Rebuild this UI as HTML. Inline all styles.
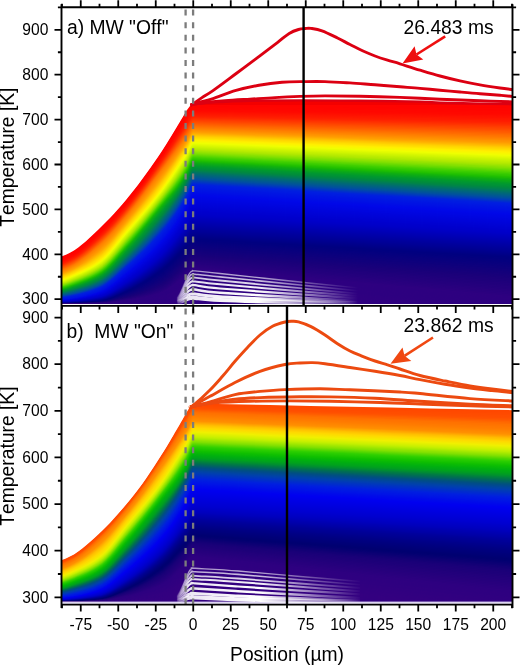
<!DOCTYPE html>
<html><head><meta charset="utf-8"><title>Temperature profiles</title>
<style>html,body{margin:0;padding:0;background:#fff;}svg{display:block;}text{font-kerning:none;}</style></head>
<body>
<svg width="520" height="666" viewBox="0 0 520 666">
<defs>
<clipPath id="ca"><rect x="61.5" y="7.3" width="451.0" height="298.59999999999997"/></clipPath>
<clipPath id="cb"><rect x="61.5" y="305.9" width="451.0" height="298.70000000000005"/></clipPath>
<linearGradient id="fadeA" gradientUnits="userSpaceOnUse" x1="176" y1="0" x2="358" y2="0">
<stop offset="0" stop-color="#fff" stop-opacity="0"/><stop offset="0.066" stop-color="#fff" stop-opacity="0.9"/><stop offset="0.45" stop-color="#fff" stop-opacity="1"/><stop offset="0.75" stop-color="#fff" stop-opacity="0.45"/><stop offset="1" stop-color="#fff" stop-opacity="0"/></linearGradient>
<linearGradient id="fadeB" gradientUnits="userSpaceOnUse" x1="176" y1="0" x2="362" y2="0">
<stop offset="0" stop-color="#fff" stop-opacity="0"/><stop offset="0.065" stop-color="#fff" stop-opacity="0.9"/><stop offset="0.45" stop-color="#fff" stop-opacity="1"/><stop offset="0.75" stop-color="#fff" stop-opacity="0.45"/><stop offset="1" stop-color="#fff" stop-opacity="0"/></linearGradient>
</defs>
<rect width="520" height="666" fill="#fff"/>
<g clip-path="url(#ca)">
<path fill="#ff0300" d="M58.0 258.0L62.0 256.3L66.0 254.7L70.0 252.8L74.0 250.5L78.0 247.8L82.0 244.6L86.0 241.2L90.0 237.5L94.0 233.7L98.0 229.9L102.0 226.1L106.0 222.1L110.0 218.0L114.0 213.7L118.0 209.3L122.0 204.7L126.0 200.0L130.0 195.1L134.0 190.1L138.0 184.9L142.0 179.6L146.0 174.1L150.0 168.5L154.0 162.8L158.0 156.9L162.0 151.0L166.0 144.8L170.0 138.3L172.0 135.0L173.5 132.5L175.0 130.0L176.5 127.5L178.0 125.0L179.5 122.6L181.0 120.1L182.5 117.5L184.0 114.9L185.5 112.4L187.0 110.1L188.5 107.9L190.0 106.0L191.5 104.5L192.0 104.1L193.0 103.5L230.0 103.5L270.0 103.5L310.0 103.5L350.0 103.5L390.0 103.5L430.0 103.5L470.0 103.5L514.0 103.5L514.0 303.5L58.0 303.5Z"/>
<path fill="#ff0400" d="M58.0 258.6L62.0 256.9L66.0 255.3L70.0 253.4L74.0 251.2L78.0 248.4L82.0 245.3L86.0 241.9L90.0 238.2L94.0 234.4L98.0 230.6L102.0 226.8L106.0 222.8L110.0 218.7L114.0 214.4L118.0 210.0L122.0 205.4L126.0 200.7L130.0 195.8L134.0 190.8L138.0 185.6L142.0 180.3L146.0 174.8L150.0 169.2L154.0 163.5L158.0 157.7L162.0 151.8L166.0 145.6L170.0 139.1L172.0 135.8L173.5 133.3L175.0 130.9L176.5 128.4L178.0 126.0L179.5 123.5L181.0 121.0L182.5 118.5L184.0 116.0L185.5 113.5L187.0 111.1L188.5 109.0L190.0 107.0L191.5 105.5L192.0 105.1L193.0 104.5L230.0 104.6L270.0 104.6L310.0 104.7L350.0 104.7L390.0 104.8L430.0 104.9L470.0 104.9L514.0 105.0L514.0 303.5L58.0 303.5Z"/>
<path fill="#ff0400" d="M58.0 259.2L62.0 257.5L66.0 255.9L70.0 254.0L74.0 251.8L78.0 249.1L82.0 245.9L86.0 242.5L90.0 238.9L94.0 235.1L98.0 231.3L102.0 227.5L106.0 223.5L110.0 219.4L114.0 215.1L118.0 210.7L122.0 206.1L126.0 201.4L130.0 196.5L134.0 191.5L138.0 186.3L142.0 181.0L146.0 175.5L150.0 169.9L154.0 164.2L158.0 158.4L162.0 152.5L166.0 146.4L170.0 140.0L172.0 136.7L173.5 134.2L175.0 131.8L176.5 129.3L178.0 126.9L179.5 124.5L181.0 122.0L182.5 119.5L184.0 117.0L185.5 114.5L187.0 112.2L188.5 110.0L190.0 108.0L191.5 106.5L192.0 106.1L193.0 105.5L230.0 105.6L270.0 105.7L310.0 105.9L350.0 106.0L390.0 106.1L430.0 106.2L470.0 106.4L514.0 106.5L514.0 303.5L58.0 303.5Z"/>
<path fill="#ff0500" d="M58.0 259.7L62.0 258.1L66.0 256.5L70.0 254.6L74.0 252.4L78.0 249.7L82.0 246.6L86.0 243.2L90.0 239.6L94.0 235.8L98.0 232.0L102.0 228.2L106.0 224.3L110.0 220.1L114.0 215.8L118.0 211.4L122.0 206.8L126.0 202.1L130.0 197.2L134.0 192.2L138.0 187.0L142.0 181.7L146.0 176.2L150.0 170.6L154.0 164.9L158.0 159.2L162.0 153.3L166.0 147.2L170.0 140.8L172.0 137.6L173.5 135.1L175.0 132.7L176.5 130.3L178.0 127.9L179.5 125.5L181.0 123.0L182.5 120.5L184.0 118.0L185.5 115.6L187.0 113.3L188.5 111.1L190.0 109.1L191.5 107.5L192.0 107.1L193.0 106.5L230.0 106.7L270.0 106.9L310.0 107.0L350.0 107.2L390.0 107.4L430.0 107.6L470.0 107.8L514.0 108.0L514.0 303.5L58.0 303.5Z"/>
<path fill="#ff0600" d="M58.0 260.3L62.0 258.7L66.0 257.1L70.0 255.3L74.0 253.0L78.0 250.3L82.0 247.2L86.0 243.9L90.0 240.3L94.0 236.5L98.0 232.7L102.0 228.9L106.0 225.0L110.0 220.9L114.0 216.5L118.0 212.1L122.0 207.5L126.0 202.8L130.0 197.9L134.0 192.9L138.0 187.7L142.0 182.4L146.0 176.9L150.0 171.3L154.0 165.7L158.0 159.9L162.0 154.1L166.0 148.0L170.0 141.7L172.0 138.5L173.5 136.0L175.0 133.6L176.5 131.2L178.0 128.8L179.5 126.4L181.0 124.0L182.5 121.5L184.0 119.1L185.5 116.6L187.0 114.3L188.5 112.1L190.0 110.1L191.5 108.5L192.0 108.1L193.0 107.5L230.0 107.7L270.0 108.0L310.0 108.2L350.0 108.5L390.0 108.7L430.0 109.0L470.0 109.2L514.0 109.5L514.0 303.5L58.0 303.5Z"/>
<path fill="#ff0700" d="M58.0 260.9L62.0 259.3L66.0 257.7L70.0 255.8L74.0 253.6L78.0 250.9L82.0 247.9L86.0 244.5L90.0 240.9L94.0 237.2L98.0 233.5L102.0 229.7L106.0 225.7L110.0 221.6L114.0 217.3L118.0 212.8L122.0 208.2L126.0 203.5L130.0 198.6L134.0 193.6L138.0 188.4L142.0 183.1L146.0 177.6L150.0 172.1L154.0 166.4L158.0 160.6L162.0 154.8L166.0 148.8L170.0 142.5L172.0 139.3L173.5 136.9L175.0 134.5L176.5 132.1L178.0 129.8L179.5 127.4L181.0 125.0L182.5 122.5L184.0 120.1L185.5 117.7L187.0 115.4L188.5 113.2L190.0 111.1L191.5 109.5L192.0 109.1L193.0 108.5L230.0 108.8L270.0 109.1L310.0 109.4L350.0 109.7L390.0 110.0L430.0 110.3L470.0 110.6L514.0 111.0L514.0 303.5L58.0 303.5Z"/>
<path fill="#ff0800" d="M58.0 261.5L62.0 259.9L66.0 258.3L70.0 256.4L74.0 254.2L78.0 251.5L82.0 248.5L86.0 245.2L90.0 241.6L94.0 237.9L98.0 234.2L102.0 230.4L106.0 226.4L110.0 222.3L114.0 218.0L118.0 213.5L122.0 208.9L126.0 204.2L130.0 199.3L134.0 194.3L138.0 189.1L142.0 183.8L146.0 178.3L150.0 172.8L154.0 167.1L158.0 161.4L162.0 155.6L166.0 149.6L170.0 143.4L172.0 140.2L173.5 137.8L175.0 135.4L176.5 133.1L178.0 130.7L179.5 128.4L181.0 126.0L182.5 123.6L184.0 121.1L185.5 118.7L187.0 116.4L188.5 114.3L190.0 112.2L191.5 110.5L192.0 110.1L193.0 109.5L230.0 109.8L270.0 110.2L310.0 110.6L350.0 110.9L390.0 111.3L430.0 111.7L470.0 112.1L514.0 112.5L514.0 303.5L58.0 303.5Z"/>
<path fill="#ff0a00" d="M58.0 262.0L62.0 260.5L66.0 258.8L70.0 257.0L74.0 254.8L78.0 252.2L82.0 249.1L86.0 245.8L90.0 242.3L94.0 238.6L98.0 234.9L102.0 231.1L106.0 227.1L110.0 223.0L114.0 218.7L118.0 214.2L122.0 209.6L126.0 204.9L130.0 200.0L134.0 195.0L138.0 189.8L142.0 184.5L146.0 179.0L150.0 173.5L154.0 167.8L158.0 162.1L162.0 156.3L166.0 150.4L170.0 144.2L172.0 141.1L173.5 138.7L175.0 136.4L176.5 134.0L178.0 131.7L179.5 129.3L181.0 127.0L182.5 124.6L184.0 122.2L185.5 119.8L187.0 117.5L188.5 115.3L190.0 113.2L191.5 111.6L192.0 111.1L193.0 110.5L230.0 110.9L270.0 111.3L310.0 111.7L350.0 112.2L390.0 112.6L430.0 113.0L470.0 113.4L514.0 113.9L514.0 303.5L58.0 303.5Z"/>
<path fill="#ff0e00" d="M58.0 262.6L62.0 261.0L66.0 259.4L70.0 257.6L74.0 255.4L78.0 252.8L82.0 249.8L86.0 246.5L90.0 242.9L94.0 239.3L98.0 235.6L102.0 231.8L106.0 227.8L110.0 223.7L114.0 219.4L118.0 214.9L122.0 210.3L126.0 205.5L130.0 200.7L134.0 195.7L138.0 190.5L142.0 185.2L146.0 179.7L150.0 174.2L154.0 168.5L158.0 162.8L162.0 157.1L166.0 151.2L170.0 145.1L172.0 141.9L173.5 139.6L175.0 137.3L176.5 134.9L178.0 132.6L179.5 130.3L181.0 128.0L182.5 125.6L184.0 123.2L185.5 120.8L187.0 118.6L188.5 116.4L190.0 114.2L191.5 112.6L192.0 112.1L193.0 111.5L230.0 111.9L270.0 112.4L310.0 112.9L350.0 113.3L390.0 113.8L430.0 114.3L470.0 114.8L514.0 115.3L514.0 303.5L58.0 303.5Z"/>
<path fill="#ff1200" d="M58.0 263.2L62.0 261.6L66.0 260.0L70.0 258.2L74.0 256.0L78.0 253.4L82.0 250.4L86.0 247.1L90.0 243.6L94.0 240.0L98.0 236.2L102.0 232.5L106.0 228.5L110.0 224.4L114.0 220.1L118.0 215.6L122.0 210.9L126.0 206.2L130.0 201.4L134.0 196.3L138.0 191.2L142.0 185.9L146.0 180.4L150.0 174.9L154.0 169.3L158.0 163.6L162.0 157.9L166.0 152.0L170.0 145.9L172.0 142.8L173.5 140.5L175.0 138.2L176.5 135.9L178.0 133.6L179.5 131.3L181.0 128.9L182.5 126.6L184.0 124.2L185.5 121.9L187.0 119.6L188.5 117.4L190.0 115.3L191.5 113.6L192.0 113.2L193.0 112.5L230.0 113.0L270.0 113.5L310.0 114.0L350.0 114.5L390.0 115.0L430.0 115.6L470.0 116.1L514.0 116.6L514.0 303.5L58.0 303.5Z"/>
<path fill="#ff1600" d="M58.0 263.7L62.0 262.2L66.0 260.6L70.0 258.8L74.0 256.6L78.0 254.0L82.0 251.0L86.0 247.7L90.0 244.3L94.0 240.6L98.0 236.9L102.0 233.2L106.0 229.2L110.0 225.1L114.0 220.7L118.0 216.3L122.0 211.6L126.0 206.9L130.0 202.1L134.0 197.0L138.0 191.9L142.0 186.5L146.0 181.1L150.0 175.6L154.0 170.0L158.0 164.3L162.0 158.6L166.0 152.8L170.0 146.7L172.0 143.7L173.5 141.4L175.0 139.1L176.5 136.8L178.0 134.5L179.5 132.2L181.0 129.9L182.5 127.6L184.0 125.3L185.5 122.9L187.0 120.7L188.5 118.5L190.0 116.3L191.5 114.6L192.0 114.2L193.0 113.5L230.0 114.0L270.0 114.6L310.0 115.1L350.0 115.7L390.0 116.3L430.0 116.8L470.0 117.4L514.0 118.0L514.0 303.5L58.0 303.5Z"/>
<path fill="#ff1a00" d="M58.0 264.3L62.0 262.7L66.0 261.1L70.0 259.4L74.0 257.2L78.0 254.6L82.0 251.6L86.0 248.4L90.0 244.9L94.0 241.3L98.0 237.6L102.0 233.9L106.0 229.9L110.0 225.8L114.0 221.4L118.0 216.9L122.0 212.3L126.0 207.6L130.0 202.7L134.0 197.7L138.0 192.5L142.0 187.2L146.0 181.8L150.0 176.3L154.0 170.7L158.0 165.1L162.0 159.4L166.0 153.6L170.0 147.6L172.0 144.6L173.5 142.3L175.0 140.0L176.5 137.7L178.0 135.5L179.5 133.2L181.0 130.9L182.5 128.6L184.0 126.3L185.5 124.0L187.0 121.7L188.5 119.6L190.0 117.3L191.5 115.6L192.0 115.2L193.0 114.5L230.0 115.1L270.0 115.7L310.0 116.3L350.0 116.9L390.0 117.5L430.0 118.1L470.0 118.7L514.0 119.4L514.0 303.5L58.0 303.5Z"/>
<path fill="#ff1e00" d="M58.0 264.8L62.0 263.3L66.0 261.7L70.0 259.9L74.0 257.8L78.0 255.2L82.0 252.2L86.0 249.0L90.0 245.6L94.0 242.0L98.0 238.3L102.0 234.6L106.0 230.6L110.0 226.5L114.0 222.1L118.0 217.6L122.0 213.0L126.0 208.3L130.0 203.4L134.0 198.4L138.0 193.2L142.0 187.9L146.0 182.5L150.0 177.0L154.0 171.4L158.0 165.8L162.0 160.1L166.0 154.4L170.0 148.4L172.0 145.4L173.5 143.2L175.0 140.9L176.5 138.7L178.0 136.4L179.5 134.2L181.0 131.9L182.5 129.6L184.0 127.3L185.5 125.0L187.0 122.8L188.5 120.6L190.0 118.4L191.5 116.6L192.0 116.2L193.0 115.5L230.0 116.1L270.0 116.8L310.0 117.4L350.0 118.1L390.0 118.7L430.0 119.4L470.0 120.0L514.0 120.8L514.0 303.5L58.0 303.5Z"/>
<path fill="#ff2400" d="M58.0 265.4L62.0 263.9L66.0 262.3L70.0 260.5L74.0 258.3L78.0 255.8L82.0 252.8L86.0 249.6L90.0 246.2L94.0 242.6L98.0 239.0L102.0 235.3L106.0 231.3L110.0 227.2L114.0 222.8L118.0 218.3L122.0 213.7L126.0 208.9L130.0 204.1L134.0 199.1L138.0 193.9L142.0 188.6L146.0 183.2L150.0 177.7L154.0 172.1L158.0 166.5L162.0 160.9L166.0 155.2L170.0 149.3L172.0 146.3L173.5 144.1L175.0 141.8L176.5 139.6L178.0 137.3L179.5 135.1L181.0 132.9L182.5 130.6L184.0 128.3L185.5 126.1L187.0 123.8L188.5 121.7L190.0 119.4L191.5 117.6L192.0 117.2L193.0 116.5L230.0 117.1L270.0 117.9L310.0 118.6L350.0 119.3L390.0 120.0L430.0 120.7L470.0 121.4L514.0 122.1L514.0 303.5L58.0 303.5Z"/>
<path fill="#ff2c00" d="M58.0 265.9L62.0 264.4L66.0 262.8L70.0 261.1L74.0 258.9L78.0 256.3L82.0 253.4L86.0 250.2L90.0 246.8L94.0 243.3L98.0 239.7L102.0 235.9L106.0 232.0L110.0 227.9L114.0 223.5L118.0 219.0L122.0 214.3L126.0 209.6L130.0 204.8L134.0 199.8L138.0 194.6L142.0 189.3L146.0 183.9L150.0 178.4L154.0 172.9L158.0 167.3L162.0 161.7L166.0 156.0L170.0 150.1L172.0 147.2L173.5 145.0L175.0 142.7L176.5 140.5L178.0 138.3L179.5 136.1L181.0 133.9L182.5 131.6L184.0 129.4L185.5 127.1L187.0 124.9L188.5 122.7L190.0 120.4L191.5 118.6L192.0 118.2L193.0 117.5L230.0 118.2L270.0 118.9L310.0 119.7L350.0 120.4L390.0 121.2L430.0 121.9L470.0 122.7L514.0 123.5L514.0 303.5L58.0 303.5Z"/>
<path fill="#ff3400" d="M58.0 266.5L62.0 265.0L66.0 263.4L70.0 261.6L74.0 259.5L78.0 256.9L82.0 254.0L86.0 250.9L90.0 247.5L94.0 244.0L98.0 240.3L102.0 236.6L106.0 232.7L110.0 228.5L114.0 224.2L118.0 219.7L122.0 215.0L126.0 210.3L130.0 205.5L134.0 200.4L138.0 195.3L142.0 190.0L146.0 184.6L150.0 179.1L154.0 173.6L158.0 168.0L162.0 162.4L166.0 156.8L170.0 151.0L172.0 148.1L173.5 145.8L175.0 143.6L176.5 141.4L178.0 139.2L179.5 137.0L181.0 134.8L182.5 132.6L184.0 130.4L185.5 128.2L187.0 125.9L188.5 123.8L190.0 121.5L191.5 119.6L192.0 119.2L193.0 118.5L230.0 119.2L270.0 120.0L310.0 120.8L350.0 121.6L390.0 122.4L430.0 123.2L470.0 124.0L514.0 124.9L514.0 303.5L58.0 303.5Z"/>
<path fill="#ff3c00" d="M58.0 267.0L62.0 265.5L66.0 263.9L70.0 262.2L74.0 260.0L78.0 257.5L82.0 254.6L86.0 251.5L90.0 248.1L94.0 244.6L98.0 241.0L102.0 237.3L106.0 233.4L110.0 229.2L114.0 224.9L118.0 220.3L122.0 215.7L126.0 211.0L130.0 206.1L134.0 201.1L138.0 196.0L142.0 190.7L146.0 185.3L150.0 179.8L154.0 174.3L158.0 168.7L162.0 163.2L166.0 157.6L170.0 151.8L172.0 148.9L173.5 146.7L175.0 144.6L176.5 142.4L178.0 140.2L179.5 138.0L181.0 135.8L182.5 133.6L184.0 131.4L185.5 129.2L187.0 127.0L188.5 124.8L190.0 122.5L191.5 120.6L192.0 120.2L193.0 119.5L230.0 120.3L270.0 121.1L310.0 121.9L350.0 122.8L390.0 123.6L430.0 124.5L470.0 125.3L514.0 126.2L514.0 303.5L58.0 303.5Z"/>
<path fill="#ff4400" d="M58.0 267.6L62.0 266.0L66.0 264.5L70.0 262.7L74.0 260.6L78.0 258.1L82.0 255.2L86.0 252.1L90.0 248.8L94.0 245.3L98.0 241.7L102.0 238.0L106.0 234.1L110.0 229.9L114.0 225.5L118.0 221.0L122.0 216.4L126.0 211.6L130.0 206.8L134.0 201.8L138.0 196.6L142.0 191.4L146.0 186.0L150.0 180.5L154.0 175.0L158.0 169.5L162.0 164.0L166.0 158.4L170.0 152.7L172.0 149.8L173.5 147.6L175.0 145.5L176.5 143.3L178.0 141.1L179.5 139.0L181.0 136.8L182.5 134.6L184.0 132.4L185.5 130.2L187.0 128.1L188.5 125.9L190.0 123.5L191.5 121.7L192.0 121.2L193.0 120.5L230.0 121.3L270.0 122.2L310.0 123.1L350.0 124.0L390.0 124.8L430.0 125.7L470.0 126.6L514.0 127.6L514.0 303.5L58.0 303.5Z"/>
<path fill="#ff4c00" d="M58.0 268.1L62.0 266.6L66.0 265.0L70.0 263.3L74.0 261.2L78.0 258.7L82.0 255.8L86.0 252.7L90.0 249.4L94.0 245.9L98.0 242.3L102.0 238.7L106.0 234.7L110.0 230.6L114.0 226.2L118.0 221.7L122.0 217.0L126.0 212.3L130.0 207.5L134.0 202.5L138.0 197.3L142.0 192.0L146.0 186.7L150.0 181.2L154.0 175.7L158.0 170.2L162.0 164.7L166.0 159.2L170.0 153.5L172.0 150.7L173.5 148.5L175.0 146.4L176.5 144.2L178.0 142.1L179.5 139.9L181.0 137.8L182.5 135.6L184.0 133.4L185.5 131.3L187.0 129.1L188.5 126.9L190.0 124.6L191.5 122.7L192.0 122.2L193.0 121.5L230.0 122.4L270.0 123.3L310.0 124.2L350.0 125.1L390.0 126.1L430.0 127.0L470.0 127.9L514.0 128.9L514.0 303.5L58.0 303.5Z"/>
<path fill="#ff5400" d="M58.0 268.6L62.0 267.1L66.0 265.6L70.0 263.8L74.0 261.7L78.0 259.2L82.0 256.4L86.0 253.3L90.0 250.0L94.0 246.5L98.0 243.0L102.0 239.3L106.0 235.4L110.0 231.2L114.0 226.9L118.0 222.3L122.0 217.7L126.0 213.0L130.0 208.1L134.0 203.1L138.0 198.0L142.0 192.7L146.0 187.4L150.0 181.9L154.0 176.4L158.0 171.0L162.0 165.5L166.0 160.0L170.0 154.4L172.0 151.5L173.5 149.4L175.0 147.3L176.5 145.1L178.0 143.0L179.5 140.9L181.0 138.7L182.5 136.6L184.0 134.5L185.5 132.3L187.0 130.1L188.5 128.0L190.0 125.6L191.5 123.7L192.0 123.2L193.0 122.5L230.0 123.4L270.0 124.4L310.0 125.3L350.0 126.3L390.0 127.3L430.0 128.3L470.0 129.2L514.0 130.3L514.0 303.5L58.0 303.5Z"/>
<path fill="#ff5c00" d="M58.0 269.1L62.0 267.7L66.0 266.1L70.0 264.4L74.0 262.3L78.0 259.8L82.0 257.0L86.0 253.9L90.0 250.6L94.0 247.2L98.0 243.6L102.0 240.0L106.0 236.1L110.0 231.9L114.0 227.5L118.0 223.0L122.0 218.3L126.0 213.6L130.0 208.8L134.0 203.8L138.0 198.7L142.0 193.4L146.0 188.0L150.0 182.6L154.0 177.2L158.0 171.7L162.0 166.2L166.0 160.8L170.0 155.2L172.0 152.4L173.5 150.3L175.0 148.2L176.5 146.1L178.0 143.9L179.5 141.8L181.0 139.7L182.5 137.6L184.0 135.5L185.5 133.4L187.0 131.2L188.5 129.0L190.0 126.6L191.5 124.7L192.0 124.2L193.0 123.5L230.0 124.4L270.0 125.5L310.0 126.5L350.0 127.5L390.0 128.5L430.0 129.5L470.0 130.5L514.0 131.7L514.0 303.5L58.0 303.5Z"/>
<path fill="#ff6400" d="M58.0 269.7L62.0 268.2L66.0 266.6L70.0 264.9L74.0 262.8L78.0 260.3L82.0 257.6L86.0 254.5L90.0 251.2L94.0 247.8L98.0 244.3L102.0 240.6L106.0 236.7L110.0 232.6L114.0 228.2L118.0 223.7L122.0 219.0L126.0 214.3L130.0 209.5L134.0 204.5L138.0 199.3L142.0 194.1L146.0 188.7L150.0 183.3L154.0 177.9L158.0 172.4L162.0 167.0L166.0 161.6L170.0 156.0L172.0 153.3L173.5 151.2L175.0 149.1L176.5 147.0L178.0 144.9L179.5 142.8L181.0 140.7L182.5 138.6L184.0 136.5L185.5 134.4L187.0 132.2L188.5 130.1L190.0 127.6L191.5 125.7L192.0 125.2L193.0 124.5L230.0 125.5L270.0 126.5L310.0 127.6L350.0 128.7L390.0 129.7L430.0 130.8L470.0 131.8L514.0 133.0L514.0 303.5L58.0 303.5Z"/>
<path fill="#ff6c00" d="M58.0 270.2L62.0 268.7L66.0 267.2L70.0 265.4L74.0 263.4L78.0 260.9L82.0 258.1L86.0 255.1L90.0 251.9L94.0 248.4L98.0 244.9L102.0 241.3L106.0 237.4L110.0 233.2L114.0 228.9L118.0 224.3L122.0 219.7L126.0 214.9L130.0 210.1L134.0 205.2L138.0 200.0L142.0 194.8L146.0 189.4L150.0 184.0L154.0 178.6L158.0 173.2L162.0 167.8L166.0 162.4L170.0 156.9L172.0 154.1L173.5 152.1L175.0 150.0L176.5 147.9L178.0 145.8L179.5 143.7L181.0 141.7L182.5 139.6L184.0 137.5L185.5 135.4L187.0 133.3L188.5 131.1L190.0 128.7L191.5 126.7L192.0 126.2L193.0 125.5L230.0 126.5L270.0 127.6L310.0 128.7L350.0 129.8L390.0 130.9L430.0 132.0L470.0 133.1L514.0 134.3L514.0 303.5L58.0 303.5Z"/>
<path fill="#ff7400" d="M58.0 270.7L62.0 269.2L66.0 267.7L70.0 266.0L74.0 263.9L78.0 261.5L82.0 258.7L86.0 255.7L90.0 252.5L94.0 249.1L98.0 245.6L102.0 242.0L106.0 238.1L110.0 233.9L114.0 229.5L118.0 225.0L122.0 220.3L126.0 215.6L130.0 210.8L134.0 205.8L138.0 200.7L142.0 195.4L146.0 190.1L150.0 184.7L154.0 179.3L158.0 173.9L162.0 168.5L166.0 163.2L170.0 157.7L172.0 155.0L173.5 153.0L175.0 150.9L176.5 148.8L178.0 146.8L179.5 144.7L181.0 142.6L182.5 140.6L184.0 138.5L185.5 136.5L187.0 134.3L188.5 132.1L190.0 129.7L191.5 127.7L192.0 127.2L193.0 126.5L230.0 127.6L270.0 128.7L310.0 129.8L350.0 131.0L390.0 132.1L430.0 133.3L470.0 134.4L514.0 135.6L514.0 303.5L58.0 303.5Z"/>
<path fill="#ff7c00" d="M58.0 271.2L62.0 269.7L66.0 268.2L70.0 266.5L74.0 264.4L78.0 262.0L82.0 259.3L86.0 256.3L90.0 253.1L94.0 249.7L98.0 246.2L102.0 242.6L106.0 238.7L110.0 234.6L114.0 230.2L118.0 225.6L122.0 221.0L126.0 216.3L130.0 211.5L134.0 206.5L138.0 201.4L142.0 196.1L146.0 190.8L150.0 185.4L154.0 180.0L158.0 174.6L162.0 169.3L166.0 164.0L170.0 158.6L172.0 155.9L173.5 153.8L175.0 151.8L176.5 149.8L178.0 147.7L179.5 145.7L181.0 143.6L182.5 141.6L184.0 139.6L185.5 137.5L187.0 135.4L188.5 133.2L190.0 130.7L191.5 128.7L192.0 128.2L193.0 127.5L230.0 128.6L270.0 129.8L310.0 131.0L350.0 132.1L390.0 133.3L430.0 134.5L470.0 135.7L514.0 137.0L514.0 303.5L58.0 303.5Z"/>
<path fill="#ff8400" d="M58.0 271.8L62.0 270.4L66.0 268.9L70.0 267.2L74.0 265.1L78.0 262.7L82.0 260.1L86.0 257.1L90.0 254.0L94.0 250.6L98.0 247.2L102.0 243.6L106.0 239.8L110.0 235.6L114.0 231.2L118.0 226.6L122.0 221.9L126.0 217.2L130.0 212.4L134.0 207.5L138.0 202.4L142.0 197.2L146.0 191.9L150.0 186.5L154.0 181.2L158.0 175.8L162.0 170.5L166.0 165.1L170.0 159.8L172.0 157.1L173.5 155.0L175.0 153.0L176.5 150.9L178.0 148.9L179.5 146.8L181.0 144.8L182.5 142.8L184.0 140.7L185.5 138.7L187.0 136.5L188.5 134.3L190.0 131.8L191.5 129.7L192.0 129.2L193.0 128.5L230.0 129.6L270.0 130.8L310.0 132.1L350.0 133.3L390.0 134.5L430.0 135.7L470.0 136.9L514.0 138.3L514.0 303.5L58.0 303.5Z"/>
<path fill="#ff8c00" d="M58.0 272.6L62.0 271.2L66.0 269.7L70.0 268.0L74.0 266.0L78.0 263.6L82.0 261.0L86.0 258.2L90.0 255.1L94.0 251.9L98.0 248.5L102.0 245.0L106.0 241.2L110.0 237.0L114.0 232.5L118.0 227.9L122.0 223.2L126.0 218.5L130.0 213.7L134.0 208.8L138.0 203.8L142.0 198.6L146.0 193.4L150.0 188.1L154.0 182.7L158.0 177.4L162.0 172.1L166.0 166.7L170.0 161.3L172.0 158.6L173.5 156.5L175.0 154.4L176.5 152.4L178.0 150.3L179.5 148.2L181.0 146.1L182.5 144.1L184.0 142.0L185.5 139.9L187.0 137.8L188.5 135.5L190.0 132.9L191.5 130.8L192.0 130.3L193.0 129.5L230.0 130.7L270.0 131.9L310.0 133.2L350.0 134.4L390.0 135.7L430.0 137.0L470.0 138.2L514.0 139.6L514.0 303.5L58.0 303.5Z"/>
<path fill="#ff9400" d="M58.0 273.4L62.0 272.0L66.0 270.5L70.0 268.8L74.0 266.8L78.0 264.5L82.0 262.0L86.0 259.2L90.0 256.3L94.0 253.1L98.0 249.9L102.0 246.4L106.0 242.6L110.0 238.4L114.0 233.9L118.0 229.2L122.0 224.5L126.0 219.7L130.0 215.0L134.0 210.1L138.0 205.1L142.0 200.0L146.0 194.8L150.0 189.6L154.0 184.3L158.0 179.0L162.0 173.7L166.0 168.3L170.0 162.8L172.0 160.1L173.5 158.0L175.0 155.9L176.5 153.8L178.0 151.7L179.5 149.6L181.0 147.5L182.5 145.4L184.0 143.3L185.5 141.2L187.0 139.0L188.5 136.7L190.0 134.0L191.5 131.8L192.0 131.3L193.0 130.5L230.0 131.7L270.0 133.0L310.0 134.3L350.0 135.6L390.0 136.9L430.0 138.2L470.0 139.5L514.0 140.9L514.0 303.5L58.0 303.5Z"/>
<path fill="#ff9c00" d="M58.0 274.1L62.0 272.7L66.0 271.3L70.0 269.6L74.0 267.6L78.0 265.4L82.0 262.9L86.0 260.3L90.0 257.4L94.0 254.4L98.0 251.2L102.0 247.8L106.0 244.0L110.0 239.7L114.0 235.2L118.0 230.5L122.0 225.8L126.0 221.0L130.0 216.3L134.0 211.4L138.0 206.5L142.0 201.4L146.0 196.3L150.0 191.1L154.0 185.9L158.0 180.6L162.0 175.3L166.0 169.9L170.0 164.3L172.0 161.5L173.5 159.4L175.0 157.3L176.5 155.2L178.0 153.1L179.5 150.9L181.0 148.8L182.5 146.7L184.0 144.7L185.5 142.5L187.0 140.3L188.5 137.9L190.0 135.2L191.5 132.9L192.0 132.3L193.0 131.5L230.0 132.7L270.0 134.1L310.0 135.4L350.0 136.8L390.0 138.1L430.0 139.4L470.0 140.8L514.0 142.3L514.0 303.5L58.0 303.5Z"/>
<path fill="#ffa600" d="M58.0 274.9L62.0 273.5L66.0 272.0L70.0 270.4L74.0 268.4L78.0 266.3L82.0 263.9L86.0 261.3L90.0 258.6L94.0 255.6L98.0 252.5L102.0 249.1L106.0 245.3L110.0 241.1L114.0 236.5L118.0 231.8L122.0 227.0L126.0 222.2L130.0 217.5L134.0 212.7L138.0 207.8L142.0 202.8L146.0 197.7L150.0 192.6L154.0 187.4L158.0 182.1L162.0 176.8L166.0 171.4L170.0 165.8L172.0 163.0L173.5 160.9L175.0 158.7L176.5 156.6L178.0 154.4L179.5 152.3L181.0 150.2L182.5 148.1L184.0 146.0L185.5 143.8L187.0 141.5L188.5 139.1L190.0 136.3L191.5 133.9L192.0 133.3L193.0 132.5L230.0 133.8L270.0 135.1L310.0 136.5L350.0 137.9L390.0 139.3L430.0 140.6L470.0 142.0L514.0 143.5L514.0 303.5L58.0 303.5Z"/>
<path fill="#ffb200" d="M58.0 275.6L62.0 274.3L66.0 272.8L70.0 271.1L74.0 269.2L78.0 267.1L82.0 264.8L86.0 262.4L90.0 259.7L94.0 256.8L98.0 253.8L102.0 250.5L106.0 246.7L110.0 242.4L114.0 237.9L118.0 233.1L122.0 228.2L126.0 223.5L130.0 218.8L134.0 214.0L138.0 209.1L142.0 204.2L146.0 199.2L150.0 194.1L154.0 188.9L158.0 183.7L162.0 178.4L166.0 172.9L170.0 167.3L172.0 164.5L173.5 162.3L175.0 160.2L176.5 158.0L178.0 155.8L179.5 153.6L181.0 151.5L182.5 149.4L184.0 147.3L185.5 145.1L187.0 142.8L188.5 140.3L190.0 137.4L191.5 135.0L192.0 134.4L193.0 133.5L230.0 134.8L270.0 136.2L310.0 137.6L350.0 139.0L390.0 140.4L430.0 141.7L470.0 143.1L514.0 144.7L514.0 303.5L58.0 303.5Z"/>
<path fill="#ffbe00" d="M58.0 276.4L62.0 275.0L66.0 273.6L70.0 271.9L74.0 270.0L78.0 268.0L82.0 265.8L86.0 263.4L90.0 260.8L94.0 258.0L98.0 255.1L102.0 251.8L106.0 248.0L110.0 243.8L114.0 239.2L118.0 234.3L122.0 229.5L126.0 224.7L130.0 220.0L134.0 215.2L138.0 210.4L142.0 205.6L146.0 200.6L150.0 195.6L154.0 190.5L158.0 185.3L162.0 180.0L166.0 174.5L170.0 168.8L172.0 165.9L173.5 163.8L175.0 161.6L176.5 159.4L178.0 157.2L179.5 155.0L181.0 152.8L182.5 150.7L184.0 148.5L185.5 146.3L187.0 144.0L188.5 141.5L190.0 138.5L191.5 136.0L192.0 135.4L193.0 134.5L230.0 135.8L270.0 137.2L310.0 138.6L350.0 140.0L390.0 141.5L430.0 142.9L470.0 144.3L514.0 145.8L514.0 303.5L58.0 303.5Z"/>
<path fill="#ffca00" d="M58.0 277.1L62.0 275.8L66.0 274.3L70.0 272.7L74.0 270.8L78.0 268.8L82.0 266.7L86.0 264.4L90.0 261.9L94.0 259.2L98.0 256.3L102.0 253.2L106.0 249.4L110.0 245.1L114.0 240.4L118.0 235.6L122.0 230.7L126.0 225.9L130.0 221.2L134.0 216.5L138.0 211.7L142.0 206.9L146.0 202.0L150.0 197.0L154.0 192.0L158.0 186.8L162.0 181.5L166.0 176.0L170.0 170.3L172.0 167.4L173.5 165.2L175.0 163.0L176.5 160.8L178.0 158.5L179.5 156.3L181.0 154.1L182.5 152.0L184.0 149.8L185.5 147.6L187.0 145.2L188.5 142.7L190.0 139.6L191.5 137.0L192.0 136.4L193.0 135.5L230.0 136.8L270.0 138.3L310.0 139.7L350.0 141.1L390.0 142.6L430.0 144.0L470.0 145.4L514.0 147.0L514.0 303.5L58.0 303.5Z"/>
<path fill="#ffd500" d="M58.0 277.8L62.0 276.5L66.0 275.1L70.0 273.4L74.0 271.6L78.0 269.7L82.0 267.6L86.0 265.4L90.0 263.0L94.0 260.4L98.0 257.6L102.0 254.5L106.0 250.7L110.0 246.4L114.0 241.7L118.0 236.8L122.0 231.9L126.0 227.1L130.0 222.4L134.0 217.8L138.0 213.0L142.0 208.3L146.0 203.4L150.0 198.5L154.0 193.5L158.0 188.3L162.0 183.0L166.0 177.5L170.0 171.8L172.0 168.8L173.5 166.6L175.0 164.4L176.5 162.1L178.0 159.9L179.5 157.7L181.0 155.5L182.5 153.3L184.0 151.1L185.5 148.9L187.0 146.5L188.5 143.9L190.0 140.7L191.5 138.1L192.0 137.4L193.0 136.5L230.0 137.8L270.0 139.3L310.0 140.8L350.0 142.2L390.0 143.7L430.0 145.1L470.0 146.6L514.0 148.2L514.0 303.5L58.0 303.5Z"/>
<path fill="#ffde00" d="M58.0 278.6L62.0 277.3L66.0 275.8L70.0 274.2L74.0 272.4L78.0 270.5L82.0 268.5L86.0 266.4L90.0 264.1L94.0 261.6L98.0 258.8L102.0 255.8L106.0 252.0L110.0 247.7L114.0 243.0L118.0 238.1L122.0 233.1L126.0 228.3L130.0 223.7L134.0 219.0L138.0 214.3L142.0 209.6L146.0 204.8L150.0 200.0L154.0 195.0L158.0 189.8L162.0 184.6L166.0 179.0L170.0 173.2L172.0 170.3L173.5 168.0L175.0 165.8L176.5 163.5L178.0 161.3L179.5 159.0L181.0 156.8L182.5 154.6L184.0 152.4L185.5 150.1L187.0 147.7L188.5 145.1L190.0 141.9L191.5 139.1L192.0 138.5L193.0 137.5L230.0 138.9L270.0 140.3L310.0 141.8L350.0 143.3L390.0 144.8L430.0 146.3L470.0 147.7L514.0 149.4L514.0 303.5L58.0 303.5Z"/>
<path fill="#ffe700" d="M58.0 279.3L62.0 278.0L66.0 276.6L70.0 274.9L74.0 273.2L78.0 271.3L82.0 269.4L86.0 267.4L90.0 265.2L94.0 262.7L98.0 260.1L102.0 257.1L106.0 253.3L110.0 249.0L114.0 244.3L118.0 239.3L122.0 234.3L126.0 229.5L130.0 224.9L134.0 220.2L138.0 215.6L142.0 210.9L146.0 206.2L150.0 201.4L154.0 196.4L158.0 191.3L162.0 186.1L166.0 180.5L170.0 174.7L172.0 171.7L173.5 169.4L175.0 167.2L176.5 164.9L178.0 162.6L179.5 160.3L181.0 158.1L182.5 155.9L184.0 153.7L185.5 151.4L187.0 148.9L188.5 146.3L190.0 143.0L191.5 140.2L192.0 139.5L193.0 138.5L230.0 139.9L270.0 141.4L310.0 142.9L350.0 144.4L390.0 145.9L430.0 147.4L470.0 148.9L514.0 150.5L514.0 303.5L58.0 303.5Z"/>
<path fill="#fff000" d="M58.0 280.0L62.0 278.7L66.0 277.3L70.0 275.7L74.0 273.9L78.0 272.1L82.0 270.3L86.0 268.3L90.0 266.2L94.0 263.9L98.0 261.3L102.0 258.3L106.0 254.6L110.0 250.3L114.0 245.5L118.0 240.5L122.0 235.5L126.0 230.7L130.0 226.0L134.0 221.5L138.0 216.9L142.0 212.3L146.0 207.6L150.0 202.8L154.0 197.9L158.0 192.8L162.0 187.6L166.0 182.0L170.0 176.1L172.0 173.1L173.5 170.9L175.0 168.6L176.5 166.2L178.0 163.9L179.5 161.6L181.0 159.4L182.5 157.2L184.0 154.9L185.5 152.6L187.0 150.1L188.5 147.4L190.0 144.1L191.5 141.2L192.0 140.5L193.0 139.5L230.0 140.9L270.0 142.4L310.0 143.9L350.0 145.5L390.0 147.0L430.0 148.5L470.0 150.0L514.0 151.7L514.0 303.5L58.0 303.5Z"/>
<path fill="#faf500" d="M58.0 280.5L62.0 279.2L66.0 277.8L70.0 276.2L74.0 274.5L78.0 272.7L82.0 270.9L86.0 269.0L90.0 266.9L94.0 264.6L98.0 262.0L102.0 259.0L106.0 255.3L110.0 251.0L114.0 246.3L118.0 241.3L122.0 236.3L126.0 231.5L130.0 226.9L134.0 222.3L138.0 217.7L142.0 213.1L146.0 208.4L150.0 203.6L154.0 198.7L158.0 193.6L162.0 188.4L166.0 182.9L170.0 177.1L172.0 174.1L173.5 171.8L175.0 169.5L176.5 167.3L178.0 165.0L179.5 162.7L181.0 160.4L182.5 158.2L184.0 156.0L185.5 153.6L187.0 151.1L188.5 148.4L190.0 145.1L191.5 142.2L192.0 141.5L193.0 140.5L230.0 141.9L270.0 143.5L310.0 145.0L350.0 146.5L390.0 148.1L430.0 149.6L470.0 151.1L514.0 152.8L514.0 303.5L58.0 303.5Z"/>
<path fill="#f5fa00" d="M58.0 281.0L62.0 279.7L66.0 278.4L70.0 276.8L74.0 275.0L78.0 273.3L82.0 271.5L86.0 269.6L90.0 267.5L94.0 265.2L98.0 262.7L102.0 259.7L106.0 256.1L110.0 251.8L114.0 247.1L118.0 242.1L122.0 237.1L126.0 232.3L130.0 227.7L134.0 223.1L138.0 218.5L142.0 213.9L146.0 209.2L150.0 204.4L154.0 199.5L158.0 194.5L162.0 189.2L166.0 183.7L170.0 178.0L172.0 175.0L173.5 172.8L175.0 170.5L176.5 168.3L178.0 166.0L179.5 163.7L181.0 161.4L182.5 159.2L184.0 157.0L185.5 154.6L187.0 152.1L188.5 149.4L190.0 146.0L191.5 143.2L192.0 142.5L193.0 141.5L230.0 142.9L270.0 144.5L310.0 146.0L350.0 147.6L390.0 149.1L430.0 150.7L470.0 152.2L514.0 154.0L514.0 303.5L58.0 303.5Z"/>
<path fill="#efff00" d="M58.0 281.5L62.0 280.3L66.0 278.9L70.0 277.3L74.0 275.6L78.0 273.9L82.0 272.1L86.0 270.2L90.0 268.1L94.0 265.9L98.0 263.3L102.0 260.4L106.0 256.8L110.0 252.5L114.0 247.8L118.0 242.9L122.0 237.9L126.0 233.1L130.0 228.5L134.0 224.0L138.0 219.4L142.0 214.7L146.0 210.0L150.0 205.2L154.0 200.3L158.0 195.3L162.0 190.0L166.0 184.6L170.0 178.9L172.0 176.0L173.5 173.8L175.0 171.5L176.5 169.3L178.0 167.0L179.5 164.7L181.0 162.5L182.5 160.3L184.0 158.0L185.5 155.6L187.0 153.1L188.5 150.4L190.0 147.0L191.5 144.2L192.0 143.5L193.0 142.5L230.0 144.0L270.0 145.5L310.0 147.1L350.0 148.7L390.0 150.2L430.0 151.8L470.0 153.4L514.0 155.1L514.0 303.5L58.0 303.5Z"/>
<path fill="#e6fc00" d="M58.0 281.9L62.0 280.8L66.0 279.4L70.0 277.8L74.0 276.1L78.0 274.4L82.0 272.7L86.0 270.8L90.0 268.8L94.0 266.5L98.0 264.0L102.0 261.1L106.0 257.5L110.0 253.3L114.0 248.6L118.0 243.7L122.0 238.7L126.0 234.0L130.0 229.4L134.0 224.8L138.0 220.2L142.0 215.5L146.0 210.8L150.0 206.0L154.0 201.1L158.0 196.1L162.0 190.9L166.0 185.5L170.0 179.8L172.0 176.9L173.5 174.7L175.0 172.5L176.5 170.3L178.0 168.0L179.5 165.7L181.0 163.5L182.5 161.3L184.0 159.0L185.5 156.7L187.0 154.1L188.5 151.4L190.0 148.0L191.5 145.2L192.0 144.5L193.0 143.5L230.0 145.0L270.0 146.5L310.0 148.1L350.0 149.7L390.0 151.3L430.0 152.9L470.0 154.5L514.0 156.2L514.0 303.5L58.0 303.5Z"/>
<path fill="#ddf900" d="M58.0 282.4L62.0 281.2L66.0 279.9L70.0 278.3L74.0 276.7L78.0 275.0L82.0 273.2L86.0 271.4L90.0 269.4L94.0 267.2L98.0 264.7L102.0 261.8L106.0 258.2L110.0 254.0L114.0 249.3L118.0 244.5L122.0 239.5L126.0 234.8L130.0 230.2L134.0 225.6L138.0 221.0L142.0 216.3L146.0 211.6L150.0 206.8L154.0 201.9L158.0 196.8L162.0 191.7L166.0 186.3L170.0 180.7L172.0 177.9L173.5 175.7L175.0 173.5L176.5 171.3L178.0 169.0L179.5 166.8L181.0 164.5L182.5 162.3L184.0 160.0L185.5 157.7L187.0 155.1L188.5 152.4L190.0 149.0L191.5 146.1L192.0 145.5L193.0 144.5L230.0 146.0L270.0 147.6L310.0 149.2L350.0 150.8L390.0 152.4L430.0 154.0L470.0 155.6L514.0 157.3L514.0 303.5L58.0 303.5Z"/>
<path fill="#d4f600" d="M58.0 282.9L62.0 281.7L66.0 280.4L70.0 278.9L74.0 277.2L78.0 275.5L82.0 273.8L86.0 272.0L90.0 270.0L94.0 267.8L98.0 265.3L102.0 262.5L106.0 258.9L110.0 254.7L114.0 250.1L118.0 245.2L122.0 240.3L126.0 235.6L130.0 231.0L134.0 226.4L138.0 221.8L142.0 217.1L146.0 212.4L150.0 207.6L154.0 202.7L158.0 197.6L162.0 192.5L166.0 187.2L170.0 181.6L172.0 178.8L173.5 176.7L175.0 174.5L176.5 172.3L178.0 170.0L179.5 167.8L181.0 165.6L182.5 163.3L184.0 161.0L185.5 158.7L187.0 156.1L188.5 153.4L190.0 150.0L191.5 147.1L192.0 146.5L193.0 145.5L230.0 147.0L270.0 148.6L310.0 150.2L350.0 151.8L390.0 153.5L430.0 155.1L470.0 156.7L514.0 158.5L514.0 303.5L58.0 303.5Z"/>
<path fill="#cbf300" d="M58.0 283.4L62.0 282.2L66.0 280.9L70.0 279.4L74.0 277.7L78.0 276.1L82.0 274.4L86.0 272.6L90.0 270.6L94.0 268.4L98.0 266.0L102.0 263.2L106.0 259.6L110.0 255.5L114.0 250.9L118.0 246.0L122.0 241.1L126.0 236.4L130.0 231.8L134.0 227.2L138.0 222.6L142.0 217.9L146.0 213.2L150.0 208.4L154.0 203.5L158.0 198.4L162.0 193.3L166.0 188.0L170.0 182.5L172.0 179.7L173.5 177.6L175.0 175.5L176.5 173.3L178.0 171.0L179.5 168.8L181.0 166.6L182.5 164.3L184.0 162.1L185.5 159.7L187.0 157.1L188.5 154.4L190.0 151.0L191.5 148.1L192.0 147.5L193.0 146.5L230.0 148.0L270.0 149.6L310.0 151.3L350.0 152.9L390.0 154.5L430.0 156.2L470.0 157.8L514.0 159.6L514.0 303.5L58.0 303.5Z"/>
<path fill="#c2ef00" d="M58.0 283.8L62.0 282.7L66.0 281.4L70.0 279.9L74.0 278.3L78.0 276.6L82.0 274.9L86.0 273.1L90.0 271.2L94.0 269.1L98.0 266.7L102.0 263.9L106.0 260.3L110.0 256.2L114.0 251.6L118.0 246.8L122.0 241.9L126.0 237.2L130.0 232.6L134.0 228.0L138.0 223.4L142.0 218.7L146.0 214.0L150.0 209.2L154.0 204.2L158.0 199.2L162.0 194.1L166.0 188.9L170.0 183.5L172.0 180.7L173.5 178.6L175.0 176.4L176.5 174.3L178.0 172.1L179.5 169.8L181.0 167.6L182.5 165.4L184.0 163.1L185.5 160.7L187.0 158.1L188.5 155.4L190.0 151.9L191.5 149.1L192.0 148.4L193.0 147.5L230.0 149.0L270.0 150.7L310.0 152.3L350.0 154.0L390.0 155.7L430.0 157.3L470.0 159.0L514.0 160.8L514.0 303.5L58.0 303.5Z"/>
<path fill="#b9ec00" d="M58.0 284.3L62.0 283.2L66.0 281.9L70.0 280.4L74.0 278.8L78.0 277.2L82.0 275.5L86.0 273.7L90.0 271.8L94.0 269.7L98.0 267.3L102.0 264.5L106.0 261.0L110.0 256.9L114.0 252.3L118.0 247.5L122.0 242.7L126.0 238.0L130.0 233.4L134.0 228.8L138.0 224.2L142.0 219.5L146.0 214.8L150.0 209.9L154.0 205.0L158.0 200.0L162.0 194.9L166.0 189.7L170.0 184.4L172.0 181.6L173.5 179.5L175.0 177.4L176.5 175.2L178.0 173.1L179.5 170.8L181.0 168.6L182.5 166.4L184.0 164.1L185.5 161.7L187.0 159.1L188.5 156.4L190.0 152.9L191.5 150.1L192.0 149.4L193.0 148.5L230.0 150.1L270.0 151.8L310.0 153.4L350.0 155.1L390.0 156.8L430.0 158.5L470.0 160.2L514.0 162.1L514.0 303.5L58.0 303.5Z"/>
<path fill="#b0e800" d="M58.0 284.7L62.0 283.6L66.0 282.4L70.0 280.9L74.0 279.3L78.0 277.7L82.0 276.1L86.0 274.3L90.0 272.4L94.0 270.3L98.0 267.9L102.0 265.2L106.0 261.7L110.0 257.6L114.0 253.1L118.0 248.3L122.0 243.4L126.0 238.7L130.0 234.2L134.0 229.6L138.0 225.0L142.0 220.3L146.0 215.5L150.0 210.7L154.0 205.8L158.0 200.8L162.0 195.7L166.0 190.6L170.0 185.3L172.0 182.5L173.5 180.5L175.0 178.4L176.5 176.2L178.0 174.1L179.5 171.8L181.0 169.6L182.5 167.4L184.0 165.1L185.5 162.7L187.0 160.1L188.5 157.3L190.0 153.9L191.5 151.1L192.0 150.4L193.0 149.5L230.0 151.1L270.0 152.8L310.0 154.5L350.0 156.3L390.0 158.0L430.0 159.7L470.0 161.4L514.0 163.3L514.0 303.5L58.0 303.5Z"/>
<path fill="#a2e600" d="M58.0 285.2L62.0 284.1L66.0 282.9L70.0 281.4L74.0 279.8L78.0 278.2L82.0 276.6L86.0 274.9L90.0 273.0L94.0 270.9L98.0 268.6L102.0 265.9L106.0 262.4L110.0 258.3L114.0 253.8L118.0 249.0L122.0 244.2L126.0 239.5L130.0 235.0L134.0 230.4L138.0 225.8L142.0 221.1L146.0 216.3L150.0 211.5L154.0 206.6L158.0 201.6L162.0 196.5L166.0 191.4L170.0 186.2L172.0 183.5L173.5 181.4L175.0 179.3L176.5 177.2L178.0 175.1L179.5 172.9L181.0 170.6L182.5 168.4L184.0 166.1L185.5 163.7L187.0 161.1L188.5 158.3L190.0 154.9L191.5 152.1L192.0 151.4L193.0 150.5L230.0 152.1L270.0 153.9L310.0 155.6L350.0 157.4L390.0 159.2L430.0 160.9L470.0 162.7L514.0 164.6L514.0 303.5L58.0 303.5Z"/>
<path fill="#95e300" d="M58.0 285.6L62.0 284.6L66.0 283.3L70.0 281.9L74.0 280.3L78.0 278.8L82.0 277.1L86.0 275.4L90.0 273.6L94.0 271.5L98.0 269.2L102.0 266.5L106.0 263.1L110.0 259.0L114.0 254.5L118.0 249.8L122.0 245.0L126.0 240.3L130.0 235.8L134.0 231.2L138.0 226.6L142.0 221.9L146.0 217.1L150.0 212.3L154.0 207.4L158.0 202.4L162.0 197.3L166.0 192.3L170.0 187.1L172.0 184.4L173.5 182.4L175.0 180.3L176.5 178.2L178.0 176.1L179.5 173.9L181.0 171.6L182.5 169.4L184.0 167.1L185.5 164.7L187.0 162.1L188.5 159.3L190.0 155.9L191.5 153.1L192.0 152.4L193.0 151.5L230.0 153.2L270.0 155.0L310.0 156.7L350.0 158.5L390.0 160.3L430.0 162.1L470.0 163.9L514.0 165.9L514.0 303.5L58.0 303.5Z"/>
<path fill="#87e100" d="M58.0 286.1L62.0 285.0L66.0 283.8L70.0 282.4L74.0 280.8L78.0 279.3L82.0 277.7L86.0 276.0L90.0 274.2L94.0 272.1L98.0 269.8L102.0 267.2L106.0 263.7L110.0 259.7L114.0 255.2L118.0 250.5L122.0 245.7L126.0 241.1L130.0 236.6L134.0 232.0L138.0 227.4L142.0 222.7L146.0 217.9L150.0 213.0L154.0 208.1L158.0 203.2L162.0 198.2L166.0 193.1L170.0 188.0L172.0 185.3L173.5 183.3L175.0 181.3L176.5 179.2L178.0 177.1L179.5 174.9L181.0 172.7L182.5 170.4L184.0 168.1L185.5 165.7L187.0 163.1L188.5 160.3L190.0 156.9L191.5 154.0L192.0 153.4L193.0 152.5L230.0 154.2L270.0 156.0L310.0 157.8L350.0 159.7L390.0 161.5L430.0 163.3L470.0 165.1L514.0 167.2L514.0 303.5L58.0 303.5Z"/>
<path fill="#78de00" d="M58.0 286.5L62.0 285.5L66.0 284.3L70.0 282.8L74.0 281.3L78.0 279.8L82.0 278.2L86.0 276.5L90.0 274.7L94.0 272.7L98.0 270.4L102.0 267.8L106.0 264.4L110.0 260.4L114.0 255.9L118.0 251.2L122.0 246.5L126.0 241.8L130.0 237.3L134.0 232.8L138.0 228.1L142.0 223.4L146.0 218.6L150.0 213.8L154.0 208.9L158.0 204.0L162.0 199.0L166.0 193.9L170.0 188.9L172.0 186.3L173.5 184.3L175.0 182.2L176.5 180.2L178.0 178.1L179.5 175.9L181.0 173.7L182.5 171.4L184.0 169.1L185.5 166.7L187.0 164.1L188.5 161.3L190.0 157.8L191.5 155.0L192.0 154.4L193.0 153.5L230.0 155.2L270.0 157.1L310.0 158.9L350.0 160.8L390.0 162.7L430.0 164.5L470.0 166.4L514.0 168.4L514.0 303.5L58.0 303.5Z"/>
<path fill="#68da00" d="M58.0 287.0L62.0 285.9L66.0 284.7L70.0 283.3L74.0 281.8L78.0 280.3L82.0 278.7L86.0 277.1L90.0 275.3L94.0 273.3L98.0 271.1L102.0 268.4L106.0 265.1L110.0 261.1L114.0 256.6L118.0 252.0L122.0 247.2L126.0 242.6L130.0 238.1L134.0 233.6L138.0 228.9L142.0 224.2L146.0 219.4L150.0 214.6L154.0 209.7L158.0 204.7L162.0 199.8L166.0 194.8L170.0 189.8L172.0 187.2L173.5 185.2L175.0 183.2L176.5 181.2L178.0 179.0L179.5 176.9L181.0 174.7L182.5 172.4L184.0 170.1L185.5 167.7L187.0 165.1L188.5 162.3L190.0 158.8L191.5 156.0L192.0 155.4L193.0 154.5L230.0 156.3L270.0 158.1L310.0 160.0L350.0 161.9L390.0 163.8L430.0 165.7L470.0 167.6L514.0 169.7L514.0 303.5L58.0 303.5Z"/>
<path fill="#58d600" d="M58.0 287.4L62.0 286.4L66.0 285.2L70.0 283.8L74.0 282.3L78.0 280.8L82.0 279.3L86.0 277.6L90.0 275.9L94.0 273.9L98.0 271.7L102.0 269.1L106.0 265.7L110.0 261.8L114.0 257.3L118.0 252.7L122.0 248.0L126.0 243.4L130.0 238.9L134.0 234.3L138.0 229.7L142.0 225.0L146.0 220.2L150.0 215.3L154.0 210.4L158.0 205.5L162.0 200.6L166.0 195.6L170.0 190.6L172.0 188.1L173.5 186.2L175.0 184.2L176.5 182.1L178.0 180.0L179.5 177.9L181.0 175.7L182.5 173.4L184.0 171.1L185.5 168.6L187.0 166.0L188.5 163.3L190.0 159.8L191.5 157.0L192.0 156.4L193.0 155.5L230.0 157.3L270.0 159.2L310.0 161.1L350.0 163.1L390.0 165.0L430.0 166.9L470.0 168.8L514.0 171.0L514.0 303.5L58.0 303.5Z"/>
<path fill="#48d200" d="M58.0 287.8L62.0 286.8L66.0 285.6L70.0 284.3L74.0 282.8L78.0 281.3L82.0 279.8L86.0 278.2L90.0 276.4L94.0 274.5L98.0 272.3L102.0 269.7L106.0 266.4L110.0 262.4L114.0 258.0L118.0 253.4L122.0 248.7L126.0 244.1L130.0 239.7L134.0 235.1L138.0 230.5L142.0 225.7L146.0 220.9L150.0 216.1L154.0 211.2L158.0 206.3L162.0 201.4L166.0 196.5L170.0 191.5L172.0 189.0L173.5 187.1L175.0 185.1L176.5 183.1L178.0 181.0L179.5 178.9L181.0 176.7L182.5 174.4L184.0 172.1L185.5 169.6L187.0 167.0L188.5 164.2L190.0 160.8L191.5 158.0L192.0 157.4L193.0 156.5L230.0 158.3L270.0 160.3L310.0 162.2L350.0 164.2L390.0 166.2L430.0 168.1L470.0 170.1L514.0 172.2L514.0 303.5L58.0 303.5Z"/>
<path fill="#3bcd00" d="M58.0 288.3L62.0 287.3L66.0 286.1L70.0 284.7L74.0 283.3L78.0 281.8L82.0 280.3L86.0 278.7L90.0 277.0L94.0 275.0L98.0 272.9L102.0 270.3L106.0 267.0L110.0 263.1L114.0 258.7L118.0 254.1L122.0 249.4L126.0 244.9L130.0 240.4L134.0 235.9L138.0 231.2L142.0 226.5L146.0 221.7L150.0 216.9L154.0 212.0L158.0 207.1L162.0 202.2L166.0 197.3L170.0 192.4L172.0 189.9L173.5 188.0L175.0 186.1L176.5 184.1L178.0 182.0L179.5 179.9L181.0 177.7L182.5 175.4L184.0 173.1L185.5 170.6L187.0 168.0L188.5 165.2L190.0 161.8L191.5 159.0L192.0 158.4L193.0 157.5L230.0 159.3L270.0 161.3L310.0 163.3L350.0 165.3L390.0 167.3L430.0 169.3L470.0 171.3L514.0 173.5L514.0 303.5L58.0 303.5Z"/>
<path fill="#30c800" d="M58.0 288.7L62.0 287.7L66.0 286.5L70.0 285.2L74.0 283.7L78.0 282.3L82.0 280.8L86.0 279.2L90.0 277.5L94.0 275.6L98.0 273.5L102.0 270.9L106.0 267.7L110.0 263.8L114.0 259.4L118.0 254.8L122.0 250.2L126.0 245.6L130.0 241.2L134.0 236.6L138.0 232.0L142.0 227.3L146.0 222.5L150.0 217.6L154.0 212.7L158.0 207.8L162.0 203.0L166.0 198.1L170.0 193.3L172.0 190.9L173.5 189.0L175.0 187.0L176.5 185.0L178.0 183.0L179.5 180.9L181.0 178.7L182.5 176.4L184.0 174.1L185.5 171.6L187.0 169.0L188.5 166.2L190.0 162.8L191.5 160.0L192.0 159.4L193.0 158.5L230.0 160.4L270.0 162.4L310.0 164.4L350.0 166.5L390.0 168.5L430.0 170.5L470.0 172.6L514.0 174.8L514.0 303.5L58.0 303.5Z"/>
<path fill="#25c300" d="M58.0 289.1L62.0 288.1L66.0 287.0L70.0 285.6L74.0 284.2L78.0 282.8L82.0 281.3L86.0 279.8L90.0 278.1L94.0 276.2L98.0 274.0L102.0 271.5L106.0 268.3L110.0 264.4L114.0 260.1L118.0 255.5L122.0 250.9L126.0 246.3L130.0 241.9L134.0 237.4L138.0 232.7L142.0 228.0L146.0 223.2L150.0 218.4L154.0 213.5L158.0 208.6L162.0 203.7L166.0 199.0L170.0 194.2L172.0 191.8L173.5 189.9L175.0 188.0L176.5 186.0L178.0 184.0L179.5 181.9L181.0 179.7L182.5 177.4L184.0 175.1L185.5 172.6L187.0 170.0L188.5 167.2L190.0 163.7L191.5 161.0L192.0 160.3L193.0 159.5L230.0 161.4L270.0 163.5L310.0 165.5L350.0 167.6L390.0 169.7L430.0 171.7L470.0 173.8L514.0 176.1L514.0 303.5L58.0 303.5Z"/>
<path fill="#1cbc04" d="M58.0 289.5L62.0 288.5L66.0 287.4L70.0 286.1L74.0 284.7L78.0 283.3L82.0 281.8L86.0 280.3L90.0 278.6L94.0 276.7L98.0 274.6L102.0 272.1L106.0 268.9L110.0 265.1L114.0 260.8L118.0 256.2L122.0 251.6L126.0 247.1L130.0 242.7L134.0 238.1L138.0 233.5L142.0 228.8L146.0 224.0L150.0 219.1L154.0 214.3L158.0 209.4L162.0 204.5L166.0 199.8L170.0 195.1L172.0 192.7L173.5 190.8L175.0 188.9L176.5 187.0L178.0 185.0L179.5 182.8L181.0 180.7L182.5 178.4L184.0 176.1L185.5 173.6L187.0 171.0L188.5 168.2L190.0 164.7L191.5 161.9L192.0 161.3L193.0 160.5L230.0 162.4L270.0 164.5L310.0 166.6L350.0 168.7L390.0 170.8L430.0 172.9L470.0 175.0L514.0 177.3L514.0 303.5L58.0 303.5Z"/>
<path fill="#14b40c" d="M58.0 289.9L62.0 289.0L66.0 287.9L70.0 286.5L74.0 285.1L78.0 283.7L82.0 282.3L86.0 280.8L90.0 279.1L94.0 277.3L98.0 275.2L102.0 272.7L106.0 269.5L110.0 265.7L114.0 261.4L118.0 256.9L122.0 252.3L126.0 247.8L130.0 243.4L134.0 238.9L138.0 234.2L142.0 229.5L146.0 224.7L150.0 219.9L154.0 215.0L158.0 210.2L162.0 205.3L166.0 200.6L170.0 196.0L172.0 193.6L173.5 191.8L175.0 189.9L176.5 187.9L178.0 185.9L179.5 183.8L181.0 181.7L182.5 179.4L184.0 177.1L185.5 174.6L187.0 172.0L188.5 169.2L190.0 165.7L191.5 162.9L192.0 162.3L193.0 161.5L230.0 163.5L270.0 165.6L310.0 167.7L350.0 169.8L390.0 171.9L430.0 174.0L470.0 176.2L514.0 178.5L514.0 303.5L58.0 303.5Z"/>
<path fill="#0ead14" d="M58.0 290.3L62.0 289.4L66.0 288.3L70.0 287.0L74.0 285.6L78.0 284.2L82.0 282.8L86.0 281.3L90.0 279.7L94.0 277.9L98.0 275.8L102.0 273.4L106.0 270.2L110.0 266.4L114.0 262.2L118.0 257.7L122.0 253.1L126.0 248.7L130.0 244.3L134.0 239.8L138.0 235.2L142.0 230.5L146.0 225.7L150.0 220.9L154.0 216.0L158.0 211.2L162.0 206.4L166.0 201.7L170.0 197.0L172.0 194.6L173.5 192.8L175.0 190.9L176.5 189.0L178.0 187.0L179.5 184.9L181.0 182.7L182.5 180.4L184.0 178.1L185.5 175.6L187.0 173.0L188.5 170.2L190.0 166.7L191.5 163.9L192.0 163.3L193.0 162.5L230.0 164.5L270.0 166.6L310.0 168.8L350.0 170.9L390.0 173.0L430.0 175.2L470.0 177.3L514.0 179.7L514.0 303.5L58.0 303.5Z"/>
<path fill="#0aa71c" d="M58.0 290.7L62.0 289.8L66.0 288.7L70.0 287.5L74.0 286.1L78.0 284.8L82.0 283.4L86.0 281.9L90.0 280.3L94.0 278.5L98.0 276.5L102.0 274.1L106.0 271.0L110.0 267.2L114.0 263.0L118.0 258.6L122.0 254.1L126.0 249.7L130.0 245.3L134.0 240.9L138.0 236.3L142.0 231.6L146.0 226.9L150.0 222.1L154.0 217.3L158.0 212.5L162.0 207.7L166.0 202.9L170.0 198.2L172.0 195.8L173.5 193.9L175.0 192.0L176.5 190.1L178.0 188.0L179.5 185.9L181.0 183.7L182.5 181.5L184.0 179.1L185.5 176.6L187.0 174.0L188.5 171.2L190.0 167.7L191.5 164.9L192.0 164.3L193.0 163.5L230.0 165.5L270.0 167.7L310.0 169.8L350.0 172.0L390.0 174.2L430.0 176.3L470.0 178.5L514.0 180.9L514.0 303.5L58.0 303.5Z"/>
<path fill="#06a124" d="M58.0 291.1L62.0 290.2L66.0 289.2L70.0 287.9L74.0 286.6L78.0 285.3L82.0 283.9L86.0 282.5L90.0 280.9L94.0 279.1L98.0 277.1L102.0 274.8L106.0 271.7L110.0 268.0L114.0 263.9L118.0 259.5L122.0 255.0L126.0 250.6L130.0 246.3L134.0 241.9L138.0 237.4L142.0 232.8L146.0 228.1L150.0 223.4L154.0 218.6L158.0 213.8L162.0 208.9L166.0 204.2L170.0 199.4L172.0 196.9L173.5 195.1L175.0 193.1L176.5 191.1L178.0 189.1L179.5 187.0L181.0 184.8L182.5 182.5L184.0 180.1L185.5 177.7L187.0 175.0L188.5 172.2L190.0 168.7L191.5 165.9L192.0 165.3L193.0 164.5L230.0 166.5L270.0 168.7L310.0 170.9L350.0 173.1L390.0 175.3L430.0 177.5L470.0 179.7L514.0 182.1L514.0 303.5L58.0 303.5Z"/>
<path fill="#029b2c" d="M58.0 291.5L62.0 290.6L66.0 289.6L70.0 288.4L74.0 287.1L78.0 285.8L82.0 284.4L86.0 283.0L90.0 281.5L94.0 279.7L98.0 277.8L102.0 275.4L106.0 272.4L110.0 268.8L114.0 264.7L118.0 260.3L122.0 255.9L126.0 251.6L130.0 247.4L134.0 243.0L138.0 238.5L142.0 234.0L146.0 229.3L150.0 224.6L154.0 219.8L158.0 215.0L162.0 210.2L166.0 205.4L170.0 200.6L172.0 198.1L173.5 196.2L175.0 194.2L176.5 192.2L178.0 190.2L179.5 188.0L181.0 185.8L182.5 183.5L184.0 181.2L185.5 178.7L187.0 176.0L188.5 173.2L190.0 169.7L191.5 166.9L192.0 166.3L193.0 165.5L230.0 167.5L270.0 169.8L310.0 172.0L350.0 174.2L390.0 176.4L430.0 178.6L470.0 180.8L514.0 183.3L514.0 303.5L58.0 303.5Z"/>
<path fill="#009633" d="M58.0 291.9L62.0 291.0L66.0 290.0L70.0 288.8L74.0 287.5L78.0 286.3L82.0 285.0L86.0 283.6L90.0 282.0L94.0 280.3L98.0 278.4L102.0 276.1L106.0 273.1L110.0 269.5L114.0 265.5L118.0 261.2L122.0 256.8L126.0 252.6L130.0 248.4L134.0 244.0L138.0 239.6L142.0 235.1L146.0 230.5L150.0 225.8L154.0 221.1L158.0 216.3L162.0 211.4L166.0 206.6L170.0 201.7L172.0 199.2L173.5 197.3L175.0 195.3L176.5 193.3L178.0 191.2L179.5 189.0L181.0 186.8L182.5 184.6L184.0 182.2L185.5 179.7L187.0 177.1L188.5 174.2L190.0 170.7L191.5 167.9L192.0 167.3L193.0 166.5L230.0 168.6L270.0 170.8L310.0 173.1L350.0 175.3L390.0 177.5L430.0 179.8L470.0 182.0L514.0 184.5L514.0 303.5L58.0 303.5Z"/>
<path fill="#009138" d="M58.0 292.2L62.0 291.4L66.0 290.4L70.0 289.3L74.0 288.0L78.0 286.8L82.0 285.5L86.0 284.1L90.0 282.6L94.0 280.9L98.0 279.0L102.0 276.8L106.0 273.8L110.0 270.3L114.0 266.3L118.0 262.1L122.0 257.7L126.0 253.5L130.0 249.4L134.0 245.1L138.0 240.7L142.0 236.2L146.0 231.7L150.0 227.0L154.0 222.3L158.0 217.5L162.0 212.7L166.0 207.8L170.0 202.9L172.0 200.4L173.5 198.4L175.0 196.4L176.5 194.4L178.0 192.3L179.5 190.1L181.0 187.9L182.5 185.6L184.0 183.2L185.5 180.7L187.0 178.1L188.5 175.2L190.0 171.7L191.5 168.9L192.0 168.3L193.0 167.5L230.0 169.6L270.0 171.9L310.0 174.1L350.0 176.4L390.0 178.7L430.0 180.9L470.0 183.2L514.0 185.7L514.0 303.5L58.0 303.5Z"/>
<path fill="#008c3d" d="M58.0 292.6L62.0 291.8L66.0 290.9L70.0 289.7L74.0 288.5L78.0 287.2L82.0 286.0L86.0 284.6L90.0 283.2L94.0 281.5L98.0 279.6L102.0 277.4L106.0 274.5L110.0 271.0L114.0 267.1L118.0 262.9L122.0 258.6L126.0 254.4L130.0 250.3L134.0 246.1L138.0 241.8L142.0 237.4L146.0 232.8L150.0 228.2L154.0 223.5L158.0 218.8L162.0 213.9L166.0 209.1L170.0 204.1L172.0 201.5L173.5 199.5L175.0 197.5L176.5 195.4L178.0 193.3L179.5 191.1L181.0 188.9L182.5 186.6L184.0 184.2L185.5 181.7L187.0 179.1L188.5 176.2L190.0 172.7L191.5 169.8L192.0 169.3L193.0 168.5L230.0 170.6L270.0 172.9L310.0 175.2L350.0 177.5L390.0 179.8L430.0 182.1L470.0 184.4L514.0 186.9L514.0 303.5L58.0 303.5Z"/>
<path fill="#008646" d="M58.0 293.0L62.0 292.2L66.0 291.3L70.0 290.1L74.0 288.9L78.0 287.7L82.0 286.5L86.0 285.2L90.0 283.7L94.0 282.1L98.0 280.3L102.0 278.1L106.0 275.2L110.0 271.8L114.0 267.9L118.0 263.7L122.0 259.5L126.0 255.4L130.0 251.3L134.0 247.1L138.0 242.9L142.0 238.5L146.0 234.0L150.0 229.4L154.0 224.7L158.0 220.0L162.0 215.2L166.0 210.3L170.0 205.2L172.0 202.6L173.5 200.6L175.0 198.6L176.5 196.5L178.0 194.4L179.5 192.2L181.0 189.9L182.5 187.6L184.0 185.3L185.5 182.8L187.0 180.1L188.5 177.2L190.0 173.6L191.5 170.8L192.0 170.2L193.0 169.5L230.0 171.6L270.0 174.0L310.0 176.3L350.0 178.6L390.0 180.9L430.0 183.2L470.0 185.5L514.0 188.1L514.0 303.5L58.0 303.5Z"/>
<path fill="#008051" d="M58.0 293.3L62.0 292.6L66.0 291.7L70.0 290.6L74.0 289.4L78.0 288.2L82.0 287.0L86.0 285.7L90.0 284.3L94.0 282.7L98.0 280.9L102.0 278.7L106.0 275.9L110.0 272.5L114.0 268.7L118.0 264.6L122.0 260.4L126.0 256.3L130.0 252.3L134.0 248.2L138.0 243.9L142.0 239.6L146.0 235.1L150.0 230.6L154.0 226.0L158.0 221.2L162.0 216.4L166.0 211.5L170.0 206.4L172.0 203.8L173.5 201.7L175.0 199.7L176.5 197.6L178.0 195.4L179.5 193.2L181.0 190.9L182.5 188.7L184.0 186.3L185.5 183.8L187.0 181.1L188.5 178.3L190.0 174.6L191.5 171.8L192.0 171.2L193.0 170.5L230.0 172.7L270.0 175.0L310.0 177.3L350.0 179.7L390.0 182.0L430.0 184.4L470.0 186.7L514.0 189.3L514.0 303.5L58.0 303.5Z"/>
<path fill="#00785d" d="M58.0 293.7L62.0 293.0L66.0 292.1L70.0 291.0L74.0 289.8L78.0 288.7L82.0 287.5L86.0 286.2L90.0 284.8L94.0 283.3L98.0 281.5L102.0 279.4L106.0 276.6L110.0 273.2L114.0 269.4L118.0 265.4L122.0 261.3L126.0 257.2L130.0 253.2L134.0 249.2L138.0 245.0L142.0 240.7L146.0 236.3L150.0 231.8L154.0 227.1L158.0 222.4L162.0 217.6L166.0 212.7L170.0 207.5L172.0 204.9L173.5 202.8L175.0 200.8L176.5 198.6L178.0 196.5L179.5 194.2L181.0 192.0L182.5 189.7L184.0 187.3L185.5 184.8L187.0 182.1L188.5 179.3L190.0 175.6L191.5 172.8L192.0 172.2L193.0 171.5L230.0 173.7L270.0 176.0L310.0 178.4L350.0 180.8L390.0 183.1L430.0 185.5L470.0 187.9L514.0 190.5L514.0 303.5L58.0 303.5Z"/>
<path fill="#007268" d="M58.0 294.1L62.0 293.3L66.0 292.5L70.0 291.4L74.0 290.3L78.0 289.1L82.0 288.0L86.0 286.7L90.0 285.4L94.0 283.8L98.0 282.1L102.0 280.0L106.0 277.3L110.0 273.9L114.0 270.2L118.0 266.2L122.0 262.1L126.0 258.1L130.0 254.2L134.0 250.1L138.0 246.0L142.0 241.8L146.0 237.4L150.0 232.9L154.0 228.3L158.0 223.6L162.0 218.8L166.0 213.8L170.0 208.7L172.0 206.0L173.5 203.9L175.0 201.8L176.5 199.7L178.0 197.5L179.5 195.2L181.0 193.0L182.5 190.7L184.0 188.3L185.5 185.8L187.0 183.1L188.5 180.3L190.0 176.6L191.5 173.8L192.0 173.2L193.0 172.5L230.0 174.7L270.0 177.1L310.0 179.5L350.0 181.9L390.0 184.3L430.0 186.6L470.0 189.0L514.0 191.7L514.0 303.5L58.0 303.5Z"/>
<path fill="#006b73" d="M58.0 294.4L62.0 293.7L66.0 292.9L70.0 291.8L74.0 290.7L78.0 289.6L82.0 288.5L86.0 287.2L90.0 285.9L94.0 284.4L98.0 282.7L102.0 280.6L106.0 277.9L110.0 274.6L114.0 270.9L118.0 267.0L122.0 262.9L126.0 259.0L130.0 255.1L134.0 251.1L138.0 247.0L142.0 242.8L146.0 238.4L150.0 234.0L154.0 229.5L158.0 224.8L162.0 220.0L166.0 215.0L170.0 209.8L172.0 207.1L173.5 205.0L175.0 202.9L176.5 200.8L178.0 198.6L179.5 196.3L181.0 194.0L182.5 191.7L184.0 189.4L185.5 186.8L187.0 184.2L188.5 181.3L190.0 177.6L191.5 174.8L192.0 174.2L193.0 173.5L230.0 175.7L270.0 178.1L310.0 180.5L350.0 182.9L390.0 185.3L430.0 187.7L470.0 190.1L514.0 192.8L514.0 303.5L58.0 303.5Z"/>
<path fill="#00667c" d="M58.0 294.8L62.0 294.1L66.0 293.3L70.0 292.3L74.0 291.2L78.0 290.1L82.0 289.0L86.0 287.8L90.0 286.4L94.0 284.9L98.0 283.2L102.0 281.2L106.0 278.5L110.0 275.3L114.0 271.6L118.0 267.7L122.0 263.7L126.0 259.8L130.0 255.9L134.0 251.9L138.0 247.9L142.0 243.7L146.0 239.4L150.0 235.0L154.0 230.5L158.0 225.9L162.0 221.1L166.0 216.1L170.0 210.9L172.0 208.2L173.5 206.2L175.0 204.0L176.5 201.9L178.0 199.7L179.5 197.4L181.0 195.2L182.5 192.8L184.0 190.4L185.5 187.9L187.0 185.2L188.5 182.3L190.0 178.6L191.5 175.8L192.0 175.2L193.0 174.5L230.0 176.7L270.0 179.1L310.0 181.5L350.0 183.9L390.0 186.3L430.0 188.7L470.0 191.1L514.0 193.7L514.0 303.5L58.0 303.5Z"/>
<path fill="#006085" d="M58.0 295.1L62.0 294.5L66.0 293.7L70.0 292.7L74.0 291.7L78.0 290.6L82.0 289.5L86.0 288.3L90.0 287.0L94.0 285.5L98.0 283.8L102.0 281.8L106.0 279.1L110.0 275.9L114.0 272.3L118.0 268.4L122.0 264.4L126.0 260.5L130.0 256.7L134.0 252.8L138.0 248.8L142.0 244.6L146.0 240.4L150.0 236.0L154.0 231.5L158.0 226.9L162.0 222.2L166.0 217.2L170.0 212.0L172.0 209.3L173.5 207.3L175.0 205.2L176.5 203.0L178.0 200.8L179.5 198.5L181.0 196.2L182.5 193.9L184.0 191.5L185.5 188.9L187.0 186.2L188.5 183.3L190.0 179.7L191.5 176.8L192.0 176.2L193.0 175.5L230.0 177.7L270.0 180.1L310.0 182.5L350.0 184.9L390.0 187.3L430.0 189.7L470.0 192.1L514.0 194.7L514.0 303.5L58.0 303.5Z"/>
<path fill="#005b8e" d="M58.0 295.5L62.0 294.8L66.0 294.1L70.0 293.1L74.0 292.1L78.0 291.1L82.0 290.0L86.0 288.8L90.0 287.5L94.0 286.0L98.0 284.3L102.0 282.4L106.0 279.8L110.0 276.6L114.0 273.0L118.0 269.1L122.0 265.2L126.0 261.3L130.0 257.5L134.0 253.6L138.0 249.7L142.0 245.6L146.0 241.4L150.0 237.0L154.0 232.6L158.0 228.0L162.0 223.2L166.0 218.3L170.0 213.2L172.0 210.5L173.5 208.4L175.0 206.3L176.5 204.1L178.0 201.9L179.5 199.6L181.0 197.3L182.5 195.0L184.0 192.5L185.5 190.0L187.0 187.2L188.5 184.3L190.0 180.7L191.5 177.8L192.0 177.3L193.0 176.5L230.0 178.7L270.0 181.1L310.0 183.5L350.0 185.9L390.0 188.3L430.0 190.7L470.0 193.1L514.0 195.7L514.0 303.5L58.0 303.5Z"/>
<path fill="#005597" d="M58.0 295.8L62.0 295.2L66.0 294.5L70.0 293.5L74.0 292.6L78.0 291.5L82.0 290.5L86.0 289.3L90.0 288.0L94.0 286.5L98.0 284.9L102.0 282.9L106.0 280.4L110.0 277.2L114.0 273.6L118.0 269.8L122.0 265.9L126.0 262.1L130.0 258.3L134.0 254.5L138.0 250.5L142.0 246.5L146.0 242.3L150.0 238.0L154.0 233.6L158.0 229.0L162.0 224.3L166.0 219.4L170.0 214.3L172.0 211.6L173.5 209.5L175.0 207.4L176.5 205.2L178.0 203.0L179.5 200.7L181.0 198.4L182.5 196.1L184.0 193.6L185.5 191.0L187.0 188.3L188.5 185.3L190.0 181.7L191.5 178.9L192.0 178.3L193.0 177.5L230.0 179.7L270.0 182.1L310.0 184.5L350.0 186.9L390.0 189.3L430.0 191.7L470.0 194.1L514.0 196.7L514.0 303.5L58.0 303.5Z"/>
<path fill="#0050a0" d="M58.0 296.2L62.0 295.6L66.0 294.8L70.0 294.0L74.0 293.0L78.0 292.0L82.0 290.9L86.0 289.8L90.0 288.5L94.0 287.1L98.0 285.4L102.0 283.5L106.0 280.9L110.0 277.8L114.0 274.3L118.0 270.5L122.0 266.6L126.0 262.8L130.0 259.1L134.0 255.3L138.0 251.4L142.0 247.4L146.0 243.3L150.0 239.0L154.0 234.6L158.0 230.1L162.0 225.4L166.0 220.5L170.0 215.4L172.0 212.7L173.5 210.6L175.0 208.5L176.5 206.3L178.0 204.1L179.5 201.8L181.0 199.5L182.5 197.1L184.0 194.6L185.5 192.0L187.0 189.3L188.5 186.3L190.0 182.7L191.5 179.9L192.0 179.3L193.0 178.5L230.0 180.7L270.0 183.1L310.0 185.5L350.0 187.9L390.0 190.3L430.0 192.7L470.0 195.1L514.0 197.7L514.0 303.5L58.0 303.5Z"/>
<path fill="#0047ac" d="M58.0 296.5L62.0 295.9L66.0 295.2L70.0 294.4L74.0 293.4L78.0 292.5L82.0 291.4L86.0 290.3L90.0 289.0L94.0 287.6L98.0 286.0L102.0 284.1L106.0 281.5L110.0 278.4L114.0 274.9L118.0 271.2L122.0 267.4L126.0 263.6L130.0 259.9L134.0 256.1L138.0 252.3L142.0 248.3L146.0 244.2L150.0 240.0L154.0 235.6L158.0 231.1L162.0 226.5L166.0 221.6L170.0 216.5L172.0 213.8L173.5 211.7L175.0 209.6L176.5 207.4L178.0 205.2L179.5 202.9L181.0 200.6L182.5 198.2L184.0 195.7L185.5 193.1L187.0 190.3L188.5 187.3L190.0 183.7L191.5 180.9L192.0 180.3L193.0 179.5L230.0 181.7L270.0 184.1L310.0 186.5L350.0 188.9L390.0 191.3L430.0 193.7L470.0 196.1L514.0 198.7L514.0 303.5L58.0 303.5Z"/>
<path fill="#003fb7" d="M58.0 296.8L62.0 296.3L66.0 295.6L70.0 294.8L74.0 293.9L78.0 292.9L82.0 291.9L86.0 290.8L90.0 289.5L94.0 288.1L98.0 286.5L102.0 284.6L106.0 282.1L110.0 279.1L114.0 275.6L118.0 271.9L122.0 268.1L126.0 264.3L130.0 260.7L134.0 257.0L138.0 253.1L142.0 249.2L146.0 245.1L150.0 241.0L154.0 236.6L158.0 232.2L162.0 227.5L166.0 222.7L170.0 217.6L172.0 214.9L173.5 212.8L175.0 210.7L176.5 208.5L178.0 206.3L179.5 204.0L181.0 201.7L182.5 199.3L184.0 196.7L185.5 194.1L187.0 191.3L188.5 188.4L190.0 184.7L191.5 181.9L192.0 181.3L193.0 180.5L230.0 182.7L270.0 185.1L310.0 187.5L350.0 189.9L390.0 192.3L430.0 194.7L470.0 197.1L514.0 199.7L514.0 303.5L58.0 303.5Z"/>
<path fill="#0036c3" d="M58.0 297.1L62.0 296.6L66.0 296.0L70.0 295.2L74.0 294.3L78.0 293.4L82.0 292.3L86.0 291.2L90.0 290.0L94.0 288.6L98.0 287.0L102.0 285.2L106.0 282.7L110.0 279.7L114.0 276.2L118.0 272.5L122.0 268.8L126.0 265.1L130.0 261.5L134.0 257.8L138.0 254.0L142.0 250.1L146.0 246.1L150.0 241.9L154.0 237.6L158.0 233.2L162.0 228.6L166.0 223.8L170.0 218.6L172.0 216.0L173.5 213.9L175.0 211.8L176.5 209.6L178.0 207.4L179.5 205.1L181.0 202.7L182.5 200.3L184.0 197.8L185.5 195.1L187.0 192.3L188.5 189.4L190.0 185.7L191.5 182.9L192.0 182.3L193.0 181.5L230.0 183.7L270.0 186.1L310.0 188.5L350.0 190.9L390.0 193.3L430.0 195.7L470.0 198.0L514.0 200.7L514.0 303.5L58.0 303.5Z"/>
<path fill="#002dcf" d="M58.0 297.5L62.0 297.0L66.0 296.3L70.0 295.6L74.0 294.7L78.0 293.8L82.0 292.8L86.0 291.7L90.0 290.5L94.0 289.1L98.0 287.5L102.0 285.7L106.0 283.3L110.0 280.3L114.0 276.9L118.0 273.2L122.0 269.5L126.0 265.8L130.0 262.2L134.0 258.6L138.0 254.8L142.0 251.0L146.0 247.0L150.0 242.9L154.0 238.6L158.0 234.2L162.0 229.6L166.0 224.8L170.0 219.7L172.0 217.0L173.5 215.0L175.0 212.9L176.5 210.7L178.0 208.5L179.5 206.2L181.0 203.8L182.5 201.4L184.0 198.8L185.5 196.2L187.0 193.3L188.5 190.4L190.0 186.7L191.5 183.9L192.0 183.3L193.0 182.5L230.0 184.7L270.0 187.1L310.0 189.5L350.0 191.9L390.0 194.3L430.0 196.7L470.0 199.0L514.0 201.7L514.0 303.5L58.0 303.5Z"/>
<path fill="#0024da" d="M58.0 297.8L62.0 297.3L66.0 296.7L70.0 296.0L74.0 295.1L78.0 294.2L82.0 293.3L86.0 292.2L90.0 291.0L94.0 289.6L98.0 288.1L102.0 286.2L106.0 283.8L110.0 280.8L114.0 277.5L118.0 273.9L122.0 270.2L126.0 266.5L130.0 263.0L134.0 259.4L138.0 255.6L142.0 251.8L146.0 247.9L150.0 243.8L154.0 239.6L158.0 235.2L162.0 230.7L166.0 225.9L170.0 220.8L172.0 218.1L173.5 216.0L175.0 213.9L176.5 211.8L178.0 209.5L179.5 207.2L181.0 204.9L182.5 202.4L184.0 199.9L185.5 197.2L187.0 194.4L188.5 191.4L190.0 187.8L191.5 184.9L192.0 184.3L193.0 183.5L230.0 185.7L270.0 188.1L310.0 190.5L350.0 192.9L390.0 195.3L430.0 197.6L470.0 200.0L514.0 202.7L514.0 303.5L58.0 303.5Z"/>
<path fill="#001fe0" d="M58.0 298.1L62.0 297.6L66.0 297.1L70.0 296.3L74.0 295.5L78.0 294.7L82.0 293.7L86.0 292.6L90.0 291.4L94.0 290.1L98.0 288.6L102.0 286.8L106.0 284.4L110.0 281.4L114.0 278.1L118.0 274.5L122.0 270.9L126.0 267.3L130.0 263.7L134.0 260.2L138.0 256.5L142.0 252.7L146.0 248.8L150.0 244.8L154.0 240.6L158.0 236.2L162.0 231.7L166.0 226.9L170.0 221.8L172.0 219.2L173.5 217.1L175.0 215.0L176.5 212.8L178.0 210.6L179.5 208.3L181.0 205.9L182.5 203.5L184.0 200.9L185.5 198.2L187.0 195.4L188.5 192.4L190.0 188.8L191.5 185.9L192.0 185.3L193.0 184.5L230.0 186.7L270.0 189.1L310.0 191.5L350.0 193.9L390.0 196.3L430.0 198.6L470.0 201.0L514.0 203.6L514.0 303.5L58.0 303.5Z"/>
<path fill="#001de1" d="M58.0 298.4L62.0 298.0L66.0 297.4L70.0 296.7L74.0 295.9L78.0 295.1L82.0 294.1L86.0 293.1L90.0 291.9L94.0 290.6L98.0 289.1L102.0 287.3L106.0 284.9L110.0 282.0L114.0 278.7L118.0 275.2L122.0 271.5L126.0 268.0L130.0 264.5L134.0 260.9L138.0 257.3L142.0 253.5L146.0 249.7L150.0 245.7L154.0 241.5L158.0 237.2L162.0 232.7L166.0 228.0L170.0 222.9L172.0 220.2L173.5 218.2L175.0 216.1L176.5 213.9L178.0 211.7L179.5 209.4L181.0 207.0L182.5 204.5L184.0 201.9L185.5 199.2L187.0 196.4L188.5 193.4L190.0 189.8L191.5 187.0L192.0 186.3L193.0 185.5L230.0 187.7L270.0 190.1L310.0 192.5L350.0 194.9L390.0 197.2L430.0 199.6L470.0 202.0L514.0 204.6L514.0 303.5L58.0 303.5Z"/>
<path fill="#001be2" d="M58.0 298.7L62.0 298.3L66.0 297.8L70.0 297.1L74.0 296.3L78.0 295.5L82.0 294.6L86.0 293.5L90.0 292.4L94.0 291.0L98.0 289.6L102.0 287.8L106.0 285.5L110.0 282.6L114.0 279.3L118.0 275.8L122.0 272.2L126.0 268.7L130.0 265.2L134.0 261.7L138.0 258.1L142.0 254.4L146.0 250.6L150.0 246.6L154.0 242.5L158.0 238.2L162.0 233.7L166.0 229.0L170.0 224.0L172.0 221.3L173.5 219.2L175.0 217.1L176.5 215.0L178.0 212.7L179.5 210.4L181.0 208.1L182.5 205.6L184.0 203.0L185.5 200.2L187.0 197.4L188.5 194.4L190.0 190.8L191.5 188.0L192.0 187.3L193.0 186.5L230.0 188.7L270.0 191.1L310.0 193.5L350.0 195.9L390.0 198.2L430.0 200.6L470.0 203.0L514.0 205.6L514.0 303.5L58.0 303.5Z"/>
<path fill="#0018e3" d="M58.0 299.0L62.0 298.6L66.0 298.1L70.0 297.5L74.0 296.7L78.0 295.9L82.0 295.0L86.0 294.0L90.0 292.8L94.0 291.5L98.0 290.0L102.0 288.3L106.0 286.0L110.0 283.1L114.0 279.9L118.0 276.4L122.0 272.9L126.0 269.4L130.0 266.0L134.0 262.5L138.0 258.9L142.0 255.2L146.0 251.5L150.0 247.5L154.0 243.4L158.0 239.2L162.0 234.7L166.0 230.0L170.0 225.0L172.0 222.3L173.5 220.3L175.0 218.2L176.5 216.0L178.0 213.8L179.5 211.5L181.0 209.1L182.5 206.6L184.0 204.0L185.5 201.2L187.0 198.4L188.5 195.4L190.0 191.8L191.5 189.0L192.0 188.3L193.0 187.5L230.0 189.7L270.0 192.1L310.0 194.5L350.0 196.9L390.0 199.2L430.0 201.6L470.0 204.0L514.0 206.6L514.0 303.5L58.0 303.5Z"/>
<path fill="#0016e3" d="M58.0 299.3L62.0 298.9L66.0 298.4L70.0 297.8L74.0 297.1L78.0 296.3L82.0 295.4L86.0 294.4L90.0 293.3L94.0 292.0L98.0 290.5L102.0 288.8L106.0 286.5L110.0 283.7L114.0 280.5L118.0 277.1L122.0 273.5L126.0 270.1L130.0 266.7L134.0 263.2L138.0 259.7L142.0 256.1L146.0 252.3L150.0 248.4L154.0 244.4L158.0 240.2L162.0 235.7L166.0 231.1L170.0 226.0L172.0 223.4L173.5 221.3L175.0 219.2L176.5 217.1L178.0 214.8L179.5 212.5L181.0 210.1L182.5 207.6L184.0 205.0L185.5 202.3L187.0 199.4L188.5 196.4L190.0 192.8L191.5 190.0L192.0 189.4L193.0 188.5L230.0 190.7L270.0 193.1L310.0 195.5L350.0 197.8L390.0 200.2L430.0 202.6L470.0 205.0L514.0 207.6L514.0 303.5L58.0 303.5Z"/>
<path fill="#0014e4" d="M58.0 299.6L62.0 299.2L66.0 298.8L70.0 298.2L74.0 297.5L78.0 296.7L82.0 295.8L86.0 294.8L90.0 293.7L94.0 292.4L98.0 291.0L102.0 289.3L106.0 287.0L110.0 284.3L114.0 281.1L118.0 277.7L122.0 274.2L126.0 270.8L130.0 267.4L134.0 264.0L138.0 260.5L142.0 256.9L146.0 253.2L150.0 249.3L154.0 245.3L158.0 241.1L162.0 236.7L166.0 232.1L170.0 227.1L172.0 224.4L173.5 222.4L175.0 220.3L176.5 218.1L178.0 215.9L179.5 213.6L181.0 211.2L182.5 208.7L184.0 206.0L185.5 203.3L187.0 200.4L188.5 197.4L190.0 193.8L191.5 191.0L192.0 190.4L193.0 189.5L230.0 191.7L270.0 194.1L310.0 196.5L350.0 198.8L390.0 201.2L430.0 203.6L470.0 206.0L514.0 208.6L514.0 303.5L58.0 303.5Z"/>
<path fill="#0012e5" d="M58.0 299.9L62.0 299.5L66.0 299.1L70.0 298.5L74.0 297.9L78.0 297.1L82.0 296.2L86.0 295.2L90.0 294.1L94.0 292.9L98.0 291.5L102.0 289.8L106.0 287.6L110.0 284.8L114.0 281.7L118.0 278.3L122.0 274.8L126.0 271.4L130.0 268.1L134.0 264.7L138.0 261.3L142.0 257.7L146.0 254.1L150.0 250.2L154.0 246.3L158.0 242.1L162.0 237.7L166.0 233.1L170.0 228.1L172.0 225.5L173.5 223.4L175.0 221.3L176.5 219.1L178.0 216.9L179.5 214.6L181.0 212.2L182.5 209.7L184.0 207.1L185.5 204.3L187.0 201.4L188.5 198.4L190.0 194.8L191.5 192.0L192.0 191.4L193.0 190.5L230.0 192.7L270.0 195.1L310.0 197.5L350.0 199.8L390.0 202.2L430.0 204.6L470.0 207.0L514.0 209.6L514.0 303.5L58.0 303.5Z"/>
<path fill="#0010e5" d="M58.0 300.1L62.0 299.8L66.0 299.4L70.0 298.9L74.0 298.2L78.0 297.5L82.0 296.6L86.0 295.7L90.0 294.6L94.0 293.3L98.0 291.9L102.0 290.3L106.0 288.1L110.0 285.3L114.0 282.2L118.0 278.9L122.0 275.5L126.0 272.1L130.0 268.8L134.0 265.5L138.0 262.1L142.0 258.5L146.0 254.9L150.0 251.1L154.0 247.2L158.0 243.0L162.0 238.7L166.0 234.1L170.0 229.1L172.0 226.5L173.5 224.4L175.0 222.3L176.5 220.2L178.0 218.0L179.5 215.7L181.0 213.3L182.5 210.7L184.0 208.1L185.5 205.3L187.0 202.4L188.5 199.4L190.0 195.8L191.5 193.0L192.0 192.4L193.0 191.5L230.0 193.7L270.0 196.1L310.0 198.5L350.0 200.8L390.0 203.2L430.0 205.6L470.0 208.0L514.0 210.6L514.0 303.5L58.0 303.5Z"/>
<path fill="#000de6" d="M58.0 300.3L62.0 300.0L66.0 299.6L70.0 299.1L74.0 298.5L78.0 297.8L82.0 296.9L86.0 296.0L90.0 294.9L94.0 293.7L98.0 292.3L102.0 290.7L106.0 288.5L110.0 285.8L114.0 282.7L118.0 279.4L122.0 276.0L126.0 272.7L130.0 269.4L134.0 266.1L138.0 262.7L142.0 259.2L146.0 255.6L150.0 251.9L154.0 248.0L158.0 243.9L162.0 239.5L166.0 234.9L170.0 230.0L172.0 227.4L173.5 225.3L175.0 223.2L176.5 221.1L178.0 218.9L179.5 216.6L181.0 214.2L182.5 211.7L184.0 209.0L185.5 206.2L187.0 203.3L188.5 200.3L190.0 196.8L191.5 194.0L192.0 193.4L193.0 192.5L230.0 194.7L270.0 197.1L310.0 199.5L350.0 201.8L390.0 204.2L430.0 206.6L470.0 209.0L514.0 211.6L514.0 303.5L58.0 303.5Z"/>
<path fill="#000be7" d="M58.0 300.4L62.0 300.1L66.0 299.7L70.0 299.2L74.0 298.6L78.0 297.9L82.0 297.1L86.0 296.1L90.0 295.1L94.0 293.9L98.0 292.5L102.0 291.0L106.0 288.8L110.0 286.1L114.0 283.1L118.0 279.8L122.0 276.5L126.0 273.2L130.0 270.0L134.0 266.7L138.0 263.3L142.0 259.8L146.0 256.3L150.0 252.5L154.0 248.6L158.0 244.5L162.0 240.2L166.0 235.7L170.0 230.7L172.0 228.1L173.5 226.1L175.0 224.0L176.5 221.8L178.0 219.6L179.5 217.4L181.0 215.0L182.5 212.5L184.0 209.9L185.5 207.1L187.0 204.3L188.5 201.3L190.0 197.8L191.5 195.0L192.0 194.4L193.0 193.5L230.0 195.7L270.0 198.1L310.0 200.4L350.0 202.8L390.0 205.2L430.0 207.6L470.0 210.0L514.0 212.6L514.0 303.5L58.0 303.5Z"/>
<path fill="#0009e8" d="M58.0 300.5L62.0 300.2L66.0 299.8L70.0 299.3L74.0 298.7L78.0 298.0L82.0 297.2L86.0 296.3L90.0 295.3L94.0 294.1L98.0 292.8L102.0 291.2L106.0 289.1L110.0 286.5L114.0 283.5L118.0 280.2L122.0 276.9L126.0 273.7L130.0 270.5L134.0 267.2L138.0 263.9L142.0 260.4L146.0 256.9L150.0 253.2L154.0 249.3L158.0 245.2L162.0 241.0L166.0 236.4L170.0 231.5L172.0 228.9L173.5 226.8L175.0 224.7L176.5 222.6L178.0 220.4L179.5 218.2L181.0 215.8L182.5 213.3L184.0 210.7L185.5 208.0L187.0 205.2L188.5 202.2L190.0 198.7L191.5 196.0L192.0 195.4L193.0 194.5L230.0 196.7L270.0 199.1L310.0 201.4L350.0 203.8L390.0 206.2L430.0 208.6L470.0 210.9L514.0 213.6L514.0 303.5L58.0 303.5Z"/>
<path fill="#0008e7" d="M58.0 300.6L62.0 300.3L66.0 299.9L70.0 299.5L74.0 298.9L78.0 298.2L82.0 297.4L86.0 296.5L90.0 295.5L94.0 294.3L98.0 293.0L102.0 291.5L106.0 289.4L110.0 286.8L114.0 283.9L118.0 280.7L122.0 277.4L126.0 274.1L130.0 271.0L134.0 267.8L138.0 264.5L142.0 261.0L146.0 257.5L150.0 253.8L154.0 249.9L158.0 245.9L162.0 241.7L166.0 237.1L170.0 232.2L172.0 229.6L173.5 227.6L175.0 225.5L176.5 223.4L178.0 221.2L179.5 218.9L181.0 216.6L182.5 214.2L184.0 211.6L185.5 208.9L187.0 206.1L188.5 203.1L190.0 199.7L191.5 197.0L192.0 196.4L193.0 195.5L230.0 197.7L270.0 200.1L310.0 202.4L350.0 204.8L390.0 207.2L430.0 209.6L470.0 211.9L514.0 214.5L514.0 303.5L58.0 303.5Z"/>
<path fill="#0007e5" d="M58.0 300.7L62.0 300.4L66.0 300.0L70.0 299.6L74.0 299.0L78.0 298.3L82.0 297.6L86.0 296.7L90.0 295.7L94.0 294.6L98.0 293.3L102.0 291.8L106.0 289.7L110.0 287.2L114.0 284.2L118.0 281.1L122.0 277.8L126.0 274.6L130.0 271.5L134.0 268.3L138.0 265.0L142.0 261.6L146.0 258.1L150.0 254.4L154.0 250.6L158.0 246.6L162.0 242.3L166.0 237.8L170.0 232.9L172.0 230.3L173.5 228.3L175.0 226.3L176.5 224.1L178.0 222.0L179.5 219.7L181.0 217.4L182.5 215.0L184.0 212.4L185.5 209.8L187.0 207.0L188.5 204.1L190.0 200.7L191.5 197.9L192.0 197.3L193.0 196.5L230.0 198.7L270.0 201.1L310.0 203.4L350.0 205.8L390.0 208.2L430.0 210.6L470.0 212.9L514.0 215.5L514.0 303.5L58.0 303.5Z"/>
<path fill="#0007e4" d="M58.0 300.8L62.0 300.5L66.0 300.2L70.0 299.7L74.0 299.1L78.0 298.5L82.0 297.7L86.0 296.9L90.0 295.9L94.0 294.8L98.0 293.5L102.0 292.1L106.0 290.0L110.0 287.5L114.0 284.6L118.0 281.5L122.0 278.3L126.0 275.1L130.0 272.0L134.0 268.8L138.0 265.6L142.0 262.2L146.0 258.7L150.0 255.0L154.0 251.2L158.0 247.2L162.0 243.0L166.0 238.5L170.0 233.7L172.0 231.1L173.5 229.1L175.0 227.0L176.5 224.9L178.0 222.7L179.5 220.5L181.0 218.2L182.5 215.8L184.0 213.3L185.5 210.7L187.0 207.9L188.5 205.0L190.0 201.6L191.5 198.9L192.0 198.3L193.0 197.5L230.0 199.7L270.0 202.1L310.0 204.4L350.0 206.8L390.0 209.2L430.0 211.5L470.0 213.9L514.0 216.5L514.0 303.5L58.0 303.5Z"/>
<path fill="#0007e2" d="M58.0 300.9L62.0 300.6L66.0 300.3L70.0 299.8L74.0 299.2L78.0 298.6L82.0 297.9L86.0 297.0L90.0 296.1L94.0 295.0L98.0 293.8L102.0 292.3L106.0 290.3L110.0 287.8L114.0 285.0L118.0 281.9L122.0 278.7L126.0 275.6L130.0 272.5L134.0 269.4L138.0 266.1L142.0 262.8L146.0 259.3L150.0 255.7L154.0 251.9L158.0 247.9L162.0 243.7L166.0 239.2L170.0 234.4L172.0 231.8L173.5 229.8L175.0 227.8L176.5 225.7L178.0 223.5L179.5 221.3L181.0 219.0L182.5 216.7L184.0 214.2L185.5 211.6L187.0 208.8L188.5 206.0L190.0 202.6L191.5 199.9L192.0 199.3L193.0 198.5L230.0 200.7L270.0 203.1L310.0 205.4L350.0 207.8L390.0 210.2L430.0 212.5L470.0 214.9L514.0 217.5L514.0 303.5L58.0 303.5Z"/>
<path fill="#0006e0" d="M58.0 300.9L62.0 300.7L66.0 300.4L70.0 299.9L74.0 299.4L78.0 298.7L82.0 298.0L86.0 297.2L90.0 296.3L94.0 295.2L98.0 294.0L102.0 292.6L106.0 290.6L110.0 288.2L114.0 285.3L118.0 282.3L122.0 279.2L126.0 276.1L130.0 273.0L134.0 269.9L138.0 266.7L142.0 263.4L146.0 259.9L150.0 256.3L154.0 252.5L158.0 248.6L162.0 244.4L166.0 240.0L170.0 235.1L172.0 232.5L173.5 230.6L175.0 228.5L176.5 226.4L178.0 224.3L179.5 222.1L181.0 219.8L182.5 217.5L184.0 215.0L185.5 212.4L187.0 209.7L188.5 206.9L190.0 203.6L191.5 200.9L192.0 200.3L193.0 199.5L230.0 201.7L270.0 204.1L310.0 206.4L350.0 208.8L390.0 211.2L430.0 213.5L470.0 215.9L514.0 218.5L514.0 303.5L58.0 303.5Z"/>
<path fill="#0006df" d="M58.0 301.0L62.0 300.8L66.0 300.5L70.0 300.0L74.0 299.5L78.0 298.9L82.0 298.2L86.0 297.4L90.0 296.5L94.0 295.4L98.0 294.3L102.0 292.9L106.0 290.9L110.0 288.5L114.0 285.7L118.0 282.7L122.0 279.6L126.0 276.5L130.0 273.5L134.0 270.4L138.0 267.2L142.0 263.9L146.0 260.5L150.0 256.9L154.0 253.2L158.0 249.2L162.0 245.1L166.0 240.7L170.0 235.8L172.0 233.3L173.5 231.3L175.0 229.3L176.5 227.2L178.0 225.1L179.5 222.9L181.0 220.7L182.5 218.3L184.0 215.9L185.5 213.3L187.0 210.7L188.5 207.9L190.0 204.5L191.5 201.9L192.0 201.3L193.0 200.5L230.0 202.7L270.0 205.1L310.0 207.4L350.0 209.8L390.0 212.2L430.0 214.5L470.0 216.9L514.0 219.5L514.0 303.5L58.0 303.5Z"/>
<path fill="#0005dd" d="M58.0 301.1L62.0 300.9L66.0 300.6L70.0 300.1L74.0 299.6L78.0 299.0L82.0 298.3L86.0 297.5L90.0 296.7L94.0 295.6L98.0 294.5L102.0 293.1L106.0 291.2L110.0 288.8L114.0 286.1L118.0 283.1L122.0 280.0L126.0 277.0L130.0 274.0L134.0 270.9L138.0 267.8L142.0 264.5L146.0 261.1L150.0 257.5L154.0 253.8L158.0 249.9L162.0 245.8L166.0 241.4L170.0 236.6L172.0 234.0L173.5 232.0L175.0 230.0L176.5 228.0L178.0 225.8L179.5 223.7L181.0 221.5L182.5 219.2L184.0 216.7L185.5 214.2L187.0 211.6L188.5 208.8L190.0 205.5L191.5 202.9L192.0 202.3L193.0 201.5L230.0 203.7L270.0 206.1L310.0 208.4L350.0 210.8L390.0 213.2L430.0 215.5L470.0 217.9L514.0 220.5L514.0 303.5L58.0 303.5Z"/>
<path fill="#0005db" d="M58.0 301.2L62.0 301.0L66.0 300.7L70.0 300.2L74.0 299.7L78.0 299.1L82.0 298.5L86.0 297.7L90.0 296.8L94.0 295.8L98.0 294.7L102.0 293.4L106.0 291.5L110.0 289.1L114.0 286.4L118.0 283.5L122.0 280.4L126.0 277.4L130.0 274.5L134.0 271.5L138.0 268.3L142.0 265.1L146.0 261.7L150.0 258.1L154.0 254.4L158.0 250.6L162.0 246.5L166.0 242.1L170.0 237.3L172.0 234.7L173.5 232.8L175.0 230.8L176.5 228.7L178.0 226.6L179.5 224.5L181.0 222.3L182.5 220.0L184.0 217.6L185.5 215.1L187.0 212.5L188.5 209.7L190.0 206.5L191.5 203.9L192.0 203.3L193.0 202.5L230.0 204.7L270.0 207.1L310.0 209.4L350.0 211.8L390.0 214.1L430.0 216.5L470.0 218.9L514.0 221.5L514.0 303.5L58.0 303.5Z"/>
<path fill="#0004da" d="M58.0 301.3L62.0 301.0L66.0 300.8L70.0 300.3L74.0 299.8L78.0 299.3L82.0 298.6L86.0 297.9L90.0 297.0L94.0 296.0L98.0 294.9L102.0 293.6L106.0 291.8L110.0 289.5L114.0 286.8L118.0 283.9L122.0 280.9L126.0 277.9L130.0 275.0L134.0 272.0L138.0 268.9L142.0 265.6L146.0 262.3L150.0 258.7L154.0 255.1L158.0 251.2L162.0 247.2L166.0 242.8L170.0 238.0L172.0 235.5L173.5 233.5L175.0 231.5L176.5 229.5L178.0 227.4L179.5 225.3L181.0 223.1L182.5 220.8L184.0 218.5L185.5 216.0L187.0 213.4L188.5 210.7L190.0 207.4L191.5 204.9L192.0 204.3L193.0 203.5L230.0 205.7L270.0 208.0L310.0 210.4L350.0 212.8L390.0 215.1L430.0 217.5L470.0 219.9L514.0 222.5L514.0 303.5L58.0 303.5Z"/>
<path fill="#0004d8" d="M58.0 301.3L62.0 301.1L66.0 300.8L70.0 300.4L74.0 300.0L78.0 299.4L82.0 298.8L86.0 298.0L90.0 297.2L94.0 296.3L98.0 295.2L102.0 293.9L106.0 292.1L110.0 289.8L114.0 287.1L118.0 284.2L122.0 281.3L126.0 278.3L130.0 275.5L134.0 272.5L138.0 269.4L142.0 266.2L146.0 262.8L150.0 259.4L154.0 255.7L158.0 251.9L162.0 247.8L166.0 243.5L170.0 238.7L172.0 236.2L173.5 234.3L175.0 232.3L176.5 230.2L178.0 228.2L179.5 226.1L181.0 223.9L182.5 221.6L184.0 219.3L185.5 216.9L187.0 214.3L188.5 211.6L190.0 208.4L191.5 205.8L192.0 205.3L193.0 204.5L230.0 206.7L270.0 209.0L310.0 211.4L350.0 213.8L390.0 216.1L430.0 218.5L470.0 220.9L514.0 223.5L514.0 303.5L58.0 303.5Z"/>
<path fill="#0004d6" d="M58.0 301.4L62.0 301.2L66.0 300.9L70.0 300.5L74.0 300.1L78.0 299.5L82.0 298.9L86.0 298.2L90.0 297.4L94.0 296.5L98.0 295.4L102.0 294.1L106.0 292.4L110.0 290.1L114.0 287.5L118.0 284.6L122.0 281.7L126.0 278.8L130.0 275.9L134.0 273.0L138.0 269.9L142.0 266.7L146.0 263.4L150.0 260.0L154.0 256.3L158.0 252.5L162.0 248.5L166.0 244.2L170.0 239.4L172.0 236.9L173.5 235.0L175.0 233.0L176.5 231.0L178.0 228.9L179.5 226.8L181.0 224.7L182.5 222.5L184.0 220.2L185.5 217.8L187.0 215.2L188.5 212.5L190.0 209.4L191.5 206.8L192.0 206.3L193.0 205.5L230.0 207.7L270.0 210.0L310.0 212.4L350.0 214.8L390.0 217.1L430.0 219.5L470.0 221.9L514.0 224.4L514.0 303.5L58.0 303.5Z"/>
<path fill="#0003d5" d="M58.0 301.5L62.0 301.3L66.0 301.0L70.0 300.6L74.0 300.2L78.0 299.7L82.0 299.0L86.0 298.4L90.0 297.6L94.0 296.6L98.0 295.6L102.0 294.4L106.0 292.6L110.0 290.4L114.0 287.8L118.0 285.0L122.0 282.1L126.0 279.2L130.0 276.4L134.0 273.5L138.0 270.4L142.0 267.3L146.0 264.0L150.0 260.6L154.0 256.9L158.0 253.2L162.0 249.2L166.0 244.9L170.0 240.2L172.0 237.7L173.5 235.7L175.0 233.8L176.5 231.8L178.0 229.7L179.5 227.6L181.0 225.5L182.5 223.3L184.0 221.0L185.5 218.6L187.0 216.1L188.5 213.5L190.0 210.3L191.5 207.8L192.0 207.3L193.0 206.5L230.0 208.7L270.0 211.0L310.0 213.4L350.0 215.8L390.0 218.1L430.0 220.5L470.0 222.8L514.0 225.4L514.0 303.5L58.0 303.5Z"/>
<path fill="#0003d3" d="M58.0 301.6L62.0 301.4L66.0 301.1L70.0 300.7L74.0 300.3L78.0 299.8L82.0 299.2L86.0 298.5L90.0 297.7L94.0 296.8L98.0 295.8L102.0 294.6L106.0 292.9L110.0 290.7L114.0 288.1L118.0 285.4L122.0 282.5L126.0 279.7L130.0 276.9L134.0 274.0L138.0 271.0L142.0 267.8L146.0 264.6L150.0 261.1L154.0 257.6L158.0 253.8L162.0 249.9L166.0 245.6L170.0 240.9L172.0 238.4L173.5 236.5L175.0 234.5L176.5 232.5L178.0 230.5L179.5 228.4L181.0 226.3L182.5 224.1L184.0 221.9L185.5 219.5L187.0 217.0L188.5 214.4L190.0 211.3L191.5 208.8L192.0 208.2L193.0 207.5L230.0 209.7L270.0 212.0L310.0 214.4L350.0 216.8L390.0 219.1L430.0 221.5L470.0 223.8L514.0 226.4L514.0 303.5L58.0 303.5Z"/>
<path fill="#0002d1" d="M58.0 301.6L62.0 301.5L66.0 301.2L70.0 300.8L74.0 300.4L78.0 299.9L82.0 299.3L86.0 298.7L90.0 297.9L94.0 297.0L98.0 296.0L102.0 294.9L106.0 293.2L110.0 291.0L114.0 288.5L118.0 285.7L122.0 282.9L126.0 280.1L130.0 277.3L134.0 274.5L138.0 271.5L142.0 268.4L146.0 265.1L150.0 261.7L154.0 258.2L158.0 254.4L162.0 250.5L166.0 246.3L170.0 241.6L172.0 239.1L173.5 237.2L175.0 235.3L176.5 233.3L178.0 231.3L179.5 229.2L181.0 227.1L182.5 225.0L184.0 222.7L185.5 220.4L187.0 218.0L188.5 215.4L190.0 212.2L191.5 209.8L192.0 209.2L193.0 208.5L230.0 210.7L270.0 213.0L310.0 215.4L350.0 217.8L390.0 220.1L430.0 222.5L470.0 224.8L514.0 227.4L514.0 303.5L58.0 303.5Z"/>
<path fill="#0002d0" d="M58.0 301.7L62.0 301.5L66.0 301.3L70.0 300.9L74.0 300.5L78.0 300.0L82.0 299.5L86.0 298.8L90.0 298.1L94.0 297.2L98.0 296.3L102.0 295.1L106.0 293.4L110.0 291.3L114.0 288.8L118.0 286.1L122.0 283.3L126.0 280.5L130.0 277.8L134.0 275.0L138.0 272.0L142.0 268.9L146.0 265.7L150.0 262.3L154.0 258.8L158.0 255.1L162.0 251.2L166.0 247.0L170.0 242.3L172.0 239.8L173.5 237.9L175.0 236.0L176.5 234.0L178.0 232.0L179.5 230.0L181.0 227.9L182.5 225.8L184.0 223.6L185.5 221.3L187.0 218.9L188.5 216.3L190.0 213.2L191.5 210.8L192.0 210.2L193.0 209.5L230.0 211.7L270.0 214.0L310.0 216.4L350.0 218.7L390.0 221.1L430.0 223.5L470.0 225.8L514.0 228.4L514.0 303.5L58.0 303.5Z"/>
<path fill="#0001ce" d="M58.0 301.8L62.0 301.6L66.0 301.4L70.0 301.0L74.0 300.6L78.0 300.1L82.0 299.6L86.0 299.0L90.0 298.2L94.0 297.4L98.0 296.5L102.0 295.3L106.0 293.7L110.0 291.6L114.0 289.1L118.0 286.5L122.0 283.7L126.0 281.0L130.0 278.2L134.0 275.4L138.0 272.5L142.0 269.5L146.0 266.3L150.0 262.9L154.0 259.4L158.0 255.7L162.0 251.9L166.0 247.6L170.0 243.0L172.0 240.6L173.5 238.7L175.0 236.8L176.5 234.8L178.0 232.8L179.5 230.8L181.0 228.7L182.5 226.6L184.0 224.5L185.5 222.2L187.0 219.8L188.5 217.2L190.0 214.2L191.5 211.8L192.0 211.2L193.0 210.5L230.0 212.7L270.0 215.0L310.0 217.4L350.0 219.7L390.0 222.1L430.0 224.5L470.0 226.8L514.0 229.4L514.0 303.5L58.0 303.5Z"/>
<path fill="#0001cc" d="M58.0 301.9L62.0 301.7L66.0 301.5L70.0 301.1L74.0 300.7L78.0 300.2L82.0 299.7L86.0 299.1L90.0 298.4L94.0 297.6L98.0 296.7L102.0 295.6L106.0 294.0L110.0 291.9L114.0 289.5L118.0 286.8L122.0 284.1L126.0 281.4L130.0 278.7L134.0 275.9L138.0 273.0L142.0 270.0L146.0 266.8L150.0 263.5L154.0 260.0L158.0 256.4L162.0 252.5L166.0 248.3L170.0 243.7L172.0 241.3L173.5 239.4L175.0 237.5L176.5 235.6L178.0 233.6L179.5 231.6L181.0 229.6L182.5 227.5L184.0 225.3L185.5 223.1L187.0 220.7L188.5 218.2L190.0 215.1L191.5 212.7L192.0 212.2L193.0 211.5L230.0 213.7L270.0 216.0L310.0 218.4L350.0 220.7L390.0 223.1L430.0 225.4L470.0 227.8L514.0 230.4L514.0 303.5L58.0 303.5Z"/>
<path fill="#0001cb" d="M58.0 301.9L62.0 301.8L66.0 301.6L70.0 301.2L74.0 300.8L78.0 300.4L82.0 299.8L86.0 299.2L90.0 298.6L94.0 297.8L98.0 296.9L102.0 295.8L106.0 294.2L110.0 292.2L114.0 289.8L118.0 287.2L122.0 284.5L126.0 281.8L130.0 279.1L134.0 276.4L138.0 273.5L142.0 270.5L146.0 267.4L150.0 264.1L154.0 260.6L158.0 257.0L162.0 253.2L166.0 249.0L170.0 244.4L172.0 242.0L173.5 240.1L175.0 238.2L176.5 236.3L178.0 234.4L179.5 232.4L181.0 230.4L182.5 228.3L184.0 226.2L185.5 223.9L187.0 221.6L188.5 219.1L190.0 216.1L191.5 213.7L192.0 213.2L193.0 212.5L230.0 214.7L270.0 217.0L310.0 219.4L350.0 221.7L390.0 224.1L430.0 226.4L470.0 228.8L514.0 231.4L514.0 303.5L58.0 303.5Z"/>
<path fill="#0000c9" d="M58.0 302.0L62.0 301.9L66.0 301.6L70.0 301.3L74.0 300.9L78.0 300.5L82.0 300.0L86.0 299.4L90.0 298.7L94.0 298.0L98.0 297.1L102.0 296.0L106.0 294.5L110.0 292.4L114.0 290.1L118.0 287.5L122.0 284.9L126.0 282.2L130.0 279.6L134.0 276.9L138.0 274.0L142.0 271.0L146.0 267.9L150.0 264.6L154.0 261.2L158.0 257.6L162.0 253.8L166.0 249.7L170.0 245.1L172.0 242.7L173.5 240.9L175.0 239.0L176.5 237.1L178.0 235.1L179.5 233.2L181.0 231.2L182.5 229.1L184.0 227.0L185.5 224.8L187.0 222.5L188.5 220.1L190.0 217.1L191.5 214.7L192.0 214.2L193.0 213.5L230.0 215.7L270.0 218.0L310.0 220.4L350.0 222.7L390.0 225.1L430.0 227.4L470.0 229.8L514.0 232.4L514.0 303.5L58.0 303.5Z"/>
<path fill="#0000c7" d="M58.0 302.1L62.0 301.9L66.0 301.7L70.0 301.4L74.0 301.0L78.0 300.6L82.0 300.1L86.0 299.5L90.0 298.9L94.0 298.1L98.0 297.3L102.0 296.2L106.0 294.7L110.0 292.7L114.0 290.4L118.0 287.9L122.0 285.2L126.0 282.6L130.0 280.0L134.0 277.3L138.0 274.5L142.0 271.6L146.0 268.5L150.0 265.2L154.0 261.8L158.0 258.2L162.0 254.5L166.0 250.4L170.0 245.8L172.0 243.4L173.5 241.6L175.0 239.7L176.5 237.8L178.0 235.9L179.5 233.9L181.0 232.0L182.5 230.0L184.0 227.9L185.5 225.7L187.0 223.4L188.5 221.0L190.0 218.0L191.5 215.7L192.0 215.2L193.0 214.5L230.0 216.7L270.0 219.0L310.0 221.4L350.0 223.7L390.0 226.1L430.0 228.4L470.0 230.8L514.0 233.4L514.0 303.5L58.0 303.5Z"/>
<path fill="#0000c4" d="M58.0 302.1L62.0 302.0L66.0 301.8L70.0 301.5L74.0 301.1L78.0 300.7L82.0 300.2L86.0 299.7L90.0 299.0L94.0 298.3L98.0 297.5L102.0 296.5L106.0 295.0L110.0 293.0L114.0 290.7L118.0 288.2L122.0 285.6L126.0 283.0L130.0 280.5L134.0 277.8L138.0 275.0L142.0 272.1L146.0 269.0L150.0 265.8L154.0 262.4L158.0 258.9L162.0 255.1L166.0 251.1L170.0 246.5L172.0 244.2L173.5 242.3L175.0 240.5L176.5 238.6L178.0 236.7L179.5 234.7L181.0 232.8L182.5 230.8L184.0 228.7L185.5 226.6L187.0 224.3L188.5 221.9L190.0 219.0L191.5 216.7L192.0 216.2L193.0 215.5L230.0 217.7L270.0 220.0L310.0 222.4L350.0 224.7L390.0 227.1L430.0 229.4L470.0 231.8L514.0 234.4L514.0 303.5L58.0 303.5Z"/>
<path fill="#0000c1" d="M58.0 302.2L62.0 302.1L66.0 301.9L70.0 301.6L74.0 301.2L78.0 300.8L82.0 300.3L86.0 299.8L90.0 299.2L94.0 298.5L98.0 297.7L102.0 296.7L106.0 295.2L110.0 293.3L114.0 291.0L118.0 288.5L122.0 286.0L126.0 283.4L130.0 280.9L134.0 278.3L138.0 275.5L142.0 272.6L146.0 269.6L150.0 266.4L154.0 263.0L158.0 259.5L162.0 255.8L166.0 251.7L170.0 247.3L172.0 244.9L173.5 243.1L175.0 241.2L176.5 239.3L178.0 237.4L179.5 235.5L181.0 233.6L182.5 231.6L184.0 229.6L185.5 227.5L187.0 225.2L188.5 222.9L190.0 220.0L191.5 217.7L192.0 217.2L193.0 216.5L230.0 218.7L270.0 221.0L310.0 223.4L350.0 225.7L390.0 228.1L430.0 230.4L470.0 232.8L514.0 235.3L514.0 303.5L58.0 303.5Z"/>
<path fill="#0000be" d="M58.0 302.2L62.0 302.1L66.0 301.9L70.0 301.6L74.0 301.3L78.0 300.9L82.0 300.5L86.0 299.9L90.0 299.3L94.0 298.6L98.0 297.8L102.0 296.9L106.0 295.4L110.0 293.5L114.0 291.3L118.0 288.9L122.0 286.3L126.0 283.8L130.0 281.3L134.0 278.7L138.0 276.0L142.0 273.1L146.0 270.1L150.0 266.9L154.0 263.6L158.0 260.1L162.0 256.4L166.0 252.4L170.0 248.0L172.0 245.6L173.5 243.8L175.0 242.0L176.5 240.1L178.0 238.2L179.5 236.3L181.0 234.4L182.5 232.5L184.0 230.5L185.5 228.4L187.0 226.2L188.5 223.8L190.0 220.9L191.5 218.7L192.0 218.2L193.0 217.5L230.0 219.7L270.0 222.0L310.0 224.4L350.0 226.7L390.0 229.1L430.0 231.4L470.0 233.8L514.0 236.3L514.0 303.5L58.0 303.5Z"/>
<path fill="#0000bb" d="M58.0 302.3L62.0 302.2L66.0 302.0L70.0 301.7L74.0 301.4L78.0 301.0L82.0 300.6L86.0 300.1L90.0 299.5L94.0 298.8L98.0 298.0L102.0 297.1L106.0 295.7L110.0 293.8L114.0 291.6L118.0 289.2L122.0 286.7L126.0 284.2L130.0 281.8L134.0 279.2L138.0 276.5L142.0 273.6L146.0 270.6L150.0 267.5L154.0 264.2L158.0 260.7L162.0 257.1L166.0 253.1L170.0 248.7L172.0 246.3L173.5 244.5L175.0 242.7L176.5 240.8L178.0 239.0L179.5 237.1L181.0 235.2L182.5 233.3L184.0 231.3L185.5 229.2L187.0 227.1L188.5 224.7L190.0 221.9L191.5 219.6L192.0 219.2L193.0 218.5L230.0 220.7L270.0 223.0L310.0 225.4L350.0 227.7L390.0 230.1L430.0 232.4L470.0 234.7L514.0 237.3L514.0 303.5L58.0 303.5Z"/>
<path fill="#0000b8" d="M58.0 302.4L62.0 302.3L66.0 302.1L70.0 301.8L74.0 301.5L78.0 301.1L82.0 300.7L86.0 300.2L90.0 299.6L94.0 299.0L98.0 298.2L102.0 297.3L106.0 295.9L110.0 294.1L114.0 291.9L118.0 289.5L122.0 287.1L126.0 284.6L130.0 282.2L134.0 279.6L138.0 276.9L142.0 274.1L146.0 271.1L150.0 268.0L154.0 264.8L158.0 261.3L162.0 257.7L166.0 253.8L170.0 249.4L172.0 247.0L173.5 245.2L175.0 243.4L176.5 241.6L178.0 239.7L179.5 237.9L181.0 236.0L182.5 234.1L184.0 232.2L185.5 230.1L187.0 228.0L188.5 225.7L190.0 222.9L191.5 220.6L192.0 220.1L193.0 219.5L230.0 221.7L270.0 224.0L310.0 226.4L350.0 228.7L390.0 231.0L430.0 233.4L470.0 235.7L514.0 238.3L514.0 303.5L58.0 303.5Z"/>
<path fill="#0000b5" d="M58.0 302.4L62.0 302.3L66.0 302.2L70.0 301.9L74.0 301.6L78.0 301.2L82.0 300.8L86.0 300.3L90.0 299.8L94.0 299.1L98.0 298.4L102.0 297.5L106.0 296.1L110.0 294.3L114.0 292.2L118.0 289.9L122.0 287.4L126.0 285.0L130.0 282.6L134.0 280.1L138.0 277.4L142.0 274.6L146.0 271.7L150.0 268.6L154.0 265.4L158.0 261.9L162.0 258.4L166.0 254.4L170.0 250.1L172.0 247.7L173.5 246.0L175.0 244.2L176.5 242.4L178.0 240.5L179.5 238.7L181.0 236.8L182.5 235.0L184.0 233.0L185.5 231.0L187.0 228.9L188.5 226.6L190.0 223.8L191.5 221.6L192.0 221.1L193.0 220.5L230.0 222.7L270.0 225.0L310.0 227.4L350.0 229.7L390.0 232.0L430.0 234.4L470.0 236.7L514.0 239.3L514.0 303.5L58.0 303.5Z"/>
<path fill="#0000b2" d="M58.0 302.5L62.0 302.4L66.0 302.2L70.0 302.0L74.0 301.7L78.0 301.3L82.0 300.9L86.0 300.4L90.0 299.9L94.0 299.3L98.0 298.6L102.0 297.7L106.0 296.4L110.0 294.6L114.0 292.5L118.0 290.2L122.0 287.8L126.0 285.4L130.0 283.0L134.0 280.5L138.0 277.9L142.0 275.1L146.0 272.2L150.0 269.1L154.0 265.9L158.0 262.6L162.0 259.0L166.0 255.1L170.0 250.8L172.0 248.5L173.5 246.7L175.0 244.9L176.5 243.1L178.0 241.3L179.5 239.5L181.0 237.6L182.5 235.8L184.0 233.9L185.5 231.9L187.0 229.8L188.5 227.5L190.0 224.8L191.5 222.6L192.0 222.1L193.0 221.5L230.0 223.7L270.0 226.0L310.0 228.4L350.0 230.7L390.0 233.0L430.0 235.4L470.0 237.7L514.0 240.3L514.0 303.5L58.0 303.5Z"/>
<path fill="#0000af" d="M58.0 302.5L62.0 302.5L66.0 302.3L70.0 302.0L74.0 301.7L78.0 301.4L82.0 301.0L86.0 300.6L90.0 300.0L94.0 299.4L98.0 298.7L102.0 297.9L106.0 296.6L110.0 294.8L114.0 292.8L118.0 290.5L122.0 288.1L126.0 285.8L130.0 283.4L134.0 280.9L138.0 278.3L142.0 275.6L146.0 272.7L150.0 269.7L154.0 266.5L158.0 263.2L162.0 259.6L166.0 255.8L170.0 251.4L172.0 249.2L173.5 247.4L175.0 245.7L176.5 243.9L178.0 242.1L179.5 240.2L181.0 238.4L182.5 236.6L184.0 234.7L185.5 232.8L187.0 230.7L188.5 228.5L190.0 225.7L191.5 223.6L192.0 223.1L193.0 222.5L230.0 224.7L270.0 227.0L310.0 229.3L350.0 231.7L390.0 234.0L430.0 236.4L470.0 238.7L514.0 241.3L514.0 303.5L58.0 303.5Z"/>
<path fill="#0000ac" d="M58.0 302.6L62.0 302.5L66.0 302.4L70.0 302.1L74.0 301.8L78.0 301.5L82.0 301.1L86.0 300.7L90.0 300.2L94.0 299.6L98.0 298.9L102.0 298.1L106.0 296.8L110.0 295.1L114.0 293.0L118.0 290.8L122.0 288.5L126.0 286.1L130.0 283.8L134.0 281.4L138.0 278.8L142.0 276.1L146.0 273.2L150.0 270.2L154.0 267.1L158.0 263.8L162.0 260.3L166.0 256.4L170.0 252.1L172.0 249.9L173.5 248.1L175.0 246.4L176.5 244.6L178.0 242.8L179.5 241.0L181.0 239.2L182.5 237.4L184.0 235.6L185.5 233.7L187.0 231.6L188.5 229.4L190.0 226.7L191.5 224.6L192.0 224.1L193.0 223.5L230.0 225.7L270.0 228.0L310.0 230.3L350.0 232.7L390.0 235.0L430.0 237.4L470.0 239.7L514.0 242.3L514.0 303.5L58.0 303.5Z"/>
<path fill="#0000a9" d="M58.0 302.7L62.0 302.6L66.0 302.4L70.0 302.2L74.0 301.9L78.0 301.6L82.0 301.2L86.0 300.8L90.0 300.3L94.0 299.7L98.0 299.1L102.0 298.3L106.0 297.0L110.0 295.3L114.0 293.3L118.0 291.1L122.0 288.8L126.0 286.5L130.0 284.2L134.0 281.8L138.0 279.3L142.0 276.6L146.0 273.7L150.0 270.8L154.0 267.6L158.0 264.4L162.0 260.9L166.0 257.1L170.0 252.8L172.0 250.6L173.5 248.9L175.0 247.1L176.5 245.4L178.0 243.6L179.5 241.8L181.0 240.1L182.5 238.3L184.0 236.4L185.5 234.5L187.0 232.5L188.5 230.4L190.0 227.7L191.5 225.6L192.0 225.1L193.0 224.5L230.0 226.7L270.0 229.0L310.0 231.3L350.0 233.7L390.0 236.0L430.0 238.4L470.0 240.7L514.0 243.3L514.0 303.5L58.0 303.5Z"/>
<path fill="#0000a6" d="M58.0 302.7L62.0 302.6L66.0 302.5L70.0 302.3L74.0 302.0L78.0 301.7L82.0 301.3L86.0 300.9L90.0 300.4L94.0 299.9L98.0 299.3L102.0 298.5L106.0 297.2L110.0 295.6L114.0 293.6L118.0 291.4L122.0 289.1L126.0 286.9L130.0 284.6L134.0 282.2L138.0 279.7L142.0 277.1L146.0 274.3L150.0 271.3L154.0 268.2L158.0 265.0L162.0 261.5L166.0 257.7L170.0 253.5L172.0 251.3L173.5 249.6L175.0 247.9L176.5 246.1L178.0 244.4L179.5 242.6L181.0 240.9L182.5 239.1L184.0 237.3L185.5 235.4L187.0 233.4L188.5 231.3L190.0 228.6L191.5 226.5L192.0 226.1L193.0 225.5L230.0 227.7L270.0 230.0L310.0 232.3L350.0 234.7L390.0 237.0L430.0 239.3L470.0 241.7L514.0 244.3L514.0 303.5L58.0 303.5Z"/>
<path fill="#0000a3" d="M58.0 302.8L62.0 302.7L66.0 302.6L70.0 302.3L74.0 302.1L78.0 301.8L82.0 301.4L86.0 301.0L90.0 300.6L94.0 300.0L98.0 299.4L102.0 298.6L106.0 297.4L110.0 295.8L114.0 293.8L118.0 291.7L122.0 289.5L126.0 287.2L130.0 285.0L134.0 282.6L138.0 280.2L142.0 277.5L146.0 274.8L150.0 271.8L154.0 268.8L158.0 265.6L162.0 262.2L166.0 258.4L170.0 254.2L172.0 252.0L173.5 250.3L175.0 248.6L176.5 246.9L178.0 245.1L179.5 243.4L181.0 241.7L182.5 239.9L184.0 238.2L185.5 236.3L187.0 234.3L188.5 232.2L190.0 229.6L191.5 227.5L192.0 227.1L193.0 226.5L230.0 228.7L270.0 231.0L310.0 233.3L350.0 235.7L390.0 238.0L430.0 240.3L470.0 242.7L514.0 245.2L514.0 303.5L58.0 303.5Z"/>
<path fill="#0000a0" d="M58.0 302.8L62.0 302.8L66.0 302.6L70.0 302.4L74.0 302.1L78.0 301.9L82.0 301.5L86.0 301.1L90.0 300.7L94.0 300.2L98.0 299.6L102.0 298.8L106.0 297.6L110.0 296.0L114.0 294.1L118.0 292.0L122.0 289.8L126.0 287.6L130.0 285.4L134.0 283.1L138.0 280.6L142.0 278.0L146.0 275.3L150.0 272.4L154.0 269.3L158.0 266.1L162.0 262.8L166.0 259.1L170.0 254.9L172.0 252.7L173.5 251.0L175.0 249.3L176.5 247.6L178.0 245.9L179.5 244.2L181.0 242.5L182.5 240.8L184.0 239.0L185.5 237.2L187.0 235.2L188.5 233.2L190.0 230.6L191.5 228.5L192.0 228.1L193.0 227.5L230.0 229.7L270.0 232.0L310.0 234.3L350.0 236.7L390.0 239.0L430.0 241.3L470.0 243.7L514.0 246.2L514.0 303.5L58.0 303.5Z"/>
<path fill="#00009d" d="M58.0 302.9L62.0 302.8L66.0 302.7L70.0 302.5L74.0 302.2L78.0 301.9L82.0 301.6L86.0 301.3L90.0 300.8L94.0 300.3L98.0 299.7L102.0 299.0L106.0 297.8L110.0 296.2L114.0 294.4L118.0 292.3L122.0 290.1L126.0 287.9L130.0 285.8L134.0 283.5L138.0 281.0L142.0 278.5L146.0 275.8L150.0 272.9L154.0 269.9L158.0 266.7L162.0 263.4L166.0 259.7L170.0 255.6L172.0 253.4L173.5 251.8L175.0 250.1L176.5 248.4L178.0 246.7L179.5 245.0L181.0 243.3L182.5 241.6L184.0 239.9L185.5 238.1L187.0 236.1L188.5 234.1L190.0 231.5L191.5 229.5L192.0 229.1L193.0 228.5L230.0 230.7L270.0 233.0L310.0 235.3L350.0 237.7L390.0 240.0L430.0 242.3L470.0 244.7L514.0 247.2L514.0 303.5L58.0 303.5Z"/>
<path fill="#00009a" d="M58.0 302.9L62.0 302.9L66.0 302.8L70.0 302.5L74.0 302.3L78.0 302.0L82.0 301.7L86.0 301.4L90.0 300.9L94.0 300.5L98.0 299.9L102.0 299.2L106.0 298.0L110.0 296.5L114.0 294.6L118.0 292.6L122.0 290.4L126.0 288.3L130.0 286.2L134.0 283.9L138.0 281.5L142.0 278.9L146.0 276.3L150.0 273.4L154.0 270.5L158.0 267.3L162.0 264.0L166.0 260.4L170.0 256.3L172.0 254.1L173.5 252.5L175.0 250.8L176.5 249.1L178.0 247.4L179.5 245.8L181.0 244.1L182.5 242.4L184.0 240.7L185.5 238.9L187.0 237.0L188.5 235.0L190.0 232.5L191.5 230.5L192.0 230.1L193.0 229.5L230.0 231.7L270.0 234.0L310.0 236.3L350.0 238.7L390.0 241.0L430.0 243.3L470.0 245.7L514.0 248.2L514.0 303.5L58.0 303.5Z"/>
<path fill="#000098" d="M58.0 303.0L62.0 302.9L66.0 302.8L70.0 302.6L74.0 302.4L78.0 302.1L82.0 301.8L86.0 301.5L90.0 301.1L94.0 300.6L98.0 300.0L102.0 299.3L106.0 298.2L110.0 296.7L114.0 294.9L118.0 292.9L122.0 290.8L126.0 288.6L130.0 286.5L134.0 284.3L138.0 281.9L142.0 279.4L146.0 276.7L150.0 273.9L154.0 271.0L158.0 267.9L162.0 264.7L166.0 261.0L170.0 257.0L172.0 254.8L173.5 253.2L175.0 251.5L176.5 249.9L178.0 248.2L179.5 246.5L181.0 244.9L182.5 243.2L184.0 241.6L185.5 239.8L187.0 238.0L188.5 236.0L190.0 233.4L191.5 231.5L192.0 231.1L193.0 230.5L230.0 232.7L270.0 235.0L310.0 237.3L350.0 239.7L390.0 242.0L430.0 244.3L470.0 246.6L514.0 249.2L514.0 303.5L58.0 303.5Z"/>
<path fill="#000095" d="M58.0 303.0L62.0 303.0L66.0 302.9L70.0 302.7L74.0 302.4L78.0 302.2L82.0 301.9L86.0 301.6L90.0 301.2L94.0 300.7L98.0 300.2L102.0 299.5L106.0 298.4L110.0 296.9L114.0 295.1L118.0 293.1L122.0 291.1L126.0 289.0L130.0 286.9L134.0 284.7L138.0 282.3L142.0 279.9L146.0 277.2L150.0 274.5L154.0 271.6L158.0 268.5L162.0 265.3L166.0 261.7L170.0 257.7L172.0 255.5L173.5 253.9L175.0 252.3L176.5 250.6L178.0 249.0L179.5 247.3L181.0 245.7L182.5 244.1L184.0 242.4L185.5 240.7L187.0 238.9L188.5 236.9L190.0 234.4L191.5 232.5L192.0 232.0L193.0 231.5L230.0 233.7L270.0 236.0L310.0 238.3L350.0 240.6L390.0 243.0L430.0 245.3L470.0 247.6L514.0 250.2L514.0 303.5L58.0 303.5Z"/>
<path fill="#000092" d="M58.0 303.1L62.0 303.0L66.0 302.9L70.0 302.7L74.0 302.5L78.0 302.3L82.0 302.0L86.0 301.7L90.0 301.3L94.0 300.8L98.0 300.3L102.0 299.7L106.0 298.6L110.0 297.1L114.0 295.4L118.0 293.4L122.0 291.4L126.0 289.3L130.0 287.3L134.0 285.1L138.0 282.8L142.0 280.3L146.0 277.7L150.0 275.0L154.0 272.1L158.0 269.1L162.0 265.9L166.0 262.3L170.0 258.3L172.0 256.2L173.5 254.6L175.0 253.0L176.5 251.4L178.0 249.7L179.5 248.1L181.0 246.5L182.5 244.9L184.0 243.3L185.5 241.6L187.0 239.8L188.5 237.8L190.0 235.4L191.5 233.4L192.0 233.0L193.0 232.5L230.0 234.7L270.0 237.0L310.0 239.3L350.0 241.6L390.0 244.0L430.0 246.3L470.0 248.6L514.0 251.2L514.0 303.5L58.0 303.5Z"/>
<path fill="#00008f" d="M58.0 303.1L62.0 303.1L66.0 303.0L70.0 302.8L74.0 302.6L78.0 302.3L82.0 302.1L86.0 301.8L90.0 301.4L94.0 301.0L98.0 300.5L102.0 299.8L106.0 298.8L110.0 297.3L114.0 295.6L118.0 293.7L122.0 291.7L126.0 289.7L130.0 287.6L134.0 285.5L138.0 283.2L142.0 280.8L146.0 278.2L150.0 275.5L154.0 272.6L158.0 269.6L162.0 266.5L166.0 263.0L170.0 259.0L172.0 256.9L173.5 255.3L175.0 253.7L176.5 252.1L178.0 250.5L179.5 248.9L181.0 247.3L182.5 245.7L184.0 244.1L185.5 242.5L187.0 240.7L188.5 238.8L190.0 236.3L191.5 234.4L192.0 234.0L193.0 233.5L230.0 235.7L270.0 238.0L310.0 240.3L350.0 242.6L390.0 245.0L430.0 247.3L470.0 249.6L514.0 252.2L514.0 303.5L58.0 303.5Z"/>
<path fill="#00008c" d="M58.0 303.1L62.0 303.1L66.0 303.0L70.0 302.8L74.0 302.6L78.0 302.4L82.0 302.2L86.0 301.9L90.0 301.5L94.0 301.1L98.0 300.6L102.0 300.0L106.0 299.0L110.0 297.5L114.0 295.9L118.0 294.0L122.0 292.0L126.0 290.0L130.0 288.0L134.0 285.9L138.0 283.6L142.0 281.2L146.0 278.7L150.0 276.0L154.0 273.2L158.0 270.2L162.0 267.1L166.0 263.6L170.0 259.7L172.0 257.6L173.5 256.1L175.0 254.5L176.5 252.9L178.0 251.3L179.5 249.7L181.0 248.1L182.5 246.6L184.0 245.0L185.5 243.3L187.0 241.6L188.5 239.7L190.0 237.3L191.5 235.4L192.0 235.0L193.0 234.5L230.0 236.7L270.0 239.0L310.0 241.3L350.0 243.6L390.0 246.0L430.0 248.3L470.0 250.6L514.0 253.2L514.0 303.5L58.0 303.5Z"/>
<path fill="#000089" d="M58.0 303.2L62.0 303.2L66.0 303.1L70.0 302.9L74.0 302.7L78.0 302.5L82.0 302.2L86.0 302.0L90.0 301.6L94.0 301.2L98.0 300.7L102.0 300.1L106.0 299.1L110.0 297.8L114.0 296.1L118.0 294.2L122.0 292.3L126.0 290.3L130.0 288.4L134.0 286.3L138.0 284.0L142.0 281.7L146.0 279.2L150.0 276.5L154.0 273.7L158.0 270.8L162.0 267.7L166.0 264.2L170.0 260.4L172.0 258.3L173.5 256.8L175.0 255.2L176.5 253.6L178.0 252.0L179.5 250.5L181.0 248.9L182.5 247.4L184.0 245.8L185.5 244.2L187.0 242.5L188.5 240.6L190.0 238.3L191.5 236.4L192.0 236.0L193.0 235.5L230.0 237.7L270.0 240.0L310.0 242.3L350.0 244.6L390.0 247.0L430.0 249.3L470.0 251.6L514.0 254.2L514.0 303.5L58.0 303.5Z"/>
<path fill="#000086" d="M58.0 303.2L62.0 303.2L66.0 303.1L70.0 303.0L74.0 302.8L78.0 302.6L82.0 302.3L86.0 302.0L90.0 301.7L94.0 301.3L98.0 300.9L102.0 300.3L106.0 299.3L110.0 298.0L114.0 296.3L118.0 294.5L122.0 292.6L126.0 290.6L130.0 288.7L134.0 286.6L138.0 284.4L142.0 282.1L146.0 279.6L150.0 277.0L154.0 274.3L158.0 271.4L162.0 268.3L166.0 264.9L170.0 261.1L172.0 259.0L173.5 257.5L175.0 255.9L176.5 254.4L178.0 252.8L179.5 251.2L181.0 249.7L182.5 248.2L184.0 246.7L185.5 245.1L187.0 243.4L188.5 241.5L190.0 239.2L191.5 237.4L192.0 237.0L193.0 236.5L230.0 238.6L270.0 241.0L310.0 243.3L350.0 245.6L390.0 247.9L430.0 250.3L470.0 252.6L514.0 255.2L514.0 303.5L58.0 303.5Z"/>
<path fill="#000083" d="M58.0 303.3L62.0 303.3L66.0 303.2L70.0 303.0L74.0 302.8L78.0 302.6L82.0 302.4L86.0 302.1L90.0 301.8L94.0 301.5L98.0 301.0L102.0 300.4L106.0 299.5L110.0 298.1L114.0 296.5L118.0 294.7L122.0 292.9L126.0 291.0L130.0 289.1L134.0 287.0L138.0 284.9L142.0 282.5L146.0 280.1L150.0 277.5L154.0 274.8L158.0 271.9L162.0 268.9L166.0 265.5L170.0 261.7L172.0 259.7L173.5 258.2L175.0 256.7L176.5 255.1L178.0 253.6L179.5 252.0L181.0 250.5L182.5 249.0L184.0 247.5L185.5 246.0L187.0 244.3L188.5 242.5L190.0 240.2L191.5 238.4L192.0 238.0L193.0 237.5L230.0 239.6L270.0 242.0L310.0 244.3L350.0 246.6L390.0 248.9L430.0 251.3L470.0 253.6L514.0 256.1L514.0 303.5L58.0 303.5Z"/>
<path fill="#000080" d="M58.0 303.3L62.0 303.3L66.0 303.2L70.0 303.1L74.0 302.9L78.0 302.7L82.0 302.5L86.0 302.2L90.0 301.9L94.0 301.6L98.0 301.1L102.0 300.6L106.0 299.6L110.0 298.3L114.0 296.8L118.0 295.0L122.0 293.1L126.0 291.3L130.0 289.4L134.0 287.4L138.0 285.3L142.0 283.0L146.0 280.6L150.0 278.0L154.0 275.3L158.0 272.5L162.0 269.5L166.0 266.2L170.0 262.4L172.0 260.4L173.5 258.9L175.0 257.4L176.5 255.9L178.0 254.3L179.5 252.8L181.0 251.3L182.5 249.9L184.0 248.4L185.5 246.8L187.0 245.2L188.5 243.4L190.0 241.1L191.5 239.4L192.0 239.0L193.0 238.5L230.0 240.6L270.0 243.0L310.0 245.3L350.0 247.6L390.0 249.9L430.0 252.3L470.0 254.6L514.0 257.1L514.0 303.5L58.0 303.5Z"/>
<path fill="#020080" d="M58.0 303.3L62.0 303.3L66.0 303.2L70.0 303.1L74.0 302.9L78.0 302.7L82.0 302.5L86.0 302.3L90.0 302.0L94.0 301.6L98.0 301.2L102.0 300.7L106.0 299.8L110.0 298.5L114.0 297.0L118.0 295.3L122.0 293.5L126.0 291.7L130.0 289.9L134.0 287.9L138.0 285.8L142.0 283.6L146.0 281.3L150.0 278.8L154.0 276.2L158.0 273.4L162.0 270.5L166.0 267.2L170.0 263.4L172.0 261.5L173.5 260.0L175.0 258.4L176.5 256.9L178.0 255.4L179.5 253.9L181.0 252.4L182.5 250.9L184.0 249.4L185.5 247.9L187.0 246.2L188.5 244.4L190.0 242.1L191.5 240.4L192.0 240.0L193.0 239.5L230.0 241.6L270.0 244.0L310.0 246.3L350.0 248.6L390.0 250.9L430.0 253.2L470.0 255.6L514.0 258.1L514.0 303.5L58.0 303.5Z"/>
<path fill="#03007f" d="M58.0 303.3L62.0 303.3L66.0 303.2L70.0 303.1L74.0 302.9L78.0 302.8L82.0 302.6L86.0 302.3L90.0 302.0L94.0 301.7L98.0 301.3L102.0 300.8L106.0 299.9L110.0 298.7L114.0 297.2L118.0 295.6L122.0 293.8L126.0 292.1L130.0 290.3L134.0 288.4L138.0 286.4L142.0 284.3L146.0 282.0L150.0 279.5L154.0 277.0L158.0 274.3L162.0 271.4L166.0 268.2L170.0 264.5L172.0 262.5L173.5 261.0L175.0 259.5L176.5 257.9L178.0 256.4L179.5 254.9L181.0 253.4L182.5 251.9L184.0 250.4L185.5 248.9L187.0 247.2L188.5 245.4L190.0 243.1L191.5 241.4L192.0 241.0L193.0 240.5L230.0 242.7L270.0 245.0L310.0 247.3L350.0 249.6L390.0 252.0L430.0 254.3L470.0 256.6L514.0 259.2L514.0 303.5L58.0 303.5Z"/>
<path fill="#05007f" d="M58.0 303.3L62.0 303.3L66.0 303.2L70.0 303.1L74.0 302.9L78.0 302.8L82.0 302.6L86.0 302.4L90.0 302.1L94.0 301.8L98.0 301.4L102.0 300.9L106.0 300.1L110.0 298.9L114.0 297.4L118.0 295.8L122.0 294.2L126.0 292.5L130.0 290.7L134.0 288.9L138.0 287.0L142.0 284.9L146.0 282.7L150.0 280.3L154.0 277.8L158.0 275.2L162.0 272.4L166.0 269.2L170.0 265.5L172.0 263.5L173.5 262.0L175.0 260.5L176.5 259.0L178.0 257.5L179.5 255.9L181.0 254.5L182.5 253.0L184.0 251.5L185.5 249.9L187.0 248.2L188.5 246.4L190.0 244.1L191.5 242.4L192.0 242.0L193.0 241.5L230.0 243.7L270.0 246.0L310.0 248.4L350.0 250.7L390.0 253.1L430.0 255.4L470.0 257.8L514.0 260.3L514.0 303.5L58.0 303.5Z"/>
<path fill="#06007f" d="M58.0 303.3L62.0 303.3L66.0 303.2L70.0 303.1L74.0 303.0L78.0 302.8L82.0 302.6L86.0 302.4L90.0 302.1L94.0 301.8L98.0 301.5L102.0 301.0L106.0 300.2L110.0 299.0L114.0 297.7L118.0 296.1L122.0 294.5L126.0 292.8L130.0 291.2L134.0 289.4L138.0 287.5L142.0 285.5L146.0 283.3L150.0 281.0L154.0 278.6L158.0 276.0L162.0 273.3L166.0 270.1L170.0 266.5L172.0 264.5L173.5 263.0L175.0 261.5L176.5 260.0L178.0 258.5L179.5 257.0L181.0 255.5L182.5 254.0L184.0 252.5L185.5 250.9L187.0 249.2L188.5 247.4L190.0 245.1L191.5 243.4L192.0 243.0L193.0 242.5L230.0 244.7L270.0 247.1L310.0 249.4L350.0 251.8L390.0 254.2L430.0 256.5L470.0 258.9L514.0 261.5L514.0 303.5L58.0 303.5Z"/>
<path fill="#08007e" d="M58.0 303.3L62.0 303.3L66.0 303.2L70.0 303.1L74.0 303.0L78.0 302.8L82.0 302.7L86.0 302.5L90.0 302.2L94.0 301.9L98.0 301.6L102.0 301.1L106.0 300.3L110.0 299.2L114.0 297.9L118.0 296.4L122.0 294.8L126.0 293.2L130.0 291.6L134.0 289.9L138.0 288.0L142.0 286.1L146.0 284.0L150.0 281.8L154.0 279.4L158.0 276.9L162.0 274.2L166.0 271.1L170.0 267.5L172.0 265.5L173.5 264.0L175.0 262.5L176.5 261.0L178.0 259.5L179.5 258.0L181.0 256.5L182.5 255.0L184.0 253.5L185.5 251.9L187.0 250.2L188.5 248.4L190.0 246.1L191.5 244.4L192.0 244.0L193.0 243.5L230.0 245.7L270.0 248.1L310.0 250.5L350.0 252.9L390.0 255.2L430.0 257.6L470.0 260.0L514.0 262.6L514.0 303.5L58.0 303.5Z"/>
<path fill="#09007e" d="M58.0 303.3L62.0 303.3L66.0 303.2L70.0 303.1L74.0 303.0L78.0 302.9L82.0 302.7L86.0 302.5L90.0 302.3L94.0 302.0L98.0 301.6L102.0 301.2L106.0 300.4L110.0 299.4L114.0 298.1L118.0 296.6L122.0 295.1L126.0 293.6L130.0 292.0L134.0 290.4L138.0 288.6L142.0 286.7L146.0 284.6L150.0 282.5L154.0 280.2L158.0 277.7L162.0 275.1L166.0 272.0L170.0 268.4L172.0 266.5L173.5 265.0L175.0 263.5L176.5 262.0L178.0 260.5L179.5 259.0L181.0 257.5L182.5 256.0L184.0 254.5L185.5 252.9L187.0 251.2L188.5 249.4L190.0 247.1L191.5 245.4L192.0 245.0L193.0 244.5L230.0 246.7L270.0 249.1L310.0 251.5L350.0 253.9L390.0 256.3L430.0 258.7L470.0 261.1L514.0 263.8L514.0 303.5L58.0 303.5Z"/>
<path fill="#0b007e" d="M58.0 303.3L62.0 303.3L66.0 303.3L70.0 303.1L74.0 303.0L78.0 302.9L82.0 302.7L86.0 302.5L90.0 302.3L94.0 302.0L98.0 301.7L102.0 301.3L106.0 300.6L110.0 299.5L114.0 298.3L118.0 296.9L122.0 295.4L126.0 293.9L130.0 292.4L134.0 290.8L138.0 289.1L142.0 287.3L146.0 285.3L150.0 283.2L154.0 280.9L158.0 278.5L162.0 276.0L166.0 273.0L170.0 269.4L172.0 267.5L173.5 266.0L175.0 264.5L176.5 263.0L178.0 261.5L179.5 260.0L181.0 258.5L182.5 257.0L184.0 255.5L185.5 253.8L187.0 252.2L188.5 250.3L190.0 248.1L191.5 246.4L192.0 246.0L193.0 245.5L230.0 247.7L270.0 250.2L310.0 252.6L350.0 255.0L390.0 257.4L430.0 259.9L470.0 262.3L514.0 264.9L514.0 303.5L58.0 303.5Z"/>
<path fill="#0c007d" d="M58.0 303.3L62.0 303.3L66.0 303.3L70.0 303.1L74.0 303.0L78.0 302.9L82.0 302.8L86.0 302.6L90.0 302.4L94.0 302.1L98.0 301.8L102.0 301.4L106.0 300.7L110.0 299.7L114.0 298.5L118.0 297.1L122.0 295.7L126.0 294.3L130.0 292.8L134.0 291.3L138.0 289.6L142.0 287.8L146.0 285.9L150.0 283.9L154.0 281.7L158.0 279.3L162.0 276.8L166.0 273.9L170.0 270.3L172.0 268.4L173.5 267.0L175.0 265.5L176.5 264.0L178.0 262.5L179.5 261.0L181.0 259.5L182.5 258.0L184.0 256.4L185.5 254.8L187.0 253.1L188.5 251.3L190.0 249.1L191.5 247.4L192.0 247.0L193.0 246.5L230.0 248.8L270.0 251.2L310.0 253.6L350.0 256.1L390.0 258.5L430.0 261.0L470.0 263.4L514.0 266.1L514.0 303.5L58.0 303.5Z"/>
<path fill="#0e007d" d="M58.0 303.3L62.0 303.3L66.0 303.3L70.0 303.2L74.0 303.1L78.0 302.9L82.0 302.8L86.0 302.6L90.0 302.4L94.0 302.2L98.0 301.9L102.0 301.5L106.0 300.8L110.0 299.9L114.0 298.7L118.0 297.4L122.0 296.0L126.0 294.6L130.0 293.2L134.0 291.7L138.0 290.1L142.0 288.4L146.0 286.5L150.0 284.5L154.0 282.4L158.0 280.1L162.0 277.7L166.0 274.8L170.0 271.3L172.0 269.4L173.5 267.9L175.0 266.4L176.5 264.9L178.0 263.5L179.5 262.0L181.0 260.5L182.5 259.0L184.0 257.4L185.5 255.8L187.0 254.1L188.5 252.3L190.0 250.1L191.5 248.4L192.0 248.0L193.0 247.5L230.0 249.8L270.0 252.2L310.0 254.7L350.0 257.2L390.0 259.6L430.0 262.1L470.0 264.5L514.0 267.2L514.0 303.5L58.0 303.5Z"/>
<path fill="#0f007c" d="M58.0 303.3L62.0 303.3L66.0 303.3L70.0 303.2L74.0 303.1L78.0 303.0L82.0 302.8L86.0 302.7L90.0 302.5L94.0 302.2L98.0 301.9L102.0 301.6L106.0 300.9L110.0 300.0L114.0 298.9L118.0 297.6L122.0 296.3L126.0 295.0L130.0 293.6L134.0 292.2L138.0 290.6L142.0 288.9L146.0 287.1L150.0 285.2L154.0 283.1L158.0 280.9L162.0 278.5L166.0 275.7L170.0 272.2L172.0 270.3L173.5 268.9L175.0 267.4L176.5 265.9L178.0 264.4L179.5 262.9L181.0 261.5L182.5 260.0L184.0 258.4L185.5 256.8L187.0 255.1L188.5 253.3L190.0 251.1L191.5 249.4L192.0 249.0L193.0 248.5L230.0 250.8L270.0 253.3L310.0 255.8L350.0 258.2L390.0 260.7L430.0 263.2L470.0 265.7L514.0 268.4L514.0 303.5L58.0 303.5Z"/>
<path fill="#11007c" d="M58.0 303.3L62.0 303.3L66.0 303.3L70.0 303.2L74.0 303.1L78.0 303.0L82.0 302.8L86.0 302.7L90.0 302.5L94.0 302.3L98.0 302.0L102.0 301.7L106.0 301.0L110.0 300.2L114.0 299.1L118.0 297.9L122.0 296.6L126.0 295.3L130.0 294.0L134.0 292.6L138.0 291.1L142.0 289.5L146.0 287.7L150.0 285.9L154.0 283.8L158.0 281.7L162.0 279.4L166.0 276.5L170.0 273.1L172.0 271.2L173.5 269.8L175.0 268.3L176.5 266.9L178.0 265.4L179.5 263.9L181.0 262.4L182.5 260.9L184.0 259.4L185.5 257.8L187.0 256.0L188.5 254.2L190.0 252.1L191.5 250.4L192.0 250.0L193.0 249.5L230.0 251.8L270.0 254.3L310.0 256.8L350.0 259.3L390.0 261.8L430.0 264.3L470.0 266.8L514.0 269.5L514.0 303.5L58.0 303.5Z"/>
<path fill="#12007c" d="M58.0 303.3L62.0 303.3L66.0 303.3L70.0 303.2L74.0 303.1L78.0 303.0L82.0 302.9L86.0 302.7L90.0 302.5L94.0 302.3L98.0 302.1L102.0 301.7L106.0 301.1L110.0 300.3L114.0 299.3L118.0 298.1L122.0 296.9L126.0 295.6L130.0 294.4L134.0 293.0L138.0 291.6L142.0 290.0L146.0 288.3L150.0 286.5L154.0 284.5L158.0 282.4L162.0 280.2L166.0 277.4L170.0 274.0L172.0 272.2L173.5 270.7L175.0 269.3L176.5 267.8L178.0 266.3L179.5 264.9L181.0 263.4L182.5 261.9L184.0 260.3L185.5 258.7L187.0 257.0L188.5 255.2L190.0 253.1L191.5 251.4L192.0 251.0L193.0 250.5L230.0 252.8L270.0 255.3L310.0 257.9L350.0 260.4L390.0 262.9L430.0 265.4L470.0 267.9L514.0 270.7L514.0 303.5L58.0 303.5Z"/>
<path fill="#14007b" d="M58.0 303.3L62.0 303.3L66.0 303.3L70.0 303.2L74.0 303.1L78.0 303.0L82.0 302.9L86.0 302.8L90.0 302.6L94.0 302.4L98.0 302.1L102.0 301.8L106.0 301.3L110.0 300.4L114.0 299.4L118.0 298.3L122.0 297.1L126.0 295.9L130.0 294.7L134.0 293.4L138.0 292.0L142.0 290.5L146.0 288.9L150.0 287.1L154.0 285.2L158.0 283.2L162.0 281.0L166.0 278.2L170.0 274.9L172.0 273.1L173.5 271.6L175.0 270.2L176.5 268.7L178.0 267.3L179.5 265.8L181.0 264.4L182.5 262.9L184.0 261.3L185.5 259.7L187.0 258.0L188.5 256.2L190.0 254.0L191.5 252.4L192.0 252.0L193.0 251.5L230.0 253.8L270.0 256.4L310.0 258.9L350.0 261.4L390.0 264.0L430.0 266.5L470.0 269.1L514.0 271.8L514.0 303.5L58.0 303.5Z"/>
<path fill="#15007b" d="M58.0 303.3L62.0 303.3L66.0 303.3L70.0 303.2L74.0 303.1L78.0 303.0L82.0 302.9L86.0 302.8L90.0 302.6L94.0 302.4L98.0 302.2L102.0 301.9L106.0 301.4L110.0 300.6L114.0 299.6L118.0 298.5L122.0 297.4L126.0 296.3L130.0 295.1L134.0 293.8L138.0 292.5L142.0 291.0L146.0 289.5L150.0 287.8L154.0 285.9L158.0 283.9L162.0 281.8L166.0 279.1L170.0 275.8L172.0 273.9L173.5 272.5L175.0 271.1L176.5 269.6L178.0 268.2L179.5 266.8L181.0 265.3L182.5 263.8L184.0 262.3L185.5 260.6L187.0 258.9L188.5 257.2L190.0 255.0L191.5 253.3L192.0 253.0L193.0 252.5L230.0 254.9L270.0 257.4L310.0 260.0L350.0 262.5L390.0 265.1L430.0 267.6L470.0 270.2L514.0 273.0L514.0 303.5L58.0 303.5Z"/>
<path fill="#17007b" d="M58.0 303.3L62.0 303.3L66.0 303.3L70.0 303.2L74.0 303.1L78.0 303.1L82.0 303.0L86.0 302.8L90.0 302.7L94.0 302.5L98.0 302.3L102.0 302.0L106.0 301.5L110.0 300.7L114.0 299.8L118.0 298.8L122.0 297.7L126.0 296.6L130.0 295.4L134.0 294.2L138.0 292.9L142.0 291.5L146.0 290.0L150.0 288.4L154.0 286.6L158.0 284.6L162.0 282.5L166.0 279.9L170.0 276.6L172.0 274.8L173.5 273.4L175.0 272.0L176.5 270.6L178.0 269.1L179.5 267.7L181.0 266.2L182.5 264.7L184.0 263.2L185.5 261.6L187.0 259.9L188.5 258.1L190.0 256.0L191.5 254.3L192.0 254.0L193.0 253.5L230.0 255.9L270.0 258.5L310.0 261.0L350.0 263.6L390.0 266.2L430.0 268.7L470.0 271.3L514.0 274.1L514.0 303.5L58.0 303.5Z"/>
<path fill="#18007a" d="M58.0 303.3L62.0 303.3L66.0 303.3L70.0 303.2L74.0 303.2L78.0 303.1L82.0 303.0L86.0 302.9L90.0 302.7L94.0 302.5L98.0 302.3L102.0 302.1L106.0 301.6L110.0 300.8L114.0 300.0L118.0 299.0L122.0 297.9L126.0 296.9L130.0 295.8L134.0 294.6L138.0 293.4L142.0 292.0L146.0 290.5L150.0 289.0L154.0 287.2L158.0 285.3L162.0 283.3L166.0 280.7L170.0 277.5L172.0 275.7L173.5 274.3L175.0 272.9L176.5 271.5L178.0 270.0L179.5 268.6L181.0 267.2L182.5 265.7L184.0 264.1L185.5 262.5L187.0 260.8L188.5 259.1L190.0 257.0L191.5 255.3L192.0 255.0L193.0 254.5L230.0 256.9L270.0 259.5L310.0 262.1L350.0 264.7L390.0 267.3L430.0 269.8L470.0 272.4L514.0 275.3L514.0 303.5L58.0 303.5Z"/>
<path fill="#1a007a" d="M58.0 303.3L62.0 303.3L66.0 303.3L70.0 303.2L74.0 303.2L78.0 303.1L82.0 303.0L86.0 302.9L90.0 302.8L94.0 302.6L98.0 302.4L102.0 302.1L106.0 301.7L110.0 301.0L114.0 300.1L118.0 299.2L122.0 298.2L126.0 297.1L130.0 296.1L134.0 295.0L138.0 293.8L142.0 292.5L146.0 291.1L150.0 289.5L154.0 287.9L158.0 286.0L162.0 284.0L166.0 281.5L170.0 278.3L172.0 276.5L173.5 275.2L175.0 273.8L176.5 272.4L178.0 270.9L179.5 269.5L181.0 268.1L182.5 266.6L184.0 265.1L185.5 263.5L187.0 261.8L188.5 260.0L190.0 258.0L191.5 256.3L192.0 256.0L193.0 255.5L230.0 257.9L270.0 260.6L310.0 263.2L350.0 265.9L390.0 268.5L430.0 271.1L470.0 273.8L514.0 276.7L514.0 303.5L58.0 303.5Z"/>
<path fill="#1c007a" d="M58.0 303.3L62.0 303.3L66.0 303.3L70.0 303.2L74.0 303.2L78.0 303.1L82.0 303.0L86.0 302.9L90.0 302.8L94.0 302.6L98.0 302.4L102.0 302.2L106.0 301.8L110.0 301.1L114.0 300.3L118.0 299.4L122.0 298.4L126.0 297.4L130.0 296.4L134.0 295.4L138.0 294.2L142.0 293.0L146.0 291.6L150.0 290.1L154.0 288.5L158.0 286.7L162.0 284.8L166.0 282.3L170.0 279.1L172.0 277.4L173.5 276.0L175.0 274.6L176.5 273.2L178.0 271.8L179.5 270.4L181.0 269.0L182.5 267.5L184.0 266.0L185.5 264.4L187.0 262.7L188.5 261.0L190.0 258.9L191.5 257.3L192.0 257.0L193.0 256.5L230.0 259.0L270.0 261.7L310.0 264.4L350.0 267.2L390.0 269.9L430.0 272.6L470.0 275.3L514.0 278.3L514.0 303.5L58.0 303.5Z"/>
<path fill="#1d007b" d="M58.0 303.3L62.0 303.3L66.0 303.3L70.0 303.2L74.0 303.2L78.0 303.1L82.0 303.1L86.0 303.0L90.0 302.8L94.0 302.7L98.0 302.5L102.0 302.3L106.0 301.8L110.0 301.2L114.0 300.5L118.0 299.6L122.0 298.7L126.0 297.7L130.0 296.8L134.0 295.7L138.0 294.6L142.0 293.4L146.0 292.1L150.0 290.7L154.0 289.1L158.0 287.4L162.0 285.5L166.0 283.0L170.0 279.9L172.0 278.2L173.5 276.9L175.0 275.5L176.5 274.1L178.0 272.7L179.5 271.3L181.0 269.9L182.5 268.5L184.0 266.9L185.5 265.3L187.0 263.7L188.5 262.0L190.0 259.9L191.5 258.3L192.0 258.0L193.0 257.5L230.0 260.1L270.0 262.9L310.0 265.7L350.0 268.5L390.0 271.3L430.0 274.0L470.0 276.8L514.0 279.9L514.0 303.5L58.0 303.5Z"/>
<path fill="#1f007b" d="M58.0 303.3L62.0 303.3L66.0 303.3L70.0 303.2L74.0 303.2L78.0 303.2L82.0 303.1L86.0 303.0L90.0 302.9L94.0 302.7L98.0 302.6L102.0 302.3L106.0 301.9L110.0 301.3L114.0 300.6L118.0 299.8L122.0 298.9L126.0 298.0L130.0 297.1L134.0 296.1L138.0 295.0L142.0 293.9L146.0 292.6L150.0 291.2L154.0 289.7L158.0 288.0L162.0 286.2L166.0 283.8L170.0 280.7L172.0 279.0L173.5 277.7L175.0 276.3L176.5 275.0L178.0 273.6L179.5 272.2L181.0 270.8L182.5 269.4L184.0 267.9L185.5 266.3L187.0 264.6L188.5 262.9L190.0 260.9L191.5 259.3L192.0 259.0L193.0 258.5L230.0 261.2L270.0 264.0L310.0 266.9L350.0 269.8L390.0 272.6L430.0 275.5L470.0 278.4L514.0 281.5L514.0 303.5L58.0 303.5Z"/>
<path fill="#21007c" d="M58.0 303.3L62.0 303.3L66.0 303.3L70.0 303.3L74.0 303.2L78.0 303.2L82.0 303.1L86.0 303.0L90.0 302.9L94.0 302.8L98.0 302.6L102.0 302.4L106.0 302.0L110.0 301.5L114.0 300.8L118.0 300.0L122.0 299.1L126.0 298.2L130.0 297.4L134.0 296.4L138.0 295.4L142.0 294.3L146.0 293.1L150.0 291.7L154.0 290.3L158.0 288.6L162.0 286.9L166.0 284.5L170.0 281.5L172.0 279.8L173.5 278.5L175.0 277.2L176.5 275.8L178.0 274.5L179.5 273.1L181.0 271.7L182.5 270.3L184.0 268.8L185.5 267.2L187.0 265.6L188.5 263.9L190.0 261.9L191.5 260.3L192.0 260.0L193.0 259.5L230.0 262.2L270.0 265.2L310.0 268.1L350.0 271.1L390.0 274.0L430.0 277.0L470.0 279.9L514.0 283.1L514.0 303.5L58.0 303.5Z"/>
<path fill="#22007c" d="M58.0 303.3L62.0 303.3L66.0 303.3L70.0 303.3L74.0 303.2L78.0 303.2L82.0 303.1L86.0 303.0L90.0 302.9L94.0 302.8L98.0 302.7L102.0 302.5L106.0 302.1L110.0 301.6L114.0 300.9L118.0 300.1L122.0 299.3L126.0 298.5L130.0 297.7L134.0 296.8L138.0 295.8L142.0 294.7L146.0 293.6L150.0 292.3L154.0 290.8L158.0 289.3L162.0 287.5L166.0 285.2L170.0 282.3L172.0 280.6L173.5 279.3L175.0 278.0L176.5 276.7L178.0 275.3L179.5 274.0L181.0 272.6L182.5 271.2L184.0 269.7L185.5 268.1L187.0 266.5L188.5 264.8L190.0 262.8L191.5 261.3L192.0 261.0L193.0 260.5L230.0 263.3L270.0 266.3L310.0 269.3L350.0 272.4L390.0 275.4L430.0 278.4L470.0 281.4L514.0 284.8L514.0 303.5L58.0 303.5Z"/>
<path fill="#24007d" d="M58.0 303.3L62.0 303.3L66.0 303.3L70.0 303.3L74.0 303.2L78.0 303.2L82.0 303.1L86.0 303.1L90.0 303.0L94.0 302.9L98.0 302.7L102.0 302.5L106.0 302.2L110.0 301.7L114.0 301.0L118.0 300.3L122.0 299.5L126.0 298.8L130.0 298.0L134.0 297.1L138.0 296.2L142.0 295.1L146.0 294.0L150.0 292.8L154.0 291.4L158.0 289.9L162.0 288.2L166.0 286.0L170.0 283.0L172.0 281.4L173.5 280.1L175.0 278.8L176.5 277.5L178.0 276.2L179.5 274.8L181.0 273.5L182.5 272.1L184.0 270.6L185.5 269.0L187.0 267.4L188.5 265.8L190.0 263.8L191.5 262.3L192.0 262.0L193.0 261.5L230.0 264.4L270.0 267.5L310.0 270.6L350.0 273.7L390.0 276.8L430.0 279.9L470.0 283.0L514.0 286.4L514.0 303.5L58.0 303.5Z"/>
<path fill="#25007d" d="M58.0 303.3L62.0 303.3L66.0 303.3L70.0 303.3L74.0 303.3L78.0 303.2L82.0 303.2L86.0 303.1L90.0 303.0L94.0 302.9L98.0 302.8L102.0 302.6L106.0 302.3L110.0 301.8L114.0 301.2L118.0 300.5L122.0 299.8L126.0 299.0L130.0 298.2L134.0 297.4L138.0 296.5L142.0 295.5L146.0 294.5L150.0 293.3L154.0 291.9L158.0 290.5L162.0 288.8L166.0 286.7L170.0 283.8L172.0 282.2L173.5 280.9L175.0 279.6L176.5 278.3L178.0 277.0L179.5 275.7L181.0 274.4L182.5 272.9L184.0 271.5L185.5 269.9L187.0 268.4L188.5 266.7L190.0 264.8L191.5 263.3L192.0 262.9L193.0 262.5L230.0 265.4L270.0 268.6L310.0 271.8L350.0 275.0L390.0 278.1L430.0 281.3L470.0 284.5L514.0 288.0L514.0 303.5L58.0 303.5Z"/>
<path fill="#27007e" d="M58.0 303.3L62.0 303.3L66.0 303.3L70.0 303.3L74.0 303.3L78.0 303.2L82.0 303.2L86.0 303.1L90.0 303.0L94.0 302.9L98.0 302.8L102.0 302.7L106.0 302.3L110.0 301.9L114.0 301.3L118.0 300.7L122.0 300.0L126.0 299.2L130.0 298.5L134.0 297.7L138.0 296.9L142.0 295.9L146.0 294.9L150.0 293.8L154.0 292.5L158.0 291.1L162.0 289.5L166.0 287.3L170.0 284.5L172.0 282.9L173.5 281.7L175.0 280.4L176.5 279.1L178.0 277.8L179.5 276.5L181.0 275.2L182.5 273.8L184.0 272.4L185.5 270.8L187.0 269.3L188.5 267.6L190.0 265.7L191.5 264.3L192.0 263.9L193.0 263.5L230.0 266.5L270.0 269.8L310.0 273.0L350.0 276.3L390.0 279.5L430.0 282.8L470.0 286.0L514.0 289.6L514.0 303.5L58.0 303.5Z"/>
<path fill="#29007e" d="M58.0 303.3L62.0 303.3L66.0 303.3L70.0 303.3L74.0 303.3L78.0 303.2L82.0 303.2L86.0 303.1L90.0 303.1L94.0 303.0L98.0 302.9L102.0 302.7L106.0 302.4L110.0 302.0L114.0 301.4L118.0 300.8L122.0 300.2L126.0 299.5L130.0 298.8L134.0 298.0L138.0 297.2L142.0 296.3L146.0 295.3L150.0 294.2L154.0 293.0L158.0 291.6L162.0 290.1L166.0 288.0L170.0 285.2L172.0 283.7L173.5 282.4L175.0 281.2L176.5 279.9L178.0 278.6L179.5 277.4L181.0 276.1L182.5 274.7L184.0 273.3L185.5 271.8L187.0 270.2L188.5 268.6L190.0 266.7L191.5 265.3L192.0 264.9L193.0 264.5L230.0 267.6L270.0 270.9L310.0 274.2L350.0 277.6L390.0 280.9L430.0 284.2L470.0 287.6L514.0 291.2L514.0 303.5L58.0 303.5Z"/>
<path fill="#2a007f" d="M58.0 303.3L62.0 303.3L66.0 303.3L70.0 303.3L74.0 303.3L78.0 303.3L82.0 303.2L86.0 303.2L90.0 303.1L94.0 303.0L98.0 302.9L102.0 302.8L106.0 302.5L110.0 302.1L114.0 301.6L118.0 301.0L122.0 300.3L126.0 299.7L130.0 299.0L134.0 298.3L138.0 297.6L142.0 296.7L146.0 295.7L150.0 294.7L154.0 293.5L158.0 292.2L162.0 290.7L166.0 288.7L170.0 285.9L172.0 284.4L173.5 283.2L175.0 282.0L176.5 280.7L178.0 279.5L179.5 278.2L181.0 276.9L182.5 275.6L184.0 274.1L185.5 272.6L187.0 271.1L188.5 269.5L190.0 267.7L191.5 266.2L192.0 265.9L193.0 265.5L230.0 268.7L270.0 272.1L310.0 275.5L350.0 278.9L390.0 282.3L430.0 285.7L470.0 289.1L514.0 292.8L514.0 303.5L58.0 303.5Z"/>
<path fill="#2c007f" d="M58.0 303.3L62.0 303.3L66.0 303.3L70.0 303.3L74.0 303.3L78.0 303.3L82.0 303.2L86.0 303.2L90.0 303.1L94.0 303.0L98.0 302.9L102.0 302.8L106.0 302.6L110.0 302.2L114.0 301.7L118.0 301.1L122.0 300.5L126.0 299.9L130.0 299.3L134.0 298.6L138.0 297.9L142.0 297.1L146.0 296.2L150.0 295.1L154.0 294.0L158.0 292.7L162.0 291.3L166.0 289.3L170.0 286.6L172.0 285.1L173.5 283.9L175.0 282.7L176.5 281.5L178.0 280.3L179.5 279.0L181.0 277.8L182.5 276.4L184.0 275.0L185.5 273.5L187.0 272.0L188.5 270.5L190.0 268.6L191.5 267.2L192.0 266.9L193.0 266.5L230.0 269.7L270.0 273.2L310.0 276.7L350.0 280.2L390.0 283.7L430.0 287.1L470.0 290.6L514.0 294.5L514.0 303.5L58.0 303.5Z"/>
<path fill="#2e0080" d="M58.0 303.3L62.0 303.3L66.0 303.3L70.0 303.3L74.0 303.3L78.0 303.3L82.0 303.2L86.0 303.2L90.0 303.1L94.0 303.1L98.0 303.0L102.0 302.9L106.0 302.6L110.0 302.3L114.0 301.8L118.0 301.3L122.0 300.7L126.0 300.1L130.0 299.5L134.0 298.9L138.0 298.2L142.0 297.4L146.0 296.5L150.0 295.6L154.0 294.5L158.0 293.2L162.0 291.9L166.0 289.9L170.0 287.3L172.0 285.8L173.5 284.7L175.0 283.5L176.5 282.3L178.0 281.0L179.5 279.8L181.0 278.6L182.5 277.3L184.0 275.9L185.5 274.4L187.0 272.9L188.5 271.4L190.0 269.6L191.5 268.2L192.0 267.9L193.0 267.5L230.0 270.8L270.0 274.4L310.0 277.9L350.0 281.5L390.0 285.0L430.0 288.6L470.0 292.2L514.0 296.1L514.0 303.5L58.0 303.5Z"/>
<path fill="#2e0080" d="M58.0 303.3L62.0 303.3L66.0 303.3L70.0 303.3L74.0 303.3L78.0 303.3L82.0 303.3L86.0 303.2L90.0 303.1L94.0 303.1L98.0 303.0L102.0 302.9L106.0 302.7L110.0 302.3L114.0 301.9L118.0 301.4L122.0 300.8L126.0 300.3L130.0 299.7L134.0 299.1L138.0 298.4L142.0 297.7L146.0 296.8L150.0 295.9L154.0 294.8L158.0 293.7L162.0 292.3L166.0 290.4L170.0 287.9L172.0 286.5L173.5 285.3L175.0 284.2L176.5 283.0L178.0 281.8L179.5 280.6L181.0 279.4L182.5 278.1L184.0 276.7L185.5 275.3L187.0 273.8L188.5 272.3L190.0 270.6L191.5 269.2L192.0 268.9L193.0 268.5L230.0 271.8L270.0 275.4L310.0 279.1L350.0 282.7L390.0 286.3L430.0 289.9L470.0 293.5L514.0 297.5L514.0 303.5L58.0 303.5Z"/>
<path fill="#2e0080" d="M58.0 303.3L62.0 303.3L66.0 303.3L70.0 303.3L74.0 303.3L78.0 303.3L82.0 303.3L86.0 303.2L90.0 303.2L94.0 303.1L98.0 303.0L102.0 302.9L106.0 302.7L110.0 302.4L114.0 301.9L118.0 301.5L122.0 300.9L126.0 300.4L130.0 299.9L134.0 299.3L138.0 298.6L142.0 297.9L146.0 297.1L150.0 296.2L154.0 295.2L158.0 294.0L162.0 292.7L166.0 290.9L170.0 288.4L172.0 287.0L173.5 285.9L175.0 284.8L176.5 283.7L178.0 282.5L179.5 281.3L181.0 280.2L182.5 278.9L184.0 277.6L185.5 276.2L187.0 274.7L188.5 273.2L190.0 271.5L191.5 270.2L192.0 269.9L193.0 269.5L230.0 272.9L270.0 276.5L310.0 280.1L350.0 283.7L390.0 287.4L430.0 291.0L470.0 294.6L514.0 298.6L514.0 303.5L58.0 303.5Z"/>
<path fill="#2e0080" d="M58.0 303.3L62.0 303.3L66.0 303.3L70.0 303.3L74.0 303.3L78.0 303.3L82.0 303.3L86.0 303.2L90.0 303.2L94.0 303.1L98.0 303.0L102.0 302.9L106.0 302.7L110.0 302.4L114.0 302.0L118.0 301.5L122.0 301.0L126.0 300.5L130.0 300.0L134.0 299.4L138.0 298.8L142.0 298.1L146.0 297.4L150.0 296.5L154.0 295.5L158.0 294.4L162.0 293.1L166.0 291.4L170.0 289.0L172.0 287.6L173.5 286.6L175.0 285.5L176.5 284.3L178.0 283.2L179.5 282.1L181.0 280.9L182.5 279.7L184.0 278.4L185.5 277.0L187.0 275.6L188.5 274.2L190.0 272.5L191.5 271.2L192.0 270.9L193.0 270.5L230.0 273.9L270.0 277.5L310.0 281.2L350.0 284.8L390.0 288.5L430.0 292.1L470.0 295.7L514.0 299.8L514.0 303.5L58.0 303.5Z"/>
<path fill="#2e0080" d="M58.0 303.3L62.0 303.3L66.0 303.3L70.0 303.3L74.0 303.3L78.0 303.3L82.0 303.3L86.0 303.2L90.0 303.2L94.0 303.1L98.0 303.0L102.0 302.9L106.0 302.7L110.0 302.4L114.0 302.1L118.0 301.6L122.0 301.1L126.0 300.7L130.0 300.2L134.0 299.6L138.0 299.0L142.0 298.4L146.0 297.6L150.0 296.8L154.0 295.8L158.0 294.8L162.0 293.6L166.0 291.9L170.0 289.5L172.0 288.2L173.5 287.2L175.0 286.1L176.5 285.0L178.0 283.9L179.5 282.8L181.0 281.7L182.5 280.5L184.0 279.2L185.5 277.9L187.0 276.5L188.5 275.1L190.0 273.5L191.5 272.2L192.0 271.9L193.0 271.5L230.0 274.9L270.0 278.6L310.0 282.2L350.0 285.9L390.0 289.5L430.0 293.2L470.0 296.9L514.0 300.9L514.0 303.5L58.0 303.5Z"/>
<path fill="#2e0080" d="M58.0 303.3L62.0 303.3L66.0 303.3L70.0 303.3L74.0 303.3L78.0 303.3L82.0 303.3L86.0 303.2L90.0 303.2L94.0 303.1L98.0 303.1L102.0 303.0L106.0 302.8L110.0 302.5L114.0 302.1L118.0 301.7L122.0 301.2L126.0 300.8L130.0 300.3L134.0 299.8L138.0 299.2L142.0 298.6L146.0 297.9L150.0 297.0L154.0 296.1L158.0 295.1L162.0 294.0L166.0 292.3L170.0 290.1L172.0 288.8L173.5 287.8L175.0 286.7L176.5 285.7L178.0 284.6L179.5 283.5L181.0 282.4L182.5 281.3L184.0 280.0L185.5 278.7L187.0 277.4L188.5 276.0L190.0 274.4L191.5 273.2L192.0 272.9L193.0 272.5L230.0 275.9L270.0 279.6L310.0 283.3L350.0 287.0L390.0 290.6L430.0 294.3L470.0 298.0L514.0 302.0L514.0 303.5L58.0 303.5Z"/>
<path fill="#2e0080" d="M58.0 303.3L62.0 303.3L66.0 303.3L70.0 303.3L74.0 303.3L78.0 303.3L82.0 303.3L86.0 303.2L90.0 303.2L94.0 303.1L98.0 303.1L102.0 303.0L106.0 302.8L110.0 302.5L114.0 302.2L118.0 301.8L122.0 301.3L126.0 300.9L130.0 300.4L134.0 299.9L138.0 299.4L142.0 298.8L146.0 298.1L150.0 297.3L154.0 296.4L158.0 295.5L162.0 294.4L166.0 292.8L170.0 290.6L172.0 289.3L173.5 288.4L175.0 287.4L176.5 286.3L178.0 285.3L179.5 284.3L181.0 283.2L182.5 282.1L184.0 280.8L185.5 279.6L187.0 278.3L188.5 276.9L190.0 275.4L191.5 274.1L192.0 273.9L193.0 273.5L230.0 276.9L270.0 280.6L310.0 284.3L350.0 288.0L390.0 291.7L430.0 295.4L470.0 299.1L514.0 303.2L514.0 303.5L58.0 303.5Z"/>
<path fill="#2e0080" d="M58.0 303.3L62.0 303.3L66.0 303.3L70.0 303.3L74.0 303.3L78.0 303.3L82.0 303.3L86.0 303.2L90.0 303.2L94.0 303.1L98.0 303.1L102.0 303.0L106.0 302.8L110.0 302.6L114.0 302.2L118.0 301.9L122.0 301.4L126.0 301.0L130.0 300.6L134.0 300.1L138.0 299.6L142.0 299.0L146.0 298.3L150.0 297.6L154.0 296.8L158.0 295.8L162.0 294.7L166.0 293.2L170.0 291.1L172.0 289.9L173.5 289.0L175.0 288.0L176.5 287.0L178.0 286.0L179.5 285.0L181.0 283.9L182.5 282.8L184.0 281.7L185.5 280.4L187.0 279.1L188.5 277.8L190.0 276.3L191.5 275.1L192.0 274.9L193.0 274.5L230.0 277.9L270.0 281.7L310.0 285.4L350.0 289.1L390.0 292.8L430.0 296.5L470.0 300.2L514.0 303.5L514.0 303.5L58.0 303.5Z"/>
<path fill="#2e0080" d="M58.0 303.3L62.0 303.3L66.0 303.3L70.0 303.3L74.0 303.3L78.0 303.3L82.0 303.3L86.0 303.2L90.0 303.2L94.0 303.1L98.0 303.1L102.0 303.0L106.0 302.9L110.0 302.6L114.0 302.3L118.0 301.9L122.0 301.5L126.0 301.1L130.0 300.7L134.0 300.3L138.0 299.8L142.0 299.2L146.0 298.6L150.0 297.9L154.0 297.1L158.0 296.1L162.0 295.1L166.0 293.7L170.0 291.6L172.0 290.5L173.5 289.5L175.0 288.6L176.5 287.6L178.0 286.7L179.5 285.7L181.0 284.7L182.5 283.6L184.0 282.5L185.5 281.3L187.0 280.0L188.5 278.7L190.0 277.3L191.5 276.1L192.0 275.9L193.0 275.5L230.0 279.0L270.0 282.7L310.0 286.4L350.0 290.2L390.0 293.9L430.0 297.6L470.0 301.4L514.0 303.5L514.0 303.5L58.0 303.5Z"/>
<path fill="#2e0080" d="M58.0 303.3L62.0 303.3L66.0 303.3L70.0 303.3L74.0 303.3L78.0 303.3L82.0 303.3L86.0 303.2L90.0 303.2L94.0 303.2L98.0 303.1L102.0 303.0L106.0 302.9L110.0 302.6L114.0 302.3L118.0 302.0L122.0 301.6L126.0 301.2L130.0 300.8L134.0 300.4L138.0 299.9L142.0 299.4L146.0 298.8L150.0 298.1L154.0 297.3L158.0 296.5L162.0 295.5L166.0 294.1L170.0 292.1L172.0 291.0L173.5 290.1L175.0 289.2L176.5 288.3L178.0 287.3L179.5 286.4L181.0 285.4L182.5 284.4L184.0 283.3L185.5 282.1L187.0 280.9L188.5 279.7L190.0 278.2L191.5 277.1L192.0 276.9L193.0 276.5L230.0 280.0L270.0 283.7L310.0 287.5L350.0 291.2L390.0 295.0L430.0 298.7L470.0 302.5L514.0 303.5L514.0 303.5L58.0 303.5Z"/>
<path fill="#2e0080" d="M58.0 303.3L62.0 303.3L66.0 303.3L70.0 303.3L74.0 303.3L78.0 303.3L82.0 303.3L86.0 303.2L90.0 303.2L94.0 303.2L98.0 303.1L102.0 303.0L106.0 302.9L110.0 302.7L114.0 302.4L118.0 302.1L122.0 301.7L126.0 301.4L130.0 301.0L134.0 300.6L138.0 300.1L142.0 299.6L146.0 299.0L150.0 298.4L154.0 297.6L158.0 296.8L162.0 295.9L166.0 294.5L170.0 292.6L172.0 291.5L173.5 290.7L175.0 289.8L176.5 288.9L178.0 288.0L179.5 287.1L181.0 286.2L182.5 285.1L184.0 284.1L185.5 282.9L187.0 281.8L188.5 280.6L190.0 279.2L191.5 278.1L192.0 277.8L193.0 277.5L230.0 281.0L270.0 284.8L310.0 288.5L350.0 292.3L390.0 296.1L430.0 299.9L470.0 303.5L514.0 303.5L514.0 303.5L58.0 303.5Z"/>
<path fill="#2f0080" d="M58.0 303.3L62.0 303.3L66.0 303.3L70.0 303.3L74.0 303.3L78.0 303.3L82.0 303.3L86.0 303.2L90.0 303.2L94.0 303.2L98.0 303.1L102.0 303.1L106.0 302.9L110.0 302.7L114.0 302.4L118.0 302.1L122.0 301.8L126.0 301.5L130.0 301.1L134.0 300.7L138.0 300.3L142.0 299.8L146.0 299.2L150.0 298.6L154.0 297.9L158.0 297.1L162.0 296.2L166.0 294.9L170.0 293.1L172.0 292.1L173.5 291.3L175.0 290.4L176.5 289.5L178.0 288.7L179.5 287.8L181.0 286.9L182.5 285.9L184.0 284.9L185.5 283.8L187.0 282.6L188.5 281.5L190.0 280.1L191.5 279.1L192.0 278.8L193.0 278.5L230.0 282.0L270.0 285.8L310.0 289.6L350.0 293.4L390.0 297.2L430.0 301.0L470.0 303.5L514.0 303.5L514.0 303.5L58.0 303.5Z"/>
<path fill="#2f0080" d="M58.0 303.3L62.0 303.3L66.0 303.3L70.0 303.3L74.0 303.3L78.0 303.3L82.0 303.3L86.0 303.2L90.0 303.2L94.0 303.2L98.0 303.1L102.0 303.1L106.0 302.9L110.0 302.7L114.0 302.5L118.0 302.2L122.0 301.9L126.0 301.6L130.0 301.2L134.0 300.9L138.0 300.4L142.0 300.0L146.0 299.5L150.0 298.9L154.0 298.2L158.0 297.4L162.0 296.6L166.0 295.3L170.0 293.6L172.0 292.6L173.5 291.8L175.0 291.0L176.5 290.2L178.0 289.3L179.5 288.5L181.0 287.6L182.5 286.7L184.0 285.7L185.5 284.6L187.0 283.5L188.5 282.4L190.0 281.1L191.5 280.1L192.0 279.8L193.0 279.5L230.0 283.0L270.0 286.8L310.0 290.6L350.0 294.5L390.0 298.3L430.0 302.1L470.0 303.5L514.0 303.5L514.0 303.5L58.0 303.5Z"/>
<path fill="#2f0080" d="M58.0 303.3L62.0 303.3L66.0 303.3L70.0 303.3L74.0 303.3L78.0 303.3L82.0 303.3L86.0 303.3L90.0 303.2L94.0 303.2L98.0 303.1L102.0 303.1L106.0 303.0L110.0 302.8L114.0 302.5L118.0 302.3L122.0 302.0L126.0 301.7L130.0 301.3L134.0 301.0L138.0 300.6L142.0 300.2L146.0 299.7L150.0 299.1L154.0 298.5L158.0 297.8L162.0 296.9L166.0 295.8L170.0 294.1L172.0 293.1L173.5 292.4L175.0 291.6L176.5 290.8L178.0 290.0L179.5 289.2L181.0 288.3L182.5 287.4L184.0 286.4L185.5 285.4L187.0 284.4L188.5 283.3L190.0 282.0L191.5 281.0L192.0 280.8L193.0 280.5L230.0 284.0L270.0 287.9L310.0 291.7L350.0 295.5L390.0 299.3L430.0 303.2L470.0 303.5L514.0 303.5L514.0 303.5L58.0 303.5Z"/>
<path fill="#2f0080" d="M58.0 303.3L62.0 303.3L66.0 303.3L70.0 303.3L74.0 303.3L78.0 303.3L82.0 303.3L86.0 303.3L90.0 303.2L94.0 303.2L98.0 303.2L102.0 303.1L106.0 303.0L110.0 302.8L114.0 302.6L118.0 302.3L122.0 302.1L126.0 301.8L130.0 301.5L134.0 301.1L138.0 300.8L142.0 300.4L146.0 299.9L150.0 299.3L154.0 298.7L158.0 298.1L162.0 297.3L166.0 296.2L170.0 294.6L172.0 293.6L173.5 292.9L175.0 292.2L176.5 291.4L178.0 290.6L179.5 289.9L181.0 289.0L182.5 288.2L184.0 287.2L185.5 286.2L187.0 285.2L188.5 284.2L190.0 283.0L191.5 282.0L192.0 281.8L193.0 281.5L230.0 285.1L270.0 288.9L310.0 292.7L350.0 296.6L390.0 300.4L430.0 303.5L470.0 303.5L514.0 303.5L514.0 303.5L58.0 303.5Z"/>
<path fill="#2f0080" d="M58.0 303.3L62.0 303.3L66.0 303.3L70.0 303.3L74.0 303.3L78.0 303.3L82.0 303.3L86.0 303.3L90.0 303.2L94.0 303.2L98.0 303.2L102.0 303.1L106.0 303.0L110.0 302.8L114.0 302.6L118.0 302.4L122.0 302.1L126.0 301.9L130.0 301.6L134.0 301.3L138.0 300.9L142.0 300.5L146.0 300.1L150.0 299.6L154.0 299.0L158.0 298.4L162.0 297.6L166.0 296.6L170.0 295.0L172.0 294.2L173.5 293.5L175.0 292.7L176.5 292.0L178.0 291.3L179.5 290.5L181.0 289.8L182.5 288.9L184.0 288.0L185.5 287.1L187.0 286.1L188.5 285.1L190.0 283.9L191.5 283.0L192.0 282.8L193.0 282.5L230.0 286.1L270.0 289.9L310.0 293.8L350.0 297.7L390.0 301.5L430.0 303.5L470.0 303.5L514.0 303.5L514.0 303.5L58.0 303.5Z"/>
<path fill="#2f0080" d="M58.0 303.3L62.0 303.3L66.0 303.3L70.0 303.3L74.0 303.3L78.0 303.3L82.0 303.3L86.0 303.3L90.0 303.2L94.0 303.2L98.0 303.2L102.0 303.1L106.0 303.0L110.0 302.9L114.0 302.7L118.0 302.5L122.0 302.2L126.0 302.0L130.0 301.7L134.0 301.4L138.0 301.1L142.0 300.7L146.0 300.3L150.0 299.8L154.0 299.3L158.0 298.7L162.0 298.0L166.0 296.9L170.0 295.5L172.0 294.7L173.5 294.0L175.0 293.3L176.5 292.6L178.0 291.9L179.5 291.2L181.0 290.5L182.5 289.6L184.0 288.8L185.5 287.9L187.0 286.9L188.5 286.0L190.0 284.9L191.5 284.0L192.0 283.8L193.0 283.5L230.0 287.1L270.0 291.0L310.0 294.9L350.0 298.7L390.0 302.6L430.0 303.5L470.0 303.5L514.0 303.5L514.0 303.5L58.0 303.5Z"/>
<path fill="#2f0080" d="M58.0 303.3L62.0 303.3L66.0 303.3L70.0 303.3L74.0 303.3L78.0 303.3L82.0 303.3L86.0 303.3L90.0 303.2L94.0 303.2L98.0 303.2L102.0 303.1L106.0 303.1L110.0 302.9L114.0 302.7L118.0 302.5L122.0 302.3L126.0 302.0L130.0 301.8L134.0 301.5L138.0 301.2L142.0 300.9L146.0 300.5L150.0 300.0L154.0 299.5L158.0 298.9L162.0 298.3L166.0 297.3L170.0 296.0L172.0 295.2L173.5 294.5L175.0 293.9L176.5 293.2L178.0 292.5L179.5 291.9L181.0 291.2L182.5 290.4L184.0 289.6L185.5 288.7L187.0 287.8L188.5 286.9L190.0 285.8L191.5 285.0L192.0 284.8L193.0 284.5L230.0 288.1L270.0 292.0L310.0 295.9L350.0 299.8L390.0 303.5L430.0 303.5L470.0 303.5L514.0 303.5L514.0 303.5L58.0 303.5Z"/>
<path fill="#2f0080" d="M58.0 303.3L62.0 303.3L66.0 303.3L70.0 303.3L74.0 303.3L78.0 303.3L82.0 303.3L86.0 303.3L90.0 303.2L94.0 303.2L98.0 303.2L102.0 303.2L106.0 303.1L110.0 302.9L114.0 302.8L118.0 302.6L122.0 302.4L126.0 302.1L130.0 301.9L134.0 301.7L138.0 301.4L142.0 301.0L146.0 300.7L150.0 300.2L154.0 299.8L158.0 299.2L162.0 298.6L166.0 297.7L170.0 296.4L172.0 295.6L173.5 295.0L175.0 294.4L176.5 293.8L178.0 293.2L179.5 292.5L181.0 291.8L182.5 291.1L184.0 290.3L185.5 289.5L187.0 288.6L188.5 287.8L190.0 286.7L191.5 285.9L192.0 285.8L193.0 285.5L230.0 289.1L270.0 293.0L310.0 297.0L350.0 300.9L390.0 303.5L430.0 303.5L470.0 303.5L514.0 303.5L514.0 303.5L58.0 303.5Z"/>
<path fill="#2f0080" d="M58.0 303.3L62.0 303.3L66.0 303.3L70.0 303.3L74.0 303.3L78.0 303.3L82.0 303.3L86.0 303.3L90.0 303.3L94.0 303.2L98.0 303.2L102.0 303.2L106.0 303.1L110.0 303.0L114.0 302.8L118.0 302.6L122.0 302.4L126.0 302.2L130.0 302.0L134.0 301.8L138.0 301.5L142.0 301.2L146.0 300.9L150.0 300.5L154.0 300.0L158.0 299.5L162.0 298.9L166.0 298.1L170.0 296.8L172.0 296.1L173.5 295.6L175.0 295.0L176.5 294.4L178.0 293.8L179.5 293.2L181.0 292.5L182.5 291.8L184.0 291.1L185.5 290.3L187.0 289.5L188.5 288.6L190.0 287.7L191.5 286.9L192.0 286.7L193.0 286.5L230.0 290.1L270.0 294.1L310.0 298.0L350.0 302.0L390.0 303.5L430.0 303.5L470.0 303.5L514.0 303.5L514.0 303.5L58.0 303.5Z"/>
<path fill="#2f0080" d="M58.0 303.3L62.0 303.3L66.0 303.3L70.0 303.3L74.0 303.3L78.0 303.3L82.0 303.3L86.0 303.3L90.0 303.3L94.0 303.2L98.0 303.2L102.0 303.2L106.0 303.1L110.0 303.0L114.0 302.8L118.0 302.7L122.0 302.5L126.0 302.3L130.0 302.1L134.0 301.9L138.0 301.6L142.0 301.4L146.0 301.0L150.0 300.7L154.0 300.2L158.0 299.8L162.0 299.2L166.0 298.4L170.0 297.3L172.0 296.6L173.5 296.1L175.0 295.5L176.5 295.0L178.0 294.4L179.5 293.8L181.0 293.2L182.5 292.6L184.0 291.8L185.5 291.1L187.0 290.3L188.5 289.5L190.0 288.6L191.5 287.9L192.0 287.7L193.0 287.5L230.0 291.2L270.0 295.1L310.0 299.1L350.0 303.0L390.0 303.5L430.0 303.5L470.0 303.5L514.0 303.5L514.0 303.5L58.0 303.5Z"/>
<path fill="#2f0080" d="M58.0 303.3L62.0 303.3L66.0 303.3L70.0 303.3L74.0 303.3L78.0 303.3L82.0 303.3L86.0 303.3L90.0 303.3L94.0 303.2L98.0 303.2L102.0 303.2L106.0 303.1L110.0 303.0L114.0 302.9L118.0 302.7L122.0 302.6L126.0 302.4L130.0 302.2L134.0 302.0L138.0 301.8L142.0 301.5L146.0 301.2L150.0 300.9L154.0 300.5L158.0 300.0L162.0 299.5L166.0 298.8L170.0 297.7L172.0 297.1L173.5 296.6L175.0 296.1L176.5 295.5L178.0 295.0L179.5 294.5L181.0 293.9L182.5 293.3L184.0 292.6L185.5 291.9L187.0 291.2L188.5 290.4L190.0 289.6L191.5 288.9L192.0 288.7L193.0 288.5L230.0 292.2L270.0 296.1L310.0 300.1L350.0 303.5L390.0 303.5L430.0 303.5L470.0 303.5L514.0 303.5L514.0 303.5L58.0 303.5Z"/>
<path fill="#2f0080" d="M58.0 303.3L62.0 303.3L66.0 303.3L70.0 303.3L74.0 303.3L78.0 303.3L82.0 303.3L86.0 303.3L90.0 303.3L94.0 303.2L98.0 303.2L102.0 303.2L106.0 303.1L110.0 303.0L114.0 302.9L118.0 302.8L122.0 302.6L126.0 302.5L130.0 302.3L134.0 302.1L138.0 301.9L142.0 301.7L146.0 301.4L150.0 301.1L154.0 300.7L158.0 300.3L162.0 299.8L166.0 299.1L170.0 298.1L172.0 297.5L173.5 297.1L175.0 296.6L176.5 296.1L178.0 295.6L179.5 295.1L181.0 294.6L182.5 294.0L184.0 293.4L185.5 292.7L187.0 292.0L188.5 291.3L190.0 290.5L191.5 289.9L192.0 289.7L193.0 289.5L230.0 293.2L270.0 297.2L310.0 301.2L350.0 303.5L390.0 303.5L430.0 303.5L470.0 303.5L514.0 303.5L514.0 303.5L58.0 303.5Z"/>
<path fill="#2f0080" d="M58.0 303.3L62.0 303.3L66.0 303.3L70.0 303.3L74.0 303.3L78.0 303.3L82.0 303.3L86.0 303.3L90.0 303.3L94.0 303.3L98.0 303.2L102.0 303.2L106.0 303.2L110.0 303.1L114.0 303.0L118.0 302.8L122.0 302.7L126.0 302.5L130.0 302.4L134.0 302.2L138.0 302.0L142.0 301.8L146.0 301.5L150.0 301.3L154.0 300.9L158.0 300.6L162.0 300.1L166.0 299.5L170.0 298.5L172.0 298.0L173.5 297.6L175.0 297.1L176.5 296.7L178.0 296.2L179.5 295.7L181.0 295.2L182.5 294.7L184.0 294.1L185.5 293.5L187.0 292.8L188.5 292.2L190.0 291.4L191.5 290.8L192.0 290.7L193.0 290.5L230.0 294.2L270.0 298.2L310.0 302.2L350.0 303.5L390.0 303.5L430.0 303.5L470.0 303.5L514.0 303.5L514.0 303.5L58.0 303.5Z"/>
<path fill="#2f0080" d="M58.0 303.3L62.0 303.3L66.0 303.3L70.0 303.3L74.0 303.3L78.0 303.3L82.0 303.3L86.0 303.3L90.0 303.3L94.0 303.3L98.0 303.2L102.0 303.2L106.0 303.2L110.0 303.1L114.0 303.0L118.0 302.9L122.0 302.8L126.0 302.6L130.0 302.5L134.0 302.3L138.0 302.1L142.0 301.9L146.0 301.7L150.0 301.4L154.0 301.1L158.0 300.8L162.0 300.4L166.0 299.8L170.0 299.0L172.0 298.5L173.5 298.1L175.0 297.6L176.5 297.2L178.0 296.8L179.5 296.4L181.0 295.9L182.5 295.4L184.0 294.8L185.5 294.3L187.0 293.7L188.5 293.1L190.0 292.4L191.5 291.8L192.0 291.7L193.0 291.5L230.0 295.2L270.0 299.2L310.0 303.2L350.0 303.5L390.0 303.5L430.0 303.5L470.0 303.5L514.0 303.5L514.0 303.5L58.0 303.5Z"/>
<path fill="#2f0080" d="M58.0 303.3L62.0 303.3L66.0 303.3L70.0 303.3L74.0 303.3L78.0 303.3L82.0 303.3L86.0 303.3L90.0 303.3L94.0 303.3L98.0 303.2L102.0 303.2L106.0 303.2L110.0 303.1L114.0 303.0L118.0 302.9L122.0 302.8L126.0 302.7L130.0 302.6L134.0 302.4L138.0 302.3L142.0 302.1L146.0 301.9L150.0 301.6L154.0 301.4L158.0 301.0L162.0 300.7L166.0 300.1L170.0 299.4L172.0 298.9L173.5 298.5L175.0 298.2L176.5 297.8L178.0 297.4L179.5 297.0L181.0 296.5L182.5 296.1L184.0 295.6L185.5 295.1L187.0 294.5L188.5 293.9L190.0 293.3L191.5 292.8L192.0 292.7L193.0 292.5L230.0 296.2L270.0 300.2L310.0 303.5L350.0 303.5L390.0 303.5L430.0 303.5L470.0 303.5L514.0 303.5L514.0 303.5L58.0 303.5Z"/>
<path fill="#2f0080" d="M58.0 303.3L62.0 303.3L66.0 303.3L70.0 303.3L74.0 303.3L78.0 303.3L82.0 303.3L86.0 303.3L90.0 303.3L94.0 303.3L98.0 303.3L102.0 303.2L106.0 303.2L110.0 303.1L114.0 303.1L118.0 303.0L122.0 302.9L126.0 302.8L130.0 302.6L134.0 302.5L138.0 302.4L142.0 302.2L146.0 302.0L150.0 301.8L154.0 301.6L158.0 301.3L162.0 301.0L166.0 300.5L170.0 299.8L172.0 299.3L173.5 299.0L175.0 298.7L176.5 298.3L178.0 297.9L179.5 297.6L181.0 297.2L182.5 296.8L184.0 296.3L185.5 295.8L187.0 295.3L188.5 294.8L190.0 294.2L191.5 293.8L192.0 293.7L193.0 293.5L230.0 297.2L270.0 301.2L310.0 303.5L350.0 303.5L390.0 303.5L430.0 303.5L470.0 303.5L514.0 303.5L514.0 303.5L58.0 303.5Z"/>
<path fill="#2f0080" d="M58.0 303.3L62.0 303.3L66.0 303.3L70.0 303.3L74.0 303.3L78.0 303.3L82.0 303.3L86.0 303.3L90.0 303.3L94.0 303.3L98.0 303.3L102.0 303.2L106.0 303.2L110.0 303.2L114.0 303.1L118.0 303.0L122.0 302.9L126.0 302.8L130.0 302.7L134.0 302.6L138.0 302.5L142.0 302.3L146.0 302.2L150.0 302.0L154.0 301.8L158.0 301.5L162.0 301.2L166.0 300.8L170.0 300.1L172.0 299.8L173.5 299.5L175.0 299.2L176.5 298.8L178.0 298.5L179.5 298.2L181.0 297.8L182.5 297.5L184.0 297.0L185.5 296.6L187.0 296.2L188.5 295.7L190.0 295.2L191.5 294.7L192.0 294.6L193.0 294.5L230.0 298.2L270.0 302.2L310.0 303.5L350.0 303.5L390.0 303.5L430.0 303.5L470.0 303.5L514.0 303.5L514.0 303.5L58.0 303.5Z"/>
<path fill="#2f0080" d="M58.0 303.3L62.0 303.3L66.0 303.3L70.0 303.3L74.0 303.3L78.0 303.3L82.0 303.3L86.0 303.3L90.0 303.3L94.0 303.3L98.0 303.3L102.0 303.3L106.0 303.2L110.0 303.2L114.0 303.1L118.0 303.0L122.0 303.0L126.0 302.9L130.0 302.8L134.0 302.7L138.0 302.6L142.0 302.5L146.0 302.3L150.0 302.1L154.0 302.0L158.0 301.7L162.0 301.5L166.0 301.1L170.0 300.5L172.0 300.2L173.5 299.9L175.0 299.7L176.5 299.4L178.0 299.1L179.5 298.8L181.0 298.5L182.5 298.1L184.0 297.8L185.5 297.4L187.0 297.0L188.5 296.6L190.0 296.1L191.5 295.7L192.0 295.6L193.0 295.5L230.0 299.2L270.0 303.2L310.0 303.5L350.0 303.5L390.0 303.5L430.0 303.5L470.0 303.5L514.0 303.5L514.0 303.5L58.0 303.5Z"/>
<path fill="#2f0080" d="M58.0 303.3L62.0 303.3L66.0 303.3L70.0 303.3L74.0 303.3L78.0 303.3L82.0 303.3L86.0 303.3L90.0 303.3L94.0 303.3L98.0 303.3L102.0 303.3L106.0 303.2L110.0 303.2L114.0 303.1L118.0 303.1L122.0 303.0L126.0 303.0L130.0 302.9L134.0 302.8L138.0 302.7L142.0 302.6L146.0 302.5L150.0 302.3L154.0 302.1L158.0 302.0L162.0 301.7L166.0 301.4L170.0 300.9L172.0 300.6L173.5 300.4L175.0 300.1L176.5 299.9L178.0 299.6L179.5 299.4L181.0 299.1L182.5 298.8L184.0 298.5L185.5 298.2L187.0 297.8L188.5 297.4L190.0 297.0L191.5 296.7L192.0 296.6L193.0 296.5L230.0 300.2L270.0 303.5L310.0 303.5L350.0 303.5L390.0 303.5L430.0 303.5L470.0 303.5L514.0 303.5L514.0 303.5L58.0 303.5Z"/>
<path fill="#2f0080" d="M58.0 303.3L62.0 303.3L66.0 303.3L70.0 303.3L74.0 303.3L78.0 303.3L82.0 303.3L86.0 303.3L90.0 303.3L94.0 303.3L98.0 303.3L102.0 303.3L106.0 303.2L110.0 303.2L114.0 303.2L118.0 303.1L122.0 303.1L126.0 303.0L130.0 302.9L134.0 302.9L138.0 302.8L142.0 302.7L146.0 302.6L150.0 302.5L154.0 302.3L158.0 302.2L162.0 302.0L166.0 301.7L170.0 301.3L172.0 301.0L173.5 300.8L175.0 300.6L176.5 300.4L178.0 300.2L179.5 300.0L181.0 299.7L182.5 299.5L184.0 299.2L185.5 298.9L187.0 298.6L188.5 298.3L190.0 297.9L191.5 297.7L192.0 297.6L193.0 297.5L230.0 301.2L270.0 303.5L310.0 303.5L350.0 303.5L390.0 303.5L430.0 303.5L470.0 303.5L514.0 303.5L514.0 303.5L58.0 303.5Z"/>
<path fill="#2f0080" d="M58.0 303.3L62.0 303.3L66.0 303.3L70.0 303.3L74.0 303.3L78.0 303.3L82.0 303.3L86.0 303.3L90.0 303.3L94.0 303.3L98.0 303.3L102.0 303.3L106.0 303.3L110.0 303.2L114.0 303.2L118.0 303.2L122.0 303.1L126.0 303.1L130.0 303.0L134.0 303.0L138.0 302.9L142.0 302.8L146.0 302.7L150.0 302.6L154.0 302.5L158.0 302.4L162.0 302.2L166.0 302.0L170.0 301.6L172.0 301.4L173.5 301.3L175.0 301.1L176.5 300.9L178.0 300.7L179.5 300.6L181.0 300.4L182.5 300.2L184.0 299.9L185.5 299.7L187.0 299.4L188.5 299.2L190.0 298.9L191.5 298.6L192.0 298.6L193.0 298.5L230.0 302.2L270.0 303.5L310.0 303.5L350.0 303.5L390.0 303.5L430.0 303.5L470.0 303.5L514.0 303.5L514.0 303.5L58.0 303.5Z"/>
<path fill="#300080" d="M58.0 303.3L62.0 303.3L66.0 303.3L70.0 303.3L74.0 303.3L78.0 303.3L82.0 303.3L86.0 303.3L90.0 303.3L94.0 303.3L98.0 303.3L102.0 303.3L106.0 303.3L110.0 303.2L114.0 303.2L118.0 303.2L122.0 303.2L126.0 303.1L130.0 303.1L134.0 303.0L138.0 303.0L142.0 302.9L146.0 302.9L150.0 302.8L154.0 302.7L158.0 302.6L162.0 302.5L166.0 302.3L170.0 302.0L172.0 301.8L173.5 301.7L175.0 301.6L176.5 301.4L178.0 301.3L179.5 301.1L181.0 301.0L182.5 300.8L184.0 300.6L185.5 300.4L187.0 300.2L188.5 300.0L190.0 299.8L191.5 299.6L192.0 299.6L193.0 299.5L230.0 303.2L270.0 303.5L310.0 303.5L350.0 303.5L390.0 303.5L430.0 303.5L470.0 303.5L514.0 303.5L514.0 303.5L58.0 303.5Z"/>
<path fill="#300080" d="M58.0 303.3L62.0 303.3L66.0 303.3L70.0 303.3L74.0 303.3L78.0 303.3L82.0 303.3L86.0 303.3L90.0 303.3L94.0 303.3L98.0 303.3L102.0 303.3L106.0 303.3L110.0 303.3L114.0 303.2L118.0 303.2L122.0 303.2L126.0 303.2L130.0 303.1L134.0 303.1L138.0 303.1L142.0 303.0L146.0 303.0L150.0 302.9L154.0 302.9L158.0 302.8L162.0 302.7L166.0 302.6L170.0 302.4L172.0 302.2L173.5 302.1L175.0 302.0L176.5 301.9L178.0 301.8L179.5 301.7L181.0 301.6L182.5 301.5L184.0 301.3L185.5 301.2L187.0 301.0L188.5 300.9L190.0 300.7L191.5 300.6L192.0 300.5L193.0 300.5L230.0 303.5L270.0 303.5L310.0 303.5L350.0 303.5L390.0 303.5L430.0 303.5L470.0 303.5L514.0 303.5L514.0 303.5L58.0 303.5Z"/>
<path fill="#300080" d="M58.0 303.3L62.0 303.3L66.0 303.3L70.0 303.3L74.0 303.3L78.0 303.3L82.0 303.3L86.0 303.3L90.0 303.3L94.0 303.3L98.0 303.3L102.0 303.3L106.0 303.3L110.0 303.3L114.0 303.3L118.0 303.3L122.0 303.2L126.0 303.2L130.0 303.2L134.0 303.2L138.0 303.2L142.0 303.1L146.0 303.1L150.0 303.1L154.0 303.0L158.0 303.0L162.0 302.9L166.0 302.8L170.0 302.7L172.0 302.6L173.5 302.6L175.0 302.5L176.5 302.4L178.0 302.4L179.5 302.3L181.0 302.2L182.5 302.1L184.0 302.0L185.5 302.0L187.0 301.9L188.5 301.8L190.0 301.6L191.5 301.6L192.0 301.5L193.0 301.5L230.0 303.5L270.0 303.5L310.0 303.5L350.0 303.5L390.0 303.5L430.0 303.5L470.0 303.5L514.0 303.5L514.0 303.5L58.0 303.5Z"/>
<path fill="#300080" d="M58.0 303.3L62.0 303.3L66.0 303.3L70.0 303.3L74.0 303.3L78.0 303.3L82.0 303.3L86.0 303.3L90.0 303.3L94.0 303.3L98.0 303.3L102.0 303.3L106.0 303.3L110.0 303.3L114.0 303.3L118.0 303.3L122.0 303.3L126.0 303.3L130.0 303.3L134.0 303.2L138.0 303.2L142.0 303.2L146.0 303.2L150.0 303.2L154.0 303.2L158.0 303.2L162.0 303.1L166.0 303.1L170.0 303.0L172.0 303.0L173.5 303.0L175.0 302.9L176.5 302.9L178.0 302.9L179.5 302.9L181.0 302.8L182.5 302.8L184.0 302.7L185.5 302.7L187.0 302.7L188.5 302.6L190.0 302.6L191.5 302.5L192.0 302.5L193.0 302.5L230.0 303.5L270.0 303.5L310.0 303.5L350.0 303.5L390.0 303.5L430.0 303.5L470.0 303.5L514.0 303.5L514.0 303.5L58.0 303.5Z"/>
<path d="M177.0 297.9C177.5 297.1 179.0 295.1 180.0 293.3C181.0 291.5 182.1 289.1 183.0 287.1C183.9 285.1 184.7 283.1 185.5 281.3C186.3 279.4 187.2 277.4 188.0 275.9C188.8 274.4 189.7 273.0 190.5 272.1C191.3 271.2 192.2 270.9 193.0 270.7C193.8 270.5 190.5 270.4 195.0 270.9C199.5 271.4 202.5 271.6 220.0 273.5C237.5 275.4 277.0 279.6 300.0 282.0C323.0 284.4 348.3 287.0 358.0 287.9" stroke="url(#fadeA)" stroke-width="1.40" fill="none" opacity="0.65"/><path d="M177.0 298.4C177.5 297.7 179.0 295.9 180.0 294.3C181.0 292.7 182.1 290.5 183.0 288.7C183.9 286.9 184.7 285.2 185.5 283.5C186.3 281.8 187.2 280.1 188.0 278.7C188.8 277.3 189.7 276.0 190.5 275.2C191.3 274.5 192.2 274.2 193.0 274.0C193.8 273.8 190.5 273.7 195.0 274.2C199.5 274.7 202.5 275.1 220.0 276.9C237.5 278.7 277.0 282.7 300.0 285.0C323.0 287.3 348.3 289.7 358.0 290.7" stroke="url(#fadeA)" stroke-width="1.60" fill="none" opacity="0.75"/><path d="M177.0 299.0C177.5 298.4 179.0 296.8 180.0 295.4C181.0 293.9 182.1 292.0 183.0 290.4C183.9 288.8 184.7 287.3 185.5 285.8C186.3 284.3 187.2 282.8 188.0 281.5C188.8 280.3 189.7 279.2 190.5 278.5C191.3 277.8 192.2 277.6 193.0 277.4C193.8 277.2 190.5 277.1 195.0 277.6C199.5 278.1 202.5 278.7 220.0 280.5C237.5 282.3 277.0 286.0 300.0 288.2C323.0 290.4 348.3 292.7 358.0 293.6" stroke="url(#fadeA)" stroke-width="1.80" fill="none" opacity="0.85"/><path d="M177.0 299.6C177.5 299.1 179.0 297.8 180.0 296.5C181.0 295.3 182.1 293.7 183.0 292.3C183.9 291.0 184.7 289.6 185.5 288.4C186.3 287.1 187.2 285.8 188.0 284.7C188.8 283.7 189.7 282.7 190.5 282.1C191.3 281.6 192.2 281.3 193.0 281.2C193.8 281.1 190.5 280.9 195.0 281.4C199.5 281.9 202.5 282.7 220.0 284.3C237.5 285.9 277.0 289.2 300.0 291.2C323.0 293.2 348.3 295.2 358.0 296.0" stroke="url(#fadeA)" stroke-width="2.00" fill="none" opacity="0.95"/><path d="M177.0 300.3C177.5 299.9 179.0 298.7 180.0 297.7C181.0 296.7 182.1 295.3 183.0 294.2C183.9 293.1 184.7 292.0 185.5 290.9C186.3 289.9 187.2 288.8 188.0 287.9C188.8 287.1 189.7 286.3 190.5 285.8C191.3 285.3 192.2 285.1 193.0 285.0C193.8 284.9 190.5 284.6 195.0 285.2C199.5 285.8 202.5 287.0 220.0 288.5C237.5 290.0 277.0 292.7 300.0 294.3C323.0 295.9 348.3 297.7 358.0 298.4" stroke="url(#fadeA)" stroke-width="2.20" fill="none" opacity="1.00"/><path d="M177.0 301.0C177.5 300.7 179.0 299.8 180.0 299.1C181.0 298.3 182.1 297.3 183.0 296.4C183.9 295.6 184.7 294.7 185.5 293.9C186.3 293.1 187.2 292.3 188.0 291.6C188.8 291.0 189.7 290.4 190.5 290.0C191.3 289.6 192.2 289.5 193.0 289.4C193.8 289.3 190.5 289.0 195.0 289.6C199.5 290.2 202.5 291.5 220.0 292.8C237.5 294.1 277.0 296.2 300.0 297.6C323.0 299.0 348.3 300.4 358.0 301.0" stroke="url(#fadeA)" stroke-width="2.50" fill="none" opacity="1.00"/><path d="M177.0 301.8C177.5 301.5 179.0 300.9 180.0 300.4C181.0 299.9 182.1 299.2 183.0 298.6C183.9 298.0 184.7 297.4 185.5 296.8C186.3 296.3 187.2 295.7 188.0 295.2C188.8 294.8 189.7 294.4 190.5 294.1C191.3 293.9 192.2 293.7 193.0 293.7C193.8 293.7 190.5 293.4 195.0 293.9C199.5 294.4 202.5 295.7 220.0 296.8C237.5 297.9 277.0 299.4 300.0 300.4C323.0 301.4 348.3 302.5 358.0 302.9" stroke="url(#fadeA)" stroke-width="3.00" fill="none" opacity="1.00"/><path d="M177.0 302.4C177.5 302.3 179.0 301.9 180.0 301.6C181.0 301.3 182.1 300.9 183.0 300.5C183.9 300.1 184.7 299.8 185.5 299.5C186.3 299.1 187.2 298.8 188.0 298.5C188.8 298.3 189.7 298.0 190.5 297.8C191.3 297.7 192.2 297.6 193.0 297.6C193.8 297.6 190.5 297.4 195.0 297.8C199.5 298.2 202.5 299.2 220.0 300.0C237.5 300.8 277.0 301.8 300.0 302.3C323.0 302.8 348.3 302.9 358.0 303.0" stroke="url(#fadeA)" stroke-width="4.20" fill="none" opacity="1.00"/>
<path d="M190.5 105.2C190.9 105.1 190.3 104.9 192.7 104.5C195.1 104.1 200.4 103.4 205.0 103.0C209.6 102.6 212.5 102.3 220.0 102.0C227.5 101.7 236.7 101.2 250.0 100.9C263.3 100.6 281.7 100.4 300.0 100.4C318.3 100.4 340.0 100.6 360.0 100.8C380.0 101.0 406.7 101.3 420.0 101.6C433.3 101.9 430.0 102.4 440.0 102.7C450.0 103.0 467.7 103.3 480.0 103.6C492.3 103.8 508.3 104.1 514.0 104.2L514 105L192.7 105Z" fill="#f40000"/><path d="M190.5 105.2C190.9 105.1 190.3 104.9 192.7 104.5C195.1 104.1 200.4 103.4 205.0 103.0C209.6 102.6 212.5 102.3 220.0 102.0C227.5 101.7 236.7 101.2 250.0 100.9C263.3 100.6 281.7 100.4 300.0 100.4C318.3 100.4 340.0 100.6 360.0 100.8C380.0 101.0 406.7 101.3 420.0 101.6C433.3 101.9 430.0 102.4 440.0 102.7C450.0 103.0 467.7 103.3 480.0 103.6C492.3 103.8 508.3 104.1 514.0 104.2" stroke="#dc0012" stroke-width="2.4" fill="none"/><path d="M190.5 105.2C190.9 105.0 190.8 105.6 192.7 104.3C194.6 103.0 198.6 99.9 202.0 97.6C205.4 95.3 207.3 94.6 213.0 90.6C218.7 86.6 228.5 79.2 236.2 73.5C243.9 67.8 252.3 61.6 259.2 56.4C266.1 51.2 272.7 46.1 277.7 42.3C282.7 38.5 285.7 35.5 289.2 33.4C292.7 31.3 295.8 30.3 298.5 29.5C301.2 28.7 303.3 28.7 305.4 28.5C307.5 28.3 308.2 28.0 311.0 28.4C313.8 28.8 317.6 29.2 322.0 30.8C326.4 32.4 332.8 35.7 337.5 38.0C342.2 40.3 345.8 42.4 350.0 44.5C354.2 46.6 358.3 48.9 362.5 50.8C366.7 52.7 370.8 54.4 375.0 56.0C379.2 57.6 383.3 58.9 387.5 60.2C391.7 61.5 394.6 62.1 400.0 63.8C405.4 65.5 413.3 68.2 420.0 70.2C426.7 72.2 433.3 74.2 440.0 76.0C446.7 77.8 453.3 79.4 460.0 80.9C466.7 82.4 473.3 83.7 480.0 84.9C486.7 86.1 494.3 87.2 500.0 88.0C505.7 88.8 511.7 89.5 514.0 89.8" stroke="#dc0012" stroke-width="2.9" fill="none"/><path d="M190.5 105.2C190.9 105.0 191.1 104.8 192.7 104.3C194.3 103.8 196.6 103.2 200.0 102.2C203.4 101.2 207.0 100.6 213.0 98.6C219.0 96.6 228.3 92.6 236.0 90.4C243.7 88.2 251.3 86.6 259.0 85.2C266.7 83.8 274.3 82.8 282.0 82.2C289.7 81.6 297.8 81.7 305.0 81.6C312.2 81.5 317.5 81.4 325.0 81.6C332.5 81.8 341.7 82.4 350.0 82.9C358.3 83.4 366.7 84.2 375.0 84.8C383.3 85.4 392.5 86.2 400.0 86.8C407.5 87.4 413.3 87.8 420.0 88.4C426.7 89.0 433.3 89.6 440.0 90.2C446.7 90.8 453.3 91.4 460.0 92.0C466.7 92.6 473.3 93.2 480.0 93.7C486.7 94.2 494.3 94.8 500.0 95.3C505.7 95.8 511.7 96.4 514.0 96.6" stroke="#dc0012" stroke-width="2.9" fill="none"/><path d="M190.5 105.2C190.9 105.1 190.9 104.8 192.7 104.4C194.5 104.0 196.1 103.6 201.5 103.0C206.9 102.4 216.9 101.4 225.0 100.7C233.1 100.0 241.7 99.6 250.0 99.1C258.3 98.6 266.7 98.0 275.0 97.6C283.3 97.1 291.7 96.7 300.0 96.4C308.3 96.1 315.0 95.9 325.0 95.9C335.0 95.9 347.5 96.0 360.0 96.3C372.5 96.5 386.7 96.9 400.0 97.4C413.3 97.9 426.7 98.7 440.0 99.2C453.3 99.8 467.7 100.2 480.0 100.7C492.3 101.2 508.3 101.7 514.0 101.9" stroke="#dc0012" stroke-width="2.9" fill="none"/>
</g>
<g clip-path="url(#cb)">
<path fill="#ff4800" d="M58.0 561.5L62.0 560.0L66.0 558.4L70.0 556.6L74.0 554.4L78.0 551.8L82.0 548.8L86.0 545.5L90.0 542.0L94.0 538.4L98.0 534.7L102.0 531.0L106.0 527.0L110.0 522.9L114.0 518.6L118.0 514.1L122.0 509.5L126.0 504.8L130.0 500.0L134.0 495.0L138.0 489.8L142.0 484.5L146.0 478.8L150.0 472.8L154.0 466.7L158.0 460.6L162.0 454.3L166.0 447.9L170.0 441.2L172.0 437.8L173.5 435.2L175.0 432.6L176.5 430.0L178.0 427.5L179.5 424.9L181.0 422.3L182.5 419.7L184.0 417.0L185.5 414.4L187.0 411.8L188.5 409.3L190.0 406.8L191.5 404.9L192.0 404.3L193.0 403.5L230.0 404.3L270.0 405.1L310.0 406.0L350.0 406.8L390.0 407.6L430.0 408.5L470.0 409.3L514.0 410.2L514.0 601.7L58.0 601.7Z"/>
<path fill="#ff4900" d="M58.0 562.1L62.0 560.5L66.0 558.9L70.0 557.1L74.0 554.9L78.0 552.3L82.0 549.4L86.0 546.1L90.0 542.7L94.0 539.0L98.0 535.4L102.0 531.6L106.0 527.7L110.0 523.5L114.0 519.2L118.0 514.7L122.0 510.1L126.0 505.4L130.0 500.6L134.0 495.6L138.0 490.4L142.0 485.1L146.0 479.4L150.0 473.5L154.0 467.4L158.0 461.3L162.0 455.0L166.0 448.6L170.0 442.0L172.0 438.6L173.5 436.1L175.0 433.5L176.5 430.9L178.0 428.4L179.5 425.8L181.0 423.3L182.5 420.6L184.0 418.0L185.5 415.4L187.0 412.9L188.5 410.4L190.0 407.9L191.5 405.9L192.0 405.3L193.0 404.5L230.0 405.4L270.0 406.3L310.0 407.2L350.0 408.1L390.0 409.0L430.0 410.0L470.0 410.9L514.0 411.9L514.0 601.7L58.0 601.7Z"/>
<path fill="#ff4b00" d="M58.0 562.5L62.0 561.0L66.0 559.4L70.0 557.6L74.0 555.4L78.0 552.8L82.0 549.9L86.0 546.6L90.0 543.2L94.0 539.6L98.0 535.9L102.0 532.2L106.0 528.2L110.0 524.1L114.0 519.8L118.0 515.3L122.0 510.6L126.0 505.9L130.0 501.1L134.0 496.1L138.0 490.9L142.0 485.6L146.0 479.9L150.0 474.0L154.0 468.0L158.0 461.8L162.0 455.6L166.0 449.3L170.0 442.7L172.0 439.4L173.5 436.8L175.0 434.3L176.5 431.8L178.0 429.2L179.5 426.7L181.0 424.2L182.5 421.6L184.0 419.0L185.5 416.4L187.0 413.9L188.5 411.4L190.0 408.9L191.5 406.9L192.0 406.3L193.0 405.5L230.0 406.4L270.0 407.4L310.0 408.4L350.0 409.4L390.0 410.4L430.0 411.4L470.0 412.4L514.0 413.5L514.0 601.7L58.0 601.7Z"/>
<path fill="#ff4d00" d="M58.0 563.0L62.0 561.5L66.0 559.9L70.0 558.1L74.0 555.9L78.0 553.3L82.0 550.4L86.0 547.2L90.0 543.7L94.0 540.1L98.0 536.5L102.0 532.7L106.0 528.8L110.0 524.6L114.0 520.3L118.0 515.8L122.0 511.2L126.0 506.4L130.0 501.6L134.0 496.6L138.0 491.4L142.0 486.1L146.0 480.4L150.0 474.5L154.0 468.5L158.0 462.4L162.0 456.2L166.0 449.9L170.0 443.4L172.0 440.1L173.5 437.6L175.0 435.1L176.5 432.6L178.0 430.1L179.5 427.6L181.0 425.1L182.5 422.5L184.0 420.0L185.5 417.4L187.0 414.9L188.5 412.4L190.0 409.9L191.5 407.9L192.0 407.3L193.0 406.5L230.0 407.5L270.0 408.6L310.0 409.7L350.0 410.7L390.0 411.8L430.0 412.9L470.0 414.0L514.0 415.2L514.0 601.7L58.0 601.7Z"/>
<path fill="#ff4f00" d="M58.0 563.5L62.0 561.9L66.0 560.4L70.0 558.6L74.0 556.4L78.0 553.8L82.0 550.9L86.0 547.7L90.0 544.3L94.0 540.7L98.0 537.0L102.0 533.3L106.0 529.4L110.0 525.2L114.0 520.8L118.0 516.3L122.0 511.7L126.0 506.9L130.0 502.1L134.0 497.1L138.0 491.9L142.0 486.6L146.0 480.9L150.0 475.0L154.0 469.0L158.0 463.0L162.0 456.9L166.0 450.6L170.0 444.1L172.0 440.9L173.5 438.4L175.0 435.9L176.5 433.4L178.0 431.0L179.5 428.5L181.0 426.0L182.5 423.5L184.0 420.9L185.5 418.4L187.0 415.9L188.5 413.4L190.0 410.9L191.5 408.9L192.0 408.3L193.0 407.5L230.0 408.6L270.0 409.7L310.0 410.9L350.0 412.1L390.0 413.2L430.0 414.4L470.0 415.5L514.0 416.8L514.0 601.7L58.0 601.7Z"/>
<path fill="#ff5400" d="M58.0 564.0L62.0 562.4L66.0 560.8L70.0 559.1L74.0 556.9L78.0 554.3L82.0 551.4L86.0 548.2L90.0 544.8L94.0 541.2L98.0 537.6L102.0 533.9L106.0 529.9L110.0 525.7L114.0 521.4L118.0 516.8L122.0 512.2L126.0 507.4L130.0 502.6L134.0 497.6L138.0 492.4L142.0 487.1L146.0 481.4L150.0 475.5L154.0 469.6L158.0 463.5L162.0 457.5L166.0 451.3L170.0 444.9L172.0 441.6L173.5 439.2L175.0 436.7L176.5 434.3L178.0 431.8L179.5 429.4L181.0 426.9L182.5 424.4L184.0 421.9L185.5 419.4L187.0 416.9L188.5 414.5L190.0 411.9L191.5 409.9L192.0 409.3L193.0 408.5L230.0 409.6L270.0 410.9L310.0 412.1L350.0 413.3L390.0 414.5L430.0 415.8L470.0 417.0L514.0 418.4L514.0 601.7L58.0 601.7Z"/>
<path fill="#ff5c00" d="M58.0 564.4L62.0 562.9L66.0 561.3L70.0 559.5L74.0 557.4L78.0 554.8L82.0 551.9L86.0 548.7L90.0 545.3L94.0 541.8L98.0 538.1L102.0 534.4L106.0 530.5L110.0 526.3L114.0 521.9L118.0 517.4L122.0 512.7L126.0 508.0L130.0 503.1L134.0 498.1L138.0 492.9L142.0 487.6L146.0 481.9L150.0 476.1L154.0 470.1L158.0 464.1L162.0 458.1L166.0 451.9L170.0 445.6L172.0 442.4L173.5 440.0L175.0 437.5L176.5 435.1L178.0 432.7L179.5 430.3L181.0 427.8L182.5 425.3L184.0 422.9L185.5 420.4L187.0 417.9L188.5 415.5L190.0 412.9L191.5 410.9L192.0 410.3L193.0 409.5L230.0 410.7L270.0 412.0L310.0 413.3L350.0 414.5L390.0 415.8L430.0 417.1L470.0 418.4L514.0 419.8L514.0 601.7L58.0 601.7Z"/>
<path fill="#ff6400" d="M58.0 564.9L62.0 563.4L66.0 561.8L70.0 560.0L74.0 557.9L78.0 555.3L82.0 552.4L86.0 549.2L90.0 545.9L94.0 542.3L98.0 538.7L102.0 535.0L106.0 531.0L110.0 526.8L114.0 522.4L118.0 517.9L122.0 513.2L126.0 508.5L130.0 503.6L134.0 498.6L138.0 493.4L142.0 488.1L146.0 482.4L150.0 476.6L154.0 470.7L158.0 464.7L162.0 458.7L166.0 452.6L170.0 446.3L172.0 443.1L173.5 440.8L175.0 438.4L176.5 436.0L178.0 433.5L179.5 431.1L181.0 428.7L182.5 426.3L184.0 423.8L185.5 421.4L187.0 419.0L188.5 416.5L190.0 413.9L191.5 411.9L192.0 411.3L193.0 410.5L230.0 411.7L270.0 413.1L310.0 414.4L350.0 415.7L390.0 417.1L430.0 418.4L470.0 419.8L514.0 421.2L514.0 601.7L58.0 601.7Z"/>
<path fill="#ff6c00" d="M58.0 565.3L62.0 563.8L66.0 562.3L70.0 560.5L74.0 558.3L78.0 555.8L82.0 552.9L86.0 549.8L90.0 546.4L94.0 542.9L98.0 539.2L102.0 535.5L106.0 531.6L110.0 527.4L114.0 523.0L118.0 518.4L122.0 513.7L126.0 509.0L130.0 504.1L134.0 499.1L138.0 493.9L142.0 488.5L146.0 482.9L150.0 477.1L154.0 471.2L158.0 465.3L162.0 459.3L166.0 453.2L170.0 447.0L172.0 443.9L173.5 441.5L175.0 439.2L176.5 436.8L178.0 434.4L179.5 432.0L181.0 429.6L182.5 427.2L184.0 424.8L185.5 422.4L187.0 420.0L188.5 417.5L190.0 415.0L191.5 412.9L192.0 412.3L193.0 411.5L230.0 412.8L270.0 414.2L310.0 415.6L350.0 417.0L390.0 418.4L430.0 419.8L470.0 421.1L514.0 422.7L514.0 601.7L58.0 601.7Z"/>
<path fill="#ff7200" d="M58.0 565.8L62.0 564.3L66.0 562.7L70.0 561.0L74.0 558.8L78.0 556.3L82.0 553.4L86.0 550.3L90.0 546.9L94.0 543.4L98.0 539.8L102.0 536.1L106.0 532.1L110.0 527.9L114.0 523.5L118.0 518.9L122.0 514.2L126.0 509.5L130.0 504.6L134.0 499.6L138.0 494.4L142.0 489.0L146.0 483.4L150.0 477.6L154.0 471.8L158.0 465.8L162.0 459.9L166.0 453.9L170.0 447.8L172.0 444.7L173.5 442.3L175.0 440.0L176.5 437.6L178.0 435.3L179.5 432.9L181.0 430.5L182.5 428.2L184.0 425.8L185.5 423.4L187.0 421.0L188.5 418.6L190.0 416.0L191.5 413.9L192.0 413.3L193.0 412.5L230.0 413.8L270.0 415.3L310.0 416.7L350.0 418.2L390.0 419.6L430.0 421.1L470.0 422.5L514.0 424.1L514.0 601.7L58.0 601.7Z"/>
<path fill="#ff7500" d="M58.0 566.3L62.0 564.8L66.0 563.2L70.0 561.4L74.0 559.3L78.0 556.8L82.0 553.9L86.0 550.8L90.0 547.4L94.0 543.9L98.0 540.3L102.0 536.6L106.0 532.7L110.0 528.5L114.0 524.0L118.0 519.5L122.0 514.8L126.0 510.0L130.0 505.1L134.0 500.1L138.0 494.9L142.0 489.5L146.0 483.9L150.0 478.1L154.0 472.3L158.0 466.4L162.0 460.5L166.0 454.6L170.0 448.5L172.0 445.4L173.5 443.1L175.0 440.8L176.5 438.5L178.0 436.1L179.5 433.8L181.0 431.5L182.5 429.1L184.0 426.7L185.5 424.4L187.0 422.0L188.5 419.6L190.0 417.0L191.5 414.9L192.0 414.3L193.0 413.5L230.0 414.9L270.0 416.4L310.0 417.9L350.0 419.4L390.0 420.9L430.0 422.4L470.0 423.9L514.0 425.6L514.0 601.7L58.0 601.7Z"/>
<path fill="#ff7900" d="M58.0 566.7L62.0 565.2L66.0 563.7L70.0 561.9L74.0 559.8L78.0 557.3L82.0 554.4L86.0 551.3L90.0 548.0L94.0 544.5L98.0 540.9L102.0 537.2L106.0 533.2L110.0 529.0L114.0 524.6L118.0 520.0L122.0 515.3L126.0 510.5L130.0 505.6L134.0 500.6L138.0 495.4L142.0 490.0L146.0 484.4L150.0 478.7L154.0 472.9L158.0 467.0L162.0 461.2L166.0 455.2L170.0 449.2L172.0 446.2L173.5 443.9L175.0 441.6L176.5 439.3L178.0 437.0L179.5 434.7L181.0 432.4L182.5 430.0L184.0 427.7L185.5 425.4L187.0 423.0L188.5 420.6L190.0 418.0L191.5 415.9L192.0 415.3L193.0 414.5L230.0 415.9L270.0 417.5L310.0 419.1L350.0 420.6L390.0 422.2L430.0 423.7L470.0 425.3L514.0 427.0L514.0 601.7L58.0 601.7Z"/>
<path fill="#ff7c00" d="M58.0 567.2L62.0 565.7L66.0 564.1L70.0 562.4L74.0 560.2L78.0 557.7L82.0 554.9L86.0 551.8L90.0 548.5L94.0 545.0L98.0 541.4L102.0 537.7L106.0 533.8L110.0 529.5L114.0 525.1L118.0 520.5L122.0 515.8L126.0 511.0L130.0 506.1L134.0 501.1L138.0 495.9L142.0 490.5L146.0 484.9L150.0 479.2L154.0 473.4L158.0 467.6L162.0 461.8L166.0 455.9L170.0 450.0L172.0 447.0L173.5 444.7L175.0 442.4L176.5 440.1L178.0 437.8L179.5 435.6L181.0 433.3L182.5 431.0L184.0 428.7L185.5 426.4L187.0 424.0L188.5 421.6L190.0 419.0L191.5 416.9L192.0 416.3L193.0 415.5L230.0 417.0L270.0 418.6L310.0 420.2L350.0 421.8L390.0 423.4L430.0 425.1L470.0 426.7L514.0 428.4L514.0 601.7L58.0 601.7Z"/>
<path fill="#ff8000" d="M58.0 567.6L62.0 566.1L66.0 564.6L70.0 562.8L74.0 560.7L78.0 558.2L82.0 555.4L86.0 552.3L90.0 549.0L94.0 545.5L98.0 541.9L102.0 538.3L106.0 534.3L110.0 530.1L114.0 525.6L118.0 521.0L122.0 516.3L126.0 511.5L130.0 506.6L134.0 501.6L138.0 496.4L142.0 491.0L146.0 485.4L150.0 479.7L154.0 474.0L158.0 468.2L162.0 462.4L166.0 456.6L170.0 450.7L172.0 447.7L173.5 445.5L175.0 443.2L176.5 441.0L178.0 438.7L179.5 436.4L181.0 434.2L182.5 431.9L184.0 429.7L185.5 427.4L187.0 425.0L188.5 422.6L190.0 420.0L191.5 417.9L192.0 417.3L193.0 416.5L230.0 418.0L270.0 419.7L310.0 421.3L350.0 423.0L390.0 424.6L430.0 426.2L470.0 427.9L514.0 429.7L514.0 601.7L58.0 601.7Z"/>
<path fill="#ff8400" d="M58.0 568.1L62.0 566.6L66.0 565.0L70.0 563.3L74.0 561.2L78.0 558.7L82.0 555.9L86.0 552.8L90.0 549.5L94.0 546.1L98.0 542.5L102.0 538.8L106.0 534.9L110.0 530.6L114.0 526.2L118.0 521.6L122.0 516.8L126.0 512.0L130.0 507.1L134.0 502.1L138.0 496.9L142.0 491.5L146.0 486.0L150.0 480.3L154.0 474.5L158.0 468.8L162.0 463.0L166.0 457.3L170.0 451.4L172.0 448.5L173.5 446.3L175.0 444.0L176.5 441.8L178.0 439.6L179.5 437.3L181.0 435.1L182.5 432.9L184.0 430.6L185.5 428.4L187.0 426.0L188.5 423.7L190.0 421.0L191.5 418.9L192.0 418.3L193.0 417.5L230.0 419.0L270.0 420.7L310.0 422.3L350.0 424.0L390.0 425.6L430.0 427.3L470.0 428.9L514.0 430.8L514.0 601.7L58.0 601.7Z"/>
<path fill="#ff8800" d="M58.0 568.5L62.0 567.1L66.0 565.5L70.0 563.8L74.0 561.6L78.0 559.2L82.0 556.4L86.0 553.3L90.0 550.0L94.0 546.6L98.0 543.0L102.0 539.4L106.0 535.4L110.0 531.2L114.0 526.7L118.0 522.1L122.0 517.3L126.0 512.5L130.0 507.6L134.0 502.6L138.0 497.4L142.0 492.0L146.0 486.5L150.0 480.8L154.0 475.1L158.0 469.4L162.0 463.6L166.0 457.9L170.0 452.2L172.0 449.2L173.5 447.1L175.0 444.9L176.5 442.6L178.0 440.4L179.5 438.2L181.0 436.0L182.5 433.8L184.0 431.6L185.5 429.3L187.0 427.0L188.5 424.7L190.0 422.0L191.5 419.9L192.0 419.3L193.0 418.5L230.0 420.0L270.0 421.7L310.0 423.4L350.0 425.0L390.0 426.7L430.0 428.3L470.0 430.0L514.0 431.8L514.0 601.7L58.0 601.7Z"/>
<path fill="#ff8c00" d="M58.0 569.0L62.0 567.5L66.0 566.0L70.0 564.2L74.0 562.1L78.0 559.6L82.0 556.9L86.0 553.8L90.0 550.6L94.0 547.1L98.0 543.6L102.0 539.9L106.0 535.9L110.0 531.7L114.0 527.2L118.0 522.6L122.0 517.8L126.0 513.0L130.0 508.2L134.0 503.1L138.0 497.9L142.0 492.5L146.0 487.0L150.0 481.3L154.0 475.6L158.0 469.9L162.0 464.3L166.0 458.6L170.0 452.9L172.0 450.0L173.5 447.8L175.0 445.7L176.5 443.5L178.0 441.3L179.5 439.1L181.0 436.9L182.5 434.7L184.0 432.6L185.5 430.3L187.0 428.1L188.5 425.7L190.0 423.0L191.5 420.9L192.0 420.3L193.0 419.5L230.0 421.0L270.0 422.7L310.0 424.4L350.0 426.0L390.0 427.7L430.0 429.4L470.0 431.1L514.0 432.9L514.0 601.7L58.0 601.7Z"/>
<path fill="#ff9000" d="M58.0 569.7L62.0 568.2L66.0 566.7L70.0 564.9L74.0 562.9L78.0 560.4L82.0 557.7L86.0 554.8L90.0 551.6L94.0 548.2L98.0 544.8L102.0 541.1L106.0 537.2L110.0 532.9L114.0 528.4L118.0 523.7L122.0 518.9L126.0 514.1L130.0 509.2L134.0 504.2L138.0 499.0L142.0 493.7L146.0 488.2L150.0 482.6L154.0 477.0L158.0 471.3L162.0 465.7L166.0 460.0L170.0 454.3L172.0 451.4L173.5 449.2L175.0 447.0L176.5 444.8L178.0 442.6L179.5 440.4L181.0 438.2L182.5 436.0L184.0 433.8L185.5 431.6L187.0 429.3L188.5 426.9L190.0 424.1L191.5 421.9L192.0 421.3L193.0 420.5L230.0 422.1L270.0 423.7L310.0 425.4L350.0 427.1L390.0 428.8L430.0 430.4L470.0 432.1L514.0 433.9L514.0 601.7L58.0 601.7Z"/>
<path fill="#ff9c00" d="M58.0 570.4L62.0 569.0L66.0 567.4L70.0 565.7L74.0 563.6L78.0 561.3L82.0 558.6L86.0 555.7L90.0 552.7L94.0 549.4L98.0 546.0L102.0 542.4L106.0 538.5L110.0 534.2L114.0 529.6L118.0 524.9L122.0 520.1L126.0 515.2L130.0 510.4L134.0 505.3L138.0 500.2L142.0 494.9L146.0 489.5L150.0 484.0L154.0 478.4L158.0 472.8L162.0 467.1L166.0 461.5L170.0 455.7L172.0 452.8L173.5 450.6L175.0 448.4L176.5 446.1L178.0 443.9L179.5 441.7L181.0 439.5L182.5 437.3L184.0 435.1L185.5 432.8L187.0 430.5L188.5 428.1L190.0 425.2L191.5 422.9L192.0 422.4L193.0 421.5L230.0 423.1L270.0 424.7L310.0 426.4L350.0 428.1L390.0 429.8L430.0 431.5L470.0 433.2L514.0 435.0L514.0 601.7L58.0 601.7Z"/>
<path fill="#ffa800" d="M58.0 571.1L62.0 569.7L66.0 568.1L70.0 566.4L74.0 564.4L78.0 562.1L82.0 559.5L86.0 556.7L90.0 553.7L94.0 550.6L98.0 547.2L102.0 543.7L106.0 539.8L110.0 535.4L114.0 530.9L118.0 526.1L122.0 521.2L126.0 516.3L130.0 511.5L134.0 506.5L138.0 501.4L142.0 496.2L146.0 490.8L150.0 485.3L154.0 479.8L158.0 474.2L162.0 468.6L166.0 462.9L170.0 457.1L172.0 454.2L173.5 451.9L175.0 449.7L176.5 447.5L178.0 445.2L179.5 443.0L181.0 440.8L182.5 438.5L184.0 436.3L185.5 434.1L187.0 431.7L188.5 429.2L190.0 426.4L191.5 424.0L192.0 423.4L193.0 422.5L230.0 424.1L270.0 425.8L310.0 427.4L350.0 429.1L390.0 430.8L430.0 432.5L470.0 434.2L514.0 436.1L514.0 601.7L58.0 601.7Z"/>
<path fill="#ffb400" d="M58.0 571.8L62.0 570.4L66.0 568.9L70.0 567.1L74.0 565.1L78.0 562.9L82.0 560.4L86.0 557.7L90.0 554.8L94.0 551.7L98.0 548.4L102.0 545.0L106.0 541.0L110.0 536.7L114.0 532.1L118.0 527.2L122.0 522.3L126.0 517.4L130.0 512.6L134.0 507.6L138.0 502.6L142.0 497.4L146.0 492.1L150.0 486.7L154.0 481.2L158.0 475.6L162.0 470.0L166.0 464.3L170.0 458.5L172.0 455.5L173.5 453.3L175.0 451.1L176.5 448.8L178.0 446.5L179.5 444.3L181.0 442.0L182.5 439.8L184.0 437.6L185.5 435.3L187.0 432.9L188.5 430.4L190.0 427.5L191.5 425.0L192.0 424.4L193.0 423.5L230.0 425.1L270.0 426.8L310.0 428.5L350.0 430.2L390.0 431.9L430.0 433.6L470.0 435.3L514.0 437.1L514.0 601.7L58.0 601.7Z"/>
<path fill="#ffc000" d="M58.0 572.5L62.0 571.1L66.0 569.6L70.0 567.9L74.0 565.9L78.0 563.7L82.0 561.3L86.0 558.6L90.0 555.8L94.0 552.8L98.0 549.6L102.0 546.2L106.0 542.3L110.0 537.9L114.0 533.3L118.0 528.4L122.0 523.4L126.0 518.5L130.0 513.7L134.0 508.8L138.0 503.7L142.0 498.6L146.0 493.4L150.0 488.0L154.0 482.6L158.0 477.1L162.0 471.5L166.0 465.8L170.0 459.9L172.0 456.9L173.5 454.7L175.0 452.4L176.5 450.1L178.0 447.8L179.5 445.6L181.0 443.3L182.5 441.1L184.0 438.8L185.5 436.5L187.0 434.1L188.5 431.6L190.0 428.6L191.5 426.0L192.0 425.4L193.0 424.5L230.0 426.1L270.0 427.8L310.0 429.5L350.0 431.2L390.0 432.9L430.0 434.6L470.0 436.3L514.0 438.2L514.0 601.7L58.0 601.7Z"/>
<path fill="#ffc800" d="M58.0 573.2L62.0 571.8L66.0 570.3L70.0 568.6L74.0 566.6L78.0 564.5L82.0 562.1L86.0 559.6L90.0 556.9L94.0 554.0L98.0 550.8L102.0 547.5L106.0 543.6L110.0 539.2L114.0 534.5L118.0 529.5L122.0 524.6L126.0 519.6L130.0 514.8L134.0 509.9L138.0 504.9L142.0 499.8L146.0 494.6L150.0 489.3L154.0 484.0L158.0 478.5L162.0 472.9L166.0 467.2L170.0 461.3L172.0 458.3L173.5 456.0L175.0 453.7L176.5 451.4L178.0 449.1L179.5 446.8L181.0 444.6L182.5 442.3L184.0 440.1L185.5 437.8L187.0 435.3L188.5 432.8L190.0 429.7L191.5 427.1L192.0 426.4L193.0 425.5L230.0 427.1L270.0 428.8L310.0 430.5L350.0 432.2L390.0 434.0L430.0 435.7L470.0 437.4L514.0 439.3L514.0 601.7L58.0 601.7Z"/>
<path fill="#ffd000" d="M58.0 573.9L62.0 572.5L66.0 571.0L70.0 569.3L74.0 567.4L78.0 565.3L82.0 563.0L86.0 560.5L90.0 557.9L94.0 555.1L98.0 552.0L102.0 548.7L106.0 544.8L110.0 540.4L114.0 535.7L118.0 530.7L122.0 525.7L126.0 520.7L130.0 515.9L134.0 511.0L138.0 506.1L142.0 501.0L146.0 495.9L150.0 490.7L154.0 485.3L158.0 479.9L162.0 474.3L166.0 468.6L170.0 462.7L172.0 459.6L173.5 457.4L175.0 455.1L176.5 452.8L178.0 450.4L179.5 448.1L181.0 445.8L182.5 443.6L184.0 441.3L185.5 439.0L187.0 436.5L188.5 433.9L190.0 430.8L191.5 428.1L192.0 427.5L193.0 426.5L230.0 428.1L270.0 429.8L310.0 431.5L350.0 433.3L390.0 435.0L430.0 436.7L470.0 438.4L514.0 440.3L514.0 601.7L58.0 601.7Z"/>
<path fill="#ffd800" d="M58.0 574.6L62.0 573.2L66.0 571.7L70.0 570.0L74.0 568.1L78.0 566.0L82.0 563.9L86.0 561.5L90.0 558.9L94.0 556.2L98.0 553.2L102.0 550.0L106.0 546.1L110.0 541.6L114.0 536.8L118.0 531.8L122.0 526.8L126.0 521.8L130.0 517.0L134.0 512.1L138.0 507.2L142.0 502.2L146.0 497.2L150.0 492.0L154.0 486.7L158.0 481.3L162.0 475.8L166.0 470.0L170.0 464.1L172.0 461.0L173.5 458.7L175.0 456.4L176.5 454.1L178.0 451.7L179.5 449.4L181.0 447.1L182.5 444.9L184.0 442.6L185.5 440.2L187.0 437.8L188.5 435.1L190.0 431.9L191.5 429.1L192.0 428.5L193.0 427.5L230.0 429.1L270.0 430.8L310.0 432.6L350.0 434.3L390.0 436.0L430.0 437.8L470.0 439.5L514.0 441.4L514.0 601.7L58.0 601.7Z"/>
<path fill="#fbde00" d="M58.0 575.3L62.0 573.9L66.0 572.4L70.0 570.7L74.0 568.8L78.0 566.8L82.0 564.7L86.0 562.4L90.0 560.0L94.0 557.3L98.0 554.4L102.0 551.2L106.0 547.3L110.0 542.8L114.0 538.0L118.0 533.0L122.0 527.9L126.0 522.9L130.0 518.1L134.0 513.2L138.0 508.4L142.0 503.4L146.0 498.4L150.0 493.3L154.0 488.1L158.0 482.7L162.0 477.2L166.0 471.4L170.0 465.4L172.0 462.4L173.5 460.0L175.0 457.7L176.5 455.4L178.0 453.0L179.5 450.7L181.0 448.4L182.5 446.1L184.0 443.8L185.5 441.5L187.0 439.0L188.5 436.3L190.0 433.0L191.5 430.2L192.0 429.5L193.0 428.5L230.0 430.1L270.0 431.8L310.0 433.6L350.0 435.3L390.0 437.1L430.0 438.8L470.0 440.5L514.0 442.5L514.0 601.7L58.0 601.7Z"/>
<path fill="#f8e400" d="M58.0 575.9L62.0 574.6L66.0 573.1L70.0 571.4L74.0 569.6L78.0 567.6L82.0 565.6L86.0 563.4L90.0 561.0L94.0 558.4L98.0 555.6L102.0 552.4L106.0 548.5L110.0 544.1L114.0 539.2L118.0 534.1L122.0 529.0L126.0 524.0L130.0 519.2L134.0 514.3L138.0 509.5L142.0 504.6L146.0 499.7L150.0 494.6L154.0 489.4L158.0 484.1L162.0 478.6L166.0 472.8L170.0 466.8L172.0 463.7L173.5 461.4L175.0 459.0L176.5 456.7L178.0 454.3L179.5 451.9L181.0 449.6L182.5 447.4L184.0 445.1L185.5 442.7L187.0 440.1L188.5 437.4L190.0 434.1L191.5 431.2L192.0 430.5L193.0 429.5L230.0 431.1L270.0 432.9L310.0 434.6L350.0 436.4L390.0 438.1L430.0 439.9L470.0 441.6L514.0 443.5L514.0 601.7L58.0 601.7Z"/>
<path fill="#f4ea00" d="M58.0 576.6L62.0 575.3L66.0 573.8L70.0 572.1L74.0 570.3L78.0 568.4L82.0 566.4L86.0 564.3L90.0 562.0L94.0 559.5L98.0 556.7L102.0 553.6L106.0 549.7L110.0 545.3L114.0 540.3L118.0 535.2L122.0 530.0L126.0 525.0L130.0 520.2L134.0 515.5L138.0 510.7L142.0 505.8L146.0 500.9L150.0 495.9L154.0 490.8L158.0 485.5L162.0 480.0L166.0 474.2L170.0 468.2L172.0 465.1L173.5 462.7L175.0 460.3L176.5 458.0L178.0 455.6L179.5 453.2L181.0 450.9L182.5 448.6L184.0 446.3L185.5 443.9L187.0 441.3L188.5 438.6L190.0 435.1L191.5 432.2L192.0 431.5L193.0 430.5L230.0 432.1L270.0 433.9L310.0 435.6L350.0 437.4L390.0 439.1L430.0 440.9L470.0 442.7L514.0 444.6L514.0 601.7L58.0 601.7Z"/>
<path fill="#f0f000" d="M58.0 577.3L62.0 576.0L66.0 574.5L70.0 572.8L74.0 571.0L78.0 569.2L82.0 567.2L86.0 565.2L90.0 563.0L94.0 560.6L98.0 557.9L102.0 554.8L106.0 551.0L110.0 546.5L114.0 541.5L118.0 536.3L122.0 531.1L126.0 526.1L130.0 521.3L134.0 516.6L138.0 511.8L142.0 507.0L146.0 502.2L150.0 497.2L154.0 492.1L158.0 486.9L162.0 481.4L166.0 475.6L170.0 469.5L172.0 466.4L173.5 464.0L175.0 461.7L176.5 459.3L178.0 456.9L179.5 454.5L181.0 452.1L182.5 449.8L184.0 447.5L185.5 445.1L187.0 442.5L188.5 439.7L190.0 436.2L191.5 433.3L192.0 432.6L193.0 431.5L230.0 433.1L270.0 434.9L310.0 436.7L350.0 438.4L390.0 440.2L430.0 441.9L470.0 443.7L514.0 445.6L514.0 601.7L58.0 601.7Z"/>
<path fill="#e7f000" d="M58.0 577.8L62.0 576.5L66.0 575.1L70.0 573.4L74.0 571.6L78.0 569.7L82.0 567.8L86.0 565.8L90.0 563.7L94.0 561.3L98.0 558.6L102.0 555.5L106.0 551.7L110.0 547.2L114.0 542.3L118.0 537.1L122.0 531.9L126.0 526.9L130.0 522.2L134.0 517.4L138.0 512.6L142.0 507.8L146.0 503.0L150.0 498.0L154.0 492.9L158.0 487.7L162.0 482.2L166.0 476.5L170.0 470.5L172.0 467.4L173.5 465.0L175.0 462.6L176.5 460.3L178.0 457.9L179.5 455.5L181.0 453.2L182.5 450.9L184.0 448.5L185.5 446.1L187.0 443.5L188.5 440.7L190.0 437.2L191.5 434.3L192.0 433.6L193.0 432.5L230.0 434.1L270.0 435.9L310.0 437.7L350.0 439.4L390.0 441.2L430.0 443.0L470.0 444.7L514.0 446.7L514.0 601.7L58.0 601.7Z"/>
<path fill="#def000" d="M58.0 578.3L62.0 577.0L66.0 575.6L70.0 573.9L74.0 572.1L78.0 570.3L82.0 568.4L86.0 566.4L90.0 564.3L94.0 561.9L98.0 559.3L102.0 556.2L106.0 552.4L110.0 548.0L114.0 543.1L118.0 537.9L122.0 532.8L126.0 527.8L130.0 523.0L134.0 518.2L138.0 513.5L142.0 508.7L146.0 503.8L150.0 498.8L154.0 493.7L158.0 488.5L162.0 483.0L166.0 477.3L170.0 471.4L172.0 468.3L173.5 466.0L175.0 463.6L176.5 461.3L178.0 458.9L179.5 456.5L181.0 454.2L182.5 451.9L184.0 449.6L185.5 447.1L187.0 444.5L188.5 441.7L190.0 438.2L191.5 435.2L192.0 434.5L193.0 433.5L230.0 435.1L270.0 436.9L310.0 438.7L350.0 440.4L390.0 442.2L430.0 444.0L470.0 445.8L514.0 447.7L514.0 601.7L58.0 601.7Z"/>
<path fill="#d5f000" d="M58.0 578.8L62.0 577.5L66.0 576.1L70.0 574.4L74.0 572.7L78.0 570.9L82.0 569.0L86.0 567.1L90.0 564.9L94.0 562.6L98.0 560.0L102.0 556.9L106.0 553.2L110.0 548.7L114.0 543.8L118.0 538.7L122.0 533.6L126.0 528.6L130.0 523.8L134.0 519.1L138.0 514.3L142.0 509.5L146.0 504.6L150.0 499.6L154.0 494.5L158.0 489.3L162.0 483.9L166.0 478.2L170.0 472.3L172.0 469.3L173.5 466.9L175.0 464.6L176.5 462.3L178.0 459.9L179.5 457.6L181.0 455.2L182.5 452.9L184.0 450.6L185.5 448.1L187.0 445.5L188.5 442.7L190.0 439.2L191.5 436.2L192.0 435.5L193.0 434.5L230.0 436.1L270.0 437.9L310.0 439.7L350.0 441.5L390.0 443.2L430.0 445.0L470.0 446.8L514.0 448.7L514.0 601.7L58.0 601.7Z"/>
<path fill="#ccf000" d="M58.0 579.3L62.0 578.0L66.0 576.6L70.0 575.0L74.0 573.2L78.0 571.4L82.0 569.6L86.0 567.7L90.0 565.5L94.0 563.2L98.0 560.6L102.0 557.6L106.0 553.9L110.0 549.5L114.0 544.6L118.0 539.5L122.0 534.4L126.0 529.4L130.0 524.6L134.0 519.9L138.0 515.1L142.0 510.3L146.0 505.4L150.0 500.4L154.0 495.3L158.0 490.1L162.0 484.7L166.0 479.1L170.0 473.2L172.0 470.2L173.5 467.9L175.0 465.6L176.5 463.3L178.0 460.9L179.5 458.6L181.0 456.3L182.5 453.9L184.0 451.6L185.5 449.1L187.0 446.5L188.5 443.7L190.0 440.2L191.5 437.2L192.0 436.5L193.0 435.5L230.0 437.1L270.0 438.9L310.0 440.7L350.0 442.5L390.0 444.3L430.0 446.0L470.0 447.8L514.0 449.8L514.0 601.7L58.0 601.7Z"/>
<path fill="#c1ef00" d="M58.0 579.7L62.0 578.5L66.0 577.1L70.0 575.5L74.0 573.8L78.0 572.0L82.0 570.2L86.0 568.3L90.0 566.2L94.0 563.9L98.0 561.3L102.0 558.3L106.0 554.6L110.0 550.2L114.0 545.4L118.0 540.3L122.0 535.2L126.0 530.2L130.0 525.5L134.0 520.7L138.0 515.9L142.0 511.1L146.0 506.2L150.0 501.2L154.0 496.1L158.0 490.9L162.0 485.5L166.0 479.9L170.0 474.1L172.0 471.1L173.5 468.9L175.0 466.6L176.5 464.3L178.0 462.0L179.5 459.6L181.0 457.3L182.5 455.0L184.0 452.6L185.5 450.2L187.0 447.5L188.5 444.7L190.0 441.2L191.5 438.2L192.0 437.5L193.0 436.5L230.0 438.1L270.0 439.9L310.0 441.7L350.0 443.5L390.0 445.3L430.0 447.1L470.0 448.8L514.0 450.8L514.0 601.7L58.0 601.7Z"/>
<path fill="#b4ec00" d="M58.0 580.2L62.0 579.0L66.0 577.6L70.0 576.0L74.0 574.3L78.0 572.6L82.0 570.8L86.0 568.9L90.0 566.8L94.0 564.5L98.0 562.0L102.0 559.0L106.0 555.3L110.0 550.9L114.0 546.1L118.0 541.1L122.0 536.0L126.0 531.0L130.0 526.3L134.0 521.5L138.0 516.7L142.0 511.9L146.0 507.0L150.0 502.0L154.0 496.9L158.0 491.7L162.0 486.3L166.0 480.8L170.0 475.0L172.0 472.1L173.5 469.8L175.0 467.6L176.5 465.3L178.0 463.0L179.5 460.6L181.0 458.3L182.5 456.0L184.0 453.6L185.5 451.2L187.0 448.5L188.5 445.7L190.0 442.2L191.5 439.2L192.0 438.5L193.0 437.5L230.0 439.2L270.0 440.9L310.0 442.7L350.0 444.5L390.0 446.3L430.0 448.1L470.0 449.9L514.0 451.8L514.0 601.7L58.0 601.7Z"/>
<path fill="#a7e900" d="M58.0 580.7L62.0 579.5L66.0 578.1L70.0 576.5L74.0 574.8L78.0 573.1L82.0 571.3L86.0 569.4L90.0 567.4L94.0 565.1L98.0 562.6L102.0 559.7L106.0 556.0L110.0 551.7L114.0 546.9L118.0 541.8L122.0 536.7L126.0 531.8L130.0 527.1L134.0 522.3L138.0 517.5L142.0 512.7L146.0 507.8L150.0 502.8L154.0 497.7L158.0 492.5L162.0 487.1L166.0 481.6L170.0 475.9L172.0 473.0L173.5 470.8L175.0 468.6L176.5 466.3L178.0 464.0L179.5 461.6L181.0 459.3L182.5 457.0L184.0 454.6L185.5 452.2L187.0 449.5L188.5 446.7L190.0 443.1L191.5 440.2L192.0 439.5L193.0 438.5L230.0 440.2L270.0 441.9L310.0 443.7L350.0 445.5L390.0 447.3L430.0 449.1L470.0 450.9L514.0 452.9L514.0 601.7L58.0 601.7Z"/>
<path fill="#9ae600" d="M58.0 581.1L62.0 580.0L66.0 578.6L70.0 577.0L74.0 575.3L78.0 573.6L82.0 571.9L86.0 570.0L90.0 568.0L94.0 565.8L98.0 563.3L102.0 560.4L106.0 556.7L110.0 552.4L114.0 547.6L118.0 542.6L122.0 537.5L126.0 532.6L130.0 527.9L134.0 523.1L138.0 518.3L142.0 513.5L146.0 508.6L150.0 503.6L154.0 498.5L158.0 493.3L162.0 487.9L166.0 482.5L170.0 476.8L172.0 474.0L173.5 471.8L175.0 469.5L176.5 467.3L178.0 465.0L179.5 462.7L181.0 460.3L182.5 458.0L184.0 455.6L185.5 453.2L187.0 450.5L188.5 447.7L190.0 444.1L191.5 441.2L192.0 440.5L193.0 439.5L230.0 441.2L270.0 443.0L310.0 444.7L350.0 446.5L390.0 448.3L430.0 450.1L470.0 451.9L514.0 453.9L514.0 601.7L58.0 601.7Z"/>
<path fill="#8de300" d="M58.0 581.6L62.0 580.5L66.0 579.1L70.0 577.5L74.0 575.9L78.0 574.2L82.0 572.5L86.0 570.6L90.0 568.6L94.0 566.4L98.0 563.9L102.0 561.0L106.0 557.4L110.0 553.1L114.0 548.3L118.0 543.3L122.0 538.3L126.0 533.4L130.0 528.7L134.0 523.9L138.0 519.1L142.0 514.3L146.0 509.3L150.0 504.3L154.0 499.2L158.0 494.0L162.0 488.7L166.0 483.3L170.0 477.7L172.0 474.9L173.5 472.7L175.0 470.5L176.5 468.3L178.0 466.0L179.5 463.7L181.0 461.4L182.5 459.0L184.0 456.7L185.5 454.2L187.0 451.5L188.5 448.7L190.0 445.1L191.5 442.2L192.0 441.5L193.0 440.5L230.0 442.2L270.0 444.0L310.0 445.8L350.0 447.6L390.0 449.3L430.0 451.1L470.0 452.9L514.0 454.9L514.0 601.7L58.0 601.7Z"/>
<path fill="#80e000" d="M58.0 582.1L62.0 580.9L66.0 579.6L70.0 578.0L74.0 576.4L78.0 574.7L82.0 573.0L86.0 571.2L90.0 569.2L94.0 567.0L98.0 564.6L102.0 561.7L106.0 558.1L110.0 553.8L114.0 549.1L118.0 544.1L122.0 539.1L126.0 534.2L130.0 529.5L134.0 524.7L138.0 519.9L142.0 515.1L146.0 510.1L150.0 505.1L154.0 500.0L158.0 494.8L162.0 489.6L166.0 484.2L170.0 478.7L172.0 475.8L173.5 473.7L175.0 471.5L176.5 469.3L178.0 467.0L179.5 464.7L181.0 462.4L182.5 460.1L184.0 457.7L185.5 455.2L187.0 452.5L188.5 449.6L190.0 446.1L191.5 443.1L192.0 442.5L193.0 441.5L230.0 443.2L270.0 445.0L310.0 446.8L350.0 448.6L390.0 450.4L430.0 452.2L470.0 454.0L514.0 455.9L514.0 601.7L58.0 601.7Z"/>
<path fill="#6edc00" d="M58.0 582.5L62.0 581.4L66.0 580.1L70.0 578.5L74.0 576.9L78.0 575.3L82.0 573.6L86.0 571.8L90.0 569.8L94.0 567.6L98.0 565.2L102.0 562.4L106.0 558.8L110.0 554.5L114.0 549.8L118.0 544.9L122.0 539.8L126.0 535.0L130.0 530.3L134.0 525.5L138.0 520.7L142.0 515.9L146.0 510.9L150.0 505.9L154.0 500.8L158.0 495.6L162.0 490.4L166.0 485.0L170.0 479.6L172.0 476.8L173.5 474.6L175.0 472.4L176.5 470.2L178.0 468.0L179.5 465.7L181.0 463.4L182.5 461.1L184.0 458.7L185.5 456.2L187.0 453.5L188.5 450.6L190.0 447.1L191.5 444.1L192.0 443.5L193.0 442.5L230.0 444.2L270.0 446.0L310.0 447.8L350.0 449.6L390.0 451.4L430.0 453.2L470.0 455.0L514.0 457.0L514.0 601.7L58.0 601.7Z"/>
<path fill="#5cd900" d="M58.0 583.0L62.0 581.9L66.0 580.6L70.0 579.0L74.0 577.4L78.0 575.8L82.0 574.1L86.0 572.3L90.0 570.4L94.0 568.2L98.0 565.8L102.0 563.0L106.0 559.4L110.0 555.2L114.0 550.5L118.0 545.6L122.0 540.6L126.0 535.8L130.0 531.1L134.0 526.3L138.0 521.5L142.0 516.6L146.0 511.7L150.0 506.7L154.0 501.6L158.0 496.4L162.0 491.2L166.0 485.9L170.0 480.5L172.0 477.7L173.5 475.6L175.0 473.4L176.5 471.2L178.0 469.0L179.5 466.7L181.0 464.4L182.5 462.1L184.0 459.7L185.5 457.2L187.0 454.5L188.5 451.6L190.0 448.1L191.5 445.1L192.0 444.5L193.0 443.5L230.0 445.2L270.0 447.0L310.0 448.8L350.0 450.6L390.0 452.4L430.0 454.2L470.0 456.0L514.0 458.0L514.0 601.7L58.0 601.7Z"/>
<path fill="#4bd500" d="M58.0 583.4L62.0 582.3L66.0 581.0L70.0 579.5L74.0 577.9L78.0 576.3L82.0 574.6L86.0 572.9L90.0 571.0L94.0 568.8L98.0 566.4L102.0 563.7L106.0 560.1L110.0 555.9L114.0 551.3L118.0 546.3L122.0 541.4L126.0 536.5L130.0 531.9L134.0 527.1L138.0 522.3L142.0 517.4L146.0 512.5L150.0 507.4L154.0 502.4L158.0 497.2L162.0 492.0L166.0 486.7L170.0 481.4L172.0 478.6L173.5 476.5L175.0 474.4L176.5 472.2L178.0 470.0L179.5 467.7L181.0 465.4L182.5 463.1L184.0 460.7L185.5 458.2L187.0 455.5L188.5 452.6L190.0 449.0L191.5 446.1L192.0 445.4L193.0 444.5L230.0 446.2L270.0 448.0L310.0 449.8L350.0 451.6L390.0 453.4L430.0 455.2L470.0 457.0L514.0 459.0L514.0 601.7L58.0 601.7Z"/>
<path fill="#39d200" d="M58.0 583.9L62.0 582.8L66.0 581.5L70.0 580.0L74.0 578.4L78.0 576.8L82.0 575.2L86.0 573.4L90.0 571.5L94.0 569.4L98.0 567.1L102.0 564.3L106.0 560.8L110.0 556.6L114.0 552.0L118.0 547.1L122.0 542.1L126.0 537.3L130.0 532.6L134.0 527.9L138.0 523.1L142.0 518.2L146.0 513.2L150.0 508.2L154.0 503.1L158.0 498.0L162.0 492.8L166.0 487.6L170.0 482.3L172.0 479.5L173.5 477.5L175.0 475.3L176.5 473.2L178.0 471.0L179.5 468.7L181.0 466.4L182.5 464.1L184.0 461.7L185.5 459.2L187.0 456.5L188.5 453.6L190.0 450.0L191.5 447.1L192.0 446.4L193.0 445.5L230.0 447.2L270.0 449.0L310.0 450.8L350.0 452.6L390.0 454.4L430.0 456.3L470.0 458.1L514.0 460.1L514.0 601.7L58.0 601.7Z"/>
<path fill="#2cce00" d="M58.0 584.3L62.0 583.2L66.0 582.0L70.0 580.5L74.0 578.9L78.0 577.3L82.0 575.7L86.0 574.0L90.0 572.1L94.0 570.0L98.0 567.7L102.0 565.0L106.0 561.5L110.0 557.3L114.0 552.7L118.0 547.8L122.0 542.9L126.0 538.1L130.0 533.4L134.0 528.7L138.0 523.9L142.0 519.0L146.0 514.0L150.0 509.0L154.0 503.9L158.0 498.8L162.0 493.6L166.0 488.4L170.0 483.1L172.0 480.5L173.5 478.4L175.0 476.3L176.5 474.2L178.0 472.0L179.5 469.7L181.0 467.4L182.5 465.1L184.0 462.7L185.5 460.2L187.0 457.5L188.5 454.6L190.0 451.0L191.5 448.1L192.0 447.4L193.0 446.5L230.0 448.2L270.0 450.0L310.0 451.8L350.0 453.6L390.0 455.5L430.0 457.3L470.0 459.1L514.0 461.1L514.0 601.7L58.0 601.7Z"/>
<path fill="#25cb00" d="M58.0 584.7L62.0 583.7L66.0 582.4L70.0 581.0L74.0 579.4L78.0 577.8L82.0 576.2L86.0 574.5L90.0 572.7L94.0 570.6L98.0 568.3L102.0 565.6L106.0 562.1L110.0 558.0L114.0 553.4L118.0 548.5L122.0 543.6L126.0 538.8L130.0 534.2L134.0 529.4L138.0 524.6L142.0 519.7L146.0 514.8L150.0 509.7L154.0 504.7L158.0 499.5L162.0 494.4L166.0 489.2L170.0 484.0L172.0 481.4L173.5 479.3L175.0 477.3L176.5 475.1L178.0 473.0L179.5 470.7L181.0 468.4L182.5 466.1L184.0 463.7L185.5 461.1L187.0 458.5L188.5 455.6L190.0 452.0L191.5 449.1L192.0 448.4L193.0 447.5L230.0 449.2L270.0 451.0L310.0 452.8L350.0 454.7L390.0 456.5L430.0 458.3L470.0 460.1L514.0 462.1L514.0 601.7L58.0 601.7Z"/>
<path fill="#1ec700" d="M58.0 585.2L62.0 584.1L66.0 582.9L70.0 581.4L74.0 579.9L78.0 578.4L82.0 576.8L86.0 575.1L90.0 573.2L94.0 571.2L98.0 568.9L102.0 566.2L106.0 562.8L110.0 558.6L114.0 554.1L118.0 549.2L122.0 544.4L126.0 539.6L130.0 535.0L134.0 530.2L138.0 525.4L142.0 520.5L146.0 515.5L150.0 510.5L154.0 505.4L158.0 500.3L162.0 495.2L166.0 490.1L170.0 484.9L172.0 482.3L173.5 480.3L175.0 478.2L176.5 476.1L178.0 474.0L179.5 471.7L181.0 469.4L182.5 467.1L184.0 464.7L185.5 462.1L187.0 459.4L188.5 456.5L190.0 453.0L191.5 450.1L192.0 449.4L193.0 448.5L230.0 450.2L270.0 452.0L310.0 453.8L350.0 455.7L390.0 457.5L430.0 459.3L470.0 461.1L514.0 463.2L514.0 601.7L58.0 601.7Z"/>
<path fill="#17c400" d="M58.0 585.6L62.0 584.6L66.0 583.3L70.0 581.9L74.0 580.4L78.0 578.9L82.0 577.3L86.0 575.6L90.0 573.8L94.0 571.8L98.0 569.5L102.0 566.8L106.0 563.4L110.0 559.3L114.0 554.8L118.0 550.0L122.0 545.1L126.0 540.3L130.0 535.7L134.0 531.0L138.0 526.2L142.0 521.3L146.0 516.3L150.0 511.3L154.0 506.2L158.0 501.1L162.0 496.0L166.0 490.9L170.0 485.8L172.0 483.2L173.5 481.2L175.0 479.2L176.5 477.1L178.0 474.9L179.5 472.7L181.0 470.4L182.5 468.1L184.0 465.7L185.5 463.1L187.0 460.4L188.5 457.5L190.0 454.0L191.5 451.0L192.0 450.4L193.0 449.5L230.0 451.2L270.0 453.0L310.0 454.9L350.0 456.7L390.0 458.5L430.0 460.3L470.0 462.2L514.0 464.2L514.0 601.7L58.0 601.7Z"/>
<path fill="#10c000" d="M58.0 586.0L62.0 585.0L66.0 583.8L70.0 582.4L74.0 580.9L78.0 579.3L82.0 577.8L86.0 576.1L90.0 574.4L94.0 572.4L98.0 570.1L102.0 567.5L106.0 564.0L110.0 560.0L114.0 555.5L118.0 550.7L122.0 545.8L126.0 541.1L130.0 536.5L134.0 531.8L138.0 526.9L142.0 522.0L146.0 517.1L150.0 512.0L154.0 507.0L158.0 501.9L162.0 496.8L166.0 491.7L170.0 486.7L172.0 484.1L173.5 482.2L175.0 480.1L176.5 478.1L178.0 475.9L179.5 473.7L181.0 471.4L182.5 469.1L184.0 466.7L185.5 464.1L187.0 461.4L188.5 458.5L190.0 454.9L191.5 452.0L192.0 451.4L193.0 450.5L230.0 452.2L270.0 454.0L310.0 455.9L350.0 457.7L390.0 459.5L430.0 461.4L470.0 463.2L514.0 465.2L514.0 601.7L58.0 601.7Z"/>
<path fill="#0cbc04" d="M58.0 586.4L62.0 585.4L66.0 584.2L70.0 582.8L74.0 581.3L78.0 579.8L82.0 578.3L86.0 576.7L90.0 574.9L94.0 572.9L98.0 570.7L102.0 568.1L106.0 564.7L110.0 560.6L114.0 556.1L118.0 551.4L122.0 546.5L126.0 541.8L130.0 537.2L134.0 532.5L138.0 527.7L142.0 522.8L146.0 517.8L150.0 512.8L154.0 507.7L158.0 502.7L162.0 497.6L166.0 492.6L170.0 487.6L172.0 485.1L173.5 483.1L175.0 481.1L176.5 479.0L178.0 476.9L179.5 474.7L181.0 472.4L182.5 470.1L184.0 467.7L185.5 465.1L187.0 462.4L188.5 459.5L190.0 455.9L191.5 453.0L192.0 452.4L193.0 451.5L230.0 453.2L270.0 455.0L310.0 456.9L350.0 458.7L390.0 460.6L430.0 462.4L470.0 464.2L514.0 466.3L514.0 601.7L58.0 601.7Z"/>
<path fill="#08b808" d="M58.0 586.8L62.0 585.8L66.0 584.7L70.0 583.3L74.0 581.8L78.0 580.3L82.0 578.8L86.0 577.2L90.0 575.4L94.0 573.5L98.0 571.3L102.0 568.7L106.0 565.3L110.0 561.3L114.0 556.8L118.0 552.1L122.0 547.3L126.0 542.6L130.0 538.0L134.0 533.3L138.0 528.4L142.0 523.5L146.0 518.6L150.0 513.5L154.0 508.5L158.0 503.4L162.0 498.4L166.0 493.4L170.0 488.5L172.0 486.0L173.5 484.0L175.0 482.1L176.5 480.0L178.0 477.9L179.5 475.7L181.0 473.4L182.5 471.1L184.0 468.7L185.5 466.1L187.0 463.4L188.5 460.5L190.0 456.9L191.5 454.0L192.0 453.4L193.0 452.5L230.0 454.2L270.0 456.1L310.0 457.9L350.0 459.8L390.0 461.6L430.0 463.5L470.0 465.3L514.0 467.3L514.0 601.7L58.0 601.7Z"/>
<path fill="#04b40c" d="M58.0 587.3L62.0 586.3L66.0 585.1L70.0 583.7L74.0 582.3L78.0 580.8L82.0 579.3L86.0 577.7L90.0 576.0L94.0 574.0L98.0 571.8L102.0 569.3L106.0 565.9L110.0 562.0L114.0 557.5L118.0 552.8L122.0 548.0L126.0 543.3L130.0 538.7L134.0 534.0L138.0 529.2L142.0 524.3L146.0 519.3L150.0 514.3L154.0 509.3L158.0 504.2L162.0 499.2L166.0 494.2L170.0 489.4L172.0 486.9L173.5 485.0L175.0 483.0L176.5 481.0L178.0 478.9L179.5 476.7L181.0 474.4L182.5 472.1L184.0 469.7L185.5 467.1L187.0 464.4L188.5 461.5L190.0 457.9L191.5 455.0L192.0 454.4L193.0 453.5L230.0 455.2L270.0 457.1L310.0 459.0L350.0 460.8L390.0 462.7L430.0 464.6L470.0 466.4L514.0 468.5L514.0 601.7L58.0 601.7Z"/>
<path fill="#00b010" d="M58.0 587.7L62.0 586.7L66.0 585.5L70.0 584.2L74.0 582.7L78.0 581.3L82.0 579.8L86.0 578.2L90.0 576.5L94.0 574.6L98.0 572.4L102.0 569.9L106.0 566.6L110.0 562.6L114.0 558.2L118.0 553.5L122.0 548.7L126.0 544.0L130.0 539.5L134.0 534.8L138.0 530.0L142.0 525.0L146.0 520.1L150.0 515.1L154.0 510.0L158.0 505.0L162.0 500.0L166.0 495.1L170.0 490.3L172.0 487.8L173.5 485.9L175.0 483.9L176.5 481.9L178.0 479.8L179.5 477.7L181.0 475.4L182.5 473.1L184.0 470.6L185.5 468.1L187.0 465.4L188.5 462.4L190.0 458.9L191.5 456.0L192.0 455.4L193.0 454.5L230.0 456.2L270.0 458.1L310.0 460.0L350.0 461.9L390.0 463.8L430.0 465.7L470.0 467.6L514.0 469.7L514.0 601.7L58.0 601.7Z"/>
<path fill="#00ab15" d="M58.0 588.1L62.0 587.1L66.0 586.0L70.0 584.6L74.0 583.2L78.0 581.8L82.0 580.3L86.0 578.8L90.0 577.1L94.0 575.2L98.0 573.1L102.0 570.5L106.0 567.3L110.0 563.3L114.0 558.9L118.0 554.3L122.0 549.5L126.0 544.9L130.0 540.4L134.0 535.7L138.0 530.9L142.0 526.1L146.0 521.1L150.0 516.1L154.0 511.1L158.0 506.1L162.0 501.1L166.0 496.2L170.0 491.3L172.0 488.9L173.5 487.0L175.0 485.0L176.5 483.0L178.0 480.9L179.5 478.7L181.0 476.4L182.5 474.1L184.0 471.7L185.5 469.1L187.0 466.4L188.5 463.4L190.0 459.9L191.5 457.0L192.0 456.3L193.0 455.5L230.0 457.3L270.0 459.2L310.0 461.1L350.0 463.0L390.0 464.9L430.0 466.8L470.0 468.7L514.0 470.8L514.0 601.7L58.0 601.7Z"/>
<path fill="#00a719" d="M58.0 588.4L62.0 587.5L66.0 586.4L70.0 585.1L74.0 583.7L78.0 582.3L82.0 580.9L86.0 579.3L90.0 577.7L94.0 575.8L98.0 573.7L102.0 571.2L106.0 568.0L110.0 564.1L114.0 559.8L118.0 555.2L122.0 550.5L126.0 545.9L130.0 541.4L134.0 536.8L138.0 532.1L142.0 527.2L146.0 522.3L150.0 517.4L154.0 512.4L158.0 507.4L162.0 502.3L166.0 497.4L170.0 492.5L172.0 490.0L173.5 488.1L175.0 486.1L176.5 484.1L178.0 482.0L179.5 479.8L181.0 477.5L182.5 475.1L184.0 472.7L185.5 470.1L187.0 467.4L188.5 464.5L190.0 460.8L191.5 458.0L192.0 457.3L193.0 456.5L230.0 458.3L270.0 460.2L310.0 462.1L350.0 464.1L390.0 466.0L430.0 467.9L470.0 469.9L514.0 472.0L514.0 601.7L58.0 601.7Z"/>
<path fill="#00a21e" d="M58.0 588.8L62.0 587.9L66.0 586.8L70.0 585.5L74.0 584.2L78.0 582.8L82.0 581.4L86.0 579.9L90.0 578.3L94.0 576.4L98.0 574.4L102.0 571.9L106.0 568.7L110.0 564.9L114.0 560.6L118.0 556.1L122.0 551.4L126.0 546.9L130.0 542.4L134.0 537.9L138.0 533.2L142.0 528.4L146.0 523.5L150.0 518.6L154.0 513.6L158.0 508.6L162.0 503.6L166.0 498.7L170.0 493.7L172.0 491.2L173.5 489.2L175.0 487.2L176.5 485.2L178.0 483.0L179.5 480.8L181.0 478.5L182.5 476.2L184.0 473.7L185.5 471.1L187.0 468.4L188.5 465.5L190.0 461.8L191.5 459.0L192.0 458.3L193.0 457.5L230.0 459.3L270.0 461.3L310.0 463.2L350.0 465.2L390.0 467.1L430.0 469.1L470.0 471.0L514.0 473.1L514.0 601.7L58.0 601.7Z"/>
<path fill="#009b25" d="M58.0 589.2L62.0 588.3L66.0 587.3L70.0 586.0L74.0 584.7L78.0 583.3L82.0 581.9L86.0 580.5L90.0 578.8L94.0 577.0L98.0 575.0L102.0 572.6L106.0 569.4L110.0 565.7L114.0 561.4L118.0 556.9L122.0 552.3L126.0 547.8L130.0 543.4L134.0 538.9L138.0 534.3L142.0 529.5L146.0 524.7L150.0 519.8L154.0 514.9L158.0 509.9L162.0 504.9L166.0 499.9L170.0 494.9L172.0 492.3L173.5 490.3L175.0 488.3L176.5 486.2L178.0 484.1L179.5 481.9L181.0 479.6L182.5 477.2L184.0 474.8L185.5 472.2L187.0 469.4L188.5 466.5L190.0 462.8L191.5 459.9L192.0 459.3L193.0 458.5L230.0 460.3L270.0 462.3L310.0 464.3L350.0 466.2L390.0 468.2L430.0 470.2L470.0 472.1L514.0 474.3L514.0 601.7L58.0 601.7Z"/>
<path fill="#00922e" d="M58.0 589.6L62.0 588.7L66.0 587.7L70.0 586.5L74.0 585.1L78.0 583.8L82.0 582.5L86.0 581.0L90.0 579.4L94.0 577.6L98.0 575.6L102.0 573.3L106.0 570.2L110.0 566.4L114.0 562.2L118.0 557.8L122.0 553.2L126.0 548.8L130.0 544.4L134.0 540.0L138.0 535.4L142.0 530.7L146.0 525.9L150.0 521.0L154.0 516.1L158.0 511.1L162.0 506.1L166.0 501.1L170.0 496.1L172.0 493.5L173.5 491.5L175.0 489.4L176.5 487.3L178.0 485.1L179.5 482.9L181.0 480.6L182.5 478.2L184.0 475.8L185.5 473.2L187.0 470.5L188.5 467.5L190.0 463.8L191.5 460.9L192.0 460.3L193.0 459.5L230.0 461.3L270.0 463.3L310.0 465.3L350.0 467.3L390.0 469.3L430.0 471.3L470.0 473.3L514.0 475.5L514.0 601.7L58.0 601.7Z"/>
<path fill="#008838" d="M58.0 590.0L62.0 589.1L66.0 588.1L70.0 586.9L74.0 585.6L78.0 584.3L82.0 583.0L86.0 581.5L90.0 580.0L94.0 578.2L98.0 576.3L102.0 573.9L106.0 570.9L110.0 567.2L114.0 563.0L118.0 558.6L122.0 554.2L126.0 549.8L130.0 545.4L134.0 541.0L138.0 536.5L142.0 531.8L146.0 527.1L150.0 522.3L154.0 517.4L158.0 512.4L162.0 507.4L166.0 502.4L170.0 497.2L172.0 494.6L173.5 492.6L175.0 490.5L176.5 488.4L178.0 486.2L179.5 483.9L181.0 481.6L182.5 479.3L184.0 476.8L185.5 474.2L187.0 471.5L188.5 468.5L190.0 464.8L191.5 461.9L192.0 461.3L193.0 460.5L230.0 462.4L270.0 464.4L310.0 466.4L350.0 468.4L390.0 470.4L430.0 472.4L470.0 474.4L514.0 476.6L514.0 601.7L58.0 601.7Z"/>
<path fill="#007e42" d="M58.0 590.4L62.0 589.5L66.0 588.5L70.0 587.3L74.0 586.1L78.0 584.8L82.0 583.5L86.0 582.1L90.0 580.6L94.0 578.8L98.0 576.9L102.0 574.6L106.0 571.6L110.0 567.9L114.0 563.8L118.0 559.5L122.0 555.0L126.0 550.7L130.0 546.4L134.0 542.0L138.0 537.5L142.0 532.9L146.0 528.2L150.0 523.5L154.0 518.6L158.0 513.6L162.0 508.6L166.0 503.6L170.0 498.4L172.0 495.7L173.5 493.7L175.0 491.6L176.5 489.5L178.0 487.2L179.5 485.0L181.0 482.7L182.5 480.3L184.0 477.8L185.5 475.2L187.0 472.5L188.5 469.5L190.0 465.8L191.5 462.9L192.0 462.3L193.0 461.5L230.0 463.4L270.0 465.4L310.0 467.4L350.0 469.5L390.0 471.5L430.0 473.5L470.0 475.6L514.0 477.8L514.0 601.7L58.0 601.7Z"/>
<path fill="#00754b" d="M58.0 590.7L62.0 589.9L66.0 588.9L70.0 587.8L74.0 586.5L78.0 585.3L82.0 584.0L86.0 582.6L90.0 581.1L94.0 579.4L98.0 577.5L102.0 575.2L106.0 572.3L110.0 568.7L114.0 564.6L118.0 560.3L122.0 555.9L126.0 551.6L130.0 547.4L134.0 543.1L138.0 538.6L142.0 534.1L146.0 529.4L150.0 524.6L154.0 519.8L158.0 514.9L162.0 509.9L166.0 504.8L170.0 499.6L172.0 496.9L173.5 494.8L175.0 492.7L176.5 490.5L178.0 488.3L179.5 486.0L181.0 483.7L182.5 481.3L184.0 478.9L185.5 476.3L187.0 473.5L188.5 470.5L190.0 466.8L191.5 463.9L192.0 463.3L193.0 462.5L230.0 464.4L270.0 466.4L310.0 468.5L350.0 470.5L390.0 472.6L430.0 474.6L470.0 476.7L514.0 479.0L514.0 601.7L58.0 601.7Z"/>
<path fill="#006c56" d="M58.0 591.1L62.0 590.3L66.0 589.4L70.0 588.2L74.0 587.0L78.0 585.7L82.0 584.5L86.0 583.1L90.0 581.7L94.0 580.0L98.0 578.1L102.0 575.9L106.0 573.0L110.0 569.4L114.0 565.4L118.0 561.2L122.0 556.8L126.0 552.6L130.0 548.4L134.0 544.1L138.0 539.7L142.0 535.2L146.0 530.5L150.0 525.8L154.0 521.0L158.0 516.1L162.0 511.1L166.0 506.0L170.0 500.7L172.0 498.0L173.5 495.9L175.0 493.8L176.5 491.6L178.0 489.3L179.5 487.0L181.0 484.7L182.5 482.3L184.0 479.9L185.5 477.3L187.0 474.5L188.5 471.5L190.0 467.8L191.5 464.9L192.0 464.3L193.0 463.5L230.0 465.4L270.0 467.5L310.0 469.6L350.0 471.6L390.0 473.7L430.0 475.8L470.0 477.8L514.0 480.1L514.0 601.7L58.0 601.7Z"/>
<path fill="#006462" d="M58.0 591.5L62.0 590.7L66.0 589.8L70.0 588.6L74.0 587.4L78.0 586.2L82.0 585.0L86.0 583.7L90.0 582.2L94.0 580.6L98.0 578.7L102.0 576.5L106.0 573.6L110.0 570.1L114.0 566.2L118.0 562.0L122.0 557.7L126.0 553.5L130.0 549.3L134.0 545.1L138.0 540.7L142.0 536.3L146.0 531.7L150.0 527.0L154.0 522.2L158.0 517.3L162.0 512.3L166.0 507.2L170.0 501.9L172.0 499.1L173.5 497.0L175.0 494.8L176.5 492.6L178.0 490.4L179.5 488.1L181.0 485.7L182.5 483.4L184.0 480.9L185.5 478.3L187.0 475.5L188.5 472.6L190.0 468.8L191.5 465.9L192.0 465.3L193.0 464.5L230.0 466.4L270.0 468.5L310.0 470.6L350.0 472.7L390.0 474.8L430.0 476.9L470.0 479.0L514.0 481.3L514.0 601.7L58.0 601.7Z"/>
<path fill="#005c6e" d="M58.0 591.8L62.0 591.1L66.0 590.2L70.0 589.0L74.0 587.9L78.0 586.7L82.0 585.5L86.0 584.2L90.0 582.7L94.0 581.1L98.0 579.3L102.0 577.2L106.0 574.3L110.0 570.8L114.0 567.0L118.0 562.8L122.0 558.6L126.0 554.4L130.0 550.3L134.0 546.1L138.0 541.8L142.0 537.3L146.0 532.8L150.0 528.2L154.0 523.4L158.0 518.5L162.0 513.5L166.0 508.4L170.0 503.0L172.0 500.2L173.5 498.1L175.0 495.9L176.5 493.7L178.0 491.4L179.5 489.1L181.0 486.8L182.5 484.4L184.0 481.9L185.5 479.3L187.0 476.5L188.5 473.6L190.0 469.8L191.5 466.9L192.0 466.2L193.0 465.5L230.0 467.5L270.0 469.6L310.0 471.7L350.0 473.8L390.0 475.9L430.0 478.0L470.0 480.1L514.0 482.4L514.0 601.7L58.0 601.7Z"/>
<path fill="#00547a" d="M58.0 592.2L62.0 591.4L66.0 590.6L70.0 589.5L74.0 588.3L78.0 587.2L82.0 586.0L86.0 584.7L90.0 583.3L94.0 581.7L98.0 579.9L102.0 577.8L106.0 575.0L110.0 571.5L114.0 567.7L118.0 563.6L122.0 559.4L126.0 555.3L130.0 551.2L134.0 547.0L138.0 542.8L142.0 538.4L146.0 533.9L150.0 529.3L154.0 524.5L158.0 519.7L162.0 514.7L166.0 509.5L170.0 504.1L172.0 501.3L173.5 499.2L175.0 497.0L176.5 494.8L178.0 492.5L179.5 490.1L181.0 487.8L182.5 485.4L184.0 482.9L185.5 480.3L187.0 477.6L188.5 474.6L190.0 470.8L191.5 467.8L192.0 467.2L193.0 466.5L230.0 468.5L270.0 470.6L310.0 472.7L350.0 474.8L390.0 477.0L430.0 479.1L470.0 481.2L514.0 483.5L514.0 601.7L58.0 601.7Z"/>
<path fill="#004e85" d="M58.0 592.5L62.0 591.8L66.0 591.0L70.0 589.9L74.0 588.8L78.0 587.6L82.0 586.5L86.0 585.2L90.0 583.8L94.0 582.3L98.0 580.5L102.0 578.4L106.0 575.6L110.0 572.2L114.0 568.4L118.0 564.3L122.0 560.1L126.0 556.0L130.0 552.0L134.0 547.9L138.0 543.7L142.0 539.3L146.0 534.9L150.0 530.3L154.0 525.6L158.0 520.8L162.0 515.8L166.0 510.6L170.0 505.3L172.0 502.5L173.5 500.3L175.0 498.1L176.5 495.9L178.0 493.6L179.5 491.3L181.0 488.9L182.5 486.5L184.0 484.0L185.5 481.4L187.0 478.6L188.5 475.6L190.0 471.8L191.5 468.9L192.0 468.3L193.0 467.5L230.0 469.5L270.0 471.6L310.0 473.7L350.0 475.9L390.0 478.0L430.0 480.1L470.0 482.3L514.0 484.6L514.0 601.7L58.0 601.7Z"/>
<path fill="#004b8e" d="M58.0 592.9L62.0 592.2L66.0 591.4L70.0 590.3L74.0 589.2L78.0 588.1L82.0 587.0L86.0 585.7L90.0 584.3L94.0 582.8L98.0 581.0L102.0 579.0L106.0 576.2L110.0 572.8L114.0 569.1L118.0 565.0L122.0 560.9L126.0 556.8L130.0 552.8L134.0 548.8L138.0 544.6L142.0 540.3L146.0 535.9L150.0 531.3L154.0 526.6L158.0 521.8L162.0 516.9L166.0 511.8L170.0 506.4L172.0 503.6L173.5 501.4L175.0 499.2L176.5 497.0L178.0 494.7L179.5 492.4L181.0 490.0L182.5 487.6L184.0 485.1L185.5 482.4L187.0 479.6L188.5 476.6L190.0 472.8L191.5 469.9L192.0 469.3L193.0 468.5L230.0 470.5L270.0 472.6L310.0 474.8L350.0 476.9L390.0 479.0L430.0 481.2L470.0 483.3L514.0 485.7L514.0 601.7L58.0 601.7Z"/>
<path fill="#004898" d="M58.0 593.2L62.0 592.6L66.0 591.8L70.0 590.8L74.0 589.7L78.0 588.6L82.0 587.5L86.0 586.2L90.0 584.9L94.0 583.3L98.0 581.6L102.0 579.5L106.0 576.8L110.0 573.5L114.0 569.7L118.0 565.7L122.0 561.6L126.0 557.6L130.0 553.7L134.0 549.6L138.0 545.5L142.0 541.2L146.0 536.8L150.0 532.3L154.0 527.7L158.0 522.9L162.0 518.0L166.0 512.9L170.0 507.5L172.0 504.7L173.5 502.6L175.0 500.4L176.5 498.1L178.0 495.8L179.5 493.5L181.0 491.1L182.5 488.6L184.0 486.1L185.5 483.5L187.0 480.6L188.5 477.6L190.0 473.8L191.5 470.9L192.0 470.3L193.0 469.5L230.0 471.5L270.0 473.6L310.0 475.8L350.0 477.9L390.0 480.1L430.0 482.2L470.0 484.4L514.0 486.8L514.0 601.7L58.0 601.7Z"/>
<path fill="#0045a2" d="M58.0 593.6L62.0 592.9L66.0 592.2L70.0 591.2L74.0 590.1L78.0 589.1L82.0 588.0L86.0 586.7L90.0 585.4L94.0 583.9L98.0 582.1L102.0 580.1L106.0 577.4L110.0 574.1L114.0 570.4L118.0 566.4L122.0 562.4L126.0 558.4L130.0 554.5L134.0 550.5L138.0 546.3L142.0 542.1L146.0 537.8L150.0 533.3L154.0 528.7L158.0 524.0L162.0 519.1L166.0 514.0L170.0 508.6L172.0 505.8L173.5 503.7L175.0 501.5L176.5 499.2L178.0 496.9L179.5 494.6L181.0 492.2L182.5 489.7L184.0 487.2L185.5 484.5L187.0 481.7L188.5 478.6L190.0 474.8L191.5 471.9L192.0 471.3L193.0 470.5L230.0 472.5L270.0 474.7L310.0 476.8L350.0 479.0L390.0 481.1L430.0 483.3L470.0 485.5L514.0 487.8L514.0 601.7L58.0 601.7Z"/>
<path fill="#0042ab" d="M58.0 593.9L62.0 593.3L66.0 592.5L70.0 591.6L74.0 590.6L78.0 589.5L82.0 588.4L86.0 587.2L90.0 585.9L94.0 584.4L98.0 582.7L102.0 580.7L106.0 578.0L110.0 574.8L114.0 571.1L118.0 567.1L122.0 563.1L126.0 559.1L130.0 555.3L134.0 551.3L138.0 547.2L142.0 543.0L146.0 538.7L150.0 534.3L154.0 529.7L158.0 525.0L162.0 520.1L166.0 515.1L170.0 509.7L172.0 506.9L173.5 504.8L175.0 502.6L176.5 500.3L178.0 498.0L179.5 495.7L181.0 493.3L182.5 490.8L184.0 488.2L185.5 485.5L187.0 482.7L188.5 479.6L190.0 475.9L191.5 472.9L192.0 472.3L193.0 471.5L230.0 473.5L270.0 475.7L310.0 477.8L350.0 480.0L390.0 482.2L430.0 484.3L470.0 486.5L514.0 488.9L514.0 601.7L58.0 601.7Z"/>
<path fill="#003eb3" d="M58.0 594.3L62.0 593.7L66.0 592.9L70.0 592.0L74.0 591.0L78.0 590.0L82.0 588.9L86.0 587.7L90.0 586.4L94.0 584.9L98.0 583.2L102.0 581.3L106.0 578.6L110.0 575.4L114.0 571.7L118.0 567.8L122.0 563.8L126.0 559.9L130.0 556.1L134.0 552.1L138.0 548.1L142.0 543.9L146.0 539.7L150.0 535.3L154.0 530.7L158.0 526.1L162.0 521.2L166.0 516.1L170.0 510.8L172.0 508.0L173.5 505.9L175.0 503.7L176.5 501.4L178.0 499.1L179.5 496.8L181.0 494.3L182.5 491.9L184.0 489.3L185.5 486.6L187.0 483.7L188.5 480.6L190.0 476.9L191.5 473.9L192.0 473.3L193.0 472.5L230.0 474.5L270.0 476.7L310.0 478.9L350.0 481.0L390.0 483.2L430.0 485.4L470.0 487.6L514.0 490.0L514.0 601.7L58.0 601.7Z"/>
<path fill="#0039ba" d="M58.0 594.6L62.0 594.0L66.0 593.3L70.0 592.4L74.0 591.5L78.0 590.5L82.0 589.4L86.0 588.2L90.0 586.9L94.0 585.4L98.0 583.8L102.0 581.8L106.0 579.2L110.0 576.0L114.0 572.4L118.0 568.5L122.0 564.5L126.0 560.6L130.0 556.8L134.0 552.9L138.0 548.9L142.0 544.8L146.0 540.6L150.0 536.2L154.0 531.7L158.0 527.1L162.0 522.3L166.0 517.2L170.0 511.9L172.0 509.1L173.5 507.0L175.0 504.8L176.5 502.5L178.0 500.2L179.5 497.9L181.0 495.4L182.5 492.9L184.0 490.3L185.5 487.6L187.0 484.7L188.5 481.6L190.0 477.9L191.5 474.9L192.0 474.3L193.0 473.5L230.0 475.5L270.0 477.7L310.0 479.9L350.0 482.1L390.0 484.3L430.0 486.4L470.0 488.6L514.0 491.0L514.0 601.7L58.0 601.7Z"/>
<path fill="#0035c1" d="M58.0 594.9L62.0 594.4L66.0 593.7L70.0 592.8L74.0 591.9L78.0 590.9L82.0 589.9L86.0 588.7L90.0 587.4L94.0 585.9L98.0 584.3L102.0 582.4L106.0 579.8L110.0 576.6L114.0 573.0L118.0 569.2L122.0 565.3L126.0 561.4L130.0 557.6L134.0 553.8L138.0 549.8L142.0 545.7L146.0 541.5L150.0 537.2L154.0 532.7L158.0 528.1L162.0 523.3L166.0 518.3L170.0 513.0L172.0 510.2L173.5 508.1L175.0 505.9L176.5 503.6L178.0 501.3L179.5 498.9L181.0 496.5L182.5 494.0L184.0 491.4L185.5 488.6L187.0 485.7L188.5 482.7L190.0 478.9L191.5 476.0L192.0 475.3L193.0 474.5L230.0 476.5L270.0 478.7L310.0 480.9L350.0 483.1L390.0 485.3L430.0 487.5L470.0 489.7L514.0 492.1L514.0 601.7L58.0 601.7Z"/>
<path fill="#0030c8" d="M58.0 595.2L62.0 594.7L66.0 594.0L70.0 593.2L74.0 592.3L78.0 591.4L82.0 590.3L86.0 589.2L90.0 587.9L94.0 586.4L98.0 584.8L102.0 582.9L106.0 580.3L110.0 577.2L114.0 573.6L118.0 569.8L122.0 566.0L126.0 562.1L130.0 558.4L134.0 554.6L138.0 550.6L142.0 546.6L146.0 542.5L150.0 538.2L154.0 533.7L158.0 529.1L162.0 524.4L166.0 519.4L170.0 514.1L172.0 511.3L173.5 509.1L175.0 506.9L176.5 504.7L178.0 502.4L179.5 500.0L181.0 497.6L182.5 495.0L184.0 492.4L185.5 489.7L187.0 486.7L188.5 483.7L190.0 479.9L191.5 477.0L192.0 476.3L193.0 475.5L230.0 477.5L270.0 479.7L310.0 481.9L350.0 484.1L390.0 486.3L430.0 488.6L470.0 490.8L514.0 493.2L514.0 601.7L58.0 601.7Z"/>
<path fill="#002bcf" d="M58.0 595.6L62.0 595.0L66.0 594.4L70.0 593.6L74.0 592.7L78.0 591.8L82.0 590.8L86.0 589.6L90.0 588.4L94.0 586.9L98.0 585.3L102.0 583.4L106.0 580.9L110.0 577.8L114.0 574.3L118.0 570.5L122.0 566.7L126.0 562.9L130.0 559.1L134.0 555.4L138.0 551.5L142.0 547.5L146.0 543.4L150.0 539.1L154.0 534.7L158.0 530.2L162.0 525.4L166.0 520.4L170.0 515.1L172.0 512.4L173.5 510.2L175.0 508.0L176.5 505.8L178.0 503.5L179.5 501.1L181.0 498.6L182.5 496.1L184.0 493.5L185.5 490.7L187.0 487.8L188.5 484.7L190.0 480.9L191.5 478.0L192.0 477.3L193.0 476.5L230.0 478.5L270.0 480.8L310.0 483.0L350.0 485.2L390.0 487.4L430.0 489.6L470.0 491.8L514.0 494.2L514.0 601.7L58.0 601.7Z"/>
<path fill="#0027d6" d="M58.0 595.9L62.0 595.4L66.0 594.8L70.0 594.0L74.0 593.1L78.0 592.2L82.0 591.2L86.0 590.1L90.0 588.8L94.0 587.4L98.0 585.8L102.0 584.0L106.0 581.5L110.0 578.4L114.0 574.9L118.0 571.2L122.0 567.3L126.0 563.6L130.0 559.9L134.0 556.2L138.0 552.3L142.0 548.4L146.0 544.3L150.0 540.1L154.0 535.7L158.0 531.2L162.0 526.4L166.0 521.5L170.0 516.2L172.0 513.4L173.5 511.3L175.0 509.1L176.5 506.8L178.0 504.5L179.5 502.2L181.0 499.7L182.5 497.2L184.0 494.5L185.5 491.7L187.0 488.8L188.5 485.7L190.0 481.9L191.5 479.0L192.0 478.4L193.0 477.5L230.0 479.6L270.0 481.8L310.0 484.0L350.0 486.2L390.0 488.4L430.0 490.7L470.0 492.9L514.0 495.3L514.0 601.7L58.0 601.7Z"/>
<path fill="#0022dd" d="M58.0 596.2L62.0 595.7L66.0 595.1L70.0 594.4L74.0 593.5L78.0 592.6L82.0 591.7L86.0 590.6L90.0 589.3L94.0 587.9L98.0 586.3L102.0 584.5L106.0 582.0L110.0 579.0L114.0 575.5L118.0 571.8L122.0 568.0L126.0 564.3L130.0 560.7L134.0 556.9L138.0 553.1L142.0 549.2L146.0 545.2L150.0 541.0L154.0 536.7L158.0 532.2L162.0 527.5L166.0 522.5L170.0 517.3L172.0 514.5L173.5 512.4L175.0 510.2L176.5 507.9L178.0 505.6L179.5 503.2L181.0 500.8L182.5 498.2L184.0 495.5L185.5 492.7L187.0 489.8L188.5 486.7L190.0 482.9L191.5 480.0L192.0 479.4L193.0 478.5L230.0 480.6L270.0 482.8L310.0 485.0L350.0 487.2L390.0 489.5L430.0 491.7L470.0 493.9L514.0 496.4L514.0 601.7L58.0 601.7Z"/>
<path fill="#001ee1" d="M58.0 596.5L62.0 596.0L66.0 595.5L70.0 594.8L74.0 593.9L78.0 593.1L82.0 592.1L86.0 591.0L90.0 589.8L94.0 588.4L98.0 586.8L102.0 585.0L106.0 582.6L110.0 579.5L114.0 576.1L118.0 572.5L122.0 568.7L126.0 565.0L130.0 561.4L134.0 557.7L138.0 554.0L142.0 550.1L146.0 546.1L150.0 541.9L154.0 537.6L158.0 533.2L162.0 528.5L166.0 523.6L170.0 518.3L172.0 515.6L173.5 513.4L175.0 511.2L176.5 509.0L178.0 506.7L179.5 504.3L181.0 501.8L182.5 499.2L184.0 496.6L185.5 493.7L187.0 490.8L188.5 487.7L190.0 483.9L191.5 481.0L192.0 480.4L193.0 479.5L230.0 481.6L270.0 483.8L310.0 486.0L350.0 488.3L390.0 490.5L430.0 492.8L470.0 495.0L514.0 497.5L514.0 601.7L58.0 601.7Z"/>
<path fill="#001be2" d="M58.0 596.8L62.0 596.3L66.0 595.8L70.0 595.1L74.0 594.3L78.0 593.5L82.0 592.5L86.0 591.4L90.0 590.2L94.0 588.9L98.0 587.3L102.0 585.5L106.0 583.1L110.0 580.1L114.0 576.7L118.0 573.1L122.0 569.4L126.0 565.7L130.0 562.1L134.0 558.5L138.0 554.8L142.0 550.9L146.0 547.0L150.0 542.9L154.0 538.6L158.0 534.1L162.0 529.5L166.0 524.6L170.0 519.4L172.0 516.6L173.5 514.5L175.0 512.3L176.5 510.0L178.0 507.7L179.5 505.3L181.0 502.9L182.5 500.3L184.0 497.6L185.5 494.8L187.0 491.8L188.5 488.7L190.0 485.0L191.5 482.0L192.0 481.4L193.0 480.5L230.0 482.6L270.0 484.8L310.0 487.1L350.0 489.3L390.0 491.6L430.0 493.8L470.0 496.1L514.0 498.5L514.0 601.7L58.0 601.7Z"/>
<path fill="#0018e4" d="M58.0 597.1L62.0 596.7L66.0 596.2L70.0 595.5L74.0 594.7L78.0 593.9L82.0 592.9L86.0 591.9L90.0 590.7L94.0 589.3L98.0 587.8L102.0 586.0L106.0 583.6L110.0 580.7L114.0 577.3L118.0 573.7L122.0 570.0L126.0 566.4L130.0 562.9L134.0 559.3L138.0 555.6L142.0 551.8L146.0 547.8L150.0 543.8L154.0 539.5L158.0 535.1L162.0 530.5L166.0 525.6L170.0 520.4L172.0 517.7L173.5 515.5L175.0 513.3L176.5 511.1L178.0 508.8L179.5 506.4L181.0 503.9L182.5 501.3L184.0 498.6L185.5 495.8L187.0 492.8L188.5 489.7L190.0 486.0L191.5 483.0L192.0 482.4L193.0 481.5L230.0 483.6L270.0 485.8L310.0 488.1L350.0 490.4L390.0 492.6L430.0 494.9L470.0 497.1L514.0 499.6L514.0 601.7L58.0 601.7Z"/>
<path fill="#0015e6" d="M58.0 597.4L62.0 597.0L66.0 596.5L70.0 595.9L74.0 595.1L78.0 594.3L82.0 593.4L86.0 592.3L90.0 591.1L94.0 589.8L98.0 588.3L102.0 586.5L106.0 584.2L110.0 581.2L114.0 577.9L118.0 574.3L122.0 570.7L126.0 567.1L130.0 563.6L134.0 560.0L138.0 556.4L142.0 552.6L146.0 548.7L150.0 544.7L154.0 540.5L158.0 536.1L162.0 531.5L166.0 526.7L170.0 521.5L172.0 518.7L173.5 516.6L175.0 514.4L176.5 512.1L178.0 509.8L179.5 507.4L181.0 505.0L182.5 502.4L184.0 499.6L185.5 496.8L187.0 493.8L188.5 490.7L190.0 487.0L191.5 484.0L192.0 483.4L193.0 482.5L230.0 484.6L270.0 486.9L310.0 489.1L350.0 491.4L390.0 493.6L430.0 495.9L470.0 498.2L514.0 500.7L514.0 601.7L58.0 601.7Z"/>
<path fill="#0012e7" d="M58.0 597.7L62.0 597.3L66.0 596.8L70.0 596.2L74.0 595.5L78.0 594.7L82.0 593.8L86.0 592.7L90.0 591.6L94.0 590.3L98.0 588.8L102.0 587.0L106.0 584.7L110.0 581.8L114.0 578.5L118.0 575.0L122.0 571.3L126.0 567.8L130.0 564.3L134.0 560.8L138.0 557.2L142.0 553.4L146.0 549.6L150.0 545.6L154.0 541.4L158.0 537.1L162.0 532.5L166.0 527.7L170.0 522.5L172.0 519.7L173.5 517.6L175.0 515.4L176.5 513.2L178.0 510.9L179.5 508.5L181.0 506.0L182.5 503.4L184.0 500.7L185.5 497.8L187.0 494.8L188.5 491.7L190.0 488.0L191.5 485.0L192.0 484.4L193.0 483.5L230.0 485.6L270.0 487.9L310.0 490.1L350.0 492.4L390.0 494.7L430.0 497.0L470.0 499.2L514.0 501.7L514.0 601.7L58.0 601.7Z"/>
<path fill="#000ee9" d="M58.0 597.9L62.0 597.6L66.0 597.1L70.0 596.6L74.0 595.9L78.0 595.1L82.0 594.2L86.0 593.2L90.0 592.0L94.0 590.7L98.0 589.2L102.0 587.5L106.0 585.2L110.0 582.3L114.0 579.1L118.0 575.6L122.0 572.0L126.0 568.5L130.0 565.0L134.0 561.5L138.0 557.9L142.0 554.3L146.0 550.4L150.0 546.5L154.0 542.3L158.0 538.0L162.0 533.5L166.0 528.7L170.0 523.5L172.0 520.8L173.5 518.7L175.0 516.5L176.5 514.2L178.0 511.9L179.5 509.5L181.0 507.0L182.5 504.4L184.0 501.7L185.5 498.8L187.0 495.8L188.5 492.7L190.0 489.0L191.5 486.1L192.0 485.4L193.0 484.5L230.0 486.6L270.0 488.9L310.0 491.2L350.0 493.5L390.0 495.7L430.0 498.0L470.0 500.3L514.0 502.8L514.0 601.7L58.0 601.7Z"/>
<path fill="#000bea" d="M58.0 598.2L62.0 597.9L66.0 597.5L70.0 596.9L74.0 596.2L78.0 595.5L82.0 594.6L86.0 593.6L90.0 592.4L94.0 591.1L98.0 589.7L102.0 588.0L106.0 585.7L110.0 582.9L114.0 579.6L118.0 576.2L122.0 572.6L126.0 569.1L130.0 565.7L134.0 562.3L138.0 558.7L142.0 555.1L146.0 551.3L150.0 547.4L154.0 543.3L158.0 539.0L162.0 534.5L166.0 529.7L170.0 524.5L172.0 521.8L173.5 519.7L175.0 517.5L176.5 515.3L178.0 512.9L179.5 510.6L181.0 508.1L182.5 505.4L184.0 502.7L185.5 499.8L187.0 496.8L188.5 493.7L190.0 490.0L191.5 487.1L192.0 486.4L193.0 485.5L230.0 487.6L270.0 489.9L310.0 492.2L350.0 494.5L390.0 496.8L430.0 499.1L470.0 501.4L514.0 503.9L514.0 601.7L58.0 601.7Z"/>
<path fill="#0008ec" d="M58.0 598.4L62.0 598.1L66.0 597.7L70.0 597.1L74.0 596.5L78.0 595.7L82.0 594.9L86.0 593.9L90.0 592.8L94.0 591.5L98.0 590.1L102.0 588.4L106.0 586.1L110.0 583.3L114.0 580.1L118.0 576.7L122.0 573.2L126.0 569.7L130.0 566.3L134.0 562.9L138.0 559.4L142.0 555.8L146.0 552.0L150.0 548.1L154.0 544.1L158.0 539.8L162.0 535.3L166.0 530.6L170.0 525.4L172.0 522.7L173.5 520.6L175.0 518.4L176.5 516.2L178.0 513.9L179.5 511.5L181.0 509.0L182.5 506.4L184.0 503.6L185.5 500.7L187.0 497.7L188.5 494.6L190.0 491.0L191.5 488.1L192.0 487.4L193.0 486.5L230.0 488.6L270.0 490.9L310.0 493.2L350.0 495.5L390.0 497.8L430.0 500.1L470.0 502.4L514.0 504.9L514.0 601.7L58.0 601.7Z"/>
<path fill="#0005ee" d="M58.0 598.5L62.0 598.2L66.0 597.8L70.0 597.3L74.0 596.6L78.0 595.9L82.0 595.0L86.0 594.1L90.0 593.0L94.0 591.7L98.0 590.3L102.0 588.7L106.0 586.4L110.0 583.7L114.0 580.5L118.0 577.1L122.0 573.6L126.0 570.2L130.0 566.9L134.0 563.5L138.0 560.0L142.0 556.4L146.0 552.6L150.0 548.8L154.0 544.7L158.0 540.5L162.0 536.0L166.0 531.3L170.0 526.1L172.0 523.4L173.5 521.3L175.0 519.2L176.5 516.9L178.0 514.6L179.5 512.3L181.0 509.8L182.5 507.2L184.0 504.5L185.5 501.6L187.0 498.7L188.5 495.6L190.0 491.9L191.5 489.0L192.0 488.4L193.0 487.5L230.0 489.6L270.0 491.9L310.0 494.2L350.0 496.6L390.0 498.9L430.0 501.2L470.0 503.5L514.0 506.0L514.0 601.7L58.0 601.7Z"/>
<path fill="#0002ef" d="M58.0 598.6L62.0 598.3L66.0 597.9L70.0 597.4L74.0 596.8L78.0 596.0L82.0 595.2L86.0 594.2L90.0 593.2L94.0 591.9L98.0 590.6L102.0 589.0L106.0 586.7L110.0 584.0L114.0 580.9L118.0 577.5L122.0 574.1L126.0 570.7L130.0 567.4L134.0 564.0L138.0 560.5L142.0 557.0L146.0 553.3L150.0 549.4L154.0 545.4L158.0 541.2L162.0 536.7L166.0 532.0L170.0 526.9L172.0 524.2L173.5 522.1L175.0 519.9L176.5 517.7L178.0 515.4L179.5 513.1L181.0 510.6L182.5 508.0L184.0 505.3L185.5 502.5L187.0 499.6L188.5 496.5L190.0 492.9L191.5 490.0L192.0 489.4L193.0 488.5L230.0 490.6L270.0 493.0L310.0 495.3L350.0 497.6L390.0 499.9L430.0 502.2L470.0 504.5L514.0 507.1L514.0 601.7L58.0 601.7Z"/>
<path fill="#0000ef" d="M58.0 598.7L62.0 598.4L66.0 598.0L70.0 597.5L74.0 596.9L78.0 596.2L82.0 595.4L86.0 594.4L90.0 593.4L94.0 592.2L98.0 590.8L102.0 589.2L106.0 587.1L110.0 584.4L114.0 581.3L118.0 578.0L122.0 574.5L126.0 571.2L130.0 567.9L134.0 564.5L138.0 561.1L142.0 557.6L146.0 553.9L150.0 550.0L154.0 546.0L158.0 541.8L162.0 537.4L166.0 532.7L170.0 527.6L172.0 524.9L173.5 522.8L175.0 520.7L176.5 518.5L178.0 516.2L179.5 513.9L181.0 511.4L182.5 508.9L184.0 506.2L185.5 503.4L187.0 500.5L188.5 497.4L190.0 493.9L191.5 491.0L192.0 490.4L193.0 489.5L230.0 491.6L270.0 494.0L310.0 496.3L350.0 498.6L390.0 500.9L430.0 503.2L470.0 505.6L514.0 508.1L514.0 601.7L58.0 601.7Z"/>
<path fill="#0000ed" d="M58.0 598.8L62.0 598.5L66.0 598.1L70.0 597.6L74.0 597.0L78.0 596.3L82.0 595.5L86.0 594.6L90.0 593.6L94.0 592.4L98.0 591.1L102.0 589.5L106.0 587.4L110.0 584.7L114.0 581.7L118.0 578.4L122.0 575.0L126.0 571.7L130.0 568.4L134.0 565.1L138.0 561.7L142.0 558.1L146.0 554.5L150.0 550.7L154.0 546.7L158.0 542.5L162.0 538.1L166.0 533.4L170.0 528.3L172.0 525.7L173.5 523.6L175.0 521.4L176.5 519.2L178.0 517.0L179.5 514.6L181.0 512.2L182.5 509.7L184.0 507.1L185.5 504.3L187.0 501.4L188.5 498.4L190.0 494.8L191.5 492.0L192.0 491.4L193.0 490.5L230.0 492.6L270.0 495.0L310.0 497.3L350.0 499.6L390.0 501.9L430.0 504.2L470.0 506.5L514.0 509.1L514.0 601.7L58.0 601.7Z"/>
<path fill="#0000eb" d="M58.0 598.9L62.0 598.6L66.0 598.2L70.0 597.7L74.0 597.1L78.0 596.5L82.0 595.7L86.0 594.8L90.0 593.8L94.0 592.6L98.0 591.3L102.0 589.8L106.0 587.7L110.0 585.0L114.0 582.0L118.0 578.8L122.0 575.4L126.0 572.1L130.0 568.9L134.0 565.6L138.0 562.2L142.0 558.7L146.0 555.1L150.0 551.3L154.0 547.3L158.0 543.2L162.0 538.8L166.0 534.1L170.0 529.1L172.0 526.4L173.5 524.3L175.0 522.2L176.5 520.0L178.0 517.7L179.5 515.4L181.0 513.0L182.5 510.5L184.0 507.9L185.5 505.2L187.0 502.3L188.5 499.3L190.0 495.8L191.5 493.0L192.0 492.4L193.0 491.5L230.0 493.6L270.0 496.0L310.0 498.3L350.0 500.6L390.0 502.9L430.0 505.2L470.0 507.5L514.0 510.1L514.0 601.7L58.0 601.7Z"/>
<path fill="#0000e9" d="M58.0 598.9L62.0 598.7L66.0 598.3L70.0 597.8L74.0 597.3L78.0 596.6L82.0 595.8L86.0 595.0L90.0 594.0L94.0 592.8L98.0 591.6L102.0 590.1L106.0 588.0L110.0 585.4L114.0 582.4L118.0 579.2L122.0 575.9L126.0 572.6L130.0 569.4L134.0 566.2L138.0 562.8L142.0 559.3L146.0 555.7L150.0 551.9L154.0 548.0L158.0 543.9L162.0 539.5L166.0 534.9L170.0 529.8L172.0 527.1L173.5 525.1L175.0 522.9L176.5 520.8L178.0 518.5L179.5 516.2L181.0 513.9L182.5 511.4L184.0 508.8L185.5 506.1L187.0 503.2L188.5 500.3L190.0 496.8L191.5 494.0L192.0 493.4L193.0 492.5L230.0 494.6L270.0 497.0L310.0 499.3L350.0 501.6L390.0 503.9L430.0 506.2L470.0 508.5L514.0 511.1L514.0 601.7L58.0 601.7Z"/>
<path fill="#0000e7" d="M58.0 599.0L62.0 598.8L66.0 598.4L70.0 597.9L74.0 597.4L78.0 596.7L82.0 596.0L86.0 595.1L90.0 594.2L94.0 593.0L98.0 591.8L102.0 590.3L106.0 588.3L110.0 585.7L114.0 582.8L118.0 579.6L122.0 576.3L126.0 573.1L130.0 569.9L134.0 566.7L138.0 563.3L142.0 559.9L146.0 556.3L150.0 552.5L154.0 548.6L158.0 544.5L162.0 540.2L166.0 535.6L170.0 530.5L172.0 527.9L173.5 525.8L175.0 523.7L176.5 521.5L178.0 519.3L179.5 517.0L181.0 514.7L182.5 512.2L184.0 509.6L185.5 507.0L187.0 504.1L188.5 501.2L190.0 497.7L191.5 495.0L192.0 494.3L193.0 493.5L230.0 495.6L270.0 498.0L310.0 500.3L350.0 502.6L390.0 504.9L430.0 507.2L470.0 509.5L514.0 512.1L514.0 601.7L58.0 601.7Z"/>
<path fill="#0000e5" d="M58.0 599.1L62.0 598.9L66.0 598.5L70.0 598.1L74.0 597.5L78.0 596.9L82.0 596.1L86.0 595.3L90.0 594.3L94.0 593.3L98.0 592.0L102.0 590.6L106.0 588.6L110.0 586.0L114.0 583.1L118.0 580.0L122.0 576.7L126.0 573.6L130.0 570.4L134.0 567.2L138.0 563.9L142.0 560.5L146.0 556.9L150.0 553.2L154.0 549.3L158.0 545.2L162.0 540.9L166.0 536.3L170.0 531.3L172.0 528.6L173.5 526.5L175.0 524.4L176.5 522.3L178.0 520.1L179.5 517.8L181.0 515.5L182.5 513.0L184.0 510.5L185.5 507.8L187.0 505.1L188.5 502.1L190.0 498.7L191.5 495.9L192.0 495.3L193.0 494.5L230.0 496.6L270.0 498.9L310.0 501.3L350.0 503.6L390.0 505.9L430.0 508.2L470.0 510.5L514.0 513.0L514.0 601.7L58.0 601.7Z"/>
<path fill="#0000e3" d="M58.0 599.2L62.0 598.9L66.0 598.6L70.0 598.2L74.0 597.6L78.0 597.0L82.0 596.3L86.0 595.5L90.0 594.5L94.0 593.5L98.0 592.3L102.0 590.9L106.0 588.9L110.0 586.4L114.0 583.5L118.0 580.4L122.0 577.2L126.0 574.0L130.0 570.9L134.0 567.7L138.0 564.4L142.0 561.0L146.0 557.5L150.0 553.8L154.0 549.9L158.0 545.8L162.0 541.6L166.0 537.0L170.0 532.0L172.0 529.3L173.5 527.3L175.0 525.2L176.5 523.0L178.0 520.8L179.5 518.6L181.0 516.3L182.5 513.9L184.0 511.4L185.5 508.7L187.0 506.0L188.5 503.1L190.0 499.7L191.5 496.9L192.0 496.3L193.0 495.5L230.0 497.6L270.0 499.9L310.0 502.3L350.0 504.6L390.0 506.9L430.0 509.2L470.0 511.5L514.0 514.0L514.0 601.7L58.0 601.7Z"/>
<path fill="#0000e1" d="M58.0 599.3L62.0 599.0L66.0 598.7L70.0 598.3L74.0 597.7L78.0 597.1L82.0 596.4L86.0 595.6L90.0 594.7L94.0 593.7L98.0 592.5L102.0 591.1L106.0 589.2L110.0 586.7L114.0 583.8L118.0 580.8L122.0 577.6L126.0 574.5L130.0 571.4L134.0 568.2L138.0 565.0L142.0 561.6L146.0 558.1L150.0 554.4L154.0 550.5L158.0 546.5L162.0 542.3L166.0 537.7L170.0 532.7L172.0 530.1L173.5 528.0L175.0 525.9L176.5 523.8L178.0 521.6L179.5 519.4L181.0 517.1L182.5 514.7L184.0 512.2L185.5 509.6L187.0 506.9L188.5 504.0L190.0 500.6L191.5 497.9L192.0 497.3L193.0 496.5L230.0 498.6L270.0 500.9L310.0 503.2L350.0 505.6L390.0 507.9L430.0 510.2L470.0 512.5L514.0 515.0L514.0 601.7L58.0 601.7Z"/>
<path fill="#0000df" d="M58.0 599.4L62.0 599.1L66.0 598.8L70.0 598.4L74.0 597.9L78.0 597.3L82.0 596.6L86.0 595.8L90.0 594.9L94.0 593.9L98.0 592.7L102.0 591.4L106.0 589.4L110.0 587.0L114.0 584.2L118.0 581.2L122.0 578.0L126.0 574.9L130.0 571.9L134.0 568.8L138.0 565.5L142.0 562.2L146.0 558.7L150.0 555.0L154.0 551.2L158.0 547.2L162.0 542.9L166.0 538.4L170.0 533.4L172.0 530.8L173.5 528.8L175.0 526.7L176.5 524.6L178.0 522.4L179.5 520.2L181.0 517.9L182.5 515.5L184.0 513.1L185.5 510.5L187.0 507.8L188.5 505.0L190.0 501.6L191.5 498.9L192.0 498.3L193.0 497.5L230.0 499.6L270.0 501.9L310.0 504.2L350.0 506.5L390.0 508.8L430.0 511.2L470.0 513.5L514.0 516.0L514.0 601.7L58.0 601.7Z"/>
<path fill="#0000dd" d="M58.0 599.4L62.0 599.2L66.0 598.9L70.0 598.5L74.0 598.0L78.0 597.4L82.0 596.7L86.0 596.0L90.0 595.1L94.0 594.1L98.0 593.0L102.0 591.6L106.0 589.7L110.0 587.3L114.0 584.5L118.0 581.5L122.0 578.4L126.0 575.4L130.0 572.4L134.0 569.3L138.0 566.1L142.0 562.7L146.0 559.2L150.0 555.6L154.0 551.8L158.0 547.8L162.0 543.6L166.0 539.1L170.0 534.1L172.0 531.5L173.5 529.5L175.0 527.4L176.5 525.3L178.0 523.2L179.5 521.0L181.0 518.7L182.5 516.4L184.0 513.9L185.5 511.4L187.0 508.7L188.5 505.9L190.0 502.6L191.5 499.9L192.0 499.3L193.0 498.5L230.0 500.6L270.0 502.9L310.0 505.2L350.0 507.5L390.0 509.8L430.0 512.1L470.0 514.4L514.0 517.0L514.0 601.7L58.0 601.7Z"/>
<path fill="#0000db" d="M58.0 599.5L62.0 599.3L66.0 599.0L70.0 598.6L74.0 598.1L78.0 597.5L82.0 596.9L86.0 596.1L90.0 595.3L94.0 594.3L98.0 593.2L102.0 591.9L106.0 590.0L110.0 587.6L114.0 584.9L118.0 581.9L122.0 578.9L126.0 575.8L130.0 572.8L134.0 569.8L138.0 566.6L142.0 563.3L146.0 559.8L150.0 556.2L154.0 552.4L158.0 548.5L162.0 544.3L166.0 539.8L170.0 534.9L172.0 532.3L173.5 530.2L175.0 528.2L176.5 526.1L178.0 523.9L179.5 521.8L181.0 519.5L182.5 517.2L184.0 514.8L185.5 512.3L187.0 509.6L188.5 506.8L190.0 503.5L191.5 500.9L192.0 500.3L193.0 499.5L230.0 501.6L270.0 503.9L310.0 506.2L350.0 508.5L390.0 510.8L430.0 513.1L470.0 515.4L514.0 518.0L514.0 601.7L58.0 601.7Z"/>
<path fill="#0000d9" d="M58.0 599.6L62.0 599.4L66.0 599.1L70.0 598.7L74.0 598.2L78.0 597.6L82.0 597.0L86.0 596.3L90.0 595.4L94.0 594.5L98.0 593.4L102.0 592.1L106.0 590.3L110.0 587.9L114.0 585.2L118.0 582.3L122.0 579.3L126.0 576.3L130.0 573.3L134.0 570.3L138.0 567.1L142.0 563.8L146.0 560.4L150.0 556.8L154.0 553.1L158.0 549.1L162.0 545.0L166.0 540.5L170.0 535.6L172.0 533.0L173.5 531.0L175.0 528.9L176.5 526.8L178.0 524.7L179.5 522.6L181.0 520.3L182.5 518.0L184.0 515.7L185.5 513.2L187.0 510.5L188.5 507.8L190.0 504.5L191.5 501.9L192.0 501.3L193.0 500.5L230.0 502.6L270.0 504.9L310.0 507.2L350.0 509.5L390.0 511.8L430.0 514.1L470.0 516.4L514.0 519.0L514.0 601.7L58.0 601.7Z"/>
<path fill="#0000d7" d="M58.0 599.7L62.0 599.5L66.0 599.2L70.0 598.8L74.0 598.3L78.0 597.8L82.0 597.1L86.0 596.4L90.0 595.6L94.0 594.7L98.0 593.6L102.0 592.4L106.0 590.6L110.0 588.2L114.0 585.6L118.0 582.7L122.0 579.7L126.0 576.7L130.0 573.8L134.0 570.8L138.0 567.6L142.0 564.4L146.0 561.0L150.0 557.4L154.0 553.7L158.0 549.8L162.0 545.6L166.0 541.2L170.0 536.3L172.0 533.7L173.5 531.7L175.0 529.7L176.5 527.6L178.0 525.5L179.5 523.3L181.0 521.1L182.5 518.9L184.0 516.5L185.5 514.0L187.0 511.5L188.5 508.7L190.0 505.4L191.5 502.9L192.0 502.3L193.0 501.5L230.0 503.6L270.0 505.9L310.0 508.2L350.0 510.5L390.0 512.8L430.0 515.1L470.0 517.4L514.0 519.9L514.0 601.7L58.0 601.7Z"/>
<path fill="#0000d5" d="M58.0 599.7L62.0 599.5L66.0 599.3L70.0 598.9L74.0 598.4L78.0 597.9L82.0 597.3L86.0 596.6L90.0 595.8L94.0 594.9L98.0 593.8L102.0 592.6L106.0 590.8L110.0 588.5L114.0 585.9L118.0 583.0L122.0 580.1L126.0 577.1L130.0 574.3L134.0 571.3L138.0 568.2L142.0 564.9L146.0 561.5L150.0 558.0L154.0 554.3L158.0 550.4L162.0 546.3L166.0 541.9L170.0 537.0L172.0 534.4L173.5 532.5L175.0 530.4L176.5 528.4L178.0 526.3L179.5 524.1L181.0 522.0L182.5 519.7L184.0 517.4L185.5 514.9L187.0 512.4L188.5 509.7L190.0 506.4L191.5 503.8L192.0 503.3L193.0 502.5L230.0 504.6L270.0 506.9L310.0 509.2L350.0 511.5L390.0 513.8L430.0 516.1L470.0 518.4L514.0 520.9L514.0 601.7L58.0 601.7Z"/>
<path fill="#0000d3" d="M58.0 599.8L62.0 599.6L66.0 599.4L70.0 599.0L74.0 598.5L78.0 598.0L82.0 597.4L86.0 596.7L90.0 596.0L94.0 595.1L98.0 594.1L102.0 592.8L106.0 591.1L110.0 588.8L114.0 586.2L118.0 583.4L122.0 580.5L126.0 577.6L130.0 574.7L134.0 571.8L138.0 568.7L142.0 565.5L146.0 562.1L150.0 558.6L154.0 554.9L158.0 551.0L162.0 547.0L166.0 542.6L170.0 537.7L172.0 535.2L173.5 533.2L175.0 531.2L176.5 529.1L178.0 527.0L179.5 524.9L181.0 522.8L182.5 520.5L184.0 518.2L185.5 515.8L187.0 513.3L188.5 510.6L190.0 507.4L191.5 504.8L192.0 504.3L193.0 503.5L230.0 505.6L270.0 507.9L310.0 510.2L350.0 512.5L390.0 514.8L430.0 517.1L470.0 519.4L514.0 521.9L514.0 601.7L58.0 601.7Z"/>
<path fill="#0000d1" d="M58.0 599.9L62.0 599.7L66.0 599.4L70.0 599.1L74.0 598.6L78.0 598.1L82.0 597.6L86.0 596.9L90.0 596.1L94.0 595.3L98.0 594.3L102.0 593.1L106.0 591.4L110.0 589.1L114.0 586.6L118.0 583.8L122.0 580.9L126.0 578.0L130.0 575.2L134.0 572.2L138.0 569.2L142.0 566.0L146.0 562.7L150.0 559.2L154.0 555.5L158.0 551.7L162.0 547.7L166.0 543.3L170.0 538.4L172.0 535.9L173.5 533.9L175.0 531.9L176.5 529.9L178.0 527.8L179.5 525.7L181.0 523.6L182.5 521.4L184.0 519.1L185.5 516.7L187.0 514.2L188.5 511.5L190.0 508.3L191.5 505.8L192.0 505.3L193.0 504.5L230.0 506.6L270.0 508.9L310.0 511.2L350.0 513.5L390.0 515.8L430.0 518.1L470.0 520.4L514.0 522.9L514.0 601.7L58.0 601.7Z"/>
<path fill="#0000cf" d="M58.0 599.9L62.0 599.8L66.0 599.5L70.0 599.2L74.0 598.7L78.0 598.2L82.0 597.7L86.0 597.0L90.0 596.3L94.0 595.4L98.0 594.5L102.0 593.3L106.0 591.6L110.0 589.4L114.0 586.9L118.0 584.1L122.0 581.3L126.0 578.4L130.0 575.6L134.0 572.7L138.0 569.7L142.0 566.5L146.0 563.2L150.0 559.8L154.0 556.1L158.0 552.3L162.0 548.3L166.0 543.9L170.0 539.1L172.0 536.6L173.5 534.7L175.0 532.7L176.5 530.6L178.0 528.6L179.5 526.5L181.0 524.4L182.5 522.2L184.0 519.9L185.5 517.6L187.0 515.1L188.5 512.5L190.0 509.3L191.5 506.8L192.0 506.2L193.0 505.5L230.0 507.6L270.0 509.9L310.0 512.2L350.0 514.5L390.0 516.8L430.0 519.1L470.0 521.4L514.0 523.9L514.0 601.7L58.0 601.7Z"/>
<path fill="#0000cc" d="M58.0 600.0L62.0 599.9L66.0 599.6L70.0 599.3L74.0 598.8L78.0 598.4L82.0 597.8L86.0 597.2L90.0 596.5L94.0 595.6L98.0 594.7L102.0 593.5L106.0 591.9L110.0 589.7L114.0 587.2L118.0 584.5L122.0 581.7L126.0 578.9L130.0 576.1L134.0 573.2L138.0 570.2L142.0 567.1L146.0 563.8L150.0 560.3L154.0 556.7L158.0 553.0L162.0 549.0L166.0 544.6L170.0 539.9L172.0 537.3L173.5 535.4L175.0 533.4L176.5 531.4L178.0 529.4L179.5 527.3L181.0 525.2L182.5 523.0L184.0 520.8L185.5 518.5L187.0 516.0L188.5 513.4L190.0 510.3L191.5 507.8L192.0 507.2L193.0 506.5L230.0 508.6L270.0 510.9L310.0 513.2L350.0 515.5L390.0 517.8L430.0 520.1L470.0 522.3L514.0 524.9L514.0 601.7L58.0 601.7Z"/>
<path fill="#0000c9" d="M58.0 600.1L62.0 599.9L66.0 599.7L70.0 599.4L74.0 598.9L78.0 598.5L82.0 597.9L86.0 597.3L90.0 596.6L94.0 595.8L98.0 594.9L102.0 593.8L106.0 592.1L110.0 590.0L114.0 587.5L118.0 584.8L122.0 582.0L126.0 579.3L130.0 576.5L134.0 573.7L138.0 570.7L142.0 567.6L146.0 564.3L150.0 560.9L154.0 557.3L158.0 553.6L162.0 549.6L166.0 545.3L170.0 540.6L172.0 538.1L173.5 536.1L175.0 534.2L176.5 532.2L178.0 530.1L179.5 528.1L181.0 526.0L182.5 523.9L184.0 521.7L185.5 519.3L187.0 516.9L188.5 514.4L190.0 511.2L191.5 508.8L192.0 508.2L193.0 507.5L230.0 509.6L270.0 511.9L310.0 514.2L350.0 516.5L390.0 518.8L430.0 521.0L470.0 523.3L514.0 525.8L514.0 601.7L58.0 601.7Z"/>
<path fill="#0000c7" d="M58.0 600.2L62.0 600.0L66.0 599.8L70.0 599.4L74.0 599.0L78.0 598.6L82.0 598.1L86.0 597.5L90.0 596.8L94.0 596.0L98.0 595.1L102.0 594.0L106.0 592.4L110.0 590.3L114.0 587.8L118.0 585.2L122.0 582.4L126.0 579.7L130.0 577.0L134.0 574.2L138.0 571.2L142.0 568.1L146.0 564.9L150.0 561.5L154.0 557.9L158.0 554.2L162.0 550.3L166.0 546.0L170.0 541.3L172.0 538.8L173.5 536.9L175.0 534.9L176.5 532.9L178.0 530.9L179.5 528.9L181.0 526.8L182.5 524.7L184.0 522.5L185.5 520.2L187.0 517.8L188.5 515.3L190.0 512.2L191.5 509.8L192.0 509.2L193.0 508.5L230.0 510.6L270.0 512.9L310.0 515.2L350.0 517.5L390.0 519.8L430.0 522.0L470.0 524.3L514.0 526.8L514.0 601.7L58.0 601.7Z"/>
<path fill="#0000c4" d="M58.0 600.2L62.0 600.1L66.0 599.9L70.0 599.5L74.0 599.1L78.0 598.7L82.0 598.2L86.0 597.6L90.0 596.9L94.0 596.2L98.0 595.3L102.0 594.2L106.0 592.6L110.0 590.6L114.0 588.2L118.0 585.5L122.0 582.8L126.0 580.1L130.0 577.4L134.0 574.6L138.0 571.7L142.0 568.6L146.0 565.4L150.0 562.1L154.0 558.5L158.0 554.8L162.0 550.9L166.0 546.7L170.0 542.0L172.0 539.5L173.5 537.6L175.0 535.6L176.5 533.7L178.0 531.7L179.5 529.6L181.0 527.6L182.5 525.5L184.0 523.4L185.5 521.1L187.0 518.7L188.5 516.2L190.0 513.2L191.5 510.7L192.0 510.2L193.0 509.5L230.0 511.6L270.0 513.9L310.0 516.2L350.0 518.5L390.0 520.7L430.0 523.0L470.0 525.3L514.0 527.8L514.0 601.7L58.0 601.7Z"/>
<path fill="#0000c1" d="M58.0 600.3L62.0 600.2L66.0 599.9L70.0 599.6L74.0 599.2L78.0 598.8L82.0 598.3L86.0 597.7L90.0 597.1L94.0 596.3L98.0 595.5L102.0 594.4L106.0 592.9L110.0 590.8L114.0 588.5L118.0 585.9L122.0 583.2L126.0 580.5L130.0 577.9L134.0 575.1L138.0 572.2L142.0 569.2L146.0 566.0L150.0 562.6L154.0 559.1L158.0 555.5L162.0 551.6L166.0 547.4L170.0 542.7L172.0 540.2L173.5 538.3L175.0 536.4L176.5 534.4L178.0 532.4L179.5 530.4L181.0 528.4L182.5 526.4L184.0 524.2L185.5 522.0L187.0 519.7L188.5 517.2L190.0 514.1L191.5 511.7L192.0 511.2L193.0 510.5L230.0 512.6L270.0 514.9L310.0 517.2L350.0 519.5L390.0 521.7L430.0 524.0L470.0 526.3L514.0 528.8L514.0 601.7L58.0 601.7Z"/>
<path fill="#0000be" d="M58.0 600.3L62.0 600.2L66.0 600.0L70.0 599.7L74.0 599.3L78.0 598.9L82.0 598.4L86.0 597.9L90.0 597.2L94.0 596.5L98.0 595.7L102.0 594.6L106.0 593.1L110.0 591.1L114.0 588.8L118.0 586.2L122.0 583.5L126.0 580.9L130.0 578.3L134.0 575.5L138.0 572.7L142.0 569.7L146.0 566.5L150.0 563.2L154.0 559.7L158.0 556.1L162.0 552.2L166.0 548.0L170.0 543.4L172.0 540.9L173.5 539.0L175.0 537.1L176.5 535.2L178.0 533.2L179.5 531.2L181.0 529.2L182.5 527.2L184.0 525.1L185.5 522.9L187.0 520.6L188.5 518.1L190.0 515.1L191.5 512.7L192.0 512.2L193.0 511.5L230.0 513.6L270.0 515.9L310.0 518.2L350.0 520.5L390.0 522.8L430.0 525.1L470.0 527.4L514.0 529.9L514.0 601.7L58.0 601.7Z"/>
<path fill="#0000ba" d="M58.0 600.4L62.0 600.3L66.0 600.1L70.0 599.8L74.0 599.4L78.0 599.0L82.0 598.5L86.0 598.0L90.0 597.4L94.0 596.7L98.0 595.8L102.0 594.9L106.0 593.3L110.0 591.4L114.0 589.1L118.0 586.5L122.0 583.9L126.0 581.3L130.0 578.7L134.0 576.0L138.0 573.2L142.0 570.2L146.0 567.0L150.0 563.8L154.0 560.3L158.0 556.7L162.0 552.9L166.0 548.7L170.0 544.1L172.0 541.6L173.5 539.8L175.0 537.9L176.5 535.9L178.0 534.0L179.5 532.0L181.0 530.0L182.5 528.0L184.0 525.9L185.5 523.8L187.0 521.5L188.5 519.0L190.0 516.1L191.5 513.7L192.0 513.2L193.0 512.5L230.0 514.7L270.0 517.0L310.0 519.3L350.0 521.6L390.0 524.0L430.0 526.3L470.0 528.6L514.0 531.2L514.0 601.7L58.0 601.7Z"/>
<path fill="#0000b5" d="M58.0 600.5L62.0 600.4L66.0 600.2L70.0 599.9L74.0 599.5L78.0 599.1L82.0 598.7L86.0 598.1L90.0 597.5L94.0 596.8L98.0 596.0L102.0 595.1L106.0 593.6L110.0 591.6L114.0 589.4L118.0 586.9L122.0 584.3L126.0 581.7L130.0 579.1L134.0 576.5L138.0 573.6L142.0 570.7L146.0 567.6L150.0 564.3L154.0 560.9L158.0 557.3L162.0 553.5L166.0 549.4L170.0 544.8L172.0 542.4L173.5 540.5L175.0 538.6L176.5 536.7L178.0 534.7L179.5 532.8L181.0 530.8L182.5 528.8L184.0 526.8L185.5 524.6L187.0 522.4L188.5 520.0L190.0 517.0L191.5 514.7L192.0 514.2L193.0 513.5L230.0 515.7L270.0 518.0L310.0 520.4L350.0 522.7L390.0 525.1L430.0 527.5L470.0 529.8L514.0 532.4L514.0 601.7L58.0 601.7Z"/>
<path fill="#0000b1" d="M58.0 600.5L62.0 600.4L66.0 600.2L70.0 599.9L74.0 599.6L78.0 599.2L82.0 598.8L86.0 598.3L90.0 597.7L94.0 597.0L98.0 596.2L102.0 595.3L106.0 593.8L110.0 591.9L114.0 589.7L118.0 587.2L122.0 584.6L126.0 582.1L130.0 579.6L134.0 576.9L138.0 574.1L142.0 571.2L146.0 568.1L150.0 564.9L154.0 561.5L158.0 557.9L162.0 554.2L166.0 550.1L170.0 545.5L172.0 543.1L173.5 541.2L175.0 539.3L176.5 537.4L178.0 535.5L179.5 533.6L181.0 531.6L182.5 529.7L184.0 527.6L185.5 525.5L187.0 523.3L188.5 520.9L190.0 518.0L191.5 515.7L192.0 515.2L193.0 514.5L230.0 516.7L270.0 519.1L310.0 521.5L350.0 523.9L390.0 526.3L430.0 528.6L470.0 531.0L514.0 533.7L514.0 601.7L58.0 601.7Z"/>
<path fill="#0000ad" d="M58.0 600.6L62.0 600.5L66.0 600.3L70.0 600.0L74.0 599.7L78.0 599.3L82.0 598.9L86.0 598.4L90.0 597.8L94.0 597.2L98.0 596.4L102.0 595.5L106.0 594.0L110.0 592.2L114.0 589.9L118.0 587.5L122.0 585.0L126.0 582.5L130.0 580.0L134.0 577.3L138.0 574.6L142.0 571.7L146.0 568.6L150.0 565.4L154.0 562.1L158.0 558.5L162.0 554.8L166.0 550.7L170.0 546.2L172.0 543.8L173.5 542.0L175.0 540.1L176.5 538.2L178.0 536.3L179.5 534.4L181.0 532.5L182.5 530.5L184.0 528.5L185.5 526.4L187.0 524.2L188.5 521.8L190.0 518.9L191.5 516.7L192.0 516.2L193.0 515.5L230.0 517.7L270.0 520.2L310.0 522.6L350.0 525.0L390.0 527.4L430.0 529.8L470.0 532.2L514.0 534.9L514.0 601.7L58.0 601.7Z"/>
<path fill="#0000a9" d="M58.0 600.7L62.0 600.6L66.0 600.4L70.0 600.1L74.0 599.8L78.0 599.4L82.0 599.0L86.0 598.5L90.0 598.0L94.0 597.3L98.0 596.6L102.0 595.7L106.0 594.3L110.0 592.4L114.0 590.2L118.0 587.8L122.0 585.3L126.0 582.9L130.0 580.4L134.0 577.8L138.0 575.1L142.0 572.2L146.0 569.2L150.0 566.0L154.0 562.6L158.0 559.1L162.0 555.5L166.0 551.4L170.0 546.9L172.0 544.5L173.5 542.7L175.0 540.8L176.5 538.9L178.0 537.1L179.5 535.2L181.0 533.3L182.5 531.3L184.0 529.4L185.5 527.3L187.0 525.1L188.5 522.8L190.0 519.9L191.5 517.6L192.0 517.2L193.0 516.5L230.0 518.8L270.0 521.2L310.0 523.7L350.0 526.1L390.0 528.6L430.0 531.0L470.0 533.5L514.0 536.1L514.0 601.7L58.0 601.7Z"/>
<path fill="#0000a5" d="M58.0 600.7L62.0 600.6L66.0 600.5L70.0 600.2L74.0 599.9L78.0 599.5L82.0 599.1L86.0 598.6L90.0 598.1L94.0 597.5L98.0 596.7L102.0 595.9L106.0 594.5L110.0 592.7L114.0 590.5L118.0 588.2L122.0 585.7L126.0 583.2L130.0 580.8L134.0 578.2L138.0 575.5L142.0 572.7L146.0 569.7L150.0 566.5L154.0 563.2L158.0 559.7L162.0 556.1L166.0 552.1L170.0 547.6L172.0 545.2L173.5 543.4L175.0 541.6L176.5 539.7L178.0 537.8L179.5 535.9L181.0 534.1L182.5 532.2L184.0 530.2L185.5 528.2L187.0 526.0L188.5 523.7L190.0 520.9L191.5 518.6L192.0 518.1L193.0 517.5L230.0 519.8L270.0 522.3L310.0 524.8L350.0 527.2L390.0 529.7L430.0 532.2L470.0 534.7L514.0 537.4L514.0 601.7L58.0 601.7Z"/>
<path fill="#0000a0" d="M58.0 600.8L62.0 600.7L66.0 600.5L70.0 600.3L74.0 600.0L78.0 599.6L82.0 599.2L86.0 598.8L90.0 598.2L94.0 597.6L98.0 596.9L102.0 596.1L106.0 594.7L110.0 592.9L114.0 590.8L118.0 588.5L122.0 586.0L126.0 583.6L130.0 581.2L134.0 578.7L138.0 576.0L142.0 573.2L146.0 570.2L150.0 567.1L154.0 563.8L158.0 560.4L162.0 556.7L166.0 552.7L170.0 548.3L172.0 545.9L173.5 544.1L175.0 542.3L176.5 540.5L178.0 538.6L179.5 536.7L181.0 534.9L182.5 533.0L184.0 531.1L185.5 529.1L187.0 526.9L188.5 524.7L190.0 521.8L191.5 519.6L192.0 519.1L193.0 518.5L230.0 520.8L270.0 523.3L310.0 525.8L350.0 528.3L390.0 530.9L430.0 533.4L470.0 535.9L514.0 538.6L514.0 601.7L58.0 601.7Z"/>
<path fill="#00009c" d="M58.0 600.8L62.0 600.7L66.0 600.6L70.0 600.3L74.0 600.0L78.0 599.7L82.0 599.3L86.0 598.9L90.0 598.4L94.0 597.8L98.0 597.1L102.0 596.2L106.0 594.9L110.0 593.2L114.0 591.1L118.0 588.8L122.0 586.4L126.0 584.0L130.0 581.6L134.0 579.1L138.0 576.4L142.0 573.7L146.0 570.7L150.0 567.6L154.0 564.4L158.0 561.0L162.0 557.4L166.0 553.4L170.0 549.0L172.0 546.6L173.5 544.9L175.0 543.0L176.5 541.2L178.0 539.4L179.5 537.5L181.0 535.7L182.5 533.8L184.0 531.9L185.5 529.9L187.0 527.8L188.5 525.6L190.0 522.8L191.5 520.6L192.0 520.1L193.0 519.5L230.0 521.8L270.0 524.4L310.0 526.9L350.0 529.5L390.0 532.0L430.0 534.5L470.0 537.1L514.0 539.9L514.0 601.7L58.0 601.7Z"/>
<path fill="#000098" d="M58.0 600.9L62.0 600.8L66.0 600.7L70.0 600.4L74.0 600.1L78.0 599.8L82.0 599.4L86.0 599.0L90.0 598.5L94.0 597.9L98.0 597.3L102.0 596.4L106.0 595.1L110.0 593.4L114.0 591.3L118.0 589.1L122.0 586.7L126.0 584.4L130.0 582.0L134.0 579.5L138.0 576.9L142.0 574.1L146.0 571.2L150.0 568.2L154.0 564.9L158.0 561.6L162.0 558.0L166.0 554.1L170.0 549.7L172.0 547.3L173.5 545.6L175.0 543.8L176.5 542.0L178.0 540.1L179.5 538.3L181.0 536.5L182.5 534.7L184.0 532.8L185.5 530.8L187.0 528.7L188.5 526.5L190.0 523.8L191.5 521.6L192.0 521.1L193.0 520.5L230.0 522.9L270.0 525.4L310.0 528.0L350.0 530.6L390.0 533.2L430.0 535.7L470.0 538.3L514.0 541.1L514.0 601.7L58.0 601.7Z"/>
<path fill="#000095" d="M58.0 600.9L62.0 600.9L66.0 600.7L70.0 600.5L74.0 600.2L78.0 599.9L82.0 599.5L86.0 599.1L90.0 598.6L94.0 598.1L98.0 597.4L102.0 596.6L106.0 595.3L110.0 593.6L114.0 591.6L118.0 589.4L122.0 587.0L126.0 584.7L130.0 582.4L134.0 579.9L138.0 577.3L142.0 574.6L146.0 571.7L150.0 568.7L154.0 565.5L158.0 562.1L162.0 558.6L166.0 554.7L170.0 550.4L172.0 548.1L173.5 546.3L175.0 544.5L176.5 542.7L178.0 540.9L179.5 539.1L181.0 537.3L182.5 535.5L184.0 533.6L185.5 531.7L187.0 529.7L188.5 527.5L190.0 524.7L191.5 522.6L192.0 522.1L193.0 521.5L230.0 523.9L270.0 526.5L310.0 529.1L350.0 531.7L390.0 534.3L430.0 536.9L470.0 539.5L514.0 542.4L514.0 601.7L58.0 601.7Z"/>
<path fill="#000092" d="M58.0 601.0L62.0 600.9L66.0 600.8L70.0 600.5L74.0 600.3L78.0 600.0L82.0 599.6L86.0 599.2L90.0 598.8L94.0 598.2L98.0 597.6L102.0 596.8L106.0 595.5L110.0 593.9L114.0 591.9L118.0 589.7L122.0 587.4L126.0 585.1L130.0 582.8L134.0 580.4L138.0 577.8L142.0 575.1L146.0 572.2L150.0 569.2L154.0 566.1L158.0 562.7L162.0 559.2L166.0 555.4L170.0 551.0L172.0 548.8L173.5 547.0L175.0 545.2L176.5 543.5L178.0 541.7L179.5 539.9L181.0 538.1L182.5 536.3L184.0 534.5L185.5 532.6L187.0 530.6L188.5 528.4L190.0 525.7L191.5 523.6L192.0 523.1L193.0 522.5L230.0 524.9L270.0 527.6L310.0 530.2L350.0 532.8L390.0 535.5L430.0 538.1L470.0 540.7L514.0 543.6L514.0 601.7L58.0 601.7Z"/>
<path fill="#00008f" d="M58.0 601.0L62.0 601.0L66.0 600.8L70.0 600.6L74.0 600.3L78.0 600.1L82.0 599.7L86.0 599.3L90.0 598.9L94.0 598.3L98.0 597.7L102.0 597.0L106.0 595.7L110.0 594.1L114.0 592.1L118.0 590.0L122.0 587.7L126.0 585.4L130.0 583.2L134.0 580.8L138.0 578.2L142.0 575.6L146.0 572.7L150.0 569.8L154.0 566.6L158.0 563.3L162.0 559.9L166.0 556.0L170.0 551.7L172.0 549.5L173.5 547.7L175.0 546.0L176.5 544.2L178.0 542.4L179.5 540.7L181.0 538.9L182.5 537.1L184.0 535.3L185.5 533.5L187.0 531.5L188.5 529.3L190.0 526.7L191.5 524.5L192.0 524.1L193.0 523.5L230.0 526.0L270.0 528.6L310.0 531.3L350.0 533.9L390.0 536.6L430.0 539.3L470.0 541.9L514.0 544.9L514.0 601.7L58.0 601.7Z"/>
<path fill="#00008b" d="M58.0 601.1L62.0 601.0L66.0 600.9L70.0 600.7L74.0 600.4L78.0 600.1L82.0 599.8L86.0 599.4L90.0 599.0L94.0 598.5L98.0 597.9L102.0 597.1L106.0 595.9L110.0 594.3L114.0 592.4L118.0 590.3L122.0 588.0L126.0 585.8L130.0 583.5L134.0 581.2L138.0 578.7L142.0 576.0L146.0 573.2L150.0 570.3L154.0 567.2L158.0 563.9L162.0 560.5L166.0 556.7L170.0 552.4L172.0 550.2L173.5 548.5L175.0 546.7L176.5 545.0L178.0 543.2L179.5 541.5L181.0 539.7L182.5 538.0L184.0 536.2L185.5 534.3L187.0 532.4L188.5 530.3L190.0 527.6L191.5 525.5L192.0 525.1L193.0 524.5L230.0 527.0L270.0 529.7L310.0 532.4L350.0 535.1L390.0 537.8L430.0 540.5L470.0 543.1L514.0 546.1L514.0 601.7L58.0 601.7Z"/>
<path fill="#000088" d="M58.0 601.1L62.0 601.1L66.0 601.0L70.0 600.7L74.0 600.5L78.0 600.2L82.0 599.9L86.0 599.5L90.0 599.1L94.0 598.6L98.0 598.0L102.0 597.3L106.0 596.1L110.0 594.5L114.0 592.6L118.0 590.5L122.0 588.3L126.0 586.1L130.0 583.9L134.0 581.6L138.0 579.1L142.0 576.5L146.0 573.7L150.0 570.8L154.0 567.7L158.0 564.5L162.0 561.1L166.0 557.3L170.0 553.1L172.0 550.9L173.5 549.2L175.0 547.4L176.5 545.7L178.0 544.0L179.5 542.2L181.0 540.5L182.5 538.8L184.0 537.1L185.5 535.2L187.0 533.3L188.5 531.2L190.0 528.6L191.5 526.5L192.0 526.1L193.0 525.5L230.0 528.0L270.0 530.7L310.0 533.5L350.0 536.2L390.0 538.9L430.0 541.6L470.0 544.4L514.0 547.4L514.0 601.7L58.0 601.7Z"/>
<path fill="#000085" d="M58.0 601.2L62.0 601.1L66.0 601.0L70.0 600.8L74.0 600.6L78.0 600.3L82.0 600.0L86.0 599.6L90.0 599.2L94.0 598.8L98.0 598.2L102.0 597.5L106.0 596.3L110.0 594.8L114.0 592.9L118.0 590.8L122.0 588.6L126.0 586.5L130.0 584.3L134.0 582.0L138.0 579.5L142.0 577.0L146.0 574.2L150.0 571.3L154.0 568.3L158.0 565.1L162.0 561.7L166.0 558.0L170.0 553.8L172.0 551.6L173.5 549.9L175.0 548.2L176.5 546.5L178.0 544.7L179.5 543.0L181.0 541.3L182.5 539.6L184.0 537.9L185.5 536.1L187.0 534.2L188.5 532.1L190.0 529.5L191.5 527.5L192.0 527.1L193.0 526.5L230.0 529.0L270.0 531.8L310.0 534.6L350.0 537.3L390.0 540.1L430.0 542.8L470.0 545.6L514.0 548.6L514.0 601.7L58.0 601.7Z"/>
<path fill="#000082" d="M58.0 601.2L62.0 601.2L66.0 601.1L70.0 600.9L74.0 600.6L78.0 600.4L82.0 600.1L86.0 599.8L90.0 599.4L94.0 598.9L98.0 598.3L102.0 597.6L106.0 596.5L110.0 595.0L114.0 593.1L118.0 591.1L122.0 589.0L126.0 586.8L130.0 584.7L134.0 582.4L138.0 580.0L142.0 577.4L146.0 574.7L150.0 571.8L154.0 568.8L158.0 565.7L162.0 562.3L166.0 558.6L170.0 554.5L172.0 552.3L173.5 550.6L175.0 548.9L176.5 547.2L178.0 545.5L179.5 543.8L181.0 542.1L182.5 540.5L184.0 538.8L185.5 537.0L187.0 535.1L188.5 533.1L190.0 530.5L191.5 528.5L192.0 528.1L193.0 527.5L230.0 530.1L270.0 532.9L310.0 535.6L350.0 538.4L390.0 541.2L430.0 544.0L470.0 546.8L514.0 549.8L514.0 601.7L58.0 601.7Z"/>
<path fill="#00007f" d="M58.0 601.3L62.0 601.2L66.0 601.1L70.0 600.9L74.0 600.7L78.0 600.5L82.0 600.2L86.0 599.8L90.0 599.5L94.0 599.0L98.0 598.5L102.0 597.8L106.0 596.7L110.0 595.2L114.0 593.4L118.0 591.4L122.0 589.3L126.0 587.2L130.0 585.0L134.0 582.8L138.0 580.4L142.0 577.9L146.0 575.2L150.0 572.4L154.0 569.4L158.0 566.2L162.0 563.0L166.0 559.3L170.0 555.2L172.0 553.0L173.5 551.3L175.0 549.6L176.5 548.0L178.0 546.3L179.5 544.6L181.0 542.9L182.5 541.3L184.0 539.6L185.5 537.9L187.0 536.0L188.5 534.0L190.0 531.5L191.5 529.5L192.0 529.1L193.0 528.5L230.0 531.1L270.0 533.9L310.0 536.7L350.0 539.6L390.0 542.4L430.0 545.2L470.0 548.0L514.0 551.1L514.0 601.7L58.0 601.7Z"/>
<path fill="#00007d" d="M58.0 601.3L62.0 601.3L66.0 601.2L70.0 601.0L74.0 600.8L78.0 600.5L82.0 600.3L86.0 599.9L90.0 599.6L94.0 599.1L98.0 598.6L102.0 598.0L106.0 596.9L110.0 595.4L114.0 593.6L118.0 591.6L122.0 589.6L126.0 587.5L130.0 585.4L134.0 583.2L138.0 580.8L142.0 578.3L146.0 575.7L150.0 572.9L154.0 569.9L158.0 566.8L162.0 563.6L166.0 559.9L170.0 555.8L172.0 553.7L173.5 552.0L175.0 550.4L176.5 548.7L178.0 547.0L179.5 545.4L181.0 543.7L182.5 542.1L184.0 540.5L185.5 538.7L187.0 536.9L188.5 534.9L190.0 532.4L191.5 530.5L192.0 530.0L193.0 529.5L230.0 532.1L270.0 535.0L310.0 537.9L350.0 540.7L390.0 543.6L430.0 546.4L470.0 549.3L514.0 552.4L514.0 601.7L58.0 601.7Z"/>
<path fill="#00007a" d="M58.0 601.3L62.0 601.3L66.0 601.2L70.0 601.0L74.0 600.8L78.0 600.6L82.0 600.3L86.0 600.0L90.0 599.7L94.0 599.3L98.0 598.8L102.0 598.1L106.0 597.1L110.0 595.6L114.0 593.9L118.0 591.9L122.0 589.9L126.0 587.8L130.0 585.8L134.0 583.6L138.0 581.2L142.0 578.8L146.0 576.1L150.0 573.4L154.0 570.5L158.0 567.4L162.0 564.2L166.0 560.6L170.0 556.5L172.0 554.4L173.5 552.8L175.0 551.1L176.5 549.5L178.0 547.8L179.5 546.2L181.0 544.6L182.5 543.0L184.0 541.3L185.5 539.6L187.0 537.8L188.5 535.9L190.0 533.4L191.5 531.4L192.0 531.0L193.0 530.5L230.0 533.2L270.0 536.1L310.0 539.0L350.0 541.9L390.0 544.7L430.0 547.6L470.0 550.5L514.0 553.7L514.0 601.7L58.0 601.7Z"/>
<path fill="#000078" d="M58.0 601.4L62.0 601.4L66.0 601.3L70.0 601.1L74.0 600.9L78.0 600.7L82.0 600.4L86.0 600.1L90.0 599.8L94.0 599.4L98.0 598.9L102.0 598.3L106.0 597.2L110.0 595.8L114.0 594.1L118.0 592.2L122.0 590.2L126.0 588.1L130.0 586.1L134.0 584.0L138.0 581.6L142.0 579.2L146.0 576.6L150.0 573.9L154.0 571.0L158.0 568.0L162.0 564.8L166.0 561.2L170.0 557.2L172.0 555.1L173.5 553.5L175.0 551.8L176.5 550.2L178.0 548.6L179.5 546.9L181.0 545.4L182.5 543.8L184.0 542.2L185.5 540.5L187.0 538.7L188.5 536.8L190.0 534.4L191.5 532.4L192.0 532.0L193.0 531.5L230.0 534.2L270.0 537.1L310.0 540.1L350.0 543.0L390.0 545.9L430.0 548.9L470.0 551.8L514.0 555.0L514.0 601.7L58.0 601.7Z"/>
<path fill="#000076" d="M58.0 601.4L62.0 601.4L66.0 601.3L70.0 601.2L74.0 601.0L78.0 600.8L82.0 600.5L86.0 600.2L90.0 599.9L94.0 599.5L98.0 599.0L102.0 598.4L106.0 597.4L110.0 596.0L114.0 594.3L118.0 592.4L122.0 590.5L126.0 588.5L130.0 586.5L134.0 584.3L138.0 582.1L142.0 579.6L146.0 577.1L150.0 574.4L154.0 571.5L158.0 568.5L162.0 565.4L166.0 561.8L170.0 557.9L172.0 555.8L173.5 554.2L175.0 552.6L176.5 551.0L178.0 549.3L179.5 547.7L181.0 546.2L182.5 544.6L184.0 543.0L185.5 541.4L187.0 539.6L188.5 537.7L190.0 535.3L191.5 533.4L192.0 533.0L193.0 532.5L230.0 535.2L270.0 538.2L310.0 541.2L350.0 544.1L390.0 547.1L430.0 550.1L470.0 553.1L514.0 556.3L514.0 601.7L58.0 601.7Z"/>
<path fill="#000073" d="M58.0 601.5L62.0 601.5L66.0 601.4L70.0 601.2L74.0 601.0L78.0 600.8L82.0 600.6L86.0 600.3L90.0 600.0L94.0 599.6L98.0 599.2L102.0 598.6L106.0 597.6L110.0 596.2L114.0 594.5L118.0 592.7L122.0 590.7L126.0 588.8L130.0 586.8L134.0 584.7L138.0 582.5L142.0 580.1L146.0 577.5L150.0 574.9L154.0 572.1L158.0 569.1L162.0 566.0L166.0 562.5L170.0 558.5L172.0 556.5L173.5 554.9L175.0 553.3L176.5 551.7L178.0 550.1L179.5 548.5L181.0 547.0L182.5 545.4L184.0 543.9L185.5 542.3L187.0 540.5L188.5 538.7L190.0 536.3L191.5 534.4L192.0 534.0L193.0 533.5L230.0 536.3L270.0 539.3L310.0 542.3L350.0 545.3L390.0 548.3L430.0 551.3L470.0 554.3L514.0 557.6L514.0 601.7L58.0 601.7Z"/>
<path fill="#000071" d="M58.0 601.5L62.0 601.5L66.0 601.4L70.0 601.3L74.0 601.1L78.0 600.9L82.0 600.7L86.0 600.4L90.0 600.1L94.0 599.7L98.0 599.3L102.0 598.7L106.0 597.7L110.0 596.4L114.0 594.8L118.0 593.0L122.0 591.0L126.0 589.1L130.0 587.2L134.0 585.1L138.0 582.9L142.0 580.6L146.0 578.1L150.0 575.4L154.0 572.6L158.0 569.7L162.0 566.6L166.0 563.2L170.0 559.3L172.0 557.2L173.5 555.7L175.0 554.1L176.5 552.5L178.0 550.9L179.5 549.4L181.0 547.8L182.5 546.3L184.0 544.8L185.5 543.2L187.0 541.4L188.5 539.6L190.0 537.2L191.5 535.4L192.0 535.0L193.0 534.5L230.0 537.3L270.0 540.4L310.0 543.4L350.0 546.4L390.0 549.5L430.0 552.5L470.0 555.6L514.0 558.9L514.0 601.7L58.0 601.7Z"/>
<path fill="#020071" d="M58.0 601.5L62.0 601.5L66.0 601.4L70.0 601.3L74.0 601.1L78.0 600.9L82.0 600.7L86.0 600.4L90.0 600.1L94.0 599.8L98.0 599.4L102.0 598.8L106.0 597.9L110.0 596.6L114.0 595.0L118.0 593.2L122.0 591.4L126.0 589.5L130.0 587.6L134.0 585.6L138.0 583.5L142.0 581.2L146.0 578.8L150.0 576.2L154.0 573.5L158.0 570.6L162.0 567.6L166.0 564.2L170.0 560.3L172.0 558.3L173.5 556.7L175.0 555.1L176.5 553.6L178.0 552.0L179.5 550.4L181.0 548.9L182.5 547.3L184.0 545.8L185.5 544.2L187.0 542.5L188.5 540.6L190.0 538.2L191.5 536.4L192.0 536.0L193.0 535.5L230.0 538.3L270.0 541.4L310.0 544.5L350.0 547.6L390.0 550.7L430.0 553.7L470.0 556.8L514.0 560.2L514.0 601.7L58.0 601.7Z"/>
<path fill="#050072" d="M58.0 601.5L62.0 601.5L66.0 601.4L70.0 601.3L74.0 601.1L78.0 600.9L82.0 600.7L86.0 600.5L90.0 600.2L94.0 599.9L98.0 599.5L102.0 598.9L106.0 598.0L110.0 596.8L114.0 595.2L118.0 593.5L122.0 591.7L126.0 589.9L130.0 588.1L134.0 586.1L138.0 584.0L142.0 581.8L146.0 579.5L150.0 577.0L154.0 574.3L158.0 571.5L162.0 568.6L166.0 565.2L170.0 561.4L172.0 559.3L173.5 557.8L175.0 556.2L176.5 554.6L178.0 553.0L179.5 551.4L181.0 549.9L182.5 548.4L184.0 546.8L185.5 545.2L187.0 543.5L188.5 541.6L190.0 539.2L191.5 537.4L192.0 537.0L193.0 536.5L230.0 539.4L270.0 542.5L310.0 545.6L350.0 548.7L390.0 551.9L430.0 555.0L470.0 558.1L514.0 561.5L514.0 601.7L58.0 601.7Z"/>
<path fill="#080073" d="M58.0 601.5L62.0 601.5L66.0 601.4L70.0 601.3L74.0 601.1L78.0 601.0L82.0 600.8L86.0 600.5L90.0 600.3L94.0 599.9L98.0 599.5L102.0 599.0L106.0 598.1L110.0 596.9L114.0 595.4L118.0 593.8L122.0 592.0L126.0 590.3L130.0 588.5L134.0 586.6L138.0 584.6L142.0 582.4L146.0 580.1L150.0 577.7L154.0 575.1L158.0 572.4L162.0 569.5L166.0 566.2L170.0 562.4L172.0 560.3L173.5 558.8L175.0 557.2L176.5 555.6L178.0 554.0L179.5 552.5L181.0 550.9L182.5 549.4L184.0 547.8L185.5 546.2L187.0 544.4L188.5 542.6L190.0 540.2L191.5 538.4L192.0 538.0L193.0 537.5L230.0 540.4L270.0 543.6L310.0 546.7L350.0 549.9L390.0 553.0L430.0 556.2L470.0 559.3L514.0 562.8L514.0 601.7L58.0 601.7Z"/>
<path fill="#0c0074" d="M58.0 601.5L62.0 601.5L66.0 601.4L70.0 601.3L74.0 601.2L78.0 601.0L82.0 600.8L86.0 600.6L90.0 600.3L94.0 600.0L98.0 599.6L102.0 599.1L106.0 598.3L110.0 597.1L114.0 595.7L118.0 594.1L122.0 592.4L126.0 590.7L130.0 589.0L134.0 587.1L138.0 585.2L142.0 583.1L146.0 580.8L150.0 578.4L154.0 575.9L158.0 573.2L162.0 570.4L166.0 567.1L170.0 563.4L172.0 561.3L173.5 559.8L175.0 558.2L176.5 556.6L178.0 555.1L179.5 553.5L181.0 552.0L182.5 550.4L184.0 548.8L185.5 547.2L187.0 545.4L188.5 543.6L190.0 541.2L191.5 539.4L192.0 539.0L193.0 538.5L230.0 541.5L270.0 544.6L310.0 547.8L350.0 551.0L390.0 554.2L430.0 557.4L470.0 560.6L514.0 564.1L514.0 601.7L58.0 601.7Z"/>
<path fill="#0f0075" d="M58.0 601.5L62.0 601.5L66.0 601.4L70.0 601.3L74.0 601.2L78.0 601.0L82.0 600.8L86.0 600.6L90.0 600.4L94.0 600.1L98.0 599.7L102.0 599.2L106.0 598.4L110.0 597.3L114.0 595.9L118.0 594.3L122.0 592.7L126.0 591.0L130.0 589.4L134.0 587.6L138.0 585.7L142.0 583.7L146.0 581.5L150.0 579.2L154.0 576.7L158.0 574.1L162.0 571.3L166.0 568.1L170.0 564.3L172.0 562.3L173.5 560.8L175.0 559.2L176.5 557.7L178.0 556.1L179.5 554.5L181.0 553.0L182.5 551.4L184.0 549.8L185.5 548.2L187.0 546.4L188.5 544.6L190.0 542.2L191.5 540.4L192.0 540.0L193.0 539.5L230.0 542.5L270.0 545.7L310.0 548.9L350.0 552.2L390.0 555.4L430.0 558.6L470.0 561.9L514.0 565.4L514.0 601.7L58.0 601.7Z"/>
<path fill="#130076" d="M58.0 601.5L62.0 601.5L66.0 601.4L70.0 601.3L74.0 601.2L78.0 601.0L82.0 600.9L86.0 600.7L90.0 600.4L94.0 600.1L98.0 599.8L102.0 599.3L106.0 598.5L110.0 597.4L114.0 596.1L118.0 594.6L122.0 593.0L126.0 591.4L130.0 589.8L134.0 588.1L138.0 586.2L142.0 584.2L146.0 582.1L150.0 579.9L154.0 577.5L158.0 574.9L162.0 572.2L166.0 569.0L170.0 565.3L172.0 563.3L173.5 561.8L175.0 560.2L176.5 558.7L178.0 557.1L179.5 555.5L181.0 554.0L182.5 552.4L184.0 550.8L185.5 549.2L187.0 547.4L188.5 545.5L190.0 543.2L191.5 541.4L192.0 541.0L193.0 540.5L230.0 543.5L270.0 546.8L310.0 550.1L350.0 553.3L390.0 556.6L430.0 559.9L470.0 563.1L514.0 566.7L514.0 601.7L58.0 601.7Z"/>
<path fill="#160077" d="M58.0 601.5L62.0 601.5L66.0 601.4L70.0 601.3L74.0 601.2L78.0 601.1L82.0 600.9L86.0 600.7L90.0 600.5L94.0 600.2L98.0 599.9L102.0 599.4L106.0 598.7L110.0 597.6L114.0 596.3L118.0 594.8L122.0 593.3L126.0 591.8L130.0 590.2L134.0 588.5L138.0 586.7L142.0 584.8L146.0 582.8L150.0 580.6L154.0 578.2L158.0 575.8L162.0 573.1L166.0 570.0L170.0 566.3L172.0 564.3L173.5 562.8L175.0 561.2L176.5 559.6L178.0 558.1L179.5 556.5L181.0 555.0L182.5 553.4L184.0 551.8L185.5 550.2L187.0 548.4L188.5 546.5L190.0 544.2L191.5 542.4L192.0 542.0L193.0 541.5L230.0 544.6L270.0 547.9L310.0 551.2L350.0 554.5L390.0 557.8L430.0 561.1L470.0 564.4L514.0 568.0L514.0 601.7L58.0 601.7Z"/>
<path fill="#190078" d="M58.0 601.5L62.0 601.5L66.0 601.5L70.0 601.3L74.0 601.2L78.0 601.1L82.0 600.9L86.0 600.7L90.0 600.5L94.0 600.2L98.0 599.9L102.0 599.5L106.0 598.8L110.0 597.8L114.0 596.5L118.0 595.1L122.0 593.6L126.0 592.1L130.0 590.6L134.0 589.0L138.0 587.3L142.0 585.4L146.0 583.4L150.0 581.3L154.0 579.0L158.0 576.6L162.0 574.0L166.0 570.9L170.0 567.2L172.0 565.3L173.5 563.7L175.0 562.2L176.5 560.6L178.0 559.1L179.5 557.5L181.0 556.0L182.5 554.4L184.0 552.8L185.5 551.1L187.0 549.4L188.5 547.5L190.0 545.2L191.5 543.4L192.0 543.0L193.0 542.5L230.0 545.6L270.0 548.9L310.0 552.3L350.0 555.6L390.0 559.0L430.0 562.3L470.0 565.6L514.0 569.3L514.0 601.7L58.0 601.7Z"/>
<path fill="#1b0079" d="M58.0 601.5L62.0 601.5L66.0 601.5L70.0 601.4L74.0 601.2L78.0 601.1L82.0 601.0L86.0 600.8L90.0 600.6L94.0 600.3L98.0 600.0L102.0 599.6L106.0 598.9L110.0 597.9L114.0 596.7L118.0 595.3L122.0 593.9L126.0 592.5L130.0 591.0L134.0 589.4L138.0 587.8L142.0 586.0L146.0 584.0L150.0 582.0L154.0 579.7L158.0 577.4L162.0 574.8L166.0 571.8L170.0 568.2L172.0 566.2L173.5 564.7L175.0 563.1L176.5 561.6L178.0 560.0L179.5 558.5L181.0 557.0L182.5 555.4L184.0 553.8L185.5 552.1L187.0 550.4L188.5 548.5L190.0 546.2L191.5 544.4L192.0 544.0L193.0 543.5L230.0 546.6L270.0 550.0L310.0 553.4L350.0 556.8L390.0 560.2L430.0 563.6L470.0 567.0L514.0 570.8L514.0 601.7L58.0 601.7Z"/>
<path fill="#1d0079" d="M58.0 601.5L62.0 601.5L66.0 601.5L70.0 601.4L74.0 601.3L78.0 601.1L82.0 601.0L86.0 600.8L90.0 600.6L94.0 600.4L98.0 600.1L102.0 599.7L106.0 599.0L110.0 598.1L114.0 596.9L118.0 595.6L122.0 594.2L126.0 592.8L130.0 591.4L134.0 589.9L138.0 588.3L142.0 586.5L146.0 584.6L150.0 582.6L154.0 580.5L158.0 578.2L162.0 575.7L166.0 572.7L170.0 569.1L172.0 567.1L173.5 565.6L175.0 564.1L176.5 562.6L178.0 561.0L179.5 559.5L181.0 557.9L182.5 556.4L184.0 554.8L185.5 553.1L187.0 551.3L188.5 549.5L190.0 547.2L191.5 545.4L192.0 545.0L193.0 544.5L230.0 547.7L270.0 551.2L310.0 554.7L350.0 558.2L390.0 561.6L430.0 565.1L470.0 568.6L514.0 572.4L514.0 601.7L58.0 601.7Z"/>
<path fill="#1e007a" d="M58.0 601.5L62.0 601.5L66.0 601.5L70.0 601.4L74.0 601.3L78.0 601.2L82.0 601.0L86.0 600.9L90.0 600.7L94.0 600.4L98.0 600.1L102.0 599.8L106.0 599.1L110.0 598.2L114.0 597.1L118.0 595.8L122.0 594.5L126.0 593.1L130.0 591.8L134.0 590.3L138.0 588.7L142.0 587.0L146.0 585.2L150.0 583.3L154.0 581.2L158.0 578.9L162.0 576.5L166.0 573.6L170.0 570.0L172.0 568.1L173.5 566.6L175.0 565.0L176.5 563.5L178.0 562.0L179.5 560.4L181.0 558.9L182.5 557.4L184.0 555.7L185.5 554.1L187.0 552.3L188.5 550.4L190.0 548.2L191.5 546.4L192.0 546.0L193.0 545.5L230.0 548.8L270.0 552.4L310.0 555.9L350.0 559.5L390.0 563.0L430.0 566.6L470.0 570.2L514.0 574.1L514.0 601.7L58.0 601.7Z"/>
<path fill="#20007a" d="M58.0 601.5L62.0 601.5L66.0 601.5L70.0 601.4L74.0 601.3L78.0 601.2L82.0 601.1L86.0 600.9L90.0 600.7L94.0 600.5L98.0 600.2L102.0 599.9L106.0 599.2L110.0 598.4L114.0 597.3L118.0 596.1L122.0 594.8L126.0 593.5L130.0 592.1L134.0 590.7L138.0 589.2L142.0 587.6L146.0 585.8L150.0 583.9L154.0 581.9L158.0 579.7L162.0 577.3L166.0 574.4L170.0 570.9L172.0 569.0L173.5 567.5L175.0 566.0L176.5 564.5L178.0 562.9L179.5 561.4L181.0 559.9L182.5 558.3L184.0 556.7L185.5 555.0L187.0 553.3L188.5 551.4L190.0 549.1L191.5 547.4L192.0 547.0L193.0 546.5L230.0 549.9L270.0 553.5L310.0 557.1L350.0 560.8L390.0 564.4L430.0 568.1L470.0 571.7L514.0 575.7L514.0 601.7L58.0 601.7Z"/>
<path fill="#22007b" d="M58.0 601.5L62.0 601.5L66.0 601.5L70.0 601.4L74.0 601.3L78.0 601.2L82.0 601.1L86.0 600.9L90.0 600.7L94.0 600.5L98.0 600.3L102.0 599.9L106.0 599.3L110.0 598.5L114.0 597.5L118.0 596.3L122.0 595.0L126.0 593.8L130.0 592.5L134.0 591.1L138.0 589.7L142.0 588.1L146.0 586.4L150.0 584.6L154.0 582.6L158.0 580.4L162.0 578.1L166.0 575.3L170.0 571.8L172.0 569.9L173.5 568.4L175.0 566.9L176.5 565.4L178.0 563.9L179.5 562.4L181.0 560.8L182.5 559.3L184.0 557.7L185.5 556.0L187.0 554.2L188.5 552.4L190.0 550.1L191.5 548.4L192.0 548.0L193.0 547.5L230.0 550.9L270.0 554.7L310.0 558.4L350.0 562.1L390.0 565.8L430.0 569.5L470.0 573.3L514.0 577.4L514.0 601.7L58.0 601.7Z"/>
<path fill="#23007c" d="M58.0 601.5L62.0 601.5L66.0 601.5L70.0 601.4L74.0 601.3L78.0 601.2L82.0 601.1L86.0 601.0L90.0 600.8L94.0 600.6L98.0 600.3L102.0 600.0L106.0 599.5L110.0 598.6L114.0 597.6L118.0 596.5L122.0 595.3L126.0 594.1L130.0 592.9L134.0 591.6L138.0 590.1L142.0 588.6L146.0 587.0L150.0 585.2L154.0 583.2L158.0 581.2L162.0 578.9L166.0 576.1L170.0 572.7L172.0 570.8L173.5 569.3L175.0 567.8L176.5 566.3L178.0 564.8L179.5 563.3L181.0 561.8L182.5 560.2L184.0 558.6L185.5 556.9L187.0 555.2L188.5 553.3L190.0 551.1L191.5 549.4L192.0 549.0L193.0 548.5L230.0 552.0L270.0 555.8L310.0 559.6L350.0 563.4L390.0 567.2L430.0 571.0L470.0 574.8L514.0 579.0L514.0 601.7L58.0 601.7Z"/>
<path fill="#25007c" d="M58.0 601.5L62.0 601.5L66.0 601.5L70.0 601.4L74.0 601.3L78.0 601.2L82.0 601.1L86.0 601.0L90.0 600.8L94.0 600.6L98.0 600.4L102.0 600.1L106.0 599.6L110.0 598.8L114.0 597.8L118.0 596.7L122.0 595.6L126.0 594.4L130.0 593.2L134.0 592.0L138.0 590.6L142.0 589.1L146.0 587.5L150.0 585.8L154.0 583.9L158.0 581.9L162.0 579.7L166.0 576.9L170.0 573.5L172.0 571.7L173.5 570.2L175.0 568.7L176.5 567.2L178.0 565.7L179.5 564.2L181.0 562.7L182.5 561.2L184.0 559.6L185.5 557.9L187.0 556.1L188.5 554.3L190.0 552.1L191.5 550.4L192.0 550.0L193.0 549.5L230.0 553.1L270.0 557.0L310.0 560.8L350.0 564.7L390.0 568.6L430.0 572.5L470.0 576.4L514.0 580.6L514.0 601.7L58.0 601.7Z"/>
<path fill="#26007d" d="M58.0 601.5L62.0 601.5L66.0 601.5L70.0 601.4L74.0 601.3L78.0 601.3L82.0 601.2L86.0 601.0L90.0 600.9L94.0 600.7L98.0 600.5L102.0 600.2L106.0 599.7L110.0 598.9L114.0 598.0L118.0 596.9L122.0 595.8L126.0 594.7L130.0 593.6L134.0 592.3L138.0 591.0L142.0 589.6L146.0 588.1L150.0 586.4L154.0 584.6L158.0 582.6L162.0 580.4L166.0 577.7L170.0 574.4L172.0 572.5L173.5 571.1L175.0 569.6L176.5 568.1L178.0 566.6L179.5 565.2L181.0 563.7L182.5 562.1L184.0 560.5L185.5 558.8L187.0 557.1L188.5 555.3L190.0 553.1L191.5 551.4L192.0 551.0L193.0 550.5L230.0 554.2L270.0 558.1L310.0 562.1L350.0 566.0L390.0 570.0L430.0 574.0L470.0 577.9L514.0 582.3L514.0 601.7L58.0 601.7Z"/>
<path fill="#28007d" d="M58.0 601.5L62.0 601.5L66.0 601.5L70.0 601.4L74.0 601.4L78.0 601.3L82.0 601.2L86.0 601.1L90.0 600.9L94.0 600.7L98.0 600.5L102.0 600.3L106.0 599.8L110.0 599.0L114.0 598.1L118.0 597.1L122.0 596.1L126.0 595.0L130.0 593.9L134.0 592.7L138.0 591.5L142.0 590.1L146.0 588.6L150.0 587.0L154.0 585.2L158.0 583.3L162.0 581.2L166.0 578.5L170.0 575.2L172.0 573.4L173.5 572.0L175.0 570.5L176.5 569.0L178.0 567.5L179.5 566.1L181.0 564.6L182.5 563.1L184.0 561.5L185.5 559.8L187.0 558.1L188.5 556.2L190.0 554.1L191.5 552.4L192.0 552.0L193.0 551.5L230.0 555.2L270.0 559.3L310.0 563.3L350.0 567.4L390.0 571.4L430.0 575.4L470.0 579.5L514.0 583.9L514.0 601.7L58.0 601.7Z"/>
<path fill="#29007e" d="M58.0 601.5L62.0 601.5L66.0 601.5L70.0 601.4L74.0 601.4L78.0 601.3L82.0 601.2L86.0 601.1L90.0 601.0L94.0 600.8L98.0 600.6L102.0 600.3L106.0 599.9L110.0 599.2L114.0 598.3L118.0 597.3L122.0 596.3L126.0 595.3L130.0 594.2L134.0 593.1L138.0 591.9L142.0 590.6L146.0 589.1L150.0 587.5L154.0 585.8L158.0 584.0L162.0 581.9L166.0 579.3L170.0 576.0L172.0 574.2L173.5 572.8L175.0 571.4L176.5 569.9L178.0 568.4L179.5 567.0L181.0 565.5L182.5 564.0L184.0 562.4L185.5 560.7L187.0 559.0L188.5 557.2L190.0 555.0L191.5 553.4L192.0 553.0L193.0 552.5L230.0 556.3L270.0 560.4L310.0 564.6L350.0 568.7L390.0 572.8L430.0 576.9L470.0 581.0L514.0 585.6L514.0 601.7L58.0 601.7Z"/>
<path fill="#2b007f" d="M58.0 601.5L62.0 601.5L66.0 601.5L70.0 601.4L74.0 601.4L78.0 601.3L82.0 601.2L86.0 601.1L90.0 601.0L94.0 600.8L98.0 600.6L102.0 600.4L106.0 599.9L110.0 599.3L114.0 598.5L118.0 597.5L122.0 596.6L126.0 595.6L130.0 594.6L134.0 593.5L138.0 592.3L142.0 591.0L146.0 589.6L150.0 588.1L154.0 586.4L158.0 584.6L162.0 582.7L166.0 580.1L170.0 576.9L172.0 575.1L173.5 573.7L175.0 572.2L176.5 570.8L178.0 569.3L179.5 567.9L181.0 566.4L182.5 564.9L184.0 563.3L185.5 561.7L187.0 559.9L188.5 558.1L190.0 556.0L191.5 554.4L192.0 554.0L193.0 553.5L230.0 557.4L270.0 561.6L310.0 565.8L350.0 570.0L390.0 574.2L430.0 578.4L470.0 582.6L514.0 587.2L514.0 601.7L58.0 601.7Z"/>
<path fill="#2c007f" d="M58.0 601.5L62.0 601.5L66.0 601.5L70.0 601.4L74.0 601.4L78.0 601.3L82.0 601.3L86.0 601.2L90.0 601.0L94.0 600.9L98.0 600.7L102.0 600.5L106.0 600.0L110.0 599.4L114.0 598.6L118.0 597.7L122.0 596.8L126.0 595.8L130.0 594.9L134.0 593.8L138.0 592.7L142.0 591.5L146.0 590.1L150.0 588.7L154.0 587.1L158.0 585.3L162.0 583.4L166.0 580.9L170.0 577.7L172.0 575.9L173.5 574.5L175.0 573.1L176.5 571.6L178.0 570.2L179.5 568.8L181.0 567.3L182.5 565.8L184.0 564.2L185.5 562.6L187.0 560.9L188.5 559.1L190.0 557.0L191.5 555.3L192.0 555.0L193.0 554.5L230.0 558.5L270.0 562.7L310.0 567.0L350.0 571.3L390.0 575.6L430.0 579.9L470.0 584.1L514.0 588.8L514.0 601.7L58.0 601.7Z"/>
<path fill="#2e0080" d="M58.0 601.5L62.0 601.5L66.0 601.5L70.0 601.4L74.0 601.4L78.0 601.4L82.0 601.3L86.0 601.2L90.0 601.1L94.0 600.9L98.0 600.8L102.0 600.5L106.0 600.1L110.0 599.5L114.0 598.8L118.0 597.9L122.0 597.0L126.0 596.1L130.0 595.2L134.0 594.2L138.0 593.1L142.0 591.9L146.0 590.6L150.0 589.2L154.0 587.6L158.0 585.9L162.0 584.1L166.0 581.6L170.0 578.4L172.0 576.7L173.5 575.3L175.0 573.9L176.5 572.5L178.0 571.1L179.5 569.7L181.0 568.2L182.5 566.7L184.0 565.2L185.5 563.5L187.0 561.8L188.5 560.0L190.0 558.0L191.5 556.3L192.0 556.0L193.0 555.5L230.0 559.5L270.0 563.9L310.0 568.3L350.0 572.6L390.0 577.0L430.0 581.3L470.0 585.7L514.0 590.5L514.0 601.7L58.0 601.7Z"/>
<path fill="#2e0080" d="M58.0 601.5L62.0 601.5L66.0 601.5L70.0 601.5L74.0 601.4L78.0 601.4L82.0 601.3L86.0 601.2L90.0 601.1L94.0 601.0L98.0 600.8L102.0 600.6L106.0 600.2L110.0 599.6L114.0 598.9L118.0 598.1L122.0 597.2L126.0 596.4L130.0 595.5L134.0 594.5L138.0 593.5L142.0 592.3L146.0 591.1L150.0 589.7L154.0 588.2L158.0 586.6L162.0 584.7L166.0 582.3L170.0 579.2L172.0 577.5L173.5 576.1L175.0 574.8L176.5 573.3L178.0 571.9L179.5 570.5L181.0 569.1L182.5 567.6L184.0 566.1L185.5 564.4L187.0 562.8L188.5 561.0L190.0 558.9L191.5 557.3L192.0 557.0L193.0 556.5L230.0 560.6L270.0 565.0L310.0 569.4L350.0 573.8L390.0 578.2L430.0 582.6L470.0 587.0L514.0 591.9L514.0 601.7L58.0 601.7Z"/>
<path fill="#2f0080" d="M58.0 601.5L62.0 601.5L66.0 601.5L70.0 601.5L74.0 601.4L78.0 601.4L82.0 601.3L86.0 601.2L90.0 601.1L94.0 601.0L98.0 600.9L102.0 600.7L106.0 600.3L110.0 599.7L114.0 599.1L118.0 598.3L122.0 597.5L126.0 596.6L130.0 595.8L134.0 594.8L138.0 593.9L142.0 592.8L146.0 591.6L150.0 590.2L154.0 588.8L158.0 587.2L162.0 585.4L166.0 583.0L170.0 580.0L172.0 578.3L173.5 576.9L175.0 575.6L176.5 574.2L178.0 572.8L179.5 571.4L181.0 570.0L182.5 568.5L184.0 567.0L185.5 565.4L187.0 563.7L188.5 561.9L190.0 559.9L191.5 558.3L192.0 558.0L193.0 557.5L230.0 561.6L270.0 566.0L310.0 570.5L350.0 574.9L390.0 579.3L430.0 583.8L470.0 588.2L514.0 593.1L514.0 601.7L58.0 601.7Z"/>
<path fill="#2f0080" d="M58.0 601.5L62.0 601.5L66.0 601.5L70.0 601.5L74.0 601.4L78.0 601.4L82.0 601.3L86.0 601.3L90.0 601.2L94.0 601.0L98.0 600.9L102.0 600.7L106.0 600.4L110.0 599.9L114.0 599.2L118.0 598.5L122.0 597.7L126.0 596.9L130.0 596.1L134.0 595.2L138.0 594.2L142.0 593.2L146.0 592.0L150.0 590.7L154.0 589.3L158.0 587.8L162.0 586.1L166.0 583.8L170.0 580.7L172.0 579.1L173.5 577.7L175.0 576.4L176.5 575.0L178.0 573.6L179.5 572.3L181.0 570.9L182.5 569.4L184.0 567.9L185.5 566.3L187.0 564.6L188.5 562.9L190.0 560.9L191.5 559.3L192.0 559.0L193.0 558.5L230.0 562.6L270.0 567.1L310.0 571.5L350.0 576.0L390.0 580.4L430.0 584.9L470.0 589.3L514.0 594.2L514.0 601.7L58.0 601.7Z"/>
<path fill="#2f0080" d="M58.0 601.5L62.0 601.5L66.0 601.5L70.0 601.5L74.0 601.5L78.0 601.4L82.0 601.4L86.0 601.3L90.0 601.2L94.0 601.1L98.0 601.0L102.0 600.8L106.0 600.5L110.0 600.0L114.0 599.3L118.0 598.6L122.0 597.9L126.0 597.1L130.0 596.3L134.0 595.5L138.0 594.6L142.0 593.6L146.0 592.5L150.0 591.2L154.0 589.9L158.0 588.4L162.0 586.7L166.0 584.4L170.0 581.5L172.0 579.8L173.5 578.5L175.0 577.2L176.5 575.8L178.0 574.5L179.5 573.1L181.0 571.7L182.5 570.3L184.0 568.8L185.5 567.2L187.0 565.5L188.5 563.8L190.0 561.8L191.5 560.3L192.0 560.0L193.0 559.5L230.0 563.6L270.0 568.1L310.0 572.6L350.0 577.1L390.0 581.5L430.0 586.0L470.0 590.5L514.0 595.4L514.0 601.7L58.0 601.7Z"/>
<path fill="#2f0080" d="M58.0 601.5L62.0 601.5L66.0 601.5L70.0 601.5L74.0 601.5L78.0 601.4L82.0 601.4L86.0 601.3L90.0 601.2L94.0 601.1L98.0 601.0L102.0 600.8L106.0 600.5L110.0 600.1L114.0 599.5L118.0 598.8L122.0 598.1L126.0 597.4L130.0 596.6L134.0 595.8L138.0 594.9L142.0 594.0L146.0 592.9L150.0 591.7L154.0 590.4L158.0 589.0L162.0 587.3L166.0 585.1L170.0 582.2L172.0 580.6L173.5 579.3L175.0 578.0L176.5 576.6L178.0 575.3L179.5 574.0L181.0 572.6L182.5 571.2L184.0 569.7L185.5 568.1L187.0 566.5L188.5 564.8L190.0 562.8L191.5 561.3L192.0 561.0L193.0 560.5L230.0 564.7L270.0 569.2L310.0 573.6L350.0 578.1L390.0 582.6L430.0 587.1L470.0 591.6L514.0 596.6L514.0 601.7L58.0 601.7Z"/>
<path fill="#300080" d="M58.0 601.5L62.0 601.5L66.0 601.5L70.0 601.5L74.0 601.5L78.0 601.4L82.0 601.4L86.0 601.3L90.0 601.3L94.0 601.2L98.0 601.0L102.0 600.9L106.0 600.6L110.0 600.2L114.0 599.6L118.0 599.0L122.0 598.3L126.0 597.6L130.0 596.9L134.0 596.1L138.0 595.3L142.0 594.3L146.0 593.3L150.0 592.2L154.0 590.9L158.0 589.5L162.0 587.9L166.0 585.8L170.0 582.9L172.0 581.3L173.5 580.0L175.0 578.8L176.5 577.4L178.0 576.1L179.5 574.8L181.0 573.5L182.5 572.0L184.0 570.5L185.5 569.0L187.0 567.4L188.5 565.7L190.0 563.8L191.5 562.3L192.0 562.0L193.0 561.5L230.0 565.7L270.0 570.2L310.0 574.7L350.0 579.2L390.0 583.7L430.0 588.3L470.0 592.8L514.0 597.7L514.0 601.7L58.0 601.7Z"/>
<path fill="#300080" d="M58.0 601.5L62.0 601.5L66.0 601.5L70.0 601.5L74.0 601.5L78.0 601.5L82.0 601.4L86.0 601.4L90.0 601.3L94.0 601.2L98.0 601.1L102.0 601.0L106.0 600.7L110.0 600.3L114.0 599.7L118.0 599.1L122.0 598.5L126.0 597.8L130.0 597.1L134.0 596.4L138.0 595.6L142.0 594.7L146.0 593.7L150.0 592.7L154.0 591.4L158.0 590.1L162.0 588.5L166.0 586.4L170.0 583.6L172.0 582.0L173.5 580.8L175.0 579.5L176.5 578.2L178.0 576.9L179.5 575.6L181.0 574.3L182.5 572.9L184.0 571.4L185.5 569.9L187.0 568.3L188.5 566.7L190.0 564.8L191.5 563.3L192.0 562.9L193.0 562.5L230.0 566.7L270.0 571.2L310.0 575.8L350.0 580.3L390.0 584.8L430.0 589.4L470.0 593.9L514.0 598.9L514.0 601.7L58.0 601.7Z"/>
<path fill="#300080" d="M58.0 601.5L62.0 601.5L66.0 601.5L70.0 601.5L74.0 601.5L78.0 601.5L82.0 601.4L86.0 601.4L90.0 601.3L94.0 601.2L98.0 601.1L102.0 601.0L106.0 600.7L110.0 600.3L114.0 599.8L118.0 599.3L122.0 598.7L126.0 598.0L130.0 597.4L134.0 596.7L138.0 595.9L142.0 595.1L146.0 594.1L150.0 593.1L154.0 591.9L158.0 590.6L162.0 589.1L166.0 587.1L170.0 584.3L172.0 582.8L173.5 581.5L175.0 580.3L176.5 579.0L178.0 577.7L179.5 576.5L181.0 575.1L182.5 573.8L184.0 572.3L185.5 570.8L187.0 569.2L188.5 567.6L190.0 565.7L191.5 564.3L192.0 563.9L193.0 563.5L230.0 567.7L270.0 572.3L310.0 576.8L350.0 581.4L390.0 585.9L430.0 590.5L470.0 595.1L514.0 600.1L514.0 601.7L58.0 601.7Z"/>
<path fill="#310080" d="M58.0 601.5L62.0 601.5L66.0 601.5L70.0 601.5L74.0 601.5L78.0 601.5L82.0 601.4L86.0 601.4L90.0 601.3L94.0 601.3L98.0 601.2L102.0 601.1L106.0 600.8L110.0 600.4L114.0 600.0L118.0 599.4L122.0 598.8L126.0 598.2L130.0 597.6L134.0 597.0L138.0 596.2L142.0 595.4L146.0 594.5L150.0 593.5L154.0 592.4L158.0 591.1L162.0 589.7L166.0 587.7L170.0 585.0L172.0 583.5L173.5 582.3L175.0 581.0L176.5 579.8L178.0 578.5L179.5 577.3L181.0 576.0L182.5 574.6L184.0 573.2L185.5 571.7L187.0 570.1L188.5 568.5L190.0 566.7L191.5 565.2L192.0 564.9L193.0 564.5L230.0 568.7L270.0 573.3L310.0 577.9L350.0 582.5L390.0 587.1L430.0 591.6L470.0 596.2L514.0 601.2L514.0 601.7L58.0 601.7Z"/>
<path fill="#310080" d="M58.0 601.5L62.0 601.5L66.0 601.5L70.0 601.5L74.0 601.5L78.0 601.5L82.0 601.4L86.0 601.4L90.0 601.3L94.0 601.3L98.0 601.2L102.0 601.1L106.0 600.8L110.0 600.5L114.0 600.0L118.0 599.5L122.0 598.9L126.0 598.4L130.0 597.8L134.0 597.1L138.0 596.5L142.0 595.7L146.0 594.8L150.0 593.8L154.0 592.8L158.0 591.5L162.0 590.1L166.0 588.2L170.0 585.6L172.0 584.1L173.5 582.9L175.0 581.7L176.5 580.5L178.0 579.2L179.5 578.0L181.0 576.8L182.5 575.4L184.0 574.0L185.5 572.5L187.0 571.0L188.5 569.4L190.0 567.6L191.5 566.2L192.0 565.9L193.0 565.5L230.0 569.8L270.0 574.4L310.0 579.0L350.0 583.6L390.0 588.2L430.0 592.8L470.0 597.4L514.0 601.7L514.0 601.7L58.0 601.7Z"/>
<path fill="#310080" d="M58.0 601.5L62.0 601.5L66.0 601.5L70.0 601.5L74.0 601.5L78.0 601.5L82.0 601.5L86.0 601.4L90.0 601.4L94.0 601.3L98.0 601.2L102.0 601.1L106.0 600.9L110.0 600.5L114.0 600.1L118.0 599.6L122.0 599.1L126.0 598.5L130.0 597.9L134.0 597.3L138.0 596.7L142.0 595.9L146.0 595.1L150.0 594.1L154.0 593.1L158.0 591.9L162.0 590.6L166.0 588.7L170.0 586.1L172.0 584.7L173.5 583.5L175.0 582.4L176.5 581.2L178.0 580.0L179.5 578.8L181.0 577.5L182.5 576.2L184.0 574.8L185.5 573.4L187.0 571.9L188.5 570.4L190.0 568.6L191.5 567.2L192.0 566.9L193.0 566.5L230.0 570.8L270.0 575.4L310.0 580.0L350.0 584.6L390.0 589.3L430.0 593.9L470.0 598.5L514.0 601.7L514.0 601.7L58.0 601.7Z"/>
<path fill="#320080" d="M58.0 601.5L62.0 601.5L66.0 601.5L70.0 601.5L74.0 601.5L78.0 601.5L82.0 601.5L86.0 601.4L90.0 601.4L94.0 601.3L98.0 601.2L102.0 601.1L106.0 600.9L110.0 600.6L114.0 600.2L118.0 599.7L122.0 599.2L126.0 598.6L130.0 598.1L134.0 597.5L138.0 596.9L142.0 596.1L146.0 595.3L150.0 594.4L154.0 593.4L158.0 592.3L162.0 591.0L166.0 589.1L170.0 586.7L172.0 585.3L173.5 584.1L175.0 583.0L176.5 581.8L178.0 580.7L179.5 579.5L181.0 578.3L182.5 577.0L184.0 575.7L185.5 574.3L187.0 572.8L188.5 571.3L190.0 569.6L191.5 568.2L192.0 567.9L193.0 567.5L230.0 571.8L270.0 576.4L310.0 581.1L350.0 585.7L390.0 590.4L430.0 595.0L470.0 599.6L514.0 601.7L514.0 601.7L58.0 601.7Z"/>
<path fill="#320080" d="M58.0 601.5L62.0 601.5L66.0 601.5L70.0 601.5L74.0 601.5L78.0 601.5L82.0 601.5L86.0 601.4L90.0 601.4L94.0 601.3L98.0 601.2L102.0 601.1L106.0 600.9L110.0 600.6L114.0 600.2L118.0 599.8L122.0 599.3L126.0 598.8L130.0 598.2L134.0 597.7L138.0 597.1L142.0 596.4L146.0 595.6L150.0 594.7L154.0 593.7L158.0 592.6L162.0 591.4L166.0 589.6L170.0 587.2L172.0 585.8L173.5 584.8L175.0 583.6L176.5 582.5L178.0 581.4L179.5 580.2L181.0 579.1L182.5 577.8L184.0 576.5L185.5 575.1L187.0 573.7L188.5 572.2L190.0 570.5L191.5 569.2L192.0 568.9L193.0 568.5L230.0 572.8L270.0 577.5L310.0 582.1L350.0 586.8L390.0 591.5L430.0 596.1L470.0 600.8L514.0 601.7L514.0 601.7L58.0 601.7Z"/>
<path fill="#320080" d="M58.0 601.5L62.0 601.5L66.0 601.5L70.0 601.5L74.0 601.5L78.0 601.5L82.0 601.5L86.0 601.4L90.0 601.4L94.0 601.3L98.0 601.2L102.0 601.2L106.0 601.0L110.0 600.7L114.0 600.3L118.0 599.8L122.0 599.4L126.0 598.9L130.0 598.4L134.0 597.8L138.0 597.2L142.0 596.6L146.0 595.8L150.0 595.0L154.0 594.1L158.0 593.0L162.0 591.8L166.0 590.1L170.0 587.7L172.0 586.4L173.5 585.4L175.0 584.3L176.5 583.2L178.0 582.1L179.5 581.0L181.0 579.8L182.5 578.6L184.0 577.3L185.5 576.0L187.0 574.6L188.5 573.1L190.0 571.5L191.5 570.2L192.0 569.9L193.0 569.5L230.0 573.8L270.0 578.5L310.0 583.2L350.0 587.9L390.0 592.6L430.0 597.3L470.0 601.7L514.0 601.7L514.0 601.7L58.0 601.7Z"/>
<path fill="#330080" d="M58.0 601.5L62.0 601.5L66.0 601.5L70.0 601.5L74.0 601.5L78.0 601.5L82.0 601.5L86.0 601.4L90.0 601.4L94.0 601.3L98.0 601.3L102.0 601.2L106.0 601.0L110.0 600.7L114.0 600.3L118.0 599.9L122.0 599.5L126.0 599.0L130.0 598.5L134.0 598.0L138.0 597.4L142.0 596.8L146.0 596.1L150.0 595.3L154.0 594.4L158.0 593.3L162.0 592.2L166.0 590.5L170.0 588.3L172.0 587.0L173.5 586.0L175.0 584.9L176.5 583.8L178.0 582.8L179.5 581.7L181.0 580.6L182.5 579.4L184.0 578.1L185.5 576.8L187.0 575.5L188.5 574.0L190.0 572.4L191.5 571.2L192.0 570.9L193.0 570.5L230.0 574.9L270.0 579.6L310.0 584.3L350.0 589.0L390.0 593.7L430.0 598.4L470.0 601.7L514.0 601.7L514.0 601.7L58.0 601.7Z"/>
<path fill="#330080" d="M58.0 601.5L62.0 601.5L66.0 601.5L70.0 601.5L74.0 601.5L78.0 601.5L82.0 601.5L86.0 601.4L90.0 601.4L94.0 601.3L98.0 601.3L102.0 601.2L106.0 601.0L110.0 600.7L114.0 600.4L118.0 600.0L122.0 599.6L126.0 599.1L130.0 598.7L134.0 598.2L138.0 597.6L142.0 597.0L146.0 596.3L150.0 595.5L154.0 594.7L158.0 593.7L162.0 592.6L166.0 591.0L170.0 588.8L172.0 587.5L173.5 586.5L175.0 585.5L176.5 584.5L178.0 583.5L179.5 582.4L181.0 581.3L182.5 580.2L184.0 578.9L185.5 577.7L187.0 576.3L188.5 575.0L190.0 573.4L191.5 572.2L192.0 571.9L193.0 571.5L230.0 575.9L270.0 580.6L310.0 585.3L350.0 590.1L390.0 594.8L430.0 599.5L470.0 601.7L514.0 601.7L514.0 601.7L58.0 601.7Z"/>
<path fill="#330080" d="M58.0 601.5L62.0 601.5L66.0 601.5L70.0 601.5L74.0 601.5L78.0 601.5L82.0 601.5L86.0 601.4L90.0 601.4L94.0 601.3L98.0 601.3L102.0 601.2L106.0 601.0L110.0 600.8L114.0 600.4L118.0 600.1L122.0 599.7L126.0 599.2L130.0 598.8L134.0 598.3L138.0 597.8L142.0 597.2L146.0 596.6L150.0 595.8L154.0 595.0L158.0 594.0L162.0 593.0L166.0 591.4L170.0 589.3L172.0 588.1L173.5 587.1L175.0 586.1L176.5 585.1L178.0 584.1L179.5 583.1L181.0 582.1L182.5 580.9L184.0 579.8L185.5 578.5L187.0 577.2L188.5 575.9L190.0 574.3L191.5 573.1L192.0 572.9L193.0 572.5L230.0 576.9L270.0 581.6L310.0 586.4L350.0 591.1L390.0 595.9L430.0 600.6L470.0 601.7L514.0 601.7L514.0 601.7L58.0 601.7Z"/>
<path fill="#340080" d="M58.0 601.5L62.0 601.5L66.0 601.5L70.0 601.5L74.0 601.5L78.0 601.5L82.0 601.5L86.0 601.4L90.0 601.4L94.0 601.3L98.0 601.3L102.0 601.2L106.0 601.1L110.0 600.8L114.0 600.5L118.0 600.1L122.0 599.7L126.0 599.3L130.0 598.9L134.0 598.5L138.0 598.0L142.0 597.4L146.0 596.8L150.0 596.1L154.0 595.3L158.0 594.4L162.0 593.3L166.0 591.9L170.0 589.8L172.0 588.6L173.5 587.7L175.0 586.8L176.5 585.8L178.0 584.8L179.5 583.8L181.0 582.8L182.5 581.7L184.0 580.6L185.5 579.3L187.0 578.1L188.5 576.8L190.0 575.3L191.5 574.1L192.0 573.9L193.0 573.5L230.0 577.9L270.0 582.7L310.0 587.4L350.0 592.2L390.0 597.0L430.0 601.7L470.0 601.7L514.0 601.7L514.0 601.7L58.0 601.7Z"/>
<path fill="#340080" d="M58.0 601.5L62.0 601.5L66.0 601.5L70.0 601.5L74.0 601.5L78.0 601.5L82.0 601.5L86.0 601.4L90.0 601.4L94.0 601.4L98.0 601.3L102.0 601.2L106.0 601.1L110.0 600.8L114.0 600.5L118.0 600.2L122.0 599.8L126.0 599.5L130.0 599.1L134.0 598.6L138.0 598.1L142.0 597.6L146.0 597.0L150.0 596.3L154.0 595.6L158.0 594.7L162.0 593.7L166.0 592.3L170.0 590.3L172.0 589.2L173.5 588.3L175.0 587.4L176.5 586.4L178.0 585.5L179.5 584.5L181.0 583.5L182.5 582.5L184.0 581.4L185.5 580.2L187.0 579.0L188.5 577.7L190.0 576.3L191.5 575.1L192.0 574.9L193.0 574.5L230.0 578.9L270.0 583.7L310.0 588.5L350.0 593.3L390.0 598.1L430.0 601.7L470.0 601.7L514.0 601.7L514.0 601.7L58.0 601.7Z"/>
<path fill="#340080" d="M58.0 601.5L62.0 601.5L66.0 601.5L70.0 601.5L74.0 601.5L78.0 601.5L82.0 601.5L86.0 601.4L90.0 601.4L94.0 601.4L98.0 601.3L102.0 601.3L106.0 601.1L110.0 600.9L114.0 600.6L118.0 600.3L122.0 599.9L126.0 599.6L130.0 599.2L134.0 598.8L138.0 598.3L142.0 597.8L146.0 597.2L150.0 596.6L154.0 595.8L158.0 595.0L162.0 594.1L166.0 592.7L170.0 590.8L172.0 589.7L173.5 588.9L175.0 588.0L176.5 587.1L178.0 586.1L179.5 585.2L181.0 584.3L182.5 583.2L184.0 582.2L185.5 581.0L187.0 579.8L188.5 578.6L190.0 577.2L191.5 576.1L192.0 575.8L193.0 575.5L230.0 579.9L270.0 584.7L310.0 589.5L350.0 594.3L390.0 599.1L430.0 601.7L470.0 601.7L514.0 601.7L514.0 601.7L58.0 601.7Z"/>
<path fill="#340080" d="M58.0 601.5L62.0 601.5L66.0 601.5L70.0 601.5L74.0 601.5L78.0 601.5L82.0 601.5L86.0 601.4L90.0 601.4L94.0 601.4L98.0 601.3L102.0 601.3L106.0 601.1L110.0 600.9L114.0 600.7L118.0 600.3L122.0 600.0L126.0 599.7L130.0 599.3L134.0 598.9L138.0 598.5L142.0 598.0L146.0 597.4L150.0 596.8L154.0 596.1L158.0 595.3L162.0 594.4L166.0 593.1L170.0 591.3L172.0 590.2L173.5 589.4L175.0 588.6L176.5 587.7L178.0 586.8L179.5 585.9L181.0 585.0L182.5 584.0L184.0 582.9L185.5 581.8L187.0 580.7L188.5 579.5L190.0 578.2L191.5 577.1L192.0 576.8L193.0 576.5L230.0 580.9L270.0 585.7L310.0 590.4L350.0 595.2L390.0 600.0L430.0 601.7L470.0 601.7L514.0 601.7L514.0 601.7L58.0 601.7Z"/>
<path fill="#340080" d="M58.0 601.5L62.0 601.5L66.0 601.5L70.0 601.5L74.0 601.5L78.0 601.5L82.0 601.5L86.0 601.4L90.0 601.4L94.0 601.4L98.0 601.3L102.0 601.3L106.0 601.2L110.0 601.0L114.0 600.7L118.0 600.4L122.0 600.1L126.0 599.8L130.0 599.4L134.0 599.1L138.0 598.6L142.0 598.2L146.0 597.7L150.0 597.1L154.0 596.4L158.0 595.6L162.0 594.8L166.0 593.5L170.0 591.8L172.0 590.8L173.5 590.0L175.0 589.1L176.5 588.3L178.0 587.5L179.5 586.6L181.0 585.7L182.5 584.8L184.0 583.7L185.5 582.7L187.0 581.6L188.5 580.4L190.0 579.1L191.5 578.1L192.0 577.8L193.0 577.5L230.0 581.9L270.0 586.6L310.0 591.4L350.0 596.1L390.0 600.9L430.0 601.7L470.0 601.7L514.0 601.7L514.0 601.7L58.0 601.7Z"/>
<path fill="#340080" d="M58.0 601.5L62.0 601.5L66.0 601.5L70.0 601.5L74.0 601.5L78.0 601.5L82.0 601.5L86.0 601.5L90.0 601.4L94.0 601.4L98.0 601.3L102.0 601.3L106.0 601.2L110.0 601.0L114.0 600.7L118.0 600.5L122.0 600.2L126.0 599.9L130.0 599.6L134.0 599.2L138.0 598.8L142.0 598.4L146.0 597.9L150.0 597.3L154.0 596.7L158.0 595.9L162.0 595.1L166.0 593.9L170.0 592.3L172.0 591.3L173.5 590.5L175.0 589.7L176.5 588.9L178.0 588.1L179.5 587.3L181.0 586.4L182.5 585.5L184.0 584.5L185.5 583.5L187.0 582.4L188.5 581.3L190.0 580.0L191.5 579.0L192.0 578.8L193.0 578.5L230.0 582.9L270.0 587.6L310.0 592.3L350.0 597.0L390.0 601.7L430.0 601.7L470.0 601.7L514.0 601.7L514.0 601.7L58.0 601.7Z"/>
<path fill="#340080" d="M58.0 601.5L62.0 601.5L66.0 601.5L70.0 601.5L74.0 601.5L78.0 601.5L82.0 601.5L86.0 601.5L90.0 601.4L94.0 601.4L98.0 601.4L102.0 601.3L106.0 601.2L110.0 601.0L114.0 600.8L118.0 600.5L122.0 600.3L126.0 600.0L130.0 599.7L134.0 599.3L138.0 599.0L142.0 598.5L146.0 598.1L150.0 597.5L154.0 596.9L158.0 596.2L162.0 595.5L166.0 594.3L170.0 592.7L172.0 591.8L173.5 591.1L175.0 590.3L176.5 589.5L178.0 588.8L179.5 588.0L181.0 587.1L182.5 586.3L184.0 585.3L185.5 584.3L187.0 583.3L188.5 582.2L190.0 581.0L191.5 580.0L192.0 579.8L193.0 579.5L230.0 583.8L270.0 588.5L310.0 593.2L350.0 597.9L390.0 601.7L430.0 601.7L470.0 601.7L514.0 601.7L514.0 601.7L58.0 601.7Z"/>
<path fill="#340080" d="M58.0 601.5L62.0 601.5L66.0 601.5L70.0 601.5L74.0 601.5L78.0 601.5L82.0 601.5L86.0 601.5L90.0 601.4L94.0 601.4L98.0 601.4L102.0 601.3L106.0 601.2L110.0 601.0L114.0 600.8L118.0 600.6L122.0 600.3L126.0 600.1L130.0 599.8L134.0 599.5L138.0 599.1L142.0 598.7L146.0 598.3L150.0 597.8L154.0 597.2L158.0 596.5L162.0 595.8L166.0 594.7L170.0 593.2L172.0 592.3L173.5 591.6L175.0 590.9L176.5 590.1L178.0 589.4L179.5 588.6L181.0 587.9L182.5 587.0L184.0 586.1L185.5 585.1L187.0 584.1L188.5 583.1L190.0 581.9L191.5 581.0L192.0 580.8L193.0 580.5L230.0 584.8L270.0 589.5L310.0 594.2L350.0 598.8L390.0 601.7L430.0 601.7L470.0 601.7L514.0 601.7L514.0 601.7L58.0 601.7Z"/>
<path fill="#340080" d="M58.0 601.5L62.0 601.5L66.0 601.5L70.0 601.5L74.0 601.5L78.0 601.5L82.0 601.5L86.0 601.5L90.0 601.4L94.0 601.4L98.0 601.4L102.0 601.3L106.0 601.2L110.0 601.1L114.0 600.9L118.0 600.7L122.0 600.4L126.0 600.2L130.0 599.9L134.0 599.6L138.0 599.3L142.0 598.9L146.0 598.5L150.0 598.0L154.0 597.4L158.0 596.8L162.0 596.1L166.0 595.1L170.0 593.6L172.0 592.8L173.5 592.1L175.0 591.4L176.5 590.7L178.0 590.0L179.5 589.3L181.0 588.6L182.5 587.7L184.0 586.9L185.5 585.9L187.0 585.0L188.5 584.0L190.0 582.9L191.5 582.0L192.0 581.8L193.0 581.5L230.0 585.8L270.0 590.5L310.0 595.1L350.0 599.8L390.0 601.7L430.0 601.7L470.0 601.7L514.0 601.7L514.0 601.7L58.0 601.7Z"/>
<path fill="#340080" d="M58.0 601.5L62.0 601.5L66.0 601.5L70.0 601.5L74.0 601.5L78.0 601.5L82.0 601.5L86.0 601.5L90.0 601.4L94.0 601.4L98.0 601.4L102.0 601.3L106.0 601.3L110.0 601.1L114.0 600.9L118.0 600.7L122.0 600.5L126.0 600.2L130.0 600.0L134.0 599.7L138.0 599.4L142.0 599.1L146.0 598.7L150.0 598.2L154.0 597.7L158.0 597.1L162.0 596.5L166.0 595.5L170.0 594.1L172.0 593.3L173.5 592.7L175.0 592.0L176.5 591.3L178.0 590.6L179.5 590.0L181.0 589.2L182.5 588.5L184.0 587.6L185.5 586.7L187.0 585.8L188.5 584.9L190.0 583.8L191.5 583.0L192.0 582.8L193.0 582.5L230.0 586.8L270.0 591.4L310.0 596.0L350.0 600.7L390.0 601.7L430.0 601.7L470.0 601.7L514.0 601.7L514.0 601.7L58.0 601.7Z"/>
<path fill="#340080" d="M58.0 601.5L62.0 601.5L66.0 601.5L70.0 601.5L74.0 601.5L78.0 601.5L82.0 601.5L86.0 601.5L90.0 601.4L94.0 601.4L98.0 601.4L102.0 601.4L106.0 601.3L110.0 601.1L114.0 601.0L118.0 600.8L122.0 600.6L126.0 600.3L130.0 600.1L134.0 599.8L138.0 599.6L142.0 599.2L146.0 598.9L150.0 598.4L154.0 597.9L158.0 597.4L162.0 596.8L166.0 595.9L170.0 594.5L172.0 593.8L173.5 593.2L175.0 592.6L176.5 591.9L178.0 591.3L179.5 590.6L181.0 589.9L182.5 589.2L184.0 588.4L185.5 587.6L187.0 586.7L188.5 585.8L190.0 584.8L191.5 584.0L192.0 583.8L193.0 583.5L230.0 587.8L270.0 592.4L310.0 597.0L350.0 601.6L390.0 601.7L430.0 601.7L470.0 601.7L514.0 601.7L514.0 601.7L58.0 601.7Z"/>
<path fill="#350080" d="M58.0 601.5L62.0 601.5L66.0 601.5L70.0 601.5L74.0 601.5L78.0 601.5L82.0 601.5L86.0 601.5L90.0 601.5L94.0 601.4L98.0 601.4L102.0 601.4L106.0 601.3L110.0 601.2L114.0 601.0L118.0 600.8L122.0 600.6L126.0 600.4L130.0 600.2L134.0 600.0L138.0 599.7L142.0 599.4L146.0 599.0L150.0 598.6L154.0 598.2L158.0 597.7L162.0 597.1L166.0 596.2L170.0 595.0L172.0 594.3L173.5 593.7L175.0 593.1L176.5 592.5L178.0 591.9L179.5 591.3L181.0 590.6L182.5 589.9L184.0 589.2L185.5 588.4L187.0 587.5L188.5 586.7L190.0 585.7L191.5 584.9L192.0 584.8L193.0 584.5L230.0 588.7L270.0 593.3L310.0 597.9L350.0 601.7L390.0 601.7L430.0 601.7L470.0 601.7L514.0 601.7L514.0 601.7L58.0 601.7Z"/>
<path fill="#350080" d="M58.0 601.5L62.0 601.5L66.0 601.5L70.0 601.5L74.0 601.5L78.0 601.5L82.0 601.5L86.0 601.5L90.0 601.5L94.0 601.4L98.0 601.4L102.0 601.4L106.0 601.3L110.0 601.2L114.0 601.0L118.0 600.9L122.0 600.7L126.0 600.5L130.0 600.3L134.0 600.1L138.0 599.8L142.0 599.5L146.0 599.2L150.0 598.8L154.0 598.4L158.0 597.9L162.0 597.4L166.0 596.6L170.0 595.4L172.0 594.7L173.5 594.2L175.0 593.6L176.5 593.1L178.0 592.5L179.5 591.9L181.0 591.3L182.5 590.6L184.0 589.9L185.5 589.2L187.0 588.4L188.5 587.6L190.0 586.6L191.5 585.9L192.0 585.7L193.0 585.5L230.0 589.7L270.0 594.3L310.0 598.8L350.0 601.7L390.0 601.7L430.0 601.7L470.0 601.7L514.0 601.7L514.0 601.7L58.0 601.7Z"/>
<path fill="#350080" d="M58.0 601.5L62.0 601.5L66.0 601.5L70.0 601.5L74.0 601.5L78.0 601.5L82.0 601.5L86.0 601.5L90.0 601.5L94.0 601.4L98.0 601.4L102.0 601.4L106.0 601.3L110.0 601.2L114.0 601.1L118.0 600.9L122.0 600.8L126.0 600.6L130.0 600.4L134.0 600.2L138.0 600.0L142.0 599.7L146.0 599.4L150.0 599.0L154.0 598.7L158.0 598.2L162.0 597.7L166.0 596.9L170.0 595.8L172.0 595.2L173.5 594.7L175.0 594.2L176.5 593.6L178.0 593.1L179.5 592.6L181.0 592.0L182.5 591.3L184.0 590.7L185.5 589.9L187.0 589.2L188.5 588.4L190.0 587.6L191.5 586.9L192.0 586.7L193.0 586.5L230.0 590.7L270.0 595.2L310.0 599.8L350.0 601.7L390.0 601.7L430.0 601.7L470.0 601.7L514.0 601.7L514.0 601.7L58.0 601.7Z"/>
<path fill="#350080" d="M58.0 601.5L62.0 601.5L66.0 601.5L70.0 601.5L74.0 601.5L78.0 601.5L82.0 601.5L86.0 601.5L90.0 601.5L94.0 601.4L98.0 601.4L102.0 601.4L106.0 601.3L110.0 601.2L114.0 601.1L118.0 601.0L122.0 600.8L126.0 600.7L130.0 600.5L134.0 600.3L138.0 600.1L142.0 599.8L146.0 599.6L150.0 599.2L154.0 598.9L158.0 598.5L162.0 598.0L166.0 597.3L170.0 596.3L172.0 595.7L173.5 595.2L175.0 594.7L176.5 594.2L178.0 593.7L179.5 593.2L181.0 592.6L182.5 592.1L184.0 591.4L185.5 590.7L187.0 590.0L188.5 589.3L190.0 588.5L191.5 587.9L192.0 587.7L193.0 587.5L230.0 591.7L270.0 596.2L310.0 600.7L350.0 601.7L390.0 601.7L430.0 601.7L470.0 601.7L514.0 601.7L514.0 601.7L58.0 601.7Z"/>
<path fill="#350080" d="M58.0 601.5L62.0 601.5L66.0 601.5L70.0 601.5L74.0 601.5L78.0 601.5L82.0 601.5L86.0 601.5L90.0 601.5L94.0 601.5L98.0 601.4L102.0 601.4L106.0 601.4L110.0 601.3L114.0 601.2L118.0 601.0L122.0 600.9L126.0 600.7L130.0 600.6L134.0 600.4L138.0 600.2L142.0 600.0L146.0 599.7L150.0 599.4L154.0 599.1L158.0 598.7L162.0 598.3L166.0 597.6L170.0 596.7L172.0 596.1L173.5 595.7L175.0 595.2L176.5 594.8L178.0 594.3L179.5 593.8L181.0 593.3L182.5 592.8L184.0 592.2L185.5 591.5L187.0 590.9L188.5 590.2L190.0 589.5L191.5 588.8L192.0 588.7L193.0 588.5L230.0 592.7L270.0 597.1L310.0 601.6L350.0 601.7L390.0 601.7L430.0 601.7L470.0 601.7L514.0 601.7L514.0 601.7L58.0 601.7Z"/>
<path fill="#350080" d="M58.0 601.5L62.0 601.5L66.0 601.5L70.0 601.5L74.0 601.5L78.0 601.5L82.0 601.5L86.0 601.5L90.0 601.5L94.0 601.5L98.0 601.4L102.0 601.4L106.0 601.4L110.0 601.3L114.0 601.2L118.0 601.1L122.0 600.9L126.0 600.8L130.0 600.7L134.0 600.5L138.0 600.3L142.0 600.1L146.0 599.9L150.0 599.6L154.0 599.3L158.0 599.0L162.0 598.6L166.0 598.0L170.0 597.1L172.0 596.6L173.5 596.2L175.0 595.7L176.5 595.3L178.0 594.9L179.5 594.4L181.0 594.0L182.5 593.5L184.0 592.9L185.5 592.3L187.0 591.7L188.5 591.1L190.0 590.4L191.5 589.8L192.0 589.7L193.0 589.5L230.0 593.6L270.0 598.1L310.0 601.7L350.0 601.7L390.0 601.7L430.0 601.7L470.0 601.7L514.0 601.7L514.0 601.7L58.0 601.7Z"/>
<path fill="#350080" d="M58.0 601.5L62.0 601.5L66.0 601.5L70.0 601.5L74.0 601.5L78.0 601.5L82.0 601.5L86.0 601.5L90.0 601.5L94.0 601.5L98.0 601.4L102.0 601.4L106.0 601.4L110.0 601.3L114.0 601.2L118.0 601.1L122.0 601.0L126.0 600.9L130.0 600.8L134.0 600.6L138.0 600.4L142.0 600.3L146.0 600.0L150.0 599.8L154.0 599.5L158.0 599.2L162.0 598.8L166.0 598.3L170.0 597.5L172.0 597.0L173.5 596.6L175.0 596.3L176.5 595.9L178.0 595.5L179.5 595.1L181.0 594.6L182.5 594.2L184.0 593.6L185.5 593.1L187.0 592.5L188.5 592.0L190.0 591.3L191.5 590.8L192.0 590.7L193.0 590.5L230.0 594.6L270.0 599.1L310.0 601.7L350.0 601.7L390.0 601.7L430.0 601.7L470.0 601.7L514.0 601.7L514.0 601.7L58.0 601.7Z"/>
<path fill="#350080" d="M58.0 601.5L62.0 601.5L66.0 601.5L70.0 601.5L74.0 601.5L78.0 601.5L82.0 601.5L86.0 601.5L90.0 601.5L94.0 601.5L98.0 601.5L102.0 601.4L106.0 601.4L110.0 601.3L114.0 601.3L118.0 601.2L122.0 601.1L126.0 600.9L130.0 600.8L134.0 600.7L138.0 600.6L142.0 600.4L146.0 600.2L150.0 600.0L154.0 599.7L158.0 599.4L162.0 599.1L166.0 598.6L170.0 597.9L172.0 597.5L173.5 597.1L175.0 596.8L176.5 596.4L178.0 596.0L179.5 595.7L181.0 595.3L182.5 594.8L184.0 594.4L185.5 593.9L187.0 593.4L188.5 592.8L190.0 592.3L191.5 591.8L192.0 591.7L193.0 591.5L230.0 595.6L270.0 600.0L310.0 601.7L350.0 601.7L390.0 601.7L430.0 601.7L470.0 601.7L514.0 601.7L514.0 601.7L58.0 601.7Z"/>
<path fill="#350080" d="M58.0 601.5L62.0 601.5L66.0 601.5L70.0 601.5L74.0 601.5L78.0 601.5L82.0 601.5L86.0 601.5L90.0 601.5L94.0 601.5L98.0 601.5L102.0 601.4L106.0 601.4L110.0 601.4L114.0 601.3L118.0 601.2L122.0 601.1L126.0 601.0L130.0 600.9L134.0 600.8L138.0 600.7L142.0 600.5L146.0 600.3L150.0 600.2L154.0 599.9L158.0 599.7L162.0 599.4L166.0 598.9L170.0 598.3L172.0 597.9L173.5 597.6L175.0 597.3L176.5 596.9L178.0 596.6L179.5 596.3L181.0 595.9L182.5 595.5L184.0 595.1L185.5 594.7L187.0 594.2L188.5 593.7L190.0 593.2L191.5 592.7L192.0 592.6L193.0 592.5L230.0 596.6L270.0 601.0L310.0 601.7L350.0 601.7L390.0 601.7L430.0 601.7L470.0 601.7L514.0 601.7L514.0 601.7L58.0 601.7Z"/>
<path fill="#350080" d="M58.0 601.5L62.0 601.5L66.0 601.5L70.0 601.5L74.0 601.5L78.0 601.5L82.0 601.5L86.0 601.5L90.0 601.5L94.0 601.5L98.0 601.5L102.0 601.5L106.0 601.4L110.0 601.4L114.0 601.3L118.0 601.2L122.0 601.2L126.0 601.1L130.0 601.0L134.0 600.9L138.0 600.8L142.0 600.6L146.0 600.5L150.0 600.3L154.0 600.1L158.0 599.9L162.0 599.6L166.0 599.2L170.0 598.7L172.0 598.3L173.5 598.0L175.0 597.8L176.5 597.5L178.0 597.2L179.5 596.9L181.0 596.6L182.5 596.2L184.0 595.8L185.5 595.4L187.0 595.0L188.5 594.6L190.0 594.1L191.5 593.7L192.0 593.6L193.0 593.5L230.0 597.5L270.0 601.7L310.0 601.7L350.0 601.7L390.0 601.7L430.0 601.7L470.0 601.7L514.0 601.7L514.0 601.7L58.0 601.7Z"/>
<path fill="#350080" d="M58.0 601.5L62.0 601.5L66.0 601.5L70.0 601.5L74.0 601.5L78.0 601.5L82.0 601.5L86.0 601.5L90.0 601.5L94.0 601.5L98.0 601.5L102.0 601.5L106.0 601.4L110.0 601.4L114.0 601.3L118.0 601.3L122.0 601.2L126.0 601.1L130.0 601.1L134.0 601.0L138.0 600.9L142.0 600.8L146.0 600.6L150.0 600.5L154.0 600.3L158.0 600.1L162.0 599.9L166.0 599.5L170.0 599.0L172.0 598.7L173.5 598.5L175.0 598.2L176.5 598.0L178.0 597.7L179.5 597.5L181.0 597.2L182.5 596.9L184.0 596.6L185.5 596.2L187.0 595.8L188.5 595.5L190.0 595.0L191.5 594.7L192.0 594.6L193.0 594.5L230.0 598.5L270.0 601.7L310.0 601.7L350.0 601.7L390.0 601.7L430.0 601.7L470.0 601.7L514.0 601.7L514.0 601.7L58.0 601.7Z"/>
<path fill="#350080" d="M58.0 601.5L62.0 601.5L66.0 601.5L70.0 601.5L74.0 601.5L78.0 601.5L82.0 601.5L86.0 601.5L90.0 601.5L94.0 601.5L98.0 601.5L102.0 601.5L106.0 601.4L110.0 601.4L114.0 601.4L118.0 601.3L122.0 601.3L126.0 601.2L130.0 601.1L134.0 601.1L138.0 601.0L142.0 600.9L146.0 600.8L150.0 600.6L154.0 600.5L158.0 600.3L162.0 600.1L166.0 599.8L170.0 599.4L172.0 599.1L173.5 598.9L175.0 598.7L176.5 598.5L178.0 598.3L179.5 598.1L181.0 597.8L182.5 597.6L184.0 597.3L185.5 597.0L187.0 596.7L188.5 596.3L190.0 596.0L191.5 595.7L192.0 595.6L193.0 595.5L230.0 599.5L270.0 601.7L310.0 601.7L350.0 601.7L390.0 601.7L430.0 601.7L470.0 601.7L514.0 601.7L514.0 601.7L58.0 601.7Z"/>
<path fill="#350080" d="M58.0 601.5L62.0 601.5L66.0 601.5L70.0 601.5L74.0 601.5L78.0 601.5L82.0 601.5L86.0 601.5L90.0 601.5L94.0 601.5L98.0 601.5L102.0 601.5L106.0 601.5L110.0 601.4L114.0 601.4L118.0 601.3L122.0 601.3L126.0 601.3L130.0 601.2L134.0 601.1L138.0 601.1L142.0 601.0L146.0 600.9L150.0 600.8L154.0 600.7L158.0 600.5L162.0 600.4L166.0 600.1L170.0 599.8L172.0 599.6L173.5 599.4L175.0 599.2L176.5 599.0L178.0 598.8L179.5 598.7L181.0 598.5L182.5 598.2L184.0 598.0L185.5 597.7L187.0 597.5L188.5 597.2L190.0 596.9L191.5 596.6L192.0 596.6L193.0 596.5L230.0 600.5L270.0 601.7L310.0 601.7L350.0 601.7L390.0 601.7L430.0 601.7L470.0 601.7L514.0 601.7L514.0 601.7L58.0 601.7Z"/>
<path fill="#350080" d="M58.0 601.5L62.0 601.5L66.0 601.5L70.0 601.5L74.0 601.5L78.0 601.5L82.0 601.5L86.0 601.5L90.0 601.5L94.0 601.5L98.0 601.5L102.0 601.5L106.0 601.5L110.0 601.4L114.0 601.4L118.0 601.4L122.0 601.3L126.0 601.3L130.0 601.3L134.0 601.2L138.0 601.2L142.0 601.1L146.0 601.0L150.0 600.9L154.0 600.9L158.0 600.7L162.0 600.6L166.0 600.4L170.0 600.1L172.0 600.0L173.5 599.8L175.0 599.7L176.5 599.5L178.0 599.4L179.5 599.2L181.0 599.1L182.5 598.9L184.0 598.7L185.5 598.5L187.0 598.3L188.5 598.1L190.0 597.8L191.5 597.6L192.0 597.6L193.0 597.5L230.0 601.5L270.0 601.7L310.0 601.7L350.0 601.7L390.0 601.7L430.0 601.7L470.0 601.7L514.0 601.7L514.0 601.7L58.0 601.7Z"/>
<path fill="#350080" d="M58.0 601.5L62.0 601.5L66.0 601.5L70.0 601.5L74.0 601.5L78.0 601.5L82.0 601.5L86.0 601.5L90.0 601.5L94.0 601.5L98.0 601.5L102.0 601.5L106.0 601.5L110.0 601.5L114.0 601.4L118.0 601.4L122.0 601.4L126.0 601.4L130.0 601.3L134.0 601.3L138.0 601.3L142.0 601.2L146.0 601.2L150.0 601.1L154.0 601.0L158.0 600.9L162.0 600.8L166.0 600.7L170.0 600.5L172.0 600.4L173.5 600.2L175.0 600.1L176.5 600.0L178.0 599.9L179.5 599.8L181.0 599.7L182.5 599.5L184.0 599.4L185.5 599.2L187.0 599.1L188.5 598.9L190.0 598.7L191.5 598.6L192.0 598.6L193.0 598.5L230.0 601.7L270.0 601.7L310.0 601.7L350.0 601.7L390.0 601.7L430.0 601.7L470.0 601.7L514.0 601.7L514.0 601.7L58.0 601.7Z"/>
<path fill="#350080" d="M58.0 601.5L62.0 601.5L66.0 601.5L70.0 601.5L74.0 601.5L78.0 601.5L82.0 601.5L86.0 601.5L90.0 601.5L94.0 601.5L98.0 601.5L102.0 601.5L106.0 601.5L110.0 601.5L114.0 601.5L118.0 601.4L122.0 601.4L126.0 601.4L130.0 601.4L134.0 601.4L138.0 601.3L142.0 601.3L146.0 601.3L150.0 601.2L154.0 601.2L158.0 601.1L162.0 601.1L166.0 601.0L170.0 600.8L172.0 600.7L173.5 600.7L175.0 600.6L176.5 600.5L178.0 600.5L179.5 600.4L181.0 600.3L182.5 600.2L184.0 600.1L185.5 600.0L187.0 599.9L188.5 599.8L190.0 599.7L191.5 599.6L192.0 599.5L193.0 599.5L230.0 601.7L270.0 601.7L310.0 601.7L350.0 601.7L390.0 601.7L430.0 601.7L470.0 601.7L514.0 601.7L514.0 601.7L58.0 601.7Z"/>
<path fill="#350080" d="M58.0 601.5L62.0 601.5L66.0 601.5L70.0 601.5L74.0 601.5L78.0 601.5L82.0 601.5L86.0 601.5L90.0 601.5L94.0 601.5L98.0 601.5L102.0 601.5L106.0 601.5L110.0 601.5L114.0 601.5L118.0 601.5L122.0 601.5L126.0 601.5L130.0 601.4L134.0 601.4L138.0 601.4L142.0 601.4L146.0 601.4L150.0 601.4L154.0 601.3L158.0 601.3L162.0 601.3L166.0 601.2L170.0 601.2L172.0 601.1L173.5 601.1L175.0 601.1L176.5 601.0L178.0 601.0L179.5 600.9L181.0 600.9L182.5 600.9L184.0 600.8L185.5 600.8L187.0 600.7L188.5 600.6L190.0 600.6L191.5 600.5L192.0 600.5L193.0 600.5L230.0 601.7L270.0 601.7L310.0 601.7L350.0 601.7L390.0 601.7L430.0 601.7L470.0 601.7L514.0 601.7L514.0 601.7L58.0 601.7Z"/>
<rect x="61.5" y="601.6" width="451.0" height="2.1" fill="#ddd5f3"/>
<path d="M177.0 596.1C177.5 595.3 179.0 593.2 180.0 591.4C181.0 589.5 182.1 587.0 183.0 585.0C183.9 582.9 184.7 580.9 185.5 579.0C186.3 577.1 187.2 575.0 188.0 573.5C188.8 571.9 189.7 570.4 190.5 569.5C191.3 568.6 192.2 568.3 193.0 568.1C193.8 567.9 187.5 567.8 195.0 568.3C202.5 568.8 220.5 569.6 238.0 571.0C255.5 572.4 279.7 574.8 300.0 576.5C320.3 578.2 350.0 580.6 360.0 581.5" stroke="url(#fadeB)" stroke-width="1.40" fill="none" opacity="0.65"/><path d="M177.0 596.7C177.5 596.0 179.0 594.1 180.0 592.4C181.0 590.8 182.1 588.5 183.0 586.7C183.9 584.8 184.7 583.0 185.5 581.3C186.3 579.6 187.2 577.7 188.0 576.3C188.8 574.9 189.7 573.6 190.5 572.8C191.3 572.0 192.2 571.7 193.0 571.5C193.8 571.3 187.5 571.2 195.0 571.7C202.5 572.2 220.5 573.0 238.0 574.4C255.5 575.8 279.7 578.1 300.0 579.8C320.3 581.5 350.0 583.8 360.0 584.7" stroke="url(#fadeB)" stroke-width="1.60" fill="none" opacity="0.75"/><path d="M177.0 597.4C177.5 596.8 179.0 595.1 180.0 593.7C181.0 592.3 182.1 590.3 183.0 588.7C183.9 587.1 184.7 585.6 185.5 584.1C186.3 582.6 187.2 581.0 188.0 579.8C188.8 578.5 189.7 577.4 190.5 576.7C191.3 576.0 192.2 575.8 193.0 575.6C193.8 575.4 187.5 575.3 195.0 575.8C202.5 576.3 220.5 577.2 238.0 578.5C255.5 579.8 279.7 581.9 300.0 583.5C320.3 585.1 350.0 587.2 360.0 588.0" stroke="url(#fadeB)" stroke-width="1.80" fill="none" opacity="0.85"/><path d="M177.0 597.9C177.5 597.4 179.0 596.0 180.0 594.7C181.0 593.5 182.1 591.8 183.0 590.4C183.9 589.0 184.7 587.7 185.5 586.4C186.3 585.1 187.2 583.7 188.0 582.6C188.8 581.6 189.7 580.6 190.5 580.0C191.3 579.4 192.2 579.1 193.0 579.0C193.8 578.9 187.5 578.7 195.0 579.2C202.5 579.7 220.5 580.6 238.0 581.9C255.5 583.2 279.7 585.2 300.0 586.8C320.3 588.4 350.0 590.5 360.0 591.2" stroke="url(#fadeB)" stroke-width="2.00" fill="none" opacity="0.95"/><path d="M177.0 598.6C177.5 598.2 179.0 597.0 180.0 596.0C181.0 595.0 182.1 593.6 183.0 592.5C183.9 591.3 184.7 590.2 185.5 589.1C186.3 588.1 187.2 587.0 188.0 586.1C188.8 585.2 189.7 584.4 190.5 583.9C191.3 583.4 192.2 583.2 193.0 583.1C193.8 583.0 187.5 582.7 195.0 583.3C202.5 583.9 220.5 585.3 238.0 586.5C255.5 587.7 279.7 589.3 300.0 590.6C320.3 591.9 350.0 593.7 360.0 594.3" stroke="url(#fadeB)" stroke-width="2.20" fill="none" opacity="1.00"/><path d="M177.0 599.5C177.5 599.2 179.0 598.4 180.0 597.6C181.0 596.9 182.1 595.9 183.0 595.1C183.9 594.2 184.7 593.4 185.5 592.7C186.3 591.9 187.2 591.1 188.0 590.5C188.8 589.8 189.7 589.2 190.5 588.9C191.3 588.5 192.2 588.4 193.0 588.3C193.8 588.2 187.5 588.0 195.0 588.5C202.5 589.0 220.5 590.2 238.0 591.2C255.5 592.2 279.7 593.7 300.0 594.8C320.3 595.9 350.0 597.5 360.0 598.0" stroke="url(#fadeB)" stroke-width="2.50" fill="none" opacity="1.00"/><path d="M177.0 600.4C177.5 600.2 179.0 599.6 180.0 599.2C181.0 598.7 182.1 598.1 183.0 597.6C183.9 597.0 184.7 596.5 185.5 596.0C186.3 595.6 187.2 595.1 188.0 594.7C188.8 594.3 189.7 593.9 190.5 593.7C191.3 593.4 192.2 593.3 193.0 593.3C193.8 593.3 187.5 593.0 195.0 593.5C202.5 594.0 220.5 595.1 238.0 596.0C255.5 596.9 279.7 597.8 300.0 598.6C320.3 599.4 350.0 600.6 360.0 600.9" stroke="url(#fadeB)" stroke-width="3.00" fill="none" opacity="1.00"/><path d="M177.0 601.0C177.5 600.9 179.0 600.6 180.0 600.4C181.0 600.1 182.1 599.8 183.0 599.5C183.9 599.2 184.7 598.9 185.5 598.7C186.3 598.4 187.2 598.1 188.0 597.9C188.8 597.7 189.7 597.5 190.5 597.4C191.3 597.3 192.2 597.2 193.0 597.2C193.8 597.2 187.5 597.1 195.0 597.4C202.5 597.8 220.5 598.7 238.0 599.3C255.5 599.9 279.7 600.4 300.0 600.8C320.3 601.2 350.0 601.4 360.0 601.5" stroke="url(#fadeB)" stroke-width="4.20" fill="none" opacity="1.00"/>
<path d="M190.5 407.0C190.8 406.9 189.2 409.0 192.5 406.2C195.8 403.4 205.0 395.0 210.0 390.0C215.0 385.0 218.3 381.1 222.5 376.3C226.7 371.5 230.8 366.1 235.0 361.3C239.2 356.5 243.3 351.9 247.5 347.5C251.7 343.1 255.8 338.5 260.0 335.0C264.2 331.5 268.3 328.5 272.5 326.3C276.7 324.1 281.8 322.8 285.0 322.0C288.2 321.2 289.8 321.3 292.0 321.3C294.2 321.3 295.3 321.0 298.5 321.9C301.7 322.8 306.6 324.4 311.0 326.6C315.4 328.8 320.6 332.1 325.0 335.0C329.4 337.9 333.3 341.0 337.5 343.7C341.7 346.4 345.8 348.9 350.0 351.0C354.2 353.1 358.3 354.6 362.5 356.3C366.7 358.0 370.8 359.6 375.0 361.0C379.2 362.4 383.3 363.5 387.5 364.8C391.7 366.1 394.6 367.2 400.0 369.0C405.4 370.8 412.5 373.5 420.0 375.5C427.5 377.5 436.7 379.3 445.0 381.0C453.3 382.7 462.2 384.6 470.0 385.9C477.8 387.2 484.7 388.1 492.0 389.0C499.3 389.9 510.3 391.2 514.0 391.6" stroke="#ec4a10" stroke-width="2.9" fill="none"/><path d="M190.5 407.0C190.8 406.9 189.2 408.0 192.5 406.2C195.8 404.4 202.9 400.2 210.0 396.3C217.1 392.4 226.7 386.7 235.0 382.5C243.3 378.3 251.7 374.3 260.0 371.3C268.3 368.3 278.3 365.9 285.0 364.5C291.7 363.1 295.4 363.3 300.0 363.0C304.6 362.7 308.3 362.5 312.5 362.6C316.7 362.7 318.8 362.9 325.0 363.7C331.2 364.5 341.7 366.2 350.0 367.5C358.3 368.8 366.7 370.0 375.0 371.3C383.3 372.6 392.5 374.1 400.0 375.5C407.5 376.9 412.5 378.2 420.0 379.6C427.5 381.1 436.7 382.8 445.0 384.2C453.3 385.6 462.2 386.9 470.0 388.0C477.8 389.1 484.7 389.8 492.0 390.6C499.3 391.4 510.3 392.4 514.0 392.8" stroke="#ec4a10" stroke-width="2.9" fill="none"/><path d="M190.5 407.0C190.8 406.9 189.2 407.2 192.5 406.3C195.8 405.4 202.9 403.8 210.0 401.8C217.1 399.9 226.7 396.3 235.0 394.6C243.3 392.9 251.7 392.2 260.0 391.4C268.3 390.6 275.0 390.0 285.0 389.6C295.0 389.2 309.2 388.8 320.0 388.8C330.8 388.8 336.7 389.3 350.0 389.8C363.3 390.3 388.3 391.4 400.0 392.0C411.7 392.6 408.3 392.4 420.0 393.5C431.7 394.6 454.3 397.4 470.0 398.6C485.7 399.9 506.7 400.6 514.0 401.0" stroke="#ec4a10" stroke-width="2.9" fill="none"/><path d="M190.5 407.0C190.8 406.9 189.2 407.2 192.5 406.5C195.8 405.8 202.9 404.2 210.0 403.0C217.1 401.8 226.7 400.1 235.0 399.2C243.3 398.3 249.2 398.0 260.0 397.6C270.8 397.2 288.3 396.9 300.0 396.8C311.7 396.7 317.5 396.7 330.0 396.9C342.5 397.1 360.0 397.5 375.0 398.2C390.0 398.9 404.2 400.2 420.0 401.2C435.8 402.2 454.3 403.4 470.0 404.2C485.7 405.0 506.7 405.5 514.0 405.8" stroke="#ec4a10" stroke-width="2.9" fill="none"/><path d="M190.5 407.0C190.8 406.9 188.4 407.1 192.5 406.4C196.6 405.7 205.4 403.8 215.0 402.9C224.6 402.0 237.5 401.6 250.0 401.3C262.5 401.0 276.7 400.9 290.0 400.9C303.3 400.9 315.0 401.0 330.0 401.3C345.0 401.6 365.0 402.1 380.0 402.5C395.0 402.9 405.0 403.4 420.0 404.0C435.0 404.6 454.3 405.3 470.0 405.8C485.7 406.3 506.7 406.8 514.0 407.0" stroke="#ec4a10" stroke-width="2.9" fill="none"/>
</g>
<path d="M185.6 9.6V305M193.1 9.6V305M185.6 308.6V604M193.1 308.6V604" stroke="#7c7c7c" stroke-width="2.3" stroke-dasharray="6 6.6" fill="none"/>
<path d="M303.6 7.3V305.9" stroke="#000" stroke-width="2.4"/><path d="M287.0 305.9V604.6" stroke="#000" stroke-width="2.4"/>
<path d="M445.2 36.3L416.5 54.5" stroke="#ee1010" stroke-width="2.6" fill="none"/><path d="M402.5 63.5L414.6 46.2L416.5 54.5L423.3 59.4Z" fill="#ee1010"/>
<path d="M433.0 337.5L404.5 355.8" stroke="#f04812" stroke-width="2.6" fill="none"/><path d="M390.5 363.8L402.5 347.5L404.5 355.8L411.3 361.0Z" fill="#f04812"/>
<path d="M61.5 4.3V608.1 M512.5 4.3V608.1 M61.5 7.3H512.5 M61.5 305.9H512.5 M61.5 604.6H512.5" stroke="#000" stroke-width="1.9" fill="none"/>
<path d="M54.5 299.20H61.5M512.5 299.20H519.5M57.9 276.75H61.5M512.5 276.75H516.1M54.5 254.30H61.5M512.5 254.30H519.5M57.9 231.85H61.5M512.5 231.85H516.1M54.5 209.40H61.5M512.5 209.40H519.5M57.9 186.95H61.5M512.5 186.95H516.1M54.5 164.50H61.5M512.5 164.50H519.5M57.9 142.05H61.5M512.5 142.05H516.1M54.5 119.60H61.5M512.5 119.60H519.5M57.9 97.15H61.5M512.5 97.15H516.1M54.5 74.70H61.5M512.5 74.70H519.5M57.9 52.25H61.5M512.5 52.25H516.1M54.5 29.80H61.5M512.5 29.80H519.5M57.9 7.35H61.5M512.5 7.35H516.1M54.5 597.32H61.5M512.5 597.32H519.5M57.9 574.01H61.5M512.5 574.01H516.1M54.5 550.70H61.5M512.5 550.70H519.5M57.9 527.39H61.5M512.5 527.39H516.1M54.5 504.08H61.5M512.5 504.08H519.5M57.9 480.77H61.5M512.5 480.77H516.1M54.5 457.46H61.5M512.5 457.46H519.5M57.9 434.15H61.5M512.5 434.15H516.1M54.5 410.84H61.5M512.5 410.84H519.5M57.9 387.53H61.5M512.5 387.53H516.1M54.5 364.22H61.5M512.5 364.22H519.5M57.9 340.91H61.5M512.5 340.91H516.1M54.5 317.60H61.5M512.5 317.60H519.5M62.00 7.3V3.7M80.75 7.3V0.3M99.50 7.3V3.7M118.25 7.3V0.3M137.00 7.3V3.7M155.75 7.3V0.3M174.50 7.3V3.7M193.25 7.3V0.3M212.00 7.3V3.7M230.75 7.3V0.3M249.50 7.3V3.7M268.25 7.3V0.3M287.00 7.3V3.7M305.75 7.3V0.3M324.50 7.3V3.7M343.25 7.3V0.3M362.00 7.3V3.7M380.75 7.3V0.3M399.50 7.3V3.7M418.25 7.3V0.3M437.00 7.3V3.7M455.75 7.3V0.3M474.50 7.3V3.7M493.25 7.3V0.3M512.00 7.3V3.7M62.00 305.9V309.5M80.75 305.9V312.9M99.50 305.9V309.5M118.25 305.9V312.9M137.00 305.9V309.5M155.75 305.9V312.9M174.50 305.9V309.5M193.25 305.9V312.9M212.00 305.9V309.5M230.75 305.9V312.9M249.50 305.9V309.5M268.25 305.9V312.9M287.00 305.9V309.5M305.75 305.9V312.9M324.50 305.9V309.5M343.25 305.9V312.9M362.00 305.9V309.5M380.75 305.9V312.9M399.50 305.9V309.5M418.25 305.9V312.9M437.00 305.9V309.5M455.75 305.9V312.9M474.50 305.9V309.5M493.25 305.9V312.9M512.00 305.9V309.5M62.00 604.6V608.2M80.75 604.6V611.6M99.50 604.6V608.2M118.25 604.6V611.6M137.00 604.6V608.2M155.75 604.6V611.6M174.50 604.6V608.2M193.25 604.6V611.6M212.00 604.6V608.2M230.75 604.6V611.6M249.50 604.6V608.2M268.25 604.6V611.6M287.00 604.6V608.2M305.75 604.6V611.6M324.50 604.6V608.2M343.25 604.6V611.6M362.00 604.6V608.2M380.75 604.6V611.6M399.50 604.6V608.2M418.25 604.6V611.6M437.00 604.6V608.2M455.75 604.6V611.6M474.50 604.6V608.2M493.25 604.6V611.6M512.00 604.6V608.2" stroke="#000" stroke-width="1.8" fill="none"/>
<g font-family="'Liberation Sans', Arial, sans-serif" font-size="15.6" fill="#000">
<text x="48.4" y="304.4" text-anchor="end">300</text><text x="48.4" y="259.5" text-anchor="end">400</text><text x="48.4" y="214.6" text-anchor="end">500</text><text x="48.4" y="169.7" text-anchor="end">600</text><text x="48.4" y="124.8" text-anchor="end">700</text><text x="48.4" y="79.9" text-anchor="end">800</text><text x="48.4" y="35.0" text-anchor="end">900</text><text x="48.4" y="602.5" text-anchor="end">300</text><text x="48.4" y="555.9" text-anchor="end">400</text><text x="48.4" y="509.3" text-anchor="end">500</text><text x="48.4" y="462.7" text-anchor="end">600</text><text x="48.4" y="416.0" text-anchor="end">700</text><text x="48.4" y="369.4" text-anchor="end">800</text><text x="48.4" y="322.8" text-anchor="end">900</text><text x="80.8" y="629.7" text-anchor="middle">-75</text><text x="118.2" y="629.7" text-anchor="middle">-50</text><text x="155.8" y="629.7" text-anchor="middle">-25</text><text x="193.2" y="629.7" text-anchor="middle">0</text><text x="230.8" y="629.7" text-anchor="middle">25</text><text x="268.2" y="629.7" text-anchor="middle">50</text><text x="305.8" y="629.7" text-anchor="middle">75</text><text x="343.2" y="629.7" text-anchor="middle">100</text><text x="380.8" y="629.7" text-anchor="middle">125</text><text x="418.2" y="629.7" text-anchor="middle">150</text><text x="455.8" y="629.7" text-anchor="middle">175</text><text x="493.2" y="629.7" text-anchor="middle">200</text>
</g>
<g font-family="'Liberation Sans', Arial, sans-serif" font-size="19.3" fill="#000">
<text x="67" y="34.1">a) MW "Off"</text>
<text x="66.5" y="338.3" xml:space="preserve">b)  MW "On"</text>
<text x="403.6" y="34.4">26.483 ms</text>
<text x="403.6" y="332.2">23.862 ms</text>
<text x="287" y="661.3" text-anchor="middle">Position (µm)</text>
<text transform="translate(14.2 157.2) rotate(-90)" text-anchor="middle">Temperature [K]</text>
<text transform="translate(14.2 456.1) rotate(-90)" text-anchor="middle">Temperature [K]</text>
</g>
</svg>
</body></html>
